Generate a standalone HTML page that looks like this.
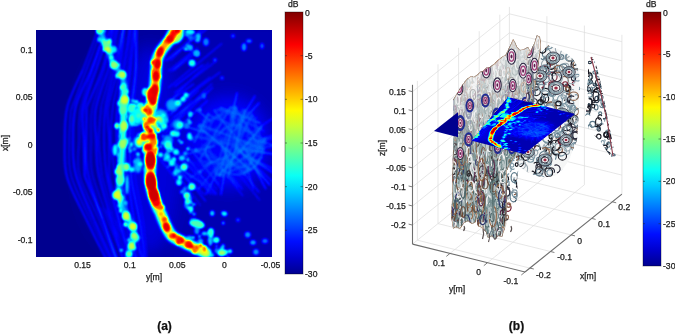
<!DOCTYPE html>
<html><head><meta charset="utf-8"><title>Figure</title>
<style>html,body{margin:0;padding:0;background:#fff;}body{width:675px;height:334px;overflow:hidden;}svg{display:block;}</style>
</head><body>
<svg width="675" height="334" viewBox="0 0 675 334">
<defs>
<filter id="jet" x="0" y="0" width="1" height="1" color-interpolation-filters="sRGB"><feComponentTransfer><feFuncR type="table" tableValues="0.000 0.000 0.000 0.000 0.000 0.000 0.000 0.000 0.000 0.000 0.000 0.000 0.000 0.000 0.000 0.000 0.000 0.000 0.000 0.000 0.000 0.000 0.000 0.000 0.062 0.125 0.188 0.250 0.312 0.375 0.438 0.500 0.562 0.625 0.688 0.750 0.812 0.875 0.938 1.000 1.000 1.000 1.000 1.000 1.000 1.000 1.000 1.000 1.000 1.000 1.000 1.000 1.000 1.000 1.000 1.000 0.938 0.875 0.812 0.750 0.688 0.625 0.562 0.500"/><feFuncG type="table" tableValues="0.000 0.000 0.000 0.000 0.000 0.000 0.000 0.000 0.062 0.125 0.188 0.250 0.312 0.375 0.438 0.500 0.562 0.625 0.688 0.750 0.812 0.875 0.938 1.000 1.000 1.000 1.000 1.000 1.000 1.000 1.000 1.000 1.000 1.000 1.000 1.000 1.000 1.000 1.000 1.000 0.938 0.875 0.812 0.750 0.688 0.625 0.562 0.500 0.438 0.375 0.312 0.250 0.188 0.125 0.062 0.000 0.000 0.000 0.000 0.000 0.000 0.000 0.000 0.000"/><feFuncB type="table" tableValues="0.562 0.625 0.688 0.750 0.812 0.875 0.938 1.000 1.000 1.000 1.000 1.000 1.000 1.000 1.000 1.000 1.000 1.000 1.000 1.000 1.000 1.000 1.000 1.000 0.938 0.875 0.812 0.750 0.688 0.625 0.562 0.500 0.438 0.375 0.312 0.250 0.188 0.125 0.062 0.000 0.000 0.000 0.000 0.000 0.000 0.000 0.000 0.000 0.000 0.000 0.000 0.000 0.000 0.000 0.000 0.000 0.000 0.000 0.000 0.000 0.000 0.000 0.000 0.000"/></feComponentTransfer></filter>
<filter id="b06" x="-50%" y="-50%" width="200%" height="200%" color-interpolation-filters="sRGB"><feGaussianBlur stdDeviation="0.6"/></filter>
<filter id="b07" x="-50%" y="-50%" width="200%" height="200%" color-interpolation-filters="sRGB"><feGaussianBlur stdDeviation="0.75"/></filter>
<filter id="b10" x="-50%" y="-50%" width="200%" height="200%" color-interpolation-filters="sRGB"><feGaussianBlur stdDeviation="1.0"/></filter>
<filter id="b12" x="-50%" y="-50%" width="200%" height="200%" color-interpolation-filters="sRGB"><feGaussianBlur stdDeviation="1.2"/></filter>
<filter id="b15" x="-50%" y="-50%" width="200%" height="200%" color-interpolation-filters="sRGB"><feGaussianBlur stdDeviation="1.5"/></filter>
<filter id="b3" x="-50%" y="-50%" width="200%" height="200%" color-interpolation-filters="sRGB"><feGaussianBlur stdDeviation="1.8"/></filter>
<filter id="b8" x="-50%" y="-50%" width="200%" height="200%" color-interpolation-filters="sRGB"><feGaussianBlur stdDeviation="8"/></filter>
<linearGradient id="cb" x1="0" y1="0" x2="0" y2="1"><stop offset="0.0000" stop-color="#800000"/>
<stop offset="0.0625" stop-color="#be0000"/>
<stop offset="0.1250" stop-color="#fd0000"/>
<stop offset="0.1875" stop-color="#ff3d00"/>
<stop offset="0.2500" stop-color="#ff7c00"/>
<stop offset="0.3125" stop-color="#ffba00"/>
<stop offset="0.3750" stop-color="#fff900"/>
<stop offset="0.4375" stop-color="#c6ff39"/>
<stop offset="0.5000" stop-color="#87ff78"/>
<stop offset="0.5625" stop-color="#49ffb6"/>
<stop offset="0.6250" stop-color="#0afff5"/>
<stop offset="0.6875" stop-color="#00caff"/>
<stop offset="0.7500" stop-color="#008bff"/>
<stop offset="0.8125" stop-color="#004dff"/>
<stop offset="0.8750" stop-color="#000eff"/>
<stop offset="0.9375" stop-color="#0000ce"/>
<stop offset="1.0000" stop-color="#00008f"/></linearGradient>
<clipPath id="hclip"><rect x="36" y="30" width="236" height="227"/></clipPath>
</defs>
<rect width="675" height="334" fill="#fff"/>
<g clip-path="url(#hclip)"><g filter="url(#jet)">
<g id="heat">
<rect x="20" y="14" width="270" height="260" fill="rgb(0,0,0)"/>
<g style="mix-blend-mode:lighten" filter="url(#b8)">
<path style="mix-blend-mode:lighten" d="M274.0 146.0 L273.6 123.8 L272.3 108.4 L270.2 94.9 L267.3 82.9 L263.5 72.1 L259.0 62.3 L253.6 53.5 L247.4 45.7 L240.4 39.0 L232.7 33.2 L224.1 28.5 L214.5 24.8 L203.9 22.1 L191.6 20.5 L174.0 20.0 L156.4 20.5 L144.1 22.1 L133.5 24.8 L123.9 28.5 L115.3 33.2 L107.6 39.0 L100.6 45.7 L94.4 53.5 L89.0 62.3 L84.5 72.1 L80.7 82.9 L77.8 94.9 L75.7 108.4 L74.4 123.8 L74.0 146.0 L74.4 168.2 L75.7 183.6 L77.8 197.1 L80.7 209.1 L84.5 219.9 L89.0 229.7 L94.4 238.5 L100.6 246.3 L107.6 253.0 L115.3 258.8 L123.9 263.5 L133.5 267.2 L144.1 269.9 L156.4 271.5 L174.0 272.0 L191.6 271.5 L203.9 269.9 L214.5 267.2 L224.1 263.5 L232.7 258.8 L240.4 253.0 L247.4 246.3 L253.6 238.5 L259.0 229.7 L263.5 219.9 L267.3 209.1 L270.2 197.1 L272.3 183.6 L273.6 168.2 L274.0 146.0 Z" fill="rgb(4,4,4)"/>
<rect x="170" y="20" width="120" height="250" fill="rgb(9,9,9)"/>
<ellipse style="mix-blend-mode:lighten" cx="150" cy="150" rx="30" ry="105" fill="rgb(19,19,19)"/>
<ellipse style="mix-blend-mode:lighten" cx="228" cy="142" rx="42" ry="46" fill="rgb(28,28,28)"/>
</g>
<g style="mix-blend-mode:lighten" fill="none" filter="url(#b10)">
<path style="mix-blend-mode:lighten" d="M99.5 26.0 C96.8 33.3 85.6 62.4 82.8 69.7" stroke="rgb(44,44,44)" stroke-width="1.25"/>
<path style="mix-blend-mode:lighten" d="M82.8 69.7 C80.3 75.7 70.6 94.1 67.6 105.8 C64.6 117.6 64.9 128.0 64.8 140.0 C64.8 152.0 63.5 164.1 67.2 177.5 C70.9 191.0 80.2 206.6 86.9 220.7 C93.7 234.8 104.1 255.1 107.5 262.0" stroke="rgb(55,55,55)" stroke-width="1.25"/>
<path style="mix-blend-mode:lighten" d="M103.0 26.0 C100.3 33.2 91.8 55.4 86.5 69.5 C81.1 83.6 73.4 103.9 70.8 110.7" stroke="rgb(41,41,41)" stroke-width="1.25"/>
<path style="mix-blend-mode:lighten" d="M70.8 110.7 C70.6 115.6 69.2 129.0 69.3 140.0 C69.4 151.0 67.7 162.9 71.4 176.5 C75.0 190.1 88.1 213.9 91.5 221.4" stroke="rgb(39,39,39)" stroke-width="1.25"/>
<path style="mix-blend-mode:lighten" d="M91.5 221.4 C94.7 228.1 107.4 255.2 110.5 262.0" stroke="rgb(35,35,35)" stroke-width="1.25"/>
<path style="mix-blend-mode:lighten" d="M106.5 26.0 C104.0 33.2 96.5 55.7 91.4 69.1 C86.3 82.5 78.9 94.5 75.8 106.3 C72.8 118.1 73.0 128.6 73.0 140.0 C73.0 151.4 72.3 161.6 75.9 175.0 C79.5 188.4 91.3 212.9 94.4 220.4" stroke="rgb(56,56,56)" stroke-width="1.25"/>
<path style="mix-blend-mode:lighten" d="M94.4 220.4 C97.5 227.4 109.9 255.1 113.0 262.0" stroke="rgb(55,55,55)" stroke-width="1.25"/>
<path style="mix-blend-mode:lighten" d="M108.5 26.0 C105.9 33.2 95.5 61.9 92.9 69.1" stroke="rgb(36,36,36)" stroke-width="1.25"/>
<path style="mix-blend-mode:lighten" d="M92.9 69.1 C90.9 75.7 83.1 96.8 80.9 108.6 C78.6 120.4 79.4 128.9 79.2 140.0 C78.9 151.1 76.0 162.0 79.4 175.4 C82.7 188.8 93.2 206.0 99.3 220.4 C105.4 234.9 113.2 255.1 116.0 262.0" stroke="rgb(36,36,36)" stroke-width="1.25"/>
<path style="mix-blend-mode:lighten" d="M111.7 26.0 C109.1 33.2 101.0 55.2 96.3 69.1 C91.6 83.0 85.4 97.5 83.3 109.3 C81.2 121.1 83.8 134.9 83.9 140.0" stroke="rgb(55,55,55)" stroke-width="1.25"/>
<path style="mix-blend-mode:lighten" d="M83.9 140.0 C84.0 146.0 84.6 170.0 84.7 176.0" stroke="rgb(59,59,59)" stroke-width="1.25"/>
<path style="mix-blend-mode:lighten" d="M84.7 176.0 C87.7 183.2 99.4 212.1 102.3 219.3" stroke="rgb(56,56,56)" stroke-width="1.25"/>
<path style="mix-blend-mode:lighten" d="M102.3 219.3 C104.7 226.4 114.3 254.9 116.7 262.0" stroke="rgb(49,49,49)" stroke-width="1.25"/>
<path style="mix-blend-mode:lighten" d="M113.3 26.0 C111.5 33.3 106.7 56.0 102.3 69.5 C97.8 83.1 89.2 101.0 86.5 107.3" stroke="rgb(49,49,49)" stroke-width="1.25"/>
<path style="mix-blend-mode:lighten" d="M86.5 107.3 C86.5 112.7 86.4 134.5 86.3 140.0" stroke="rgb(52,52,52)" stroke-width="1.25"/>
<path style="mix-blend-mode:lighten" d="M86.3 140.0 C86.6 145.5 85.1 159.8 88.0 173.3 C90.9 186.8 101.1 213.1 103.7 221.1" stroke="rgb(50,50,50)" stroke-width="1.25"/>
<path style="mix-blend-mode:lighten" d="M103.7 221.1 C106.1 227.9 115.8 255.2 118.2 262.0" stroke="rgb(54,54,54)" stroke-width="1.25"/>
<path style="mix-blend-mode:lighten" d="M114.6 26.0 C112.8 33.4 108.0 56.8 104.2 70.7 C100.5 84.5 94.3 97.7 92.1 109.3 C89.9 120.9 91.3 134.9 91.1 140.0" stroke="rgb(34,34,34)" stroke-width="1.25"/>
<path style="mix-blend-mode:lighten" d="M91.1 140.0 C91.3 145.6 89.1 160.3 92.1 173.7 C95.1 187.2 106.2 212.9 109.0 220.7" stroke="rgb(36,36,36)" stroke-width="1.25"/>
<path style="mix-blend-mode:lighten" d="M109.0 220.7 C111.4 227.6 121.0 255.1 123.4 262.0" stroke="rgb(35,35,35)" stroke-width="1.25"/>
<path style="mix-blend-mode:lighten" d="M116.9 26.0 C115.5 33.4 109.6 62.8 108.2 70.1" stroke="rgb(50,50,50)" stroke-width="1.25"/>
<path style="mix-blend-mode:lighten" d="M108.2 70.1 C106.1 76.7 97.6 98.0 95.6 109.7 C93.6 121.3 95.6 129.4 96.1 140.0 C96.6 150.6 95.8 159.7 98.4 173.2 C101.0 186.7 107.6 206.4 111.9 221.2 C116.1 236.0 121.9 255.2 123.9 262.0" stroke="rgb(51,51,51)" stroke-width="1.25"/>
<path style="mix-blend-mode:lighten" d="M119.0 26.0 C117.8 33.3 112.7 62.3 111.5 69.6" stroke="rgb(35,35,35)" stroke-width="1.25"/>
<path style="mix-blend-mode:lighten" d="M111.5 69.6 C109.8 75.6 103.1 99.4 101.4 105.4" stroke="rgb(39,39,39)" stroke-width="1.25"/>
<path style="mix-blend-mode:lighten" d="M101.4 105.4 C101.0 111.2 98.8 128.3 98.8 140.0 C98.9 151.7 101.5 169.9 102.0 175.9" stroke="rgb(42,42,42)" stroke-width="1.25"/>
<path style="mix-blend-mode:lighten" d="M102.0 175.9 C104.1 183.4 110.8 207.0 114.9 221.3 C119.0 235.7 124.6 255.2 126.5 262.0" stroke="rgb(38,38,38)" stroke-width="1.25"/>
<path style="mix-blend-mode:lighten" d="M123.0 26.0 C121.6 33.3 115.9 62.4 114.5 69.7" stroke="rgb(57,57,57)" stroke-width="1.25"/>
<path style="mix-blend-mode:lighten" d="M114.5 69.7 C113.0 75.8 107.4 94.7 105.6 106.4 C103.9 118.1 103.9 128.4 104.1 140.0 C104.3 151.6 104.6 163.1 106.8 176.2 C109.1 189.4 113.9 204.5 117.7 218.8 C121.5 233.1 127.9 254.8 129.9 262.0" stroke="rgb(50,50,50)" stroke-width="1.25"/>
<path style="mix-blend-mode:lighten" d="M123.8 26.0 C122.8 33.4 119.1 62.8 118.1 70.2" stroke="rgb(56,56,56)" stroke-width="1.25"/>
<path style="mix-blend-mode:lighten" d="M118.1 70.2 C116.5 76.4 109.7 95.8 108.2 107.5 C106.6 119.1 108.8 128.4 109.0 140.0 C109.1 151.6 109.2 171.0 109.2 177.2" stroke="rgb(45,45,45)" stroke-width="1.25"/>
<path style="mix-blend-mode:lighten" d="M109.2 177.2 C111.1 184.6 118.4 214.0 120.2 221.4" stroke="rgb(44,44,44)" stroke-width="1.25"/>
<path style="mix-blend-mode:lighten" d="M120.2 221.4 C122.3 228.1 130.7 255.2 132.8 262.0" stroke="rgb(47,47,47)" stroke-width="1.25"/>
<path style="mix-blend-mode:lighten" d="M125.0 26.0 C124.3 33.4 122.7 56.8 120.7 70.1 C118.7 83.4 114.7 94.2 113.0 105.8 C111.4 117.5 110.4 128.4 110.8 140.0 C111.1 151.6 114.4 169.7 115.1 175.6" stroke="rgb(41,41,41)" stroke-width="1.25"/>
<path style="mix-blend-mode:lighten" d="M115.1 175.6 C116.7 183.0 123.3 212.6 124.9 219.9" stroke="rgb(33,33,33)" stroke-width="1.25"/>
<path style="mix-blend-mode:lighten" d="M124.9 219.9 C126.6 226.9 133.5 255.0 135.3 262.0" stroke="rgb(38,38,38)" stroke-width="1.25"/>
<path style="mix-blend-mode:lighten" d="M129.9 26.0 C128.9 33.3 125.9 55.6 123.8 69.7 C121.7 83.8 118.3 98.9 117.2 110.7 C116.0 122.4 116.6 129.6 117.0 140.0 C117.3 150.4 117.4 159.9 119.4 173.2 C121.4 186.5 126.1 205.1 129.0 219.9 C131.9 234.6 135.6 255.0 136.9 262.0" stroke="rgb(55,55,55)" stroke-width="1.25"/>
<path style="mix-blend-mode:lighten" d="M131.9 26.0 C131.2 33.2 129.2 54.9 127.5 68.9 C125.9 82.9 122.8 103.3 121.9 110.2" stroke="rgb(37,37,37)" stroke-width="1.25"/>
<path style="mix-blend-mode:lighten" d="M121.9 110.2 C121.8 115.2 121.7 135.0 121.7 140.0" stroke="rgb(37,37,37)" stroke-width="1.25"/>
<path style="mix-blend-mode:lighten" d="M121.7 140.0 C121.7 145.9 119.9 162.0 121.5 175.3 C123.0 188.5 127.6 205.1 130.9 219.5 C134.1 234.0 139.4 254.9 141.1 262.0" stroke="rgb(37,37,37)" stroke-width="1.25"/>
<path style="mix-blend-mode:lighten" d="M134.6 26.0 C133.8 33.5 131.7 56.8 130.0 70.8 C128.4 84.7 125.6 98.2 124.6 109.7 C123.6 121.3 123.6 129.0 124.1 140.0 C124.6 151.0 126.0 162.5 127.6 175.6 C129.3 188.7 131.2 204.4 133.8 218.8 C136.4 233.2 141.6 254.8 143.2 262.0" stroke="rgb(54,54,54)" stroke-width="1.25"/>
<path style="mix-blend-mode:lighten" d="M135.1 26.0 C135.1 33.4 136.2 56.9 135.4 70.1 C134.7 83.4 131.6 99.8 130.8 105.7" stroke="rgb(54,54,54)" stroke-width="1.25"/>
<path style="mix-blend-mode:lighten" d="M130.8 105.7 C130.6 111.4 129.5 127.9 129.6 140.0 C129.7 152.1 129.7 164.7 131.3 178.1 C133.0 191.5 137.3 206.2 139.6 220.2 C141.8 234.1 144.2 255.0 145.1 262.0" stroke="rgb(56,56,56)" stroke-width="1.25"/>
<path style="mix-blend-mode:lighten" d="M137.2 26.0 C137.1 33.4 136.6 63.0 136.5 70.3" stroke="rgb(41,41,41)" stroke-width="1.25"/>
<path style="mix-blend-mode:lighten" d="M136.5 70.3 C135.9 77.1 133.7 99.2 133.1 110.8 C132.6 122.4 133.1 135.1 133.1 140.0" stroke="rgb(40,40,40)" stroke-width="1.25"/>
<path style="mix-blend-mode:lighten" d="M133.1 140.0 C133.5 146.3 133.7 164.7 135.3 177.9 C136.9 191.1 140.9 204.9 142.9 218.9 C144.8 232.9 146.5 254.8 147.2 262.0" stroke="rgb(36,36,36)" stroke-width="1.25"/>
<line style="mix-blend-mode:lighten" x1="96.0" y1="205.0" x2="118.0" y2="258.0" stroke="rgb(28,28,28)" stroke-width="1"/>
<line style="mix-blend-mode:lighten" x1="101.0" y1="207.0" x2="123.0" y2="258.0" stroke="rgb(28,28,28)" stroke-width="1"/>
<line style="mix-blend-mode:lighten" x1="106.0" y1="209.0" x2="128.0" y2="258.0" stroke="rgb(28,28,28)" stroke-width="1"/>
<line style="mix-blend-mode:lighten" x1="111.0" y1="211.0" x2="133.0" y2="258.0" stroke="rgb(28,28,28)" stroke-width="1"/>
<line style="mix-blend-mode:lighten" x1="116.0" y1="213.0" x2="138.0" y2="258.0" stroke="rgb(28,28,28)" stroke-width="1"/>
<line style="mix-blend-mode:lighten" x1="121.0" y1="215.0" x2="143.0" y2="258.0" stroke="rgb(28,28,28)" stroke-width="1"/>
</g>
<g style="mix-blend-mode:lighten" fill="none" filter="url(#b12)">
<line style="mix-blend-mode:lighten" x1="234.5" y1="106.3" x2="264.0" y2="153.9" stroke="rgb(55,55,55)" stroke-width="1.5"/>
<line style="mix-blend-mode:lighten" x1="194.5" y1="136.2" x2="264.5" y2="152.4" stroke="rgb(48,48,48)" stroke-width="1.5"/>
<line style="mix-blend-mode:lighten" x1="194.5" y1="136.0" x2="265.3" y2="149.0" stroke="rgb(39,39,39)" stroke-width="1.5"/>
<line style="mix-blend-mode:lighten" x1="252.6" y1="113.9" x2="262.0" y2="158.5" stroke="rgb(41,41,41)" stroke-width="1.5"/>
<line style="mix-blend-mode:lighten" x1="202.6" y1="118.7" x2="216.3" y2="175.3" stroke="rgb(41,41,41)" stroke-width="1.5"/>
<line style="mix-blend-mode:lighten" x1="197.9" y1="125.7" x2="251.4" y2="170.9" stroke="rgb(62,62,62)" stroke-width="1.5"/>
<line style="mix-blend-mode:lighten" x1="245.0" y1="109.3" x2="228.0" y2="177.9" stroke="rgb(63,63,63)" stroke-width="1.5"/>
<line style="mix-blend-mode:lighten" x1="199.4" y1="161.0" x2="253.8" y2="169.0" stroke="rgb(46,46,46)" stroke-width="1.5"/>
<line style="mix-blend-mode:lighten" x1="217.4" y1="108.3" x2="264.3" y2="131.2" stroke="rgb(46,46,46)" stroke-width="1.5"/>
<line style="mix-blend-mode:lighten" x1="266.0" y1="143.2" x2="216.6" y2="175.4" stroke="rgb(53,53,53)" stroke-width="1.5"/>
<line style="mix-blend-mode:lighten" x1="252.3" y1="113.7" x2="222.7" y2="177.2" stroke="rgb(52,52,52)" stroke-width="1.5"/>
<line style="mix-blend-mode:lighten" x1="214.1" y1="109.7" x2="257.1" y2="118.3" stroke="rgb(44,44,44)" stroke-width="1.5"/>
<line style="mix-blend-mode:lighten" x1="253.1" y1="114.4" x2="214.8" y2="174.6" stroke="rgb(46,46,46)" stroke-width="1.5"/>
<line style="mix-blend-mode:lighten" x1="242.5" y1="108.2" x2="223.4" y2="177.4" stroke="rgb(46,46,46)" stroke-width="1.5"/>
<line style="mix-blend-mode:lighten" x1="249.1" y1="111.5" x2="195.4" y2="151.9" stroke="rgb(44,44,44)" stroke-width="1.5"/>
<line style="mix-blend-mode:lighten" x1="236.7" y1="106.6" x2="220.1" y2="176.6" stroke="rgb(61,61,61)" stroke-width="1.5"/>
<line style="mix-blend-mode:lighten" x1="262.3" y1="126.1" x2="218.4" y2="176.1" stroke="rgb(63,63,63)" stroke-width="1.5"/>
<line style="mix-blend-mode:lighten" x1="198.7" y1="124.1" x2="265.1" y2="150.0" stroke="rgb(58,58,58)" stroke-width="1.5"/>
<line style="mix-blend-mode:lighten" x1="198.4" y1="124.8" x2="262.3" y2="157.9" stroke="rgb(39,39,39)" stroke-width="1.5"/>
<line style="mix-blend-mode:lighten" x1="231.2" y1="106.0" x2="199.2" y2="160.7" stroke="rgb(53,53,53)" stroke-width="1.5"/>
<line style="mix-blend-mode:lighten" x1="266.0" y1="140.2" x2="203.2" y2="166.1" stroke="rgb(56,56,56)" stroke-width="1.5"/>
<line style="mix-blend-mode:lighten" x1="235.5" y1="106.4" x2="214.6" y2="174.6" stroke="rgb(50,50,50)" stroke-width="1.5"/>
<line style="mix-blend-mode:lighten" x1="235.0" y1="106.4" x2="197.2" y2="127.1" stroke="rgb(50,50,50)" stroke-width="1.5"/>
<line style="mix-blend-mode:lighten" x1="265.6" y1="136.9" x2="243.9" y2="175.2" stroke="rgb(56,56,56)" stroke-width="1.5"/>
<line style="mix-blend-mode:lighten" x1="208.8" y1="112.9" x2="194.0" y2="142.6" stroke="rgb(59,59,59)" stroke-width="1.5"/>
<line style="mix-blend-mode:lighten" x1="213.7" y1="109.9" x2="257.8" y2="164.8" stroke="rgb(55,55,55)" stroke-width="1.5"/>
<line style="mix-blend-mode:lighten" x1="194.4" y1="137.0" x2="266.0" y2="142.1" stroke="rgb(43,43,43)" stroke-width="1.5"/>
<line style="mix-blend-mode:lighten" x1="219.9" y1="107.5" x2="260.7" y2="123.2" stroke="rgb(58,58,58)" stroke-width="1.5"/>
<line style="mix-blend-mode:lighten" x1="207.0" y1="114.3" x2="265.9" y2="139.7" stroke="rgb(48,48,48)" stroke-width="1.5"/>
<line style="mix-blend-mode:lighten" x1="262.4" y1="157.7" x2="219.0" y2="176.3" stroke="rgb(50,50,50)" stroke-width="1.5"/>
<path style="mix-blend-mode:lighten" d="M254.3 122.6 A21.0 21.0 0 0 1 246.1 156.4" stroke="rgb(49,49,49)" stroke-width="1.3"/>
<path style="mix-blend-mode:lighten" d="M234.4 122.8 A17.2 17.2 0 0 1 224.3 151.2" stroke="rgb(44,44,44)" stroke-width="1.3"/>
<path style="mix-blend-mode:lighten" d="M209.7 131.5 A14.7 14.7 0 0 1 223.7 115.4" stroke="rgb(49,49,49)" stroke-width="1.3"/>
<path style="mix-blend-mode:lighten" d="M218.7 135.3 A17.4 17.4 0 0 1 249.0 132.7" stroke="rgb(54,54,54)" stroke-width="1.3"/>
<path style="mix-blend-mode:lighten" d="M258.9 158.8 A23.5 23.5 0 0 1 219.4 166.9" stroke="rgb(59,59,59)" stroke-width="1.3"/>
<path style="mix-blend-mode:lighten" d="M218.9 142.1 A17.8 17.8 0 0 1 216.2 126.0" stroke="rgb(40,40,40)" stroke-width="1.3"/>
<path style="mix-blend-mode:lighten" d="M226.7 142.1 A14.2 14.2 0 0 1 209.9 140.6" stroke="rgb(42,42,42)" stroke-width="1.3"/>
<path style="mix-blend-mode:lighten" d="M231.1 153.8 A12.0 12.0 0 0 1 227.0 145.0" stroke="rgb(42,42,42)" stroke-width="1.3"/>
<path style="mix-blend-mode:lighten" d="M212.3 162.7 A15.0 15.0 0 0 1 206.8 145.2" stroke="rgb(64,64,64)" stroke-width="1.3"/>
<path style="mix-blend-mode:lighten" d="M201.2 140.2 A19.3 19.3 0 0 1 207.3 124.1" stroke="rgb(45,45,45)" stroke-width="1.3"/>
<path style="mix-blend-mode:lighten" d="M254.9 165.2 A26.6 26.6 0 0 1 233.6 168.3" stroke="rgb(42,42,42)" stroke-width="1.3"/>
<path style="mix-blend-mode:lighten" d="M262.0 154.2 A20.9 20.9 0 0 1 238.6 171.4" stroke="rgb(56,56,56)" stroke-width="1.3"/>
<path style="mix-blend-mode:lighten" d="M226.3 154.1 A15.2 15.2 0 0 1 221.6 139.8" stroke="rgb(58,58,58)" stroke-width="1.3"/>
<path style="mix-blend-mode:lighten" d="M244.4 166.8 A16.6 16.6 0 0 1 225.4 147.2" stroke="rgb(59,59,59)" stroke-width="1.3"/>
<path style="mix-blend-mode:lighten" d="M228.7 112.2 A26.4 26.4 0 0 1 253.3 125.5" stroke="rgb(39,39,39)" stroke-width="1.3"/>
<path style="mix-blend-mode:lighten" d="M232.7 163.3 A10.6 10.6 0 0 1 224.3 155.3" stroke="rgb(50,50,50)" stroke-width="1.3"/>
<path style="mix-blend-mode:lighten" d="M255.4 133.1 A28.7 28.7 0 0 1 213.2 160.6" stroke="rgb(44,44,44)" stroke-width="1.3"/>
<path style="mix-blend-mode:lighten" d="M243.5 163.5 A13.9 13.9 0 0 1 225.9 152.7" stroke="rgb(50,50,50)" stroke-width="1.3"/>
<line style="mix-blend-mode:lighten" x1="246.2" y1="145.2" x2="293.1" y2="128.0" stroke="rgb(49,49,49)" stroke-width="1.3"/>
<line style="mix-blend-mode:lighten" x1="245.8" y1="136.3" x2="281.6" y2="112.5" stroke="rgb(46,46,46)" stroke-width="1.3"/>
<line style="mix-blend-mode:lighten" x1="238.0" y1="144.4" x2="282.4" y2="137.2" stroke="rgb(48,48,48)" stroke-width="1.3"/>
<line style="mix-blend-mode:lighten" x1="239.0" y1="149.2" x2="286.5" y2="155.9" stroke="rgb(63,63,63)" stroke-width="1.3"/>
<line style="mix-blend-mode:lighten" x1="247.6" y1="137.7" x2="293.8" y2="150.6" stroke="rgb(60,60,60)" stroke-width="1.3"/>
<line style="mix-blend-mode:lighten" x1="237.0" y1="151.4" x2="280.3" y2="172.2" stroke="rgb(55,55,55)" stroke-width="1.3"/>
<line style="mix-blend-mode:lighten" x1="235.5" y1="149.0" x2="279.5" y2="176.8" stroke="rgb(61,61,61)" stroke-width="1.3"/>
<line style="mix-blend-mode:lighten" x1="236.8" y1="146.7" x2="270.1" y2="185.2" stroke="rgb(63,63,63)" stroke-width="1.3"/>
<line style="mix-blend-mode:lighten" x1="244.5" y1="148.6" x2="266.0" y2="189.3" stroke="rgb(60,60,60)" stroke-width="1.3"/>
<line style="mix-blend-mode:lighten" x1="241.4" y1="149.6" x2="253.6" y2="189.8" stroke="rgb(51,51,51)" stroke-width="1.3"/>
<line style="mix-blend-mode:lighten" x1="214.9" y1="145.6" x2="188.2" y2="154.0" stroke="rgb(63,63,63)" stroke-width="1.3"/>
<line style="mix-blend-mode:lighten" x1="219.5" y1="158.0" x2="188.9" y2="178.8" stroke="rgb(48,48,48)" stroke-width="1.3"/>
<line style="mix-blend-mode:lighten" x1="227.1" y1="154.7" x2="197.7" y2="190.2" stroke="rgb(51,51,51)" stroke-width="1.3"/>
<line style="mix-blend-mode:lighten" x1="226.6" y1="153.2" x2="206.1" y2="194.4" stroke="rgb(56,56,56)" stroke-width="1.3"/>
<line style="mix-blend-mode:lighten" x1="227.5" y1="155.8" x2="220.8" y2="195.2" stroke="rgb(57,57,57)" stroke-width="1.3"/>
<line style="mix-blend-mode:lighten" x1="208.0" y1="133.3" x2="184.2" y2="125.8" stroke="rgb(62,62,62)" stroke-width="1.3"/>
<line style="mix-blend-mode:lighten" x1="210.9" y1="121.4" x2="195.5" y2="108.7" stroke="rgb(59,59,59)" stroke-width="1.3"/>
<line style="mix-blend-mode:lighten" x1="237.2" y1="125.5" x2="255.2" y2="95.5" stroke="rgb(56,56,56)" stroke-width="1.3"/>
<line style="mix-blend-mode:lighten" x1="230.7" y1="119.7" x2="237.3" y2="92.4" stroke="rgb(63,63,63)" stroke-width="1.3"/>
<line style="mix-blend-mode:lighten" x1="231.8" y1="132.7" x2="259.5" y2="102.5" stroke="rgb(57,57,57)" stroke-width="1.3"/>
<line style="mix-blend-mode:lighten" x1="243.7" y1="148.6" x2="283.6" y2="145.5" stroke="rgb(55,55,55)" stroke-width="1.3"/>
<line style="mix-blend-mode:lighten" x1="232.5" y1="144.8" x2="276.6" y2="185.4" stroke="rgb(46,46,46)" stroke-width="1.3"/>
<line style="mix-blend-mode:lighten" x1="171.3" y1="106.9" x2="210.2" y2="76.9" stroke="rgb(38,38,38)" stroke-width="1.2"/>
<line style="mix-blend-mode:lighten" x1="172.7" y1="97.5" x2="208.9" y2="62.6" stroke="rgb(38,38,38)" stroke-width="1.2"/>
<line style="mix-blend-mode:lighten" x1="167.5" y1="103.1" x2="194.0" y2="83.8" stroke="rgb(49,49,49)" stroke-width="1.2"/>
<line style="mix-blend-mode:lighten" x1="165.8" y1="61.3" x2="220.6" y2="17.9" stroke="rgb(48,48,48)" stroke-width="1.2"/>
<line style="mix-blend-mode:lighten" x1="170.4" y1="60.6" x2="201.0" y2="30.2" stroke="rgb(43,43,43)" stroke-width="1.2"/>
<line style="mix-blend-mode:lighten" x1="174.4" y1="86.4" x2="203.3" y2="64.5" stroke="rgb(50,50,50)" stroke-width="1.2"/>
<line style="mix-blend-mode:lighten" x1="174.1" y1="92.9" x2="215.6" y2="61.4" stroke="rgb(40,40,40)" stroke-width="1.2"/>
<line style="mix-blend-mode:lighten" x1="165.2" y1="60.9" x2="214.1" y2="18.6" stroke="rgb(38,38,38)" stroke-width="1.2"/>
<line style="mix-blend-mode:lighten" x1="165.5" y1="132.6" x2="213.0" y2="87.1" stroke="rgb(49,49,49)" stroke-width="1.2"/>
<line style="mix-blend-mode:lighten" x1="170.0" y1="114.2" x2="195.2" y2="90.1" stroke="rgb(43,43,43)" stroke-width="1.2"/>
<line style="mix-blend-mode:lighten" x1="165.4" y1="129.1" x2="212.3" y2="83.4" stroke="rgb(42,42,42)" stroke-width="1.2"/>
<line style="mix-blend-mode:lighten" x1="168.4" y1="87.7" x2="222.2" y2="43.2" stroke="rgb(41,41,41)" stroke-width="1.2"/>
<line style="mix-blend-mode:lighten" x1="164.1" y1="113.3" x2="220.3" y2="72.1" stroke="rgb(43,43,43)" stroke-width="1.2"/>
<line style="mix-blend-mode:lighten" x1="169.6" y1="115.6" x2="199.0" y2="90.1" stroke="rgb(46,46,46)" stroke-width="1.2"/>
<line style="mix-blend-mode:lighten" x1="170.5" y1="71.9" x2="198.0" y2="47.5" stroke="rgb(40,40,40)" stroke-width="1.2"/>
<line style="mix-blend-mode:lighten" x1="167.2" y1="104.0" x2="196.9" y2="74.0" stroke="rgb(35,35,35)" stroke-width="1.2"/>
<line style="mix-blend-mode:lighten" x1="172.8" y1="117.8" x2="208.9" y2="91.0" stroke="rgb(47,47,47)" stroke-width="1.2"/>
<line style="mix-blend-mode:lighten" x1="173.8" y1="131.8" x2="207.8" y2="100.4" stroke="rgb(53,53,53)" stroke-width="1.2"/>
<line style="mix-blend-mode:lighten" x1="170.1" y1="126.0" x2="204.8" y2="90.5" stroke="rgb(41,41,41)" stroke-width="1.2"/>
<line style="mix-blend-mode:lighten" x1="173.5" y1="70.5" x2="199.2" y2="50.1" stroke="rgb(50,50,50)" stroke-width="1.2"/>
<line style="mix-blend-mode:lighten" x1="168.8" y1="122.4" x2="192.0" y2="100.3" stroke="rgb(38,38,38)" stroke-width="1.2"/>
<line style="mix-blend-mode:lighten" x1="168.0" y1="71.1" x2="193.5" y2="50.6" stroke="rgb(40,40,40)" stroke-width="1.2"/>
<line style="mix-blend-mode:lighten" x1="192.0" y1="149.6" x2="233.3" y2="163.9" stroke="rgb(48,48,48)" stroke-width="1.1"/>
<line style="mix-blend-mode:lighten" x1="180.0" y1="169.3" x2="201.4" y2="183.7" stroke="rgb(45,45,45)" stroke-width="1.1"/>
<line style="mix-blend-mode:lighten" x1="187.0" y1="159.9" x2="220.5" y2="171.9" stroke="rgb(38,38,38)" stroke-width="1.1"/>
<line style="mix-blend-mode:lighten" x1="171.3" y1="161.8" x2="208.2" y2="186.3" stroke="rgb(48,48,48)" stroke-width="1.1"/>
<line style="mix-blend-mode:lighten" x1="176.6" y1="172.5" x2="200.7" y2="205.8" stroke="rgb(37,37,37)" stroke-width="1.1"/>
<line style="mix-blend-mode:lighten" x1="180.1" y1="159.6" x2="217.3" y2="189.5" stroke="rgb(35,35,35)" stroke-width="1.1"/>
<line style="mix-blend-mode:lighten" x1="175.3" y1="171.9" x2="192.1" y2="195.0" stroke="rgb(35,35,35)" stroke-width="1.1"/>
<line style="mix-blend-mode:lighten" x1="174.6" y1="151.8" x2="205.8" y2="172.4" stroke="rgb(36,36,36)" stroke-width="1.1"/>
<line style="mix-blend-mode:lighten" x1="175.3" y1="169.9" x2="205.0" y2="194.8" stroke="rgb(47,47,47)" stroke-width="1.1"/>
<line style="mix-blend-mode:lighten" x1="187.4" y1="148.1" x2="210.4" y2="158.4" stroke="rgb(45,45,45)" stroke-width="1.1"/>
<line style="mix-blend-mode:lighten" x1="179.2" y1="166.1" x2="200.2" y2="189.3" stroke="rgb(34,34,34)" stroke-width="1.1"/>
<line style="mix-blend-mode:lighten" x1="173.2" y1="161.2" x2="209.9" y2="191.4" stroke="rgb(42,42,42)" stroke-width="1.1"/>
</g>
<g style="mix-blend-mode:lighten" filter="url(#b12)">
<ellipse style="mix-blend-mode:lighten" cx="206.0" cy="42.0" rx="3.0" ry="4.0" fill="rgb(61,61,61)"/>
<ellipse style="mix-blend-mode:lighten" cx="197.0" cy="54.0" rx="3.0" ry="3.0" fill="rgb(66,66,66)"/>
<ellipse style="mix-blend-mode:lighten" cx="244.0" cy="47.0" rx="2.5" ry="4.0" fill="rgb(64,64,64)"/>
<ellipse style="mix-blend-mode:lighten" cx="249.0" cy="41.0" rx="3.0" ry="2.0" fill="rgb(59,59,59)"/>
<ellipse style="mix-blend-mode:lighten" cx="262.0" cy="46.0" rx="2.0" ry="3.0" fill="rgb(51,51,51)"/>
<ellipse style="mix-blend-mode:lighten" cx="233.0" cy="36.0" rx="2.0" ry="2.0" fill="rgb(51,51,51)"/>
<ellipse style="mix-blend-mode:lighten" cx="247.7" cy="234.7" rx="3.0" ry="3.0" fill="rgb(66,66,66)"/>
<ellipse style="mix-blend-mode:lighten" cx="253.0" cy="242.5" rx="3.0" ry="2.5" fill="rgb(71,71,71)"/>
<ellipse style="mix-blend-mode:lighten" cx="265.0" cy="241.0" rx="3.0" ry="2.5" fill="rgb(59,59,59)"/>
<ellipse style="mix-blend-mode:lighten" cx="256.0" cy="252.0" rx="3.0" ry="3.0" fill="rgb(66,66,66)"/>
<ellipse style="mix-blend-mode:lighten" cx="238.0" cy="220.0" rx="2.0" ry="2.0" fill="rgb(51,51,51)"/>
<ellipse style="mix-blend-mode:lighten" cx="215.0" cy="60.0" rx="2.0" ry="2.0" fill="rgb(51,51,51)"/>
<ellipse style="mix-blend-mode:lighten" cx="222.0" cy="78.0" rx="2.0" ry="2.0" fill="rgb(46,46,46)"/>
<ellipse style="mix-blend-mode:lighten" cx="204.0" cy="96.0" rx="2.0" ry="3.0" fill="rgb(56,56,56)"/>
<ellipse style="mix-blend-mode:lighten" cx="200.0" cy="110.0" rx="2.0" ry="2.0" fill="rgb(61,61,61)"/>
<ellipse style="mix-blend-mode:lighten" cx="196.0" cy="150.0" rx="2.0" ry="2.0" fill="rgb(61,61,61)"/>
<ellipse style="mix-blend-mode:lighten" cx="200.0" cy="172.0" rx="2.0" ry="2.0" fill="rgb(56,56,56)"/>
</g>
<g style="mix-blend-mode:lighten" filter="url(#b15)">
<ellipse style="mix-blend-mode:lighten" cx="137.0" cy="116.0" rx="8.0" ry="9.0" fill="rgb(92,92,92)"/>
<ellipse style="mix-blend-mode:lighten" cx="160.0" cy="118.0" rx="8.0" ry="9.0" fill="rgb(76,76,76)"/>
<ellipse style="mix-blend-mode:lighten" cx="139.0" cy="142.0" rx="5.0" ry="6.0" fill="rgb(102,102,102)"/>
<ellipse style="mix-blend-mode:lighten" cx="172.0" cy="105.0" rx="6.0" ry="6.0" fill="rgb(71,71,71)"/>
<ellipse style="mix-blend-mode:lighten" cx="178.0" cy="125.0" rx="5.0" ry="5.0" fill="rgb(76,76,76)"/>
<ellipse style="mix-blend-mode:lighten" cx="168.0" cy="140.0" rx="5.0" ry="5.0" fill="rgb(71,71,71)"/>
<ellipse style="mix-blend-mode:lighten" cx="138.0" cy="165.0" rx="4.0" ry="8.0" fill="rgb(76,76,76)"/>
</g>
<g style="mix-blend-mode:lighten" filter="url(#b12)">
<ellipse style="mix-blend-mode:lighten" cx="140.5" cy="105.5" rx="3.7" ry="2.9" fill="rgb(109,109,109)"/>
<ellipse style="mix-blend-mode:lighten" cx="133.9" cy="106.2" rx="2.2" ry="1.6" fill="rgb(126,126,126)"/>
<ellipse style="mix-blend-mode:lighten" cx="131.3" cy="105.4" rx="1.9" ry="1.5" fill="rgb(98,98,98)"/>
<ellipse style="mix-blend-mode:lighten" cx="135.9" cy="117.8" rx="1.7" ry="2.0" fill="rgb(88,88,88)"/>
<ellipse style="mix-blend-mode:lighten" cx="132.0" cy="123.1" rx="2.8" ry="3.1" fill="rgb(94,94,94)"/>
<ellipse style="mix-blend-mode:lighten" cx="136.8" cy="111.8" rx="2.3" ry="1.5" fill="rgb(97,97,97)"/>
<ellipse style="mix-blend-mode:lighten" cx="139.6" cy="109.7" rx="1.7" ry="1.1" fill="rgb(103,103,103)"/>
<ellipse style="mix-blend-mode:lighten" cx="132.8" cy="101.0" rx="1.3" ry="1.4" fill="rgb(110,110,110)"/>
<ellipse style="mix-blend-mode:lighten" cx="143.1" cy="110.2" rx="2.4" ry="2.5" fill="rgb(121,121,121)"/>
<ellipse style="mix-blend-mode:lighten" cx="135.6" cy="124.4" rx="2.8" ry="1.8" fill="rgb(76,76,76)"/>
<ellipse style="mix-blend-mode:lighten" cx="130.6" cy="109.7" rx="3.6" ry="3.5" fill="rgb(78,78,78)"/>
<ellipse style="mix-blend-mode:lighten" cx="142.7" cy="121.7" rx="3.2" ry="2.1" fill="rgb(81,81,81)"/>
<ellipse style="mix-blend-mode:lighten" cx="144.3" cy="120.7" rx="2.7" ry="3.5" fill="rgb(79,79,79)"/>
<ellipse style="mix-blend-mode:lighten" cx="147.2" cy="124.8" rx="1.5" ry="2.1" fill="rgb(110,110,110)"/>
<ellipse style="mix-blend-mode:lighten" cx="136.3" cy="101.6" rx="2.3" ry="1.4" fill="rgb(124,124,124)"/>
<ellipse style="mix-blend-mode:lighten" cx="134.5" cy="105.7" rx="2.1" ry="2.1" fill="rgb(89,89,89)"/>
<ellipse style="mix-blend-mode:lighten" cx="131.7" cy="118.3" rx="2.0" ry="3.1" fill="rgb(119,119,119)"/>
<ellipse style="mix-blend-mode:lighten" cx="138.3" cy="115.9" rx="2.3" ry="2.3" fill="rgb(108,108,108)"/>
<ellipse style="mix-blend-mode:lighten" cx="139.9" cy="115.0" rx="2.5" ry="1.7" fill="rgb(109,109,109)"/>
<ellipse style="mix-blend-mode:lighten" cx="146.1" cy="111.2" rx="1.3" ry="1.2" fill="rgb(80,80,80)"/>
<ellipse style="mix-blend-mode:lighten" cx="132.2" cy="109.6" rx="2.0" ry="2.3" fill="rgb(109,109,109)"/>
<ellipse style="mix-blend-mode:lighten" cx="142.4" cy="110.2" rx="2.6" ry="1.9" fill="rgb(102,102,102)"/>
<ellipse style="mix-blend-mode:lighten" cx="163.0" cy="142.8" rx="1.7" ry="1.6" fill="rgb(80,80,80)"/>
<ellipse style="mix-blend-mode:lighten" cx="179.0" cy="140.3" rx="1.3" ry="1.4" fill="rgb(88,88,88)"/>
<ellipse style="mix-blend-mode:lighten" cx="187.9" cy="148.8" rx="1.6" ry="1.5" fill="rgb(106,106,106)"/>
<ellipse style="mix-blend-mode:lighten" cx="181.5" cy="142.5" rx="2.0" ry="1.7" fill="rgb(89,89,89)"/>
<ellipse style="mix-blend-mode:lighten" cx="162.9" cy="143.1" rx="2.6" ry="2.0" fill="rgb(62,62,62)"/>
<ellipse style="mix-blend-mode:lighten" cx="169.3" cy="146.4" rx="2.4" ry="2.0" fill="rgb(80,80,80)"/>
<ellipse style="mix-blend-mode:lighten" cx="188.9" cy="120.4" rx="1.7" ry="1.7" fill="rgb(83,83,83)"/>
<ellipse style="mix-blend-mode:lighten" cx="177.0" cy="134.0" rx="3.0" ry="2.9" fill="rgb(95,95,95)"/>
<ellipse style="mix-blend-mode:lighten" cx="174.0" cy="159.4" rx="2.2" ry="2.4" fill="rgb(98,98,98)"/>
<ellipse style="mix-blend-mode:lighten" cx="171.3" cy="149.2" rx="2.8" ry="2.4" fill="rgb(89,89,89)"/>
<ellipse style="mix-blend-mode:lighten" cx="191.1" cy="138.4" rx="2.4" ry="2.4" fill="rgb(67,67,67)"/>
<ellipse style="mix-blend-mode:lighten" cx="160.5" cy="154.9" rx="2.6" ry="2.4" fill="rgb(98,98,98)"/>
<ellipse style="mix-blend-mode:lighten" cx="190.0" cy="122.7" rx="2.2" ry="1.7" fill="rgb(81,81,81)"/>
<ellipse style="mix-blend-mode:lighten" cx="162.9" cy="136.0" rx="1.2" ry="1.5" fill="rgb(65,65,65)"/>
<ellipse style="mix-blend-mode:lighten" cx="162.0" cy="119.5" rx="1.7" ry="2.2" fill="rgb(81,81,81)"/>
<ellipse style="mix-blend-mode:lighten" cx="166.3" cy="121.4" rx="2.0" ry="1.4" fill="rgb(85,85,85)"/>
<ellipse style="mix-blend-mode:lighten" cx="185.4" cy="153.5" rx="2.5" ry="2.2" fill="rgb(70,70,70)"/>
<ellipse style="mix-blend-mode:lighten" cx="161.2" cy="120.5" rx="2.4" ry="3.2" fill="rgb(115,115,115)"/>
<ellipse style="mix-blend-mode:lighten" cx="189.3" cy="135.5" rx="1.1" ry="1.0" fill="rgb(96,96,96)"/>
<ellipse style="mix-blend-mode:lighten" cx="181.9" cy="158.1" rx="3.2" ry="2.7" fill="rgb(85,85,85)"/>
<ellipse style="mix-blend-mode:lighten" cx="186.5" cy="125.7" rx="3.0" ry="3.2" fill="rgb(60,60,60)"/>
<ellipse style="mix-blend-mode:lighten" cx="164.4" cy="159.5" rx="1.4" ry="1.5" fill="rgb(86,86,86)"/>
<ellipse style="mix-blend-mode:lighten" cx="187.9" cy="159.8" rx="1.4" ry="2.3" fill="rgb(84,84,84)"/>
<ellipse style="mix-blend-mode:lighten" cx="166.5" cy="118.9" rx="1.3" ry="1.1" fill="rgb(90,90,90)"/>
<ellipse style="mix-blend-mode:lighten" cx="189.4" cy="136.2" rx="2.2" ry="3.4" fill="rgb(102,102,102)"/>
<ellipse style="mix-blend-mode:lighten" cx="190.6" cy="113.5" rx="2.2" ry="2.2" fill="rgb(85,85,85)"/>
<ellipse style="mix-blend-mode:lighten" cx="167.3" cy="157.1" rx="3.1" ry="3.5" fill="rgb(90,90,90)"/>
<ellipse style="mix-blend-mode:lighten" cx="160.7" cy="146.7" rx="1.6" ry="1.5" fill="rgb(69,69,69)"/>
<ellipse style="mix-blend-mode:lighten" cx="163.2" cy="115.4" rx="2.0" ry="1.3" fill="rgb(110,110,110)"/>
<ellipse style="mix-blend-mode:lighten" cx="162.6" cy="128.9" rx="1.9" ry="2.6" fill="rgb(71,71,71)"/>
<ellipse style="mix-blend-mode:lighten" cx="145.6" cy="148.3" rx="2.4" ry="1.8" fill="rgb(61,61,61)"/>
<ellipse style="mix-blend-mode:lighten" cx="138.8" cy="134.9" rx="2.1" ry="2.1" fill="rgb(63,63,63)"/>
<ellipse style="mix-blend-mode:lighten" cx="129.5" cy="138.9" rx="1.6" ry="1.9" fill="rgb(62,62,62)"/>
<ellipse style="mix-blend-mode:lighten" cx="130.3" cy="150.9" rx="1.4" ry="1.6" fill="rgb(99,99,99)"/>
<ellipse style="mix-blend-mode:lighten" cx="135.5" cy="161.4" rx="2.3" ry="1.7" fill="rgb(78,78,78)"/>
<ellipse style="mix-blend-mode:lighten" cx="138.4" cy="167.8" rx="2.0" ry="1.7" fill="rgb(73,73,73)"/>
<ellipse style="mix-blend-mode:lighten" cx="131.9" cy="169.5" rx="2.9" ry="2.4" fill="rgb(98,98,98)"/>
<ellipse style="mix-blend-mode:lighten" cx="133.3" cy="149.3" rx="1.3" ry="1.2" fill="rgb(62,62,62)"/>
<ellipse style="mix-blend-mode:lighten" cx="144.5" cy="133.9" rx="2.5" ry="1.7" fill="rgb(85,85,85)"/>
<ellipse style="mix-blend-mode:lighten" cx="145.9" cy="169.5" rx="2.2" ry="2.2" fill="rgb(73,73,73)"/>
<ellipse style="mix-blend-mode:lighten" cx="137.9" cy="153.9" rx="2.0" ry="1.7" fill="rgb(100,100,100)"/>
<ellipse style="mix-blend-mode:lighten" cx="129.2" cy="147.8" rx="1.4" ry="1.5" fill="rgb(88,88,88)"/>
<ellipse style="mix-blend-mode:lighten" cx="138.2" cy="154.9" rx="1.4" ry="1.6" fill="rgb(94,94,94)"/>
<ellipse style="mix-blend-mode:lighten" cx="134.8" cy="149.1" rx="1.7" ry="1.8" fill="rgb(75,75,75)"/>
<ellipse style="mix-blend-mode:lighten" cx="140.3" cy="164.0" rx="2.4" ry="1.7" fill="rgb(110,110,110)"/>
<ellipse style="mix-blend-mode:lighten" cx="131.3" cy="144.5" rx="1.6" ry="2.4" fill="rgb(107,107,107)"/>
<ellipse style="mix-blend-mode:lighten" cx="230.1" cy="251.2" rx="2.1" ry="2.3" fill="rgb(98,98,98)"/>
<ellipse style="mix-blend-mode:lighten" cx="222.9" cy="212.8" rx="1.9" ry="1.2" fill="rgb(95,95,95)"/>
<ellipse style="mix-blend-mode:lighten" cx="200.5" cy="241.0" rx="2.9" ry="2.6" fill="rgb(75,75,75)"/>
<ellipse style="mix-blend-mode:lighten" cx="214.2" cy="240.3" rx="1.9" ry="2.0" fill="rgb(71,71,71)"/>
<ellipse style="mix-blend-mode:lighten" cx="193.4" cy="237.6" rx="1.5" ry="1.6" fill="rgb(105,105,105)"/>
<ellipse style="mix-blend-mode:lighten" cx="196.9" cy="230.7" rx="2.6" ry="3.7" fill="rgb(68,68,68)"/>
<ellipse style="mix-blend-mode:lighten" cx="224.5" cy="213.8" rx="2.8" ry="2.5" fill="rgb(93,93,93)"/>
<ellipse style="mix-blend-mode:lighten" cx="227.9" cy="256.8" rx="1.5" ry="1.1" fill="rgb(78,78,78)"/>
<ellipse style="mix-blend-mode:lighten" cx="191.8" cy="219.2" rx="1.7" ry="1.8" fill="rgb(57,57,57)"/>
<ellipse style="mix-blend-mode:lighten" cx="223.2" cy="223.0" rx="1.4" ry="1.5" fill="rgb(93,93,93)"/>
<ellipse style="mix-blend-mode:lighten" cx="210.7" cy="236.1" rx="2.2" ry="3.0" fill="rgb(97,97,97)"/>
<ellipse style="mix-blend-mode:lighten" cx="225.3" cy="252.1" rx="2.7" ry="2.7" fill="rgb(99,99,99)"/>
<ellipse style="mix-blend-mode:lighten" cx="212.2" cy="213.3" rx="2.3" ry="2.8" fill="rgb(83,83,83)"/>
<ellipse style="mix-blend-mode:lighten" cx="189.4" cy="238.0" rx="2.7" ry="2.4" fill="rgb(74,74,74)"/>
<ellipse style="mix-blend-mode:lighten" cx="211.6" cy="255.2" rx="2.8" ry="1.7" fill="rgb(97,97,97)"/>
<ellipse style="mix-blend-mode:lighten" cx="194.9" cy="219.3" rx="1.4" ry="1.3" fill="rgb(68,68,68)"/>
<ellipse style="mix-blend-mode:lighten" cx="197.6" cy="40.5" rx="2.8" ry="1.9" fill="rgb(76,76,76)"/>
<ellipse style="mix-blend-mode:lighten" cx="186.7" cy="34.9" rx="1.8" ry="1.2" fill="rgb(73,73,73)"/>
<ellipse style="mix-blend-mode:lighten" cx="187.0" cy="35.1" rx="1.5" ry="1.6" fill="rgb(80,80,80)"/>
<ellipse style="mix-blend-mode:lighten" cx="198.4" cy="36.8" rx="2.6" ry="3.2" fill="rgb(78,78,78)"/>
<ellipse style="mix-blend-mode:lighten" cx="190.5" cy="37.5" rx="3.1" ry="2.6" fill="rgb(55,55,55)"/>
<ellipse style="mix-blend-mode:lighten" cx="196.5" cy="53.0" rx="3.0" ry="3.0" fill="rgb(75,75,75)"/>
<ellipse style="mix-blend-mode:lighten" cx="187.8" cy="46.0" rx="2.0" ry="1.9" fill="rgb(78,78,78)"/>
<ellipse style="mix-blend-mode:lighten" cx="190.3" cy="47.7" rx="2.9" ry="3.1" fill="rgb(74,74,74)"/>
</g>
<g style="mix-blend-mode:lighten" fill="none" filter="url(#b12)">
<line style="mix-blend-mode:lighten" x1="158.4" y1="157.2" x2="180.7" y2="185.3" stroke="rgb(44,44,44)" stroke-width="1.3"/>
<line style="mix-blend-mode:lighten" x1="166.4" y1="154.0" x2="192.5" y2="186.8" stroke="rgb(39,39,39)" stroke-width="1.3"/>
<line style="mix-blend-mode:lighten" x1="170.9" y1="157.5" x2="205.9" y2="201.5" stroke="rgb(41,41,41)" stroke-width="1.3"/>
<line style="mix-blend-mode:lighten" x1="174.6" y1="148.5" x2="211.0" y2="194.3" stroke="rgb(40,40,40)" stroke-width="1.3"/>
<line style="mix-blend-mode:lighten" x1="180.1" y1="152.1" x2="214.4" y2="195.2" stroke="rgb(34,34,34)" stroke-width="1.3"/>
<line style="mix-blend-mode:lighten" x1="183.9" y1="153.3" x2="216.7" y2="194.5" stroke="rgb(46,46,46)" stroke-width="1.3"/>
<line style="mix-blend-mode:lighten" x1="188.2" y1="145.7" x2="219.3" y2="184.8" stroke="rgb(45,45,45)" stroke-width="1.3"/>
<line style="mix-blend-mode:lighten" x1="193.8" y1="154.2" x2="222.6" y2="190.4" stroke="rgb(38,38,38)" stroke-width="1.3"/>
<line style="mix-blend-mode:lighten" x1="201.3" y1="143.7" x2="243.1" y2="196.2" stroke="rgb(38,38,38)" stroke-width="1.3"/>
<line style="mix-blend-mode:lighten" x1="204.4" y1="145.2" x2="234.7" y2="183.3" stroke="rgb(46,46,46)" stroke-width="1.3"/>
<line style="mix-blend-mode:lighten" x1="208.9" y1="150.9" x2="238.4" y2="188.0" stroke="rgb(38,38,38)" stroke-width="1.3"/>
<line style="mix-blend-mode:lighten" x1="213.5" y1="153.2" x2="242.4" y2="189.5" stroke="rgb(40,40,40)" stroke-width="1.3"/>
<line style="mix-blend-mode:lighten" x1="220.4" y1="143.7" x2="259.3" y2="192.6" stroke="rgb(47,47,47)" stroke-width="1.3"/>
<line style="mix-blend-mode:lighten" x1="224.0" y1="155.1" x2="259.9" y2="200.3" stroke="rgb(38,38,38)" stroke-width="1.3"/>
</g>
<g style="mix-blend-mode:lighten" filter="url(#b12)">
<ellipse style="mix-blend-mode:lighten" cx="186.4" cy="205.4" rx="2.3" ry="3.2" fill="rgb(61,61,61)"/>
<ellipse style="mix-blend-mode:lighten" cx="199.5" cy="236.4" rx="1.3" ry="1.6" fill="rgb(94,94,94)"/>
<ellipse style="mix-blend-mode:lighten" cx="216.5" cy="246.0" rx="1.2" ry="1.3" fill="rgb(82,82,82)"/>
<ellipse style="mix-blend-mode:lighten" cx="191.1" cy="202.2" rx="1.1" ry="2.0" fill="rgb(92,92,92)"/>
<ellipse style="mix-blend-mode:lighten" cx="167.5" cy="159.3" rx="2.1" ry="2.3" fill="rgb(78,78,78)"/>
<ellipse style="mix-blend-mode:lighten" cx="184.9" cy="189.1" rx="2.5" ry="2.7" fill="rgb(61,61,61)"/>
<ellipse style="mix-blend-mode:lighten" cx="168.7" cy="150.8" rx="2.6" ry="2.2" fill="rgb(78,78,78)"/>
<ellipse style="mix-blend-mode:lighten" cx="190.5" cy="211.5" rx="1.7" ry="2.5" fill="rgb(70,70,70)"/>
<ellipse style="mix-blend-mode:lighten" cx="221.8" cy="249.8" rx="2.3" ry="3.6" fill="rgb(84,84,84)"/>
<ellipse style="mix-blend-mode:lighten" cx="188.1" cy="208.1" rx="1.4" ry="1.8" fill="rgb(98,98,98)"/>
<ellipse style="mix-blend-mode:lighten" cx="168.2" cy="166.7" rx="1.4" ry="1.3" fill="rgb(61,61,61)"/>
<ellipse style="mix-blend-mode:lighten" cx="223.1" cy="246.2" rx="1.5" ry="2.1" fill="rgb(87,87,87)"/>
<ellipse style="mix-blend-mode:lighten" cx="210.2" cy="244.8" rx="1.6" ry="1.2" fill="rgb(75,75,75)"/>
<ellipse style="mix-blend-mode:lighten" cx="175.6" cy="172.4" rx="2.1" ry="3.5" fill="rgb(84,84,84)"/>
<ellipse style="mix-blend-mode:lighten" cx="194.1" cy="214.1" rx="1.7" ry="1.9" fill="rgb(77,77,77)"/>
<ellipse style="mix-blend-mode:lighten" cx="176.1" cy="167.4" rx="1.4" ry="1.9" fill="rgb(71,71,71)"/>
<ellipse style="mix-blend-mode:lighten" cx="168.7" cy="148.9" rx="2.7" ry="2.8" fill="rgb(60,60,60)"/>
<ellipse style="mix-blend-mode:lighten" cx="197.6" cy="221.5" rx="2.3" ry="2.6" fill="rgb(63,63,63)"/>
<ellipse style="mix-blend-mode:lighten" cx="179.3" cy="179.6" rx="1.7" ry="1.2" fill="rgb(69,69,69)"/>
<ellipse style="mix-blend-mode:lighten" cx="171.8" cy="162.8" rx="3.0" ry="3.5" fill="rgb(98,98,98)"/>
<ellipse style="mix-blend-mode:lighten" cx="173.9" cy="173.1" rx="1.4" ry="1.8" fill="rgb(76,76,76)"/>
<ellipse style="mix-blend-mode:lighten" cx="209.3" cy="232.9" rx="1.7" ry="2.4" fill="rgb(71,71,71)"/>
<ellipse style="mix-blend-mode:lighten" cx="207.8" cy="233.7" rx="1.9" ry="2.3" fill="rgb(70,70,70)"/>
<ellipse style="mix-blend-mode:lighten" cx="188.8" cy="208.0" rx="1.9" ry="2.3" fill="rgb(78,78,78)"/>
<ellipse style="mix-blend-mode:lighten" cx="204.3" cy="233.5" rx="2.7" ry="2.1" fill="rgb(84,84,84)"/>
<ellipse style="mix-blend-mode:lighten" cx="216.7" cy="250.8" rx="2.4" ry="2.8" fill="rgb(63,63,63)"/>
<ellipse style="mix-blend-mode:lighten" cx="210.6" cy="241.7" rx="2.2" ry="3.1" fill="rgb(78,78,78)"/>
<ellipse style="mix-blend-mode:lighten" cx="191.1" cy="208.9" rx="2.3" ry="2.9" fill="rgb(106,106,106)"/>
<ellipse style="mix-blend-mode:lighten" cx="182.2" cy="191.9" rx="2.5" ry="2.0" fill="rgb(71,71,71)"/>
<ellipse style="mix-blend-mode:lighten" cx="200.6" cy="224.8" rx="1.2" ry="1.6" fill="rgb(67,67,67)"/>
<ellipse style="mix-blend-mode:lighten" cx="189.3" cy="208.1" rx="1.3" ry="1.4" fill="rgb(96,96,96)"/>
<ellipse style="mix-blend-mode:lighten" cx="199.8" cy="224.5" rx="1.7" ry="2.7" fill="rgb(107,107,107)"/>
<ellipse style="mix-blend-mode:lighten" cx="193.9" cy="204.2" rx="1.9" ry="1.5" fill="rgb(82,82,82)"/>
<ellipse style="mix-blend-mode:lighten" cx="222.6" cy="249.1" rx="1.5" ry="1.1" fill="rgb(96,96,96)"/>
<ellipse style="mix-blend-mode:lighten" cx="179.0" cy="182.6" rx="2.9" ry="3.0" fill="rgb(95,95,95)"/>
<ellipse style="mix-blend-mode:lighten" cx="178.4" cy="171.0" rx="2.7" ry="2.2" fill="rgb(81,81,81)"/>
<ellipse style="mix-blend-mode:lighten" cx="190.9" cy="197.9" rx="1.7" ry="2.0" fill="rgb(59,59,59)"/>
<ellipse style="mix-blend-mode:lighten" cx="166.5" cy="154.7" rx="1.8" ry="2.2" fill="rgb(79,79,79)"/>
<ellipse style="mix-blend-mode:lighten" cx="180.0" cy="177.3" rx="2.1" ry="2.1" fill="rgb(105,105,105)"/>
<ellipse style="mix-blend-mode:lighten" cx="209.9" cy="240.5" rx="2.2" ry="3.3" fill="rgb(81,81,81)"/>
</g>
<g style="mix-blend-mode:lighten" filter="url(#b15)" fill="none" stroke-linecap="round" stroke-linejoin="round">
<path style="mix-blend-mode:lighten" d="M99.0 29.0 C99.8 30.8 102.2 35.8 104.0 40.0 C105.8 44.2 108.3 49.8 110.0 54.0 C111.7 58.2 112.0 61.5 114.0 65.0 C116.0 68.5 120.3 71.5 122.0 75.0 C123.7 78.5 123.5 81.8 124.0 86.0 C124.5 90.2 125.0 95.2 125.0 100.0 C125.0 104.8 124.3 110.0 124.0 115.0 C123.7 120.0 123.3 125.0 123.0 130.0 C122.7 135.0 122.3 140.0 122.0 145.0 C121.7 150.0 121.2 155.0 121.0 160.0 C120.8 165.0 121.5 169.7 121.0 175.0 C120.5 180.3 117.8 187.0 118.0 192.0 C118.2 197.0 120.5 201.0 122.0 205.0 C123.5 209.0 125.2 212.3 127.0 216.0 C128.8 219.7 131.8 223.7 133.0 227.0 C134.2 230.3 134.3 232.8 134.0 236.0 C133.7 239.2 132.0 242.3 131.0 246.0 C130.0 249.7 128.5 256.0 128.0 258.0" stroke="rgb(76,76,76)" stroke-width="5"/>
<path style="mix-blend-mode:lighten" d="M124.0 88.0 C123.9 91.7 123.7 102.2 123.5 110.0 C123.3 117.8 123.3 126.7 123.0 135.0 C122.7 143.3 121.8 152.5 121.5 160.0 C121.2 167.5 121.1 176.7 121.0 180.0" stroke="rgb(107,107,107)" stroke-width="6"/>
</g>
<g style="mix-blend-mode:lighten" filter="url(#b12)">
<ellipse style="mix-blend-mode:lighten" cx="99.6" cy="31.0" rx="3.5" ry="3.0" fill="rgb(122,122,122)"/>
<ellipse style="mix-blend-mode:lighten" cx="107.0" cy="47.0" rx="3.5" ry="8.5" fill="rgb(115,115,115)" transform="rotate(-30 107.0 47.0)"/>
<ellipse style="mix-blend-mode:lighten" cx="108.0" cy="49.5" rx="2.2" ry="3.0" fill="rgb(148,148,148)" transform="rotate(-30 108.0 49.5)"/>
<ellipse style="mix-blend-mode:lighten" cx="114.0" cy="65.0" rx="4.0" ry="4.0" fill="rgb(128,128,128)"/>
<ellipse style="mix-blend-mode:lighten" cx="122.3" cy="74.7" rx="4.0" ry="4.0" fill="rgb(138,138,138)"/>
<ellipse style="mix-blend-mode:lighten" cx="123.5" cy="85.4" rx="2.5" ry="2.5" fill="rgb(107,107,107)"/>
<ellipse style="mix-blend-mode:lighten" cx="126.0" cy="91.4" rx="2.5" ry="2.5" fill="rgb(107,107,107)"/>
<ellipse style="mix-blend-mode:lighten" cx="124.7" cy="99.8" rx="4.5" ry="4.5" fill="rgb(148,148,148)"/>
<ellipse style="mix-blend-mode:lighten" cx="123.0" cy="110.0" rx="4.0" ry="5.0" fill="rgb(115,115,115)"/>
<ellipse style="mix-blend-mode:lighten" cx="124.0" cy="126.0" rx="4.0" ry="5.0" fill="rgb(140,140,140)"/>
<ellipse style="mix-blend-mode:lighten" cx="122.8" cy="144.0" rx="4.0" ry="5.0" fill="rgb(133,133,133)"/>
<ellipse style="mix-blend-mode:lighten" cx="126.4" cy="167.0" rx="3.5" ry="4.0" fill="rgb(128,128,128)"/>
<ellipse style="mix-blend-mode:lighten" cx="120.0" cy="180.0" rx="4.0" ry="6.0" fill="rgb(115,115,115)"/>
<ellipse style="mix-blend-mode:lighten" cx="117.0" cy="195.0" rx="4.5" ry="4.5" fill="rgb(148,148,148)"/>
<ellipse style="mix-blend-mode:lighten" cx="126.0" cy="216.0" rx="4.0" ry="4.5" fill="rgb(145,145,145)"/>
<ellipse style="mix-blend-mode:lighten" cx="133.0" cy="226.6" rx="4.0" ry="4.0" fill="rgb(148,148,148)"/>
<ellipse style="mix-blend-mode:lighten" cx="134.0" cy="235.8" rx="3.5" ry="3.5" fill="rgb(133,133,133)"/>
<ellipse style="mix-blend-mode:lighten" cx="131.6" cy="246.0" rx="3.5" ry="4.0" fill="rgb(140,140,140)"/>
<ellipse style="mix-blend-mode:lighten" cx="129.0" cy="254.0" rx="3.0" ry="3.0" fill="rgb(122,122,122)"/>
<ellipse style="mix-blend-mode:lighten" cx="127.0" cy="185.0" rx="1.5" ry="10.0" fill="rgb(92,92,92)"/>
<ellipse style="mix-blend-mode:lighten" cx="115.0" cy="150.0" rx="2.5" ry="6.0" fill="rgb(97,97,97)"/>
<ellipse style="mix-blend-mode:lighten" cx="131.0" cy="108.0" rx="3.0" ry="4.0" fill="rgb(107,107,107)"/>
<ellipse style="mix-blend-mode:lighten" cx="117.7" cy="192.9" rx="3.2" ry="2.3" fill="rgb(128,128,128)"/>
<ellipse style="mix-blend-mode:lighten" cx="126.3" cy="213.6" rx="1.9" ry="1.6" fill="rgb(105,105,105)"/>
<ellipse style="mix-blend-mode:lighten" cx="122.4" cy="179.7" rx="1.6" ry="1.5" fill="rgb(94,94,94)"/>
<ellipse style="mix-blend-mode:lighten" cx="127.8" cy="140.8" rx="1.2" ry="1.8" fill="rgb(88,88,88)"/>
<ellipse style="mix-blend-mode:lighten" cx="117.5" cy="126.3" rx="1.1" ry="1.8" fill="rgb(105,105,105)"/>
<ellipse style="mix-blend-mode:lighten" cx="119.9" cy="155.2" rx="2.2" ry="2.4" fill="rgb(86,86,86)"/>
<ellipse style="mix-blend-mode:lighten" cx="111.6" cy="60.6" rx="2.1" ry="1.6" fill="rgb(85,85,85)"/>
<ellipse style="mix-blend-mode:lighten" cx="121.5" cy="87.6" rx="1.7" ry="2.1" fill="rgb(125,125,125)"/>
<ellipse style="mix-blend-mode:lighten" cx="134.4" cy="248.1" rx="2.0" ry="1.8" fill="rgb(110,110,110)"/>
<ellipse style="mix-blend-mode:lighten" cx="125.1" cy="116.3" rx="2.8" ry="2.9" fill="rgb(85,85,85)"/>
<ellipse style="mix-blend-mode:lighten" cx="121.5" cy="165.0" rx="1.0" ry="1.5" fill="rgb(122,122,122)"/>
<ellipse style="mix-blend-mode:lighten" cx="126.7" cy="141.7" rx="2.4" ry="3.3" fill="rgb(90,90,90)"/>
<ellipse style="mix-blend-mode:lighten" cx="129.0" cy="219.5" rx="1.4" ry="2.1" fill="rgb(117,117,117)"/>
<ellipse style="mix-blend-mode:lighten" cx="107.3" cy="43.2" rx="2.1" ry="3.3" fill="rgb(94,94,94)"/>
<ellipse style="mix-blend-mode:lighten" cx="110.7" cy="50.6" rx="1.9" ry="1.7" fill="rgb(94,94,94)"/>
<ellipse style="mix-blend-mode:lighten" cx="99.9" cy="39.5" rx="2.8" ry="2.8" fill="rgb(87,87,87)"/>
<ellipse style="mix-blend-mode:lighten" cx="118.9" cy="167.6" rx="2.3" ry="2.9" fill="rgb(131,131,131)"/>
<ellipse style="mix-blend-mode:lighten" cx="124.9" cy="100.6" rx="2.9" ry="3.3" fill="rgb(111,111,111)"/>
<ellipse style="mix-blend-mode:lighten" cx="119.8" cy="205.5" rx="2.2" ry="2.6" fill="rgb(103,103,103)"/>
<ellipse style="mix-blend-mode:lighten" cx="103.5" cy="40.1" rx="1.4" ry="2.2" fill="rgb(92,92,92)"/>
<ellipse style="mix-blend-mode:lighten" cx="125.0" cy="203.0" rx="2.7" ry="2.3" fill="rgb(80,80,80)"/>
<ellipse style="mix-blend-mode:lighten" cx="133.0" cy="225.2" rx="2.1" ry="1.9" fill="rgb(102,102,102)"/>
<ellipse style="mix-blend-mode:lighten" cx="125.4" cy="224.4" rx="1.9" ry="2.4" fill="rgb(130,130,130)"/>
<ellipse style="mix-blend-mode:lighten" cx="120.0" cy="103.4" rx="2.8" ry="2.8" fill="rgb(100,100,100)"/>
<ellipse style="mix-blend-mode:lighten" cx="109.7" cy="46.5" rx="2.6" ry="2.3" fill="rgb(78,78,78)"/>
<ellipse style="mix-blend-mode:lighten" cx="123.9" cy="166.4" rx="1.4" ry="1.6" fill="rgb(105,105,105)"/>
<ellipse style="mix-blend-mode:lighten" cx="117.1" cy="180.4" rx="1.3" ry="1.4" fill="rgb(91,91,91)"/>
<ellipse style="mix-blend-mode:lighten" cx="130.0" cy="225.3" rx="3.0" ry="3.7" fill="rgb(77,77,77)"/>
<ellipse style="mix-blend-mode:lighten" cx="126.1" cy="104.3" rx="1.7" ry="1.9" fill="rgb(82,82,82)"/>
<ellipse style="mix-blend-mode:lighten" cx="131.4" cy="120.0" rx="2.4" ry="2.4" fill="rgb(114,114,114)"/>
<ellipse style="mix-blend-mode:lighten" cx="120.7" cy="172.4" rx="1.6" ry="2.9" fill="rgb(134,134,134)"/>
<ellipse style="mix-blend-mode:lighten" cx="133.2" cy="247.5" rx="1.1" ry="1.9" fill="rgb(107,107,107)"/>
<ellipse style="mix-blend-mode:lighten" cx="131.5" cy="223.0" rx="1.6" ry="1.4" fill="rgb(102,102,102)"/>
<ellipse style="mix-blend-mode:lighten" cx="121.8" cy="171.0" rx="1.0" ry="1.5" fill="rgb(78,78,78)"/>
<ellipse style="mix-blend-mode:lighten" cx="125.9" cy="105.6" rx="1.5" ry="1.7" fill="rgb(108,108,108)"/>
<ellipse style="mix-blend-mode:lighten" cx="121.9" cy="131.2" rx="2.6" ry="2.5" fill="rgb(109,109,109)"/>
<ellipse style="mix-blend-mode:lighten" cx="125.5" cy="140.4" rx="1.5" ry="2.5" fill="rgb(133,133,133)"/>
<ellipse style="mix-blend-mode:lighten" cx="121.0" cy="198.0" rx="3.3" ry="2.9" fill="rgb(103,103,103)"/>
<ellipse style="mix-blend-mode:lighten" cx="119.9" cy="200.2" rx="1.6" ry="3.2" fill="rgb(136,136,136)"/>
<ellipse style="mix-blend-mode:lighten" cx="119.0" cy="145.3" rx="2.0" ry="2.5" fill="rgb(83,83,83)"/>
<ellipse style="mix-blend-mode:lighten" cx="123.2" cy="106.6" rx="2.7" ry="1.9" fill="rgb(85,85,85)"/>
<ellipse style="mix-blend-mode:lighten" cx="117.6" cy="171.7" rx="2.8" ry="3.1" fill="rgb(131,131,131)"/>
<ellipse style="mix-blend-mode:lighten" cx="117.1" cy="75.7" rx="1.7" ry="2.7" fill="rgb(116,116,116)"/>
<ellipse style="mix-blend-mode:lighten" cx="129.0" cy="219.8" rx="1.3" ry="1.7" fill="rgb(91,91,91)"/>
<ellipse style="mix-blend-mode:lighten" cx="126.6" cy="101.9" rx="2.2" ry="3.9" fill="rgb(92,92,92)"/>
<ellipse style="mix-blend-mode:lighten" cx="134.9" cy="241.1" rx="1.6" ry="1.5" fill="rgb(122,122,122)"/>
<ellipse style="mix-blend-mode:lighten" cx="121.4" cy="169.5" rx="1.3" ry="2.0" fill="rgb(108,108,108)"/>
<ellipse style="mix-blend-mode:lighten" cx="118.7" cy="65.0" rx="1.3" ry="1.8" fill="rgb(120,120,120)"/>
<ellipse style="mix-blend-mode:lighten" cx="120.6" cy="210.6" rx="1.4" ry="2.5" fill="rgb(131,131,131)"/>
<ellipse style="mix-blend-mode:lighten" cx="123.0" cy="106.9" rx="2.3" ry="3.8" fill="rgb(106,106,106)"/>
<ellipse style="mix-blend-mode:lighten" cx="116.9" cy="125.8" rx="2.5" ry="2.9" fill="rgb(129,129,129)"/>
<ellipse style="mix-blend-mode:lighten" cx="118.8" cy="190.1" rx="1.9" ry="1.9" fill="rgb(89,89,89)"/>
<ellipse style="mix-blend-mode:lighten" cx="104.5" cy="49.3" rx="1.6" ry="2.4" fill="rgb(134,134,134)"/>
<ellipse style="mix-blend-mode:lighten" cx="120.2" cy="190.8" rx="2.3" ry="1.8" fill="rgb(77,77,77)"/>
<ellipse style="mix-blend-mode:lighten" cx="113.9" cy="49.5" rx="3.1" ry="3.6" fill="rgb(89,89,89)"/>
<ellipse style="mix-blend-mode:lighten" cx="109.4" cy="41.8" rx="2.1" ry="3.0" fill="rgb(134,134,134)"/>
<ellipse style="mix-blend-mode:lighten" cx="104.7" cy="43.4" rx="2.0" ry="2.9" fill="rgb(120,120,120)"/>
<ellipse style="mix-blend-mode:lighten" cx="136.7" cy="237.7" rx="2.8" ry="3.2" fill="rgb(108,108,108)"/>
<ellipse style="mix-blend-mode:lighten" cx="123.3" cy="150.2" rx="1.1" ry="1.4" fill="rgb(81,81,81)"/>
<ellipse style="mix-blend-mode:lighten" cx="118.7" cy="190.7" rx="1.7" ry="2.4" fill="rgb(131,131,131)"/>
<ellipse style="mix-blend-mode:lighten" cx="124.0" cy="129.2" rx="1.3" ry="1.0" fill="rgb(121,121,121)"/>
<ellipse style="mix-blend-mode:lighten" cx="111.1" cy="57.5" rx="1.8" ry="1.4" fill="rgb(124,124,124)"/>
<ellipse style="mix-blend-mode:lighten" cx="103.9" cy="30.6" rx="1.4" ry="2.2" fill="rgb(90,90,90)"/>
<ellipse style="mix-blend-mode:lighten" cx="120.3" cy="73.4" rx="1.8" ry="2.1" fill="rgb(110,110,110)"/>
<ellipse style="mix-blend-mode:lighten" cx="120.9" cy="160.6" rx="2.5" ry="2.1" fill="rgb(85,85,85)"/>
<ellipse style="mix-blend-mode:lighten" cx="120.5" cy="102.8" rx="2.4" ry="2.6" fill="rgb(111,111,111)"/>
<ellipse style="mix-blend-mode:lighten" cx="107.7" cy="45.4" rx="2.2" ry="1.7" fill="rgb(82,82,82)"/>
<ellipse style="mix-blend-mode:lighten" cx="121.4" cy="250.3" rx="1.5" ry="1.2" fill="rgb(115,115,115)"/>
<ellipse style="mix-blend-mode:lighten" cx="121.6" cy="136.0" rx="3.0" ry="3.6" fill="rgb(77,77,77)"/>
<ellipse style="mix-blend-mode:lighten" cx="129.1" cy="240.0" rx="2.1" ry="2.1" fill="rgb(90,90,90)"/>
</g>
<g style="mix-blend-mode:lighten" filter="url(#b12)">
<ellipse style="mix-blend-mode:lighten" cx="192.0" cy="63.0" rx="3.5" ry="3.5" fill="rgb(102,102,102)"/>
<ellipse style="mix-blend-mode:lighten" cx="190.0" cy="32.0" rx="5.0" ry="3.0" fill="rgb(92,92,92)"/>
<ellipse style="mix-blend-mode:lighten" cx="186.0" cy="49.0" rx="2.5" ry="2.0" fill="rgb(84,84,84)"/>
<ellipse style="mix-blend-mode:lighten" cx="178.0" cy="103.0" rx="3.0" ry="3.0" fill="rgb(107,107,107)"/>
<ellipse style="mix-blend-mode:lighten" cx="183.0" cy="99.0" rx="2.5" ry="2.5" fill="rgb(107,107,107)"/>
<ellipse style="mix-blend-mode:lighten" cx="186.0" cy="95.0" rx="2.5" ry="2.5" fill="rgb(102,102,102)"/>
<ellipse style="mix-blend-mode:lighten" cx="180.0" cy="125.0" rx="3.0" ry="3.0" fill="rgb(107,107,107)"/>
<ellipse style="mix-blend-mode:lighten" cx="164.0" cy="126.0" rx="3.0" ry="3.0" fill="rgb(107,107,107)"/>
<ellipse style="mix-blend-mode:lighten" cx="173.0" cy="133.5" rx="3.0" ry="3.0" fill="rgb(107,107,107)"/>
<ellipse style="mix-blend-mode:lighten" cx="184.0" cy="167.0" rx="3.5" ry="3.5" fill="rgb(117,117,117)"/>
<ellipse style="mix-blend-mode:lighten" cx="191.7" cy="186.8" rx="3.5" ry="3.5" fill="rgb(117,117,117)"/>
<ellipse style="mix-blend-mode:lighten" cx="186.8" cy="195.6" rx="3.5" ry="3.5" fill="rgb(117,117,117)"/>
<ellipse style="mix-blend-mode:lighten" cx="187.8" cy="201.4" rx="3.0" ry="3.0" fill="rgb(112,112,112)"/>
<ellipse style="mix-blend-mode:lighten" cx="197.0" cy="224.0" rx="8.0" ry="4.0" fill="rgb(112,112,112)" transform="rotate(15 197.0 224.0)"/>
<ellipse style="mix-blend-mode:lighten" cx="211.0" cy="232.0" rx="3.0" ry="4.0" fill="rgb(107,107,107)"/>
<ellipse style="mix-blend-mode:lighten" cx="216.5" cy="240.0" rx="3.0" ry="3.0" fill="rgb(107,107,107)"/>
<ellipse style="mix-blend-mode:lighten" cx="221.7" cy="253.0" rx="4.0" ry="3.0" fill="rgb(133,133,133)"/>
<ellipse style="mix-blend-mode:lighten" cx="140.0" cy="142.0" rx="3.0" ry="4.0" fill="rgb(133,133,133)"/>
<ellipse style="mix-blend-mode:lighten" cx="168.0" cy="145.0" rx="4.0" ry="4.0" fill="rgb(107,107,107)"/>
<ellipse style="mix-blend-mode:lighten" cx="176.0" cy="152.0" rx="3.0" ry="3.0" fill="rgb(97,97,97)"/>
<ellipse style="mix-blend-mode:lighten" cx="145.0" cy="92.0" rx="3.0" ry="4.0" fill="rgb(107,107,107)"/>
<ellipse style="mix-blend-mode:lighten" cx="190.0" cy="115.0" rx="2.0" ry="2.0" fill="rgb(92,92,92)"/>
</g>
<g style="mix-blend-mode:lighten" filter="url(#b15)" fill="none" stroke-linecap="round" stroke-linejoin="round">
<path style="mix-blend-mode:lighten" d="M179.0 28.0 C178.0 29.2 174.8 32.7 173.0 35.0 C171.2 37.3 170.0 39.3 168.0 42.0 C166.0 44.7 162.8 48.0 161.0 51.0 C159.2 54.0 157.8 56.5 157.0 60.0 C156.2 63.5 156.3 67.8 156.0 72.0 C155.7 76.2 155.5 80.8 155.0 85.0 C154.5 89.2 153.7 93.5 153.0 97.0 C152.3 100.5 151.3 104.5 151.0 106.0" stroke="rgb(82,82,82)" stroke-width="12"/>
<path style="mix-blend-mode:lighten" d="M150.0 152.0 C150.1 154.2 150.5 160.7 150.5 165.0 C150.5 169.3 149.8 173.8 150.0 178.0 C150.2 182.2 151.2 186.3 152.0 190.0 C152.8 193.7 153.8 196.7 155.0 200.0 C156.2 203.3 158.3 208.3 159.0 210.0" stroke="rgb(82,82,82)" stroke-width="12"/>
<path style="mix-blend-mode:lighten" d="M161.0 214.0 C161.8 216.0 164.2 222.3 166.0 226.0 C167.8 229.7 169.5 233.5 172.0 236.0 C174.5 238.5 178.2 239.5 181.0 241.0 C183.8 242.5 186.2 243.7 189.0 245.0 C191.8 246.3 195.2 247.7 198.0 249.0 C200.8 250.3 204.7 252.3 206.0 253.0" stroke="rgb(82,82,82)" stroke-width="12"/>
<path style="mix-blend-mode:lighten" d="M179.0 28.0 C178.0 29.2 174.8 32.7 173.0 35.0 C171.2 37.3 170.0 39.3 168.0 42.0 C166.0 44.7 162.8 48.0 161.0 51.0 C159.2 54.0 157.8 56.5 157.0 60.0 C156.2 63.5 156.3 67.8 156.0 72.0 C155.7 76.2 155.5 80.8 155.0 85.0 C154.5 89.2 153.7 93.5 153.0 97.0 C152.3 100.5 151.3 104.5 151.0 106.0" stroke="rgb(148,148,148)" stroke-width="8.5"/>
<path style="mix-blend-mode:lighten" d="M150.0 152.0 C150.1 154.2 150.5 160.7 150.5 165.0 C150.5 169.3 149.8 173.8 150.0 178.0 C150.2 182.2 151.2 186.3 152.0 190.0 C152.8 193.7 153.8 196.7 155.0 200.0 C156.2 203.3 158.3 208.3 159.0 210.0" stroke="rgb(148,148,148)" stroke-width="8.5"/>
<path style="mix-blend-mode:lighten" d="M161.0 214.0 C161.8 216.0 164.2 222.3 166.0 226.0 C167.8 229.7 169.5 233.5 172.0 236.0 C174.5 238.5 178.2 239.5 181.0 241.0 C183.8 242.5 186.2 243.7 189.0 245.0 C191.8 246.3 195.2 247.7 198.0 249.0 C200.8 250.3 204.7 252.3 206.0 253.0" stroke="rgb(148,148,148)" stroke-width="8.5"/>
<ellipse style="mix-blend-mode:lighten" cx="175" cy="35" rx="9" ry="8" fill="rgb(140,140,140)" transform="rotate(-40 175 35)"/>
<path style="mix-blend-mode:lighten" d="M151.0 106.0 C150.7 108.3 149.2 115.2 149.0 120.0 C148.8 124.8 149.8 129.7 150.0 135.0 C150.2 140.3 150.0 149.2 150.0 152.0" stroke="rgb(107,107,107)" stroke-width="11"/>
</g>
<g style="mix-blend-mode:lighten" filter="url(#b12)" fill="none" stroke-linecap="round" stroke-linejoin="round">
<path style="mix-blend-mode:lighten" d="M176.0 31.0 C174.7 32.7 170.5 37.7 168.0 41.0 C165.5 44.3 162.8 47.5 161.0 51.0 C159.2 54.5 158.3 58.0 157.5 62.0 C156.7 66.0 156.4 70.7 156.0 75.0 C155.6 79.3 155.5 83.7 155.0 88.0 C154.5 92.3 153.3 98.8 153.0 101.0" stroke="rgb(184,184,184)" stroke-width="5.5"/>
<path style="mix-blend-mode:lighten" d="M150.5 154.0 C150.5 156.0 150.5 164.0 150.5 166.0" stroke="rgb(224,224,224)" stroke-width="8"/>
<path style="mix-blend-mode:lighten" d="M150.5 176.0 C150.7 177.7 150.9 182.7 151.5 186.0 C152.1 189.3 153.2 193.2 154.0 196.0 C154.8 198.8 156.1 201.8 156.5 203.0" stroke="rgb(224,224,224)" stroke-width="9"/>
</g>
<g style="mix-blend-mode:lighten" filter="url(#b12)">
<ellipse style="mix-blend-mode:lighten" cx="177.0" cy="31.0" rx="3.8" ry="2.6" fill="rgb(230,230,230)" transform="rotate(-20 177.0 31.0)"/>
<ellipse style="mix-blend-mode:lighten" cx="172.0" cy="37.0" rx="3.8" ry="2.5" fill="rgb(204,204,204)" transform="rotate(-30 172.0 37.0)"/>
<ellipse style="mix-blend-mode:lighten" cx="169.0" cy="41.5" rx="2.5" ry="1.9" fill="rgb(204,204,204)" transform="rotate(-30 169.0 41.5)"/>
<ellipse style="mix-blend-mode:lighten" cx="160.0" cy="52.0" rx="3.4" ry="5.7" fill="rgb(230,230,230)" transform="rotate(20 160.0 52.0)"/>
<ellipse style="mix-blend-mode:lighten" cx="157.5" cy="64.0" rx="3.6" ry="5.3" fill="rgb(230,230,230)" transform="rotate(5 157.5 64.0)"/>
<ellipse style="mix-blend-mode:lighten" cx="156.0" cy="76.0" rx="3.8" ry="5.7" fill="rgb(230,230,230)"/>
<ellipse style="mix-blend-mode:lighten" cx="155.0" cy="90.0" rx="3.8" ry="6.2" fill="rgb(230,230,230)"/>
<ellipse style="mix-blend-mode:lighten" cx="153.0" cy="101.0" rx="3.6" ry="4.4" fill="rgb(230,230,230)"/>
<ellipse style="mix-blend-mode:lighten" cx="148.0" cy="114.0" rx="2.1" ry="2.2" fill="rgb(204,204,204)"/>
<ellipse style="mix-blend-mode:lighten" cx="144.4" cy="119.0" rx="2.1" ry="1.8" fill="rgb(204,204,204)"/>
<ellipse style="mix-blend-mode:lighten" cx="150.4" cy="131.0" rx="3.0" ry="3.1" fill="rgb(230,230,230)"/>
<ellipse style="mix-blend-mode:lighten" cx="139.0" cy="142.0" rx="1.7" ry="1.8" fill="rgb(178,178,178)"/>
<ellipse style="mix-blend-mode:lighten" cx="153.0" cy="146.0" rx="1.7" ry="1.9" fill="rgb(178,178,178)"/>
<ellipse style="mix-blend-mode:lighten" cx="150.5" cy="160.0" rx="5.2" ry="7.5" fill="rgb(237,237,237)"/>
<ellipse style="mix-blend-mode:lighten" cx="151.0" cy="182.0" rx="5.4" ry="8.0" fill="rgb(237,237,237)" transform="rotate(-5 151.0 182.0)"/>
<ellipse style="mix-blend-mode:lighten" cx="154.0" cy="195.0" rx="5.0" ry="7.0" fill="rgb(235,235,235)" transform="rotate(-12 154.0 195.0)"/>
<ellipse style="mix-blend-mode:lighten" cx="158.0" cy="205.0" rx="3.0" ry="3.5" fill="rgb(204,204,204)" transform="rotate(-15 158.0 205.0)"/>
<ellipse style="mix-blend-mode:lighten" cx="161.0" cy="214.0" rx="2.5" ry="2.6" fill="rgb(178,178,178)"/>
<ellipse style="mix-blend-mode:lighten" cx="166.5" cy="227.0" rx="3.8" ry="5.3" fill="rgb(230,230,230)" transform="rotate(-20 166.5 227.0)"/>
<ellipse style="mix-blend-mode:lighten" cx="171.0" cy="236.0" rx="2.5" ry="2.6" fill="rgb(204,204,204)"/>
<ellipse style="mix-blend-mode:lighten" cx="181.7" cy="240.8" rx="3.0" ry="2.6" fill="rgb(230,230,230)"/>
<ellipse style="mix-blend-mode:lighten" cx="188.7" cy="244.3" rx="2.5" ry="2.6" fill="rgb(204,204,204)"/>
<ellipse style="mix-blend-mode:lighten" cx="196.5" cy="247.7" rx="2.5" ry="2.6" fill="rgb(204,204,204)"/>
<ellipse style="mix-blend-mode:lighten" cx="152.0" cy="95.0" rx="5.5" ry="8.0" fill="rgb(224,224,224)"/>
<ellipse style="mix-blend-mode:lighten" cx="146.0" cy="110.0" rx="3.5" ry="3.0" fill="rgb(217,217,217)"/>
<ellipse style="mix-blend-mode:lighten" cx="151.0" cy="119.0" rx="3.0" ry="2.5" fill="rgb(209,209,209)"/>
<ellipse style="mix-blend-mode:lighten" cx="147.0" cy="127.0" rx="3.0" ry="3.0" fill="rgb(217,217,217)"/>
<ellipse style="mix-blend-mode:lighten" cx="152.0" cy="139.0" rx="3.0" ry="3.0" fill="rgb(204,204,204)"/>
</g>
<g style="mix-blend-mode:lighten" filter="url(#b12)">
<ellipse style="mix-blend-mode:lighten" cx="158.6" cy="118.6" rx="2.5" ry="2.5" fill="rgb(140,140,140)"/>
<ellipse style="mix-blend-mode:lighten" cx="155.2" cy="151.9" rx="2.2" ry="3.2" fill="rgb(191,191,191)"/>
<ellipse style="mix-blend-mode:lighten" cx="150.7" cy="147.7" rx="1.9" ry="2.6" fill="rgb(193,193,193)"/>
<ellipse style="mix-blend-mode:lighten" cx="146.7" cy="111.9" rx="1.5" ry="1.9" fill="rgb(171,171,171)"/>
<ellipse style="mix-blend-mode:lighten" cx="150.4" cy="113.1" rx="2.6" ry="2.1" fill="rgb(182,182,182)"/>
<ellipse style="mix-blend-mode:lighten" cx="146.3" cy="124.5" rx="1.7" ry="2.6" fill="rgb(203,203,203)"/>
<ellipse style="mix-blend-mode:lighten" cx="145.1" cy="139.6" rx="1.6" ry="2.3" fill="rgb(182,182,182)"/>
<ellipse style="mix-blend-mode:lighten" cx="154.2" cy="142.1" rx="3.4" ry="4.2" fill="rgb(188,188,188)"/>
<ellipse style="mix-blend-mode:lighten" cx="148.6" cy="137.3" rx="3.3" ry="3.1" fill="rgb(158,158,158)"/>
<ellipse style="mix-blend-mode:lighten" cx="153.7" cy="123.1" rx="2.5" ry="2.8" fill="rgb(162,162,162)"/>
<ellipse style="mix-blend-mode:lighten" cx="153.7" cy="139.9" rx="2.1" ry="3.2" fill="rgb(194,194,194)"/>
<ellipse style="mix-blend-mode:lighten" cx="158.3" cy="130.0" rx="2.1" ry="2.6" fill="rgb(204,204,204)"/>
<ellipse style="mix-blend-mode:lighten" cx="143.5" cy="136.8" rx="3.5" ry="4.2" fill="rgb(208,208,208)"/>
<ellipse style="mix-blend-mode:lighten" cx="156.2" cy="148.8" rx="2.0" ry="2.4" fill="rgb(196,196,196)"/>
<ellipse style="mix-blend-mode:lighten" cx="152.0" cy="151.0" rx="1.3" ry="1.4" fill="rgb(141,141,141)"/>
<ellipse style="mix-blend-mode:lighten" cx="154.7" cy="106.5" rx="1.9" ry="3.1" fill="rgb(141,141,141)"/>
<ellipse style="mix-blend-mode:lighten" cx="143.2" cy="109.2" rx="2.3" ry="2.4" fill="rgb(163,163,163)"/>
<ellipse style="mix-blend-mode:lighten" cx="154.5" cy="119.7" rx="2.1" ry="2.3" fill="rgb(205,205,205)"/>
<ellipse style="mix-blend-mode:lighten" cx="150.9" cy="112.9" rx="1.9" ry="3.2" fill="rgb(142,142,142)"/>
<ellipse style="mix-blend-mode:lighten" cx="151.1" cy="151.0" rx="2.7" ry="4.1" fill="rgb(197,197,197)"/>
<ellipse style="mix-blend-mode:lighten" cx="144.7" cy="113.4" rx="2.1" ry="1.9" fill="rgb(130,130,130)"/>
<ellipse style="mix-blend-mode:lighten" cx="155.8" cy="126.6" rx="2.0" ry="2.2" fill="rgb(149,149,149)"/>
<ellipse style="mix-blend-mode:lighten" cx="145.9" cy="124.7" rx="2.9" ry="3.6" fill="rgb(183,183,183)"/>
<ellipse style="mix-blend-mode:lighten" cx="147.9" cy="126.5" rx="3.0" ry="3.8" fill="rgb(159,159,159)"/>
<ellipse style="mix-blend-mode:lighten" cx="148.6" cy="146.9" rx="1.7" ry="2.3" fill="rgb(211,211,211)"/>
<ellipse style="mix-blend-mode:lighten" cx="147.0" cy="107.3" rx="2.0" ry="3.3" fill="rgb(194,194,194)"/>
<ellipse style="mix-blend-mode:lighten" cx="144.4" cy="150.6" rx="2.1" ry="2.1" fill="rgb(151,151,151)"/>
<ellipse style="mix-blend-mode:lighten" cx="151.5" cy="111.1" rx="2.7" ry="2.6" fill="rgb(147,147,147)"/>
<ellipse style="mix-blend-mode:lighten" cx="143.9" cy="111.3" rx="1.9" ry="2.3" fill="rgb(152,152,152)"/>
<ellipse style="mix-blend-mode:lighten" cx="147.4" cy="129.6" rx="1.7" ry="2.6" fill="rgb(206,206,206)"/>
<ellipse style="mix-blend-mode:lighten" cx="158.0" cy="54.5" rx="2.0" ry="2.1" fill="rgb(195,195,195)"/>
<ellipse style="mix-blend-mode:lighten" cx="158.7" cy="76.6" rx="2.3" ry="1.8" fill="rgb(199,199,199)"/>
<ellipse style="mix-blend-mode:lighten" cx="188.9" cy="245.7" rx="2.8" ry="2.3" fill="rgb(218,218,218)"/>
<ellipse style="mix-blend-mode:lighten" cx="154.9" cy="198.3" rx="2.0" ry="3.6" fill="rgb(227,227,227)"/>
<ellipse style="mix-blend-mode:lighten" cx="151.8" cy="136.1" rx="4.4" ry="3.3" fill="rgb(224,224,224)"/>
<ellipse style="mix-blend-mode:lighten" cx="148.0" cy="146.9" rx="4.5" ry="4.0" fill="rgb(230,230,230)"/>
<ellipse style="mix-blend-mode:lighten" cx="178.6" cy="241.1" rx="2.9" ry="3.8" fill="rgb(219,219,219)"/>
<ellipse style="mix-blend-mode:lighten" cx="149.8" cy="111.5" rx="2.5" ry="3.7" fill="rgb(215,215,215)"/>
<ellipse style="mix-blend-mode:lighten" cx="173.9" cy="32.8" rx="2.6" ry="3.8" fill="rgb(198,198,198)"/>
<ellipse style="mix-blend-mode:lighten" cx="160.9" cy="207.5" rx="3.4" ry="2.4" fill="rgb(202,202,202)"/>
<ellipse style="mix-blend-mode:lighten" cx="165.9" cy="41.3" rx="2.0" ry="2.0" fill="rgb(209,209,209)"/>
<ellipse style="mix-blend-mode:lighten" cx="164.4" cy="219.6" rx="2.9" ry="3.0" fill="rgb(208,208,208)"/>
<ellipse style="mix-blend-mode:lighten" cx="150.3" cy="120.7" rx="3.4" ry="3.2" fill="rgb(209,209,209)"/>
<ellipse style="mix-blend-mode:lighten" cx="173.2" cy="33.3" rx="3.0" ry="3.4" fill="rgb(222,222,222)"/>
<ellipse style="mix-blend-mode:lighten" cx="178.5" cy="240.1" rx="2.5" ry="2.2" fill="rgb(196,196,196)"/>
<ellipse style="mix-blend-mode:lighten" cx="151.3" cy="188.2" rx="1.9" ry="2.1" fill="rgb(207,207,207)"/>
<ellipse style="mix-blend-mode:lighten" cx="200.6" cy="245.4" rx="2.0" ry="2.0" fill="rgb(217,217,217)"/>
<ellipse style="mix-blend-mode:lighten" cx="154.6" cy="62.5" rx="3.7" ry="2.8" fill="rgb(218,218,218)"/>
<ellipse style="mix-blend-mode:lighten" cx="151.4" cy="142.6" rx="1.7" ry="2.1" fill="rgb(195,195,195)"/>
<ellipse style="mix-blend-mode:lighten" cx="178.2" cy="237.4" rx="2.4" ry="2.5" fill="rgb(209,209,209)"/>
<ellipse style="mix-blend-mode:lighten" cx="151.3" cy="182.6" rx="2.8" ry="2.5" fill="rgb(213,213,213)"/>
<ellipse style="mix-blend-mode:lighten" cx="151.4" cy="182.9" rx="2.3" ry="2.5" fill="rgb(222,222,222)"/>
<ellipse style="mix-blend-mode:lighten" cx="204.5" cy="248.7" rx="1.8" ry="2.9" fill="rgb(203,203,203)"/>
<ellipse style="mix-blend-mode:lighten" cx="174.0" cy="235.7" rx="2.2" ry="3.0" fill="rgb(226,226,226)"/>
<ellipse style="mix-blend-mode:lighten" cx="170.1" cy="38.9" rx="3.7" ry="3.7" fill="rgb(230,230,230)"/>
<ellipse style="mix-blend-mode:lighten" cx="155.6" cy="71.9" rx="4.0" ry="4.3" fill="rgb(201,201,201)"/>
<ellipse style="mix-blend-mode:lighten" cx="150.7" cy="96.9" rx="2.0" ry="1.9" fill="rgb(225,225,225)"/>
<ellipse style="mix-blend-mode:lighten" cx="151.0" cy="174.6" rx="1.4" ry="2.7" fill="rgb(231,231,231)"/>
<ellipse style="mix-blend-mode:lighten" cx="176.6" cy="28.3" rx="2.9" ry="2.7" fill="rgb(208,208,208)"/>
<ellipse style="mix-blend-mode:lighten" cx="194.7" cy="250.7" rx="2.7" ry="2.9" fill="rgb(197,197,197)"/>
<ellipse style="mix-blend-mode:lighten" cx="189.5" cy="246.1" rx="2.6" ry="2.5" fill="rgb(223,223,223)"/>
<ellipse style="mix-blend-mode:lighten" cx="188.4" cy="244.4" rx="3.9" ry="3.6" fill="rgb(219,219,219)"/>
<ellipse style="mix-blend-mode:lighten" cx="173.7" cy="235.6" rx="2.9" ry="2.5" fill="rgb(215,215,215)"/>
<ellipse style="mix-blend-mode:lighten" cx="147.9" cy="136.8" rx="1.8" ry="2.4" fill="rgb(218,218,218)"/>
<ellipse style="mix-blend-mode:lighten" cx="191.7" cy="246.4" rx="2.4" ry="2.0" fill="rgb(232,232,232)"/>
<ellipse style="mix-blend-mode:lighten" cx="152.1" cy="185.6" rx="2.3" ry="2.7" fill="rgb(225,225,225)"/>
<ellipse style="mix-blend-mode:lighten" cx="180.9" cy="239.0" rx="2.2" ry="2.2" fill="rgb(223,223,223)"/>
<ellipse style="mix-blend-mode:lighten" cx="158.2" cy="205.7" rx="1.5" ry="1.6" fill="rgb(196,196,196)"/>
<ellipse style="mix-blend-mode:lighten" cx="156.0" cy="199.3" rx="3.5" ry="3.0" fill="rgb(216,216,216)"/>
<ellipse style="mix-blend-mode:lighten" cx="153.5" cy="88.7" rx="1.7" ry="2.0" fill="rgb(199,199,199)"/>
</g>
</g></g></g>
<rect x="285" y="12" width="18" height="262" fill="url(#cb)" stroke="#000" stroke-opacity="0.4" stroke-width="0.9"/>
<text x="305" y="16.1" style="font-family:'Liberation Sans',Arial,sans-serif;stroke:#1a1a1a;stroke-width:0.25px;font-size:8.6px" fill="#222">0</text>
<line x1="285" y1="55.7" x2="287" y2="55.7" stroke="#222" stroke-opacity="0.6" stroke-width="0.8"/>
<line x1="300.5" y1="55.7" x2="303" y2="55.7" stroke="#222" stroke-opacity="0.6" stroke-width="0.8"/>
<text x="305" y="58.8" style="font-family:'Liberation Sans',Arial,sans-serif;stroke:#1a1a1a;stroke-width:0.25px;font-size:8.6px" fill="#222">-5</text>
<line x1="285" y1="99.3" x2="287" y2="99.3" stroke="#222" stroke-opacity="0.6" stroke-width="0.8"/>
<line x1="300.5" y1="99.3" x2="303" y2="99.3" stroke="#222" stroke-opacity="0.6" stroke-width="0.8"/>
<text x="305" y="102.4" style="font-family:'Liberation Sans',Arial,sans-serif;stroke:#1a1a1a;stroke-width:0.25px;font-size:8.6px" fill="#222">-10</text>
<line x1="285" y1="143.0" x2="287" y2="143.0" stroke="#222" stroke-opacity="0.6" stroke-width="0.8"/>
<line x1="300.5" y1="143.0" x2="303" y2="143.0" stroke="#222" stroke-opacity="0.6" stroke-width="0.8"/>
<text x="305" y="146.1" style="font-family:'Liberation Sans',Arial,sans-serif;stroke:#1a1a1a;stroke-width:0.25px;font-size:8.6px" fill="#222">-15</text>
<line x1="285" y1="186.7" x2="287" y2="186.7" stroke="#222" stroke-opacity="0.6" stroke-width="0.8"/>
<line x1="300.5" y1="186.7" x2="303" y2="186.7" stroke="#222" stroke-opacity="0.6" stroke-width="0.8"/>
<text x="305" y="189.8" style="font-family:'Liberation Sans',Arial,sans-serif;stroke:#1a1a1a;stroke-width:0.25px;font-size:8.6px" fill="#222">-20</text>
<line x1="285" y1="230.3" x2="287" y2="230.3" stroke="#222" stroke-opacity="0.6" stroke-width="0.8"/>
<line x1="300.5" y1="230.3" x2="303" y2="230.3" stroke="#222" stroke-opacity="0.6" stroke-width="0.8"/>
<text x="305" y="233.4" style="font-family:'Liberation Sans',Arial,sans-serif;stroke:#1a1a1a;stroke-width:0.25px;font-size:8.6px" fill="#222">-25</text>
<text x="305" y="277.1" style="font-family:'Liberation Sans',Arial,sans-serif;stroke:#1a1a1a;stroke-width:0.25px;font-size:8.6px" fill="#222">-30</text>
<text x="288" y="7" style="font-family:'Liberation Sans',Arial,sans-serif;stroke:#1a1a1a;stroke-width:0.25px;font-size:8.6px" fill="#222">dB</text>
<rect x="643" y="12" width="18" height="254" fill="url(#cb)" stroke="#000" stroke-opacity="0.4" stroke-width="0.9"/>
<text x="663" y="16.1" style="font-family:'Liberation Sans',Arial,sans-serif;stroke:#1a1a1a;stroke-width:0.25px;font-size:8.6px" fill="#222">0</text>
<line x1="643" y1="54.3" x2="645" y2="54.3" stroke="#222" stroke-opacity="0.6" stroke-width="0.8"/>
<line x1="658.5" y1="54.3" x2="661" y2="54.3" stroke="#222" stroke-opacity="0.6" stroke-width="0.8"/>
<text x="663" y="57.4" style="font-family:'Liberation Sans',Arial,sans-serif;stroke:#1a1a1a;stroke-width:0.25px;font-size:8.6px" fill="#222">-5</text>
<line x1="643" y1="96.7" x2="645" y2="96.7" stroke="#222" stroke-opacity="0.6" stroke-width="0.8"/>
<line x1="658.5" y1="96.7" x2="661" y2="96.7" stroke="#222" stroke-opacity="0.6" stroke-width="0.8"/>
<text x="663" y="99.8" style="font-family:'Liberation Sans',Arial,sans-serif;stroke:#1a1a1a;stroke-width:0.25px;font-size:8.6px" fill="#222">-10</text>
<line x1="643" y1="139.0" x2="645" y2="139.0" stroke="#222" stroke-opacity="0.6" stroke-width="0.8"/>
<line x1="658.5" y1="139.0" x2="661" y2="139.0" stroke="#222" stroke-opacity="0.6" stroke-width="0.8"/>
<text x="663" y="142.1" style="font-family:'Liberation Sans',Arial,sans-serif;stroke:#1a1a1a;stroke-width:0.25px;font-size:8.6px" fill="#222">-15</text>
<line x1="643" y1="181.3" x2="645" y2="181.3" stroke="#222" stroke-opacity="0.6" stroke-width="0.8"/>
<line x1="658.5" y1="181.3" x2="661" y2="181.3" stroke="#222" stroke-opacity="0.6" stroke-width="0.8"/>
<text x="663" y="184.4" style="font-family:'Liberation Sans',Arial,sans-serif;stroke:#1a1a1a;stroke-width:0.25px;font-size:8.6px" fill="#222">-20</text>
<line x1="643" y1="223.7" x2="645" y2="223.7" stroke="#222" stroke-opacity="0.6" stroke-width="0.8"/>
<line x1="658.5" y1="223.7" x2="661" y2="223.7" stroke="#222" stroke-opacity="0.6" stroke-width="0.8"/>
<text x="663" y="226.8" style="font-family:'Liberation Sans',Arial,sans-serif;stroke:#1a1a1a;stroke-width:0.25px;font-size:8.6px" fill="#222">-25</text>
<text x="663" y="269.1" style="font-family:'Liberation Sans',Arial,sans-serif;stroke:#1a1a1a;stroke-width:0.25px;font-size:8.6px" fill="#222">-30</text>
<text x="646" y="7" style="font-family:'Liberation Sans',Arial,sans-serif;stroke:#1a1a1a;stroke-width:0.25px;font-size:8.6px" fill="#222">dB</text>
<text x="32.5" y="52.6" text-anchor="end" style="font-family:'Liberation Sans',Arial,sans-serif;stroke:#1a1a1a;stroke-width:0.25px;font-size:8.6px" fill="#222">0.1</text>
<text x="32.5" y="100.1" text-anchor="end" style="font-family:'Liberation Sans',Arial,sans-serif;stroke:#1a1a1a;stroke-width:0.25px;font-size:8.6px" fill="#222">0.05</text>
<text x="32.5" y="147.6" text-anchor="end" style="font-family:'Liberation Sans',Arial,sans-serif;stroke:#1a1a1a;stroke-width:0.25px;font-size:8.6px" fill="#222">0</text>
<text x="32.5" y="195.1" text-anchor="end" style="font-family:'Liberation Sans',Arial,sans-serif;stroke:#1a1a1a;stroke-width:0.25px;font-size:8.6px" fill="#222">-0.05</text>
<text x="32.5" y="242.6" text-anchor="end" style="font-family:'Liberation Sans',Arial,sans-serif;stroke:#1a1a1a;stroke-width:0.25px;font-size:8.6px" fill="#222">-0.1</text>
<text x="82.5" y="268" text-anchor="middle" style="font-family:'Liberation Sans',Arial,sans-serif;stroke:#1a1a1a;stroke-width:0.25px;font-size:8.6px" fill="#222">0.15</text>
<text x="129.7" y="268" text-anchor="middle" style="font-family:'Liberation Sans',Arial,sans-serif;stroke:#1a1a1a;stroke-width:0.25px;font-size:8.6px" fill="#222">0.1</text>
<text x="177.3" y="268" text-anchor="middle" style="font-family:'Liberation Sans',Arial,sans-serif;stroke:#1a1a1a;stroke-width:0.25px;font-size:8.6px" fill="#222">0.05</text>
<text x="224.5" y="268" text-anchor="middle" style="font-family:'Liberation Sans',Arial,sans-serif;stroke:#1a1a1a;stroke-width:0.25px;font-size:8.6px" fill="#222">0</text>
<text x="270.5" y="268" text-anchor="middle" style="font-family:'Liberation Sans',Arial,sans-serif;stroke:#1a1a1a;stroke-width:0.25px;font-size:8.6px" fill="#222">-0.05</text>
<text x="154" y="279.5" text-anchor="middle" style="font-family:'Liberation Sans',Arial,sans-serif;stroke:#1a1a1a;stroke-width:0.25px;font-size:8.6px" fill="#222">y[m]</text>
<text transform="translate(7.9 143) rotate(-90)" text-anchor="middle" style="font-family:'Liberation Sans',Arial,sans-serif;stroke:#1a1a1a;stroke-width:0.25px;font-size:8.6px" fill="#222">x[m]</text>
<text x="164.5" y="330" text-anchor="middle" style="font-family:'Liberation Sans',Arial,sans-serif;stroke:#1a1a1a;stroke-width:0.25px;font-size:12px;font-weight:bold" fill="#111">(a)</text>
<text x="516.5" y="330" text-anchor="middle" style="font-family:'Liberation Sans',Arial,sans-serif;stroke:#1a1a1a;stroke-width:0.25px;font-size:12px;font-weight:bold" fill="#111">(b)</text>
<line x1="417.4" y1="240.2" x2="417.4" y2="80.9" stroke="#dcdcdc" stroke-width="0.7"/>
<line x1="529.9" y1="268.1" x2="417.4" y2="240.2" stroke="#dcdcdc" stroke-width="0.7"/>
<line x1="438.0" y1="223.6" x2="438.0" y2="64.3" stroke="#dcdcdc" stroke-width="0.7"/>
<line x1="550.5" y1="251.5" x2="438.0" y2="223.6" stroke="#dcdcdc" stroke-width="0.7"/>
<line x1="458.6" y1="207.0" x2="458.6" y2="47.8" stroke="#dcdcdc" stroke-width="0.7"/>
<line x1="571.1" y1="234.9" x2="458.6" y2="207.0" stroke="#dcdcdc" stroke-width="0.7"/>
<line x1="479.2" y1="190.5" x2="479.2" y2="31.2" stroke="#dcdcdc" stroke-width="0.7"/>
<line x1="591.7" y1="218.4" x2="479.2" y2="190.5" stroke="#dcdcdc" stroke-width="0.7"/>
<line x1="499.8" y1="173.9" x2="499.8" y2="14.7" stroke="#dcdcdc" stroke-width="0.7"/>
<line x1="612.3" y1="201.8" x2="499.8" y2="173.9" stroke="#dcdcdc" stroke-width="0.7"/>
<line x1="621.9" y1="194.1" x2="621.9" y2="34.8" stroke="#dcdcdc" stroke-width="0.7"/>
<line x1="525.0" y1="272.0" x2="621.9" y2="194.1" stroke="#dcdcdc" stroke-width="0.7"/>
<line x1="584.4" y1="184.8" x2="584.4" y2="25.5" stroke="#dcdcdc" stroke-width="0.7"/>
<line x1="487.5" y1="262.7" x2="584.4" y2="184.8" stroke="#dcdcdc" stroke-width="0.7"/>
<line x1="546.9" y1="175.5" x2="546.9" y2="16.2" stroke="#dcdcdc" stroke-width="0.7"/>
<line x1="450.0" y1="253.4" x2="546.9" y2="175.5" stroke="#dcdcdc" stroke-width="0.7"/>
<line x1="509.4" y1="166.2" x2="509.4" y2="6.9" stroke="#dcdcdc" stroke-width="0.7"/>
<line x1="412.5" y1="244.1" x2="509.4" y2="166.2" stroke="#dcdcdc" stroke-width="0.7"/>
<line x1="412.5" y1="225.1" x2="509.4" y2="147.2" stroke="#dcdcdc" stroke-width="0.7"/>
<line x1="621.9" y1="175.1" x2="509.4" y2="147.2" stroke="#dcdcdc" stroke-width="0.7"/>
<line x1="412.5" y1="206.0" x2="509.4" y2="128.1" stroke="#dcdcdc" stroke-width="0.7"/>
<line x1="621.9" y1="156.0" x2="509.4" y2="128.1" stroke="#dcdcdc" stroke-width="0.7"/>
<line x1="412.5" y1="186.9" x2="509.4" y2="109.1" stroke="#dcdcdc" stroke-width="0.7"/>
<line x1="621.9" y1="137.0" x2="509.4" y2="109.1" stroke="#dcdcdc" stroke-width="0.7"/>
<line x1="412.5" y1="167.9" x2="509.4" y2="90.0" stroke="#dcdcdc" stroke-width="0.7"/>
<line x1="621.9" y1="117.9" x2="509.4" y2="90.0" stroke="#dcdcdc" stroke-width="0.7"/>
<line x1="412.5" y1="148.8" x2="509.4" y2="71.0" stroke="#dcdcdc" stroke-width="0.7"/>
<line x1="621.9" y1="98.9" x2="509.4" y2="71.0" stroke="#dcdcdc" stroke-width="0.7"/>
<line x1="412.5" y1="129.8" x2="509.4" y2="51.9" stroke="#dcdcdc" stroke-width="0.7"/>
<line x1="621.9" y1="79.8" x2="509.4" y2="51.9" stroke="#dcdcdc" stroke-width="0.7"/>
<line x1="412.5" y1="110.8" x2="509.4" y2="32.9" stroke="#dcdcdc" stroke-width="0.7"/>
<line x1="621.9" y1="60.8" x2="509.4" y2="32.9" stroke="#dcdcdc" stroke-width="0.7"/>
<line x1="412.5" y1="91.7" x2="509.4" y2="13.8" stroke="#dcdcdc" stroke-width="0.7"/>
<line x1="621.9" y1="41.7" x2="509.4" y2="13.8" stroke="#dcdcdc" stroke-width="0.7"/>
<line x1="412.5" y1="244.1" x2="412.5" y2="84.8" stroke="#6e6e6e" stroke-width="1.1"/>
<line x1="525.0" y1="272.0" x2="412.5" y2="244.1" stroke="#6e6e6e" stroke-width="1.1"/>
<line x1="525.0" y1="272.0" x2="621.9" y2="194.1" stroke="#6e6e6e" stroke-width="1.1"/>
<line x1="412.5" y1="225.1" x2="408.6" y2="224.1" stroke="#6e6e6e" stroke-width="0.9"/>
<text x="405.8" y="228.2" text-anchor="end" style="font-family:'Liberation Sans',Arial,sans-serif;stroke:#1a1a1a;stroke-width:0.25px;font-size:8.6px" fill="#222">-0.2</text>
<line x1="412.5" y1="206.0" x2="408.6" y2="205.0" stroke="#6e6e6e" stroke-width="0.9"/>
<text x="405.8" y="209.1" text-anchor="end" style="font-family:'Liberation Sans',Arial,sans-serif;stroke:#1a1a1a;stroke-width:0.25px;font-size:8.6px" fill="#222">-0.15</text>
<line x1="412.5" y1="186.9" x2="408.6" y2="186.0" stroke="#6e6e6e" stroke-width="0.9"/>
<text x="405.8" y="190.0" text-anchor="end" style="font-family:'Liberation Sans',Arial,sans-serif;stroke:#1a1a1a;stroke-width:0.25px;font-size:8.6px" fill="#222">-0.1</text>
<line x1="412.5" y1="167.9" x2="408.6" y2="166.9" stroke="#6e6e6e" stroke-width="0.9"/>
<text x="405.8" y="171.0" text-anchor="end" style="font-family:'Liberation Sans',Arial,sans-serif;stroke:#1a1a1a;stroke-width:0.25px;font-size:8.6px" fill="#222">-0.05</text>
<line x1="412.5" y1="148.8" x2="408.6" y2="147.9" stroke="#6e6e6e" stroke-width="0.9"/>
<text x="405.8" y="151.9" text-anchor="end" style="font-family:'Liberation Sans',Arial,sans-serif;stroke:#1a1a1a;stroke-width:0.25px;font-size:8.6px" fill="#222">0</text>
<line x1="412.5" y1="129.8" x2="408.6" y2="128.8" stroke="#6e6e6e" stroke-width="0.9"/>
<text x="405.8" y="132.9" text-anchor="end" style="font-family:'Liberation Sans',Arial,sans-serif;stroke:#1a1a1a;stroke-width:0.25px;font-size:8.6px" fill="#222">0.05</text>
<line x1="412.5" y1="110.8" x2="408.6" y2="109.8" stroke="#6e6e6e" stroke-width="0.9"/>
<text x="405.8" y="113.8" text-anchor="end" style="font-family:'Liberation Sans',Arial,sans-serif;stroke:#1a1a1a;stroke-width:0.25px;font-size:8.6px" fill="#222">0.1</text>
<line x1="412.5" y1="91.7" x2="408.6" y2="90.7" stroke="#6e6e6e" stroke-width="0.9"/>
<text x="405.8" y="94.8" text-anchor="end" style="font-family:'Liberation Sans',Arial,sans-serif;stroke:#1a1a1a;stroke-width:0.25px;font-size:8.6px" fill="#222">0.15</text>
<line x1="525.0" y1="272.0" x2="521.3" y2="275.0" stroke="#6e6e6e" stroke-width="0.9"/>
<line x1="487.5" y1="262.7" x2="483.8" y2="265.7" stroke="#6e6e6e" stroke-width="0.9"/>
<line x1="450.0" y1="253.4" x2="446.3" y2="256.4" stroke="#6e6e6e" stroke-width="0.9"/>
<text x="439.0" y="266.0" text-anchor="middle" style="font-family:'Liberation Sans',Arial,sans-serif;stroke:#1a1a1a;stroke-width:0.25px;font-size:8.6px" fill="#222">0.1</text>
<text x="478.7" y="275.0" text-anchor="middle" style="font-family:'Liberation Sans',Arial,sans-serif;stroke:#1a1a1a;stroke-width:0.25px;font-size:8.6px" fill="#222">0</text>
<text x="510.8" y="283.9" text-anchor="middle" style="font-family:'Liberation Sans',Arial,sans-serif;stroke:#1a1a1a;stroke-width:0.25px;font-size:8.6px" fill="#222">-0.1</text>
<line x1="529.9" y1="268.1" x2="533.8" y2="269.0" stroke="#6e6e6e" stroke-width="0.9"/>
<line x1="550.5" y1="251.5" x2="554.4" y2="252.5" stroke="#6e6e6e" stroke-width="0.9"/>
<line x1="571.1" y1="234.9" x2="575.0" y2="235.9" stroke="#6e6e6e" stroke-width="0.9"/>
<line x1="591.7" y1="218.4" x2="595.6" y2="219.4" stroke="#6e6e6e" stroke-width="0.9"/>
<line x1="612.3" y1="201.8" x2="616.2" y2="202.8" stroke="#6e6e6e" stroke-width="0.9"/>
<text x="543.4" y="277.5" text-anchor="middle" style="font-family:'Liberation Sans',Arial,sans-serif;stroke:#1a1a1a;stroke-width:0.25px;font-size:8.6px" fill="#222">-0.2</text>
<text x="564.6" y="260.3" text-anchor="middle" style="font-family:'Liberation Sans',Arial,sans-serif;stroke:#1a1a1a;stroke-width:0.25px;font-size:8.6px" fill="#222">-0.1</text>
<text x="579.7" y="244.1" text-anchor="middle" style="font-family:'Liberation Sans',Arial,sans-serif;stroke:#1a1a1a;stroke-width:0.25px;font-size:8.6px" fill="#222">0</text>
<text x="604.0" y="226.9" text-anchor="middle" style="font-family:'Liberation Sans',Arial,sans-serif;stroke:#1a1a1a;stroke-width:0.25px;font-size:8.6px" fill="#222">0.1</text>
<text x="624.3" y="210.1" text-anchor="middle" style="font-family:'Liberation Sans',Arial,sans-serif;stroke:#1a1a1a;stroke-width:0.25px;font-size:8.6px" fill="#222">0.2</text>
<text x="588" y="279.3" text-anchor="middle" style="font-family:'Liberation Sans',Arial,sans-serif;stroke:#1a1a1a;stroke-width:0.25px;font-size:8.6px" fill="#222">x[m]</text>
<text x="457" y="292.1" text-anchor="middle" style="font-family:'Liberation Sans',Arial,sans-serif;stroke:#1a1a1a;stroke-width:0.25px;font-size:8.6px" fill="#222">y[m]</text>
<text transform="translate(385.2 148) rotate(-90)" text-anchor="middle" style="font-family:'Liberation Sans',Arial,sans-serif;stroke:#1a1a1a;stroke-width:0.25px;font-size:8.6px" fill="#222">z[m]</text>
<clipPath id="cs0"><polygon points="453.0,100.0 456.0,95.0 459.0,90.0 463.0,84.0 467.0,79.0 471.0,76.0 474.0,77.0 478.0,74.0 477.0,150.0 478.0,200.0 476.0,222.0 472.0,224.0 468.0,221.0 464.0,223.0 460.0,229.0 456.0,227.0 453.0,229.0 451.0,215.0 452.0,200.0 453.0,150.0"/></clipPath>
<clipPath id="cs1"><polygon points="477.0,75.0 480.0,72.0 483.0,71.0 486.0,68.0 490.0,67.0 494.0,64.0 498.0,60.0 503.0,56.0 506.0,55.0 507.0,150.0 507.0,200.0 505.0,228.0 502.0,237.0 498.0,236.0 495.0,240.0 492.0,236.0 488.0,238.0 486.0,232.0 482.0,228.0 478.0,226.0 477.0,222.0"/></clipPath>
<clipPath id="cs2"><polygon points="505.0,56.0 508.0,50.0 511.0,44.0 513.0,39.0 515.0,42.0 517.0,47.0 520.0,50.0 524.0,49.0 528.0,47.0 531.0,52.0 529.0,100.0 525.0,140.0 518.0,150.0 512.0,160.0 507.0,170.0 506.0,228.0"/></clipPath>
<clipPath id="cs3"><polygon points="527.0,57.0 531.0,50.0 534.0,44.0 537.0,35.0 540.0,37.0 541.0,45.0 539.0,60.0 537.0,75.0 533.0,100.0 529.0,140.0 525.0,141.0"/></clipPath>
<clipPath id="clace"><polygon points="531.0,56.0 538.0,49.0 543.0,51.0 548.0,45.0 552.0,47.0 558.0,49.0 562.0,51.0 567.0,54.0 572.0,58.0 576.0,64.0 579.0,72.0 580.0,90.0 579.0,105.0 578.0,125.0 577.0,140.0 573.0,150.0 570.0,158.0 566.0,165.0 560.0,172.0 555.0,176.0 547.0,177.0 540.0,177.0 532.0,174.0 525.0,171.0 519.0,166.0 516.0,160.0 516.0,148.0 526.0,140.0"/></clipPath>
<clipPath id="cstr"><polygon points="588.0,60.0 592.0,57.0 595.0,62.0 597.0,68.0 600.0,80.0 603.0,95.0 606.0,110.0 609.0,125.0 612.0,140.0 616.0,156.0 611.0,157.0 606.0,150.0 601.0,142.0 595.0,136.0 589.0,129.0 585.0,117.0 587.0,108.0 589.0,100.0 587.0,90.0 588.0,80.0"/></clipPath>
<linearGradient id="lighten" x1="0" y1="0" x2="0" y2="1"><stop offset="0" stop-color="#f6f6f6" stop-opacity="0.8"/><stop offset="0.3" stop-color="#f2f2f2" stop-opacity="0.5"/><stop offset="0.5" stop-color="#f0f0f0" stop-opacity="0.15"/><stop offset="0.65" stop-color="#f0f0f0" stop-opacity="0"/></linearGradient>
<g clip-path="url(#clace)">
<polygon points="531.0,56.0 538.0,49.0 543.0,51.0 548.0,45.0 552.0,47.0 558.0,49.0 562.0,51.0 567.0,54.0 572.0,58.0 576.0,64.0 579.0,72.0 580.0,90.0 579.0,105.0 578.0,125.0 577.0,140.0 573.0,150.0 570.0,158.0 566.0,165.0 560.0,172.0 555.0,176.0 547.0,177.0 540.0,177.0 532.0,174.0 525.0,171.0 519.0,166.0 516.0,160.0 516.0,148.0 526.0,140.0" fill="#f5f6f6"/>
<ellipse cx="568.3" cy="88.3" rx="2.5" ry="3.0" fill="none" stroke="#16161f" stroke-width="1.1"/>
<ellipse cx="551.9" cy="127.1" rx="2.1" ry="2.3" fill="none" stroke="#7b96a4" stroke-width="1.1"/>
<ellipse cx="515.9" cy="174.2" rx="2.2" ry="2.6" fill="none" stroke="#7b96a4" stroke-width="1.1"/>
<path d="M527.1 89.8 A1.8 2.2 0 0 1 524.6 88.1" fill="none" stroke="#7b96a4" stroke-width="1.1"/>
<ellipse cx="527.6" cy="120.2" rx="3.3" ry="3.7" fill="none" stroke="#16161f" stroke-width="1.1"/>
<ellipse cx="580.8" cy="144.6" rx="4.5" ry="5.5" fill="none" stroke="#16161f" stroke-width="1.1"/>
<ellipse cx="519.4" cy="150.3" rx="3.7" ry="3.1" fill="none" stroke="#7b96a4" stroke-width="1.1"/>
<ellipse cx="551.5" cy="60.5" rx="5.2" ry="4.3" fill="none" stroke="#5a7888" stroke-width="1.1"/>
<ellipse cx="565.1" cy="172.6" rx="3.6" ry="3.3" fill="none" stroke="#7b96a4" stroke-width="1.1"/>
<path d="M562.9 99.6 A5.3 4.3 0 1 1 571.1 98.1" fill="none" stroke="#7b96a4" stroke-width="1.1"/>
<ellipse cx="522.0" cy="178.0" rx="5.1" ry="5.9" fill="none" stroke="#16161f" stroke-width="1.1"/>
<ellipse cx="561.1" cy="56.9" rx="2.7" ry="2.3" fill="none" stroke="#5a7888" stroke-width="1.1"/>
<ellipse cx="576.8" cy="146.1" rx="3.8" ry="3.2" fill="none" stroke="#7b96a4" stroke-width="1.1"/>
<path d="M564.2 48.5 A1.5 1.3 0 0 1 566.4 46.6" fill="none" stroke="#9aa8b0" stroke-width="1.1"/>
<path d="M576.6 62.9 A2.5 3.0 0 1 1 573.6 59.5" fill="none" stroke="#16161f" stroke-width="1.1"/>
<ellipse cx="529.9" cy="112.2" rx="3.0" ry="3.9" fill="none" stroke="#5a7888" stroke-width="1.1"/>
<path d="M546.5 84.5 A4.9 4.1 0 0 1 546.7 76.3" fill="none" stroke="#7b96a4" stroke-width="1.1"/>
<path d="M528.1 123.5 A1.8 1.4 0 0 1 525.7 125.6" fill="none" stroke="#16161f" stroke-width="1.1"/>
<ellipse cx="560.2" cy="150.0" rx="2.2" ry="2.8" fill="none" stroke="#8a6048" stroke-width="1.1"/>
<path d="M547.2 142.7 A4.6 4.1 0 1 1 550.9 136.2" fill="none" stroke="#5a7888" stroke-width="1.1"/>
<ellipse cx="573.3" cy="160.7" rx="2.8" ry="3.5" fill="none" stroke="#5a7888" stroke-width="1.1"/>
<ellipse cx="565.3" cy="180.0" rx="3.4" ry="4.0" fill="none" stroke="#5a7888" stroke-width="1.1"/>
<ellipse cx="548.3" cy="98.5" rx="5.0" ry="4.9" fill="none" stroke="#5a7888" stroke-width="1.1"/>
<path d="M562.4 84.0 A1.8 2.1 0 0 1 563.8 86.6" fill="none" stroke="#16161f" stroke-width="1.1"/>
<path d="M575.3 119.9 A3.7 4.3 0 1 1 576.2 128.3" fill="none" stroke="#16161f" stroke-width="1.1"/>
<path d="M554.9 155.7 A2.6 2.3 0 1 1 559.9 156.7" fill="none" stroke="#9aa8b0" stroke-width="1.1"/>
<ellipse cx="578.9" cy="55.8" rx="4.3" ry="3.6" fill="none" stroke="#7b96a4" stroke-width="1.1"/>
<ellipse cx="571.7" cy="50.4" rx="4.5" ry="3.9" fill="none" stroke="#8a6048" stroke-width="1.1"/>
<path d="M572.2 53.2 A1.5 1.2 0 1 1 570.6 55.1" fill="none" stroke="#5a7888" stroke-width="1.1"/>
<ellipse cx="569.6" cy="171.4" rx="4.0" ry="4.9" fill="none" stroke="#7b96a4" stroke-width="1.1"/>
<path d="M513.3 119.5 A5.5 5.4 0 0 1 524.2 118.2" fill="none" stroke="#5a7888" stroke-width="1.1"/>
<ellipse cx="566.3" cy="87.9" rx="3.4" ry="3.0" fill="none" stroke="#7b96a4" stroke-width="1.1"/>
<path d="M537.5 131.5 A3.7 3.3 0 1 1 538.6 136.6" fill="none" stroke="#7b96a4" stroke-width="1.1"/>
<ellipse cx="534.9" cy="134.9" rx="2.9" ry="3.2" fill="none" stroke="#2a2a3a" stroke-width="1.1"/>
<ellipse cx="567.4" cy="73.0" rx="2.9" ry="2.7" fill="none" stroke="#16161f" stroke-width="1.1"/>
<ellipse cx="570.5" cy="115.6" rx="3.3" ry="3.1" fill="none" stroke="#2a2a3a" stroke-width="1.1"/>
<path d="M544.3 137.9 A2.6 2.3 0 0 1 548.8 135.4" fill="none" stroke="#16161f" stroke-width="1.1"/>
<ellipse cx="555.9" cy="138.0" rx="5.0" ry="6.0" fill="none" stroke="#7b96a4" stroke-width="1.1"/>
<ellipse cx="550.8" cy="108.3" rx="5.2" ry="6.4" fill="none" stroke="#8a6048" stroke-width="1.1"/>
<path d="M544.3 145.0 A1.6 1.8 0 1 1 541.8 146.9" fill="none" stroke="#9aa8b0" stroke-width="1.1"/>
<ellipse cx="515.4" cy="54.4" rx="2.8" ry="3.6" fill="none" stroke="#7b96a4" stroke-width="1.1"/>
<path d="M570.4 91.7 A2.1 2.1 0 0 1 573.9 90.1" fill="none" stroke="#9aa8b0" stroke-width="1.1"/>
<path d="M533.7 58.7 A5.1 4.8 0 0 1 536.0 52.3" fill="none" stroke="#5a7888" stroke-width="1.1"/>
<path d="M557.0 112.1 A3.2 2.9 0 0 1 551.4 115.0" fill="none" stroke="#7b96a4" stroke-width="1.1"/>
<ellipse cx="555.5" cy="101.7" rx="1.6" ry="1.3" fill="none" stroke="#5a7888" stroke-width="1.1"/>
<ellipse cx="532.9" cy="117.1" rx="5.0" ry="5.3" fill="none" stroke="#7b96a4" stroke-width="1.1"/>
<path d="M575.4 44.3 A4.2 4.5 0 1 1 569.5 49.8" fill="none" stroke="#5a7888" stroke-width="1.1"/>
<path d="M531.8 171.5 A1.7 1.8 0 1 1 533.2 174.7" fill="none" stroke="#16161f" stroke-width="1.1"/>
<path d="M543.0 78.2 A3.7 3.8 0 0 1 549.2 74.7" fill="none" stroke="#8a6048" stroke-width="1.1"/>
<ellipse cx="522.3" cy="111.6" rx="2.6" ry="3.2" fill="none" stroke="#9aa8b0" stroke-width="1.1"/>
<path d="M540.8 108.0 A4.5 4.1 0 1 1 532.0 109.5" fill="none" stroke="#5a7888" stroke-width="1.1"/>
<path d="M566.5 120.7 A4.9 5.0 0 1 1 561.9 127.1" fill="none" stroke="#16161f" stroke-width="1.1"/>
<ellipse cx="529.5" cy="110.2" rx="4.6" ry="4.4" fill="none" stroke="#2a2a3a" stroke-width="1.1"/>
<ellipse cx="521.9" cy="89.4" rx="3.9" ry="4.1" fill="none" stroke="#9aa8b0" stroke-width="1.1"/>
<path d="M543.4 65.8 A4.8 3.9 0 0 1 544.3 72.9" fill="none" stroke="#16161f" stroke-width="1.1"/>
<path d="M548.3 55.4 A2.6 3.3 0 0 1 543.5 58.0" fill="none" stroke="#5a7888" stroke-width="1.1"/>
<ellipse cx="523.2" cy="94.0" rx="5.3" ry="4.8" fill="none" stroke="#5a7888" stroke-width="1.1"/>
<ellipse cx="576.2" cy="146.7" rx="5.2" ry="4.5" fill="none" stroke="#7b96a4" stroke-width="1.1"/>
<ellipse cx="549.5" cy="46.1" rx="2.7" ry="2.7" fill="none" stroke="#7b96a4" stroke-width="1.1"/>
<ellipse cx="525.8" cy="44.9" rx="4.1" ry="5.3" fill="none" stroke="#7b96a4" stroke-width="1.1"/>
<path d="M558.8 137.8 A4.7 3.8 0 1 1 567.0 135.5" fill="none" stroke="#7b96a4" stroke-width="1.1"/>
<path d="M518.9 166.0 A4.7 5.8 0 1 1 522.4 174.9" fill="none" stroke="#9aa8b0" stroke-width="1.1"/>
<ellipse cx="551.0" cy="136.7" rx="1.9" ry="2.2" fill="none" stroke="#16161f" stroke-width="1.1"/>
<ellipse cx="515.9" cy="85.9" rx="1.9" ry="1.8" fill="none" stroke="#16161f" stroke-width="1.1"/>
<ellipse cx="549.8" cy="149.3" rx="4.7" ry="5.5" fill="none" stroke="#7b96a4" stroke-width="1.1"/>
<path d="M564.2 100.6 A3.0 3.0 0 0 1 569.3 103.6" fill="none" stroke="#16161f" stroke-width="1.1"/>
<path d="M544.8 55.7 A2.1 2.6 0 1 1 541.1 58.2" fill="none" stroke="#5a7888" stroke-width="1.1"/>
<path d="M569.8 67.0 A5.3 5.5 0 0 1 563.2 70.0" fill="none" stroke="#16161f" stroke-width="1.1"/>
<path d="M568.9 150.6 A2.6 2.4 0 1 1 564.3 151.6" fill="none" stroke="#9aa8b0" stroke-width="1.1"/>
<ellipse cx="541.8" cy="106.2" rx="3.1" ry="3.1" fill="none" stroke="#7b96a4" stroke-width="1.1"/>
<ellipse cx="581.6" cy="60.3" rx="2.7" ry="2.9" fill="none" stroke="#5a7888" stroke-width="1.1"/>
<path d="M574.3 57.5 A4.6 4.1 0 0 1 565.3 57.6" fill="none" stroke="#7b96a4" stroke-width="1.1"/>
<path d="M574.2 85.2 A1.6 1.8 0 1 1 574.8 82.0" fill="none" stroke="#7a2236" stroke-width="1.1"/>
<path d="M575.9 107.8 A3.4 3.9 0 1 1 573.5 115.0" fill="none" stroke="#8a6048" stroke-width="1.1"/>
<ellipse cx="574.4" cy="121.5" rx="4.8" ry="5.9" fill="none" stroke="#2a2a3a" stroke-width="1.1"/>
<path d="M554.1 65.3 A2.4 2.4 0 1 1 550.5 63.9" fill="none" stroke="#9aa8b0" stroke-width="1.1"/>
<ellipse cx="541.4" cy="129.0" rx="2.7" ry="2.2" fill="none" stroke="#16161f" stroke-width="1.1"/>
<ellipse cx="529.6" cy="113.2" rx="2.6" ry="2.1" fill="none" stroke="#8a6048" stroke-width="1.1"/>
<ellipse cx="579.4" cy="114.0" rx="5.4" ry="5.4" fill="none" stroke="#5a7888" stroke-width="1.1"/>
<path d="M518.5 165.8 A4.2 4.6 0 0 1 518.3 172.7" fill="none" stroke="#7b96a4" stroke-width="1.1"/>
<ellipse cx="521.3" cy="149.6" rx="2.7" ry="2.6" fill="none" stroke="#7a2236" stroke-width="1.1"/>
<ellipse cx="567.6" cy="89.2" rx="2.0" ry="2.2" fill="none" stroke="#8a6048" stroke-width="1.1"/>
<ellipse cx="518.2" cy="100.9" rx="3.2" ry="3.8" fill="none" stroke="#2a2a3a" stroke-width="1.1"/>
<path d="M551.6 151.9 A4.7 5.0 0 0 1 555.4 159.6" fill="none" stroke="#5a7888" stroke-width="1.1"/>
<ellipse cx="552.0" cy="66.6" rx="5.3" ry="5.3" fill="none" stroke="#7b96a4" stroke-width="1.1"/>
<ellipse cx="560.9" cy="70.5" rx="4.6" ry="4.6" fill="none" stroke="#7b96a4" stroke-width="1.1"/>
<ellipse cx="558.7" cy="146.7" rx="3.5" ry="3.6" fill="none" stroke="#9aa8b0" stroke-width="1.1"/>
<ellipse cx="516.6" cy="86.5" rx="3.4" ry="2.8" fill="none" stroke="#16161f" stroke-width="1.1"/>
<path d="M527.8 172.2 A2.0 1.9 0 1 1 523.9 171.6" fill="none" stroke="#16161f" stroke-width="1.1"/>
<ellipse cx="523.4" cy="59.0" rx="2.9" ry="2.5" fill="none" stroke="#2a2a3a" stroke-width="1.1"/>
<path d="M533.2 135.4 A4.1 4.7 0 0 1 539.6 137.9" fill="none" stroke="#7b96a4" stroke-width="1.1"/>
<ellipse cx="517.1" cy="58.4" rx="1.6" ry="1.7" fill="none" stroke="#16161f" stroke-width="1.1"/>
<ellipse cx="552.9" cy="76.7" rx="4.2" ry="4.4" fill="none" stroke="#7a2236" stroke-width="1.1"/>
<ellipse cx="516.3" cy="118.4" rx="2.2" ry="2.8" fill="none" stroke="#7b96a4" stroke-width="1.1"/>
<ellipse cx="528.6" cy="55.0" rx="2.1" ry="2.1" fill="none" stroke="#2a2a3a" stroke-width="1.1"/>
<ellipse cx="534.3" cy="101.7" rx="3.0" ry="3.0" fill="none" stroke="#2a2a3a" stroke-width="1.1"/>
<ellipse cx="570.7" cy="121.2" rx="2.4" ry="2.9" fill="none" stroke="#16161f" stroke-width="1.1"/>
<ellipse cx="543.7" cy="70.0" rx="5.4" ry="4.5" fill="none" stroke="#7a2236" stroke-width="1.1"/>
<path d="M518.0 146.7 A1.5 1.3 0 0 1 517.6 148.9" fill="none" stroke="#9aa8b0" stroke-width="1.1"/>
<path d="M535.9 85.0 A4.1 4.6 0 1 1 542.1 88.6" fill="none" stroke="#2a2a3a" stroke-width="1.1"/>
<path d="M546.0 127.1 A4.7 5.4 0 0 1 551.3 132.9" fill="none" stroke="#5a7888" stroke-width="1.1"/>
<path d="M527.1 56.8 A4.9 4.4 0 0 1 523.7 50.4" fill="none" stroke="#7b96a4" stroke-width="1.1"/>
<ellipse cx="543.8" cy="111.1" rx="3.6" ry="4.1" fill="none" stroke="#9aa8b0" stroke-width="1.1"/>
<path d="M548.3 68.6 A3.0 2.9 0 0 1 552.6 65.6" fill="none" stroke="#5a7888" stroke-width="1.1"/>
<path d="M575.3 64.2 A3.8 3.6 0 0 1 576.9 70.7" fill="none" stroke="#7b96a4" stroke-width="1.1"/>
<path d="M543.6 129.7 A5.2 5.6 0 0 1 535.8 125.3" fill="none" stroke="#7b96a4" stroke-width="1.1"/>
<ellipse cx="572.2" cy="46.6" rx="4.7" ry="4.6" fill="none" stroke="#5a7888" stroke-width="1.1"/>
<path d="M574.8 95.1 A2.2 2.1 0 1 1 575.8 98.8" fill="none" stroke="#7b96a4" stroke-width="1.1"/>
<ellipse cx="514.4" cy="177.2" rx="2.8" ry="3.1" fill="none" stroke="#9aa8b0" stroke-width="1.1"/>
<path d="M574.7 139.8 A5.1 6.0 0 1 1 577.2 150.3" fill="none" stroke="#7b96a4" stroke-width="1.1"/>
<ellipse cx="517.8" cy="153.6" rx="3.2" ry="2.9" fill="none" stroke="#16161f" stroke-width="1.1"/>
<path d="M541.0 50.1 A2.4 2.0 0 0 1 542.3 47.3" fill="none" stroke="#7a2236" stroke-width="1.1"/>
<ellipse cx="514.7" cy="135.5" rx="5.3" ry="6.1" fill="none" stroke="#16161f" stroke-width="1.1"/>
<ellipse cx="570.9" cy="172.9" rx="3.0" ry="3.2" fill="none" stroke="#7b96a4" stroke-width="1.1"/>
<path d="M579.4 87.0 A1.6 1.7 0 0 1 579.0 89.7" fill="none" stroke="#5a7888" stroke-width="1.1"/>
<path d="M559.3 145.9 A5.4 5.1 0 1 1 556.5 153.7" fill="none" stroke="#7b96a4" stroke-width="1.1"/>
<ellipse cx="577.4" cy="46.0" rx="2.0" ry="2.6" fill="none" stroke="#9aa8b0" stroke-width="1.1"/>
<path d="M565.3 106.8 A4.0 5.0 0 0 1 565.8 96.9" fill="none" stroke="#7b96a4" stroke-width="1.1"/>
<path d="M552.0 75.7 A2.1 1.9 0 1 1 555.9 75.1" fill="none" stroke="#16161f" stroke-width="1.1"/>
<path d="M538.9 133.0 A3.5 3.7 0 0 1 544.3 136.8" fill="none" stroke="#9aa8b0" stroke-width="1.1"/>
<ellipse cx="535.4" cy="128.5" rx="5.5" ry="4.4" fill="none" stroke="#7a2236" stroke-width="1.1"/>
<ellipse cx="526.6" cy="106.1" rx="2.4" ry="2.1" fill="none" stroke="#7b96a4" stroke-width="1.1"/>
<path d="M555.8 138.8 A2.7 3.3 0 0 1 560.3 139.4" fill="none" stroke="#8a6048" stroke-width="1.1"/>
<path d="M570.5 104.0 A5.0 5.6 0 1 1 571.4 92.9" fill="none" stroke="#9aa8b0" stroke-width="1.1"/>
<ellipse cx="530.4" cy="120.3" rx="2.5" ry="2.9" fill="none" stroke="#5a7888" stroke-width="1.1"/>
<path d="M561.5 67.5 A2.5 3.2 0 0 1 565.1 71.1" fill="none" stroke="#7b96a4" stroke-width="1.1"/>
<ellipse cx="565.3" cy="53.7" rx="4.8" ry="4.6" fill="none" stroke="#9aa8b0" stroke-width="1.1"/>
<ellipse cx="531.7" cy="155.5" rx="3.1" ry="4.0" fill="none" stroke="#7b96a4" stroke-width="1.1"/>
<ellipse cx="577.2" cy="49.9" rx="3.5" ry="4.5" fill="none" stroke="#9aa8b0" stroke-width="1.1"/>
<ellipse cx="555.3" cy="145.4" rx="5.0" ry="5.1" fill="none" stroke="#16161f" stroke-width="1.1"/>
<ellipse cx="571.6" cy="108.2" rx="4.0" ry="3.3" fill="none" stroke="#9aa8b0" stroke-width="1.1"/>
<ellipse cx="525.5" cy="84.9" rx="2.5" ry="2.5" fill="none" stroke="#7b96a4" stroke-width="1.1"/>
<path d="M573.2 58.8 A3.8 4.5 0 0 1 566.3 55.0" fill="none" stroke="#8a6048" stroke-width="1.1"/>
<path d="M521.3 132.1 A1.6 2.0 0 0 1 524.1 131.2" fill="none" stroke="#7b96a4" stroke-width="1.1"/>
<ellipse cx="544.1" cy="156.7" rx="4.8" ry="5.3" fill="none" stroke="#5a7888" stroke-width="1.1"/>
<ellipse cx="516.7" cy="175.1" rx="2.0" ry="2.4" fill="none" stroke="#7b96a4" stroke-width="1.1"/>
<ellipse cx="530.1" cy="145.8" rx="5.1" ry="4.7" fill="none" stroke="#7a2236" stroke-width="1.1"/>
<ellipse cx="544.9" cy="98.6" rx="3.8" ry="4.4" fill="none" stroke="#16161f" stroke-width="1.1"/>
<ellipse cx="545.0" cy="44.2" rx="3.8" ry="3.9" fill="none" stroke="#8a6048" stroke-width="1.1"/>
<path d="M522.7 132.5 A2.8 3.2 0 1 1 518.0 130.3" fill="none" stroke="#7a2236" stroke-width="1.1"/>
<ellipse cx="556.3" cy="91.9" rx="2.1" ry="2.3" fill="none" stroke="#7b96a4" stroke-width="1.1"/>
<path d="M515.7 123.6 A1.6 1.7 0 0 1 512.7 123.6" fill="none" stroke="#8a6048" stroke-width="1.1"/>
<path d="M526.7 78.6 A4.5 4.2 0 0 1 521.1 82.8" fill="none" stroke="#5a7888" stroke-width="1.1"/>
<ellipse cx="551.4" cy="60.9" rx="4.3" ry="3.8" fill="none" stroke="#8a6048" stroke-width="1.1"/>
<path d="M530.1 96.8 A2.0 2.3 0 1 1 531.9 100.8" fill="none" stroke="#7b96a4" stroke-width="1.1"/>
<path d="M575.9 173.7 A4.0 4.5 0 1 1 571.2 166.4" fill="none" stroke="#16161f" stroke-width="1.1"/>
<path d="M573.1 136.5 A2.9 2.8 0 1 1 567.6 136.0" fill="none" stroke="#9aa8b0" stroke-width="1.1"/>
<ellipse cx="525.5" cy="156.3" rx="4.0" ry="4.1" fill="none" stroke="#16161f" stroke-width="1.1"/>
<path d="M544.9 147.2 A1.9 2.0 0 1 1 545.1 151.2" fill="none" stroke="#16161f" stroke-width="1.1"/>
<path d="M544.0 44.6 A4.8 5.5 0 0 1 552.7 47.3" fill="none" stroke="#16161f" stroke-width="1.1"/>
<path d="M546.8 63.6 A4.6 4.3 0 0 1 543.6 69.3" fill="none" stroke="#9aa8b0" stroke-width="1.1"/>
<ellipse cx="529.3" cy="148.0" rx="2.3" ry="2.0" fill="none" stroke="#8a6048" stroke-width="1.1"/>
<path d="M561.2 144.5 A3.5 3.7 0 1 1 563.0 137.4" fill="none" stroke="#7a2236" stroke-width="1.1"/>
<path d="M580.3 132.0 A5.1 4.7 0 0 1 577.0 140.0" fill="none" stroke="#7b96a4" stroke-width="1.1"/>
<path d="M550.1 64.2 A1.5 1.9 0 0 1 549.7 67.2" fill="none" stroke="#7a2236" stroke-width="1.1"/>
<ellipse cx="526.3" cy="52.3" rx="4.0" ry="3.7" fill="none" stroke="#2a2a3a" stroke-width="1.1"/>
<ellipse cx="569.8" cy="103.5" rx="4.1" ry="3.6" fill="none" stroke="#7b96a4" stroke-width="1.1"/>
<path d="M540.7 134.6 A2.8 2.4 0 0 1 545.4 136.8" fill="none" stroke="#2a2a3a" stroke-width="1.1"/>
<path d="M562.7 118.8 A3.9 3.4 0 1 1 564.2 124.0" fill="none" stroke="#7b96a4" stroke-width="1.1"/>
<ellipse cx="562.4" cy="156.2" rx="4.1" ry="3.9" fill="none" stroke="#16161f" stroke-width="1.1"/>
<path d="M519.9 47.1 A1.9 2.4 0 0 1 521.0 43.2" fill="none" stroke="#5a7888" stroke-width="1.1"/>
<path d="M551.0 119.1 A1.7 1.4 0 1 1 548.3 119.4" fill="none" stroke="#2a2a3a" stroke-width="1.1"/>
<path d="M517.1 154.5 A2.4 2.6 0 1 1 516.5 159.4" fill="none" stroke="#5a7888" stroke-width="1.1"/>
<path d="M529.4 79.5 A5.4 6.2 0 1 1 539.9 77.0" fill="none" stroke="#2a2a3a" stroke-width="1.1"/>
<ellipse cx="570.3" cy="57.1" rx="4.9" ry="4.4" fill="none" stroke="#7b96a4" stroke-width="1.1"/>
<ellipse cx="545.5" cy="91.6" rx="3.9" ry="3.2" fill="none" stroke="#16161f" stroke-width="1.1"/>
<path d="M535.2 120.7 A2.6 3.0 0 0 1 535.4 114.7" fill="none" stroke="#16161f" stroke-width="1.1"/>
<ellipse cx="557.2" cy="135.6" rx="2.3" ry="2.1" fill="none" stroke="#5a7888" stroke-width="1.1"/>
<path d="M551.3 163.9 A4.1 3.6 0 1 1 549.0 157.3" fill="none" stroke="#5a7888" stroke-width="1.1"/>
<ellipse cx="574.0" cy="143.8" rx="4.6" ry="4.3" fill="none" stroke="#8a6048" stroke-width="1.1"/>
<path d="M538.8 62.1 A2.7 2.3 0 0 1 538.8 58.4" fill="none" stroke="#7a2236" stroke-width="1.1"/>
<ellipse cx="578.9" cy="57.0" rx="2.8" ry="3.5" fill="none" stroke="#7b96a4" stroke-width="1.1"/>
<path d="M560.4 175.8 A2.7 2.9 0 0 1 562.7 172.0" fill="none" stroke="#7b96a4" stroke-width="1.1"/>
<path d="M543.3 150.8 A4.6 3.9 0 1 1 548.1 156.5" fill="none" stroke="#8a6048" stroke-width="1.1"/>
<path d="M558.0 68.6 A1.6 1.4 0 0 1 555.1 68.0" fill="none" stroke="#8a6048" stroke-width="1.1"/>
<path d="M530.9 142.0 A5.4 6.0 0 1 1 522.2 137.2" fill="none" stroke="#2a2a3a" stroke-width="1.1"/>
<ellipse cx="547.3" cy="136.3" rx="5.3" ry="6.1" fill="none" stroke="#7b96a4" stroke-width="1.1"/>
<path d="M539.2 100.8 A3.2 3.6 0 1 1 535.8 106.8" fill="none" stroke="#7b96a4" stroke-width="1.1"/>
<path d="M548.3 169.6 A3.3 3.2 0 0 1 554.1 172.7" fill="none" stroke="#2a2a3a" stroke-width="1.1"/>
<path d="M542.5 119.6 A4.7 5.9 0 0 1 539.5 129.8" fill="none" stroke="#9aa8b0" stroke-width="1.1"/>
<ellipse cx="546.5" cy="53.6" rx="4.2" ry="4.7" fill="none" stroke="#5a7888" stroke-width="1.1"/>
<path d="M520.6 58.0 A3.8 4.1 0 1 1 527.4 54.8" fill="none" stroke="#2a2a3a" stroke-width="1.1"/>
<path d="M544.7 86.0 A2.3 1.9 0 0 1 546.4 83.2" fill="none" stroke="#7b96a4" stroke-width="1.1"/>
<path d="M554.4 165.5 A3.8 4.0 0 1 1 556.9 172.9" fill="none" stroke="#2a2a3a" stroke-width="1.1"/>
<path d="M551.3 146.7 A3.3 4.0 0 0 1 553.3 154.1" fill="none" stroke="#9aa8b0" stroke-width="1.1"/>
<path d="M582.1 52.8 A2.7 3.0 0 1 1 580.9 47.6" fill="none" stroke="#9aa8b0" stroke-width="1.1"/>
<ellipse cx="538.8" cy="44.9" rx="3.4" ry="3.9" fill="none" stroke="#5a7888" stroke-width="1.1"/>
<path d="M580.4 137.0 A4.3 5.5 0 1 1 573.7 130.7" fill="none" stroke="#5a7888" stroke-width="1.1"/>
<path d="M545.9 105.9 A4.9 4.3 0 1 1 553.8 110.9" fill="none" stroke="#7b96a4" stroke-width="1.1"/>
<ellipse cx="527.4" cy="147.9" rx="2.5" ry="2.1" fill="none" stroke="#7a2236" stroke-width="1.1"/>
<path d="M565.9 93.8 A4.4 4.0 0 1 1 566.8 101.8" fill="none" stroke="#2a2a3a" stroke-width="1.1"/>
<path d="M561.3 124.3 A2.7 3.0 0 0 1 566.2 121.9" fill="none" stroke="#5a7888" stroke-width="1.1"/>
<path d="M566.8 175.4 A2.5 2.1 0 0 1 564.7 178.6" fill="none" stroke="#16161f" stroke-width="1.1"/>
<path d="M531.5 108.8 A3.5 4.2 0 1 1 535.1 101.7" fill="none" stroke="#7b96a4" stroke-width="1.1"/>
<path d="M534.2 147.4 A3.4 3.3 0 0 1 540.4 149.9" fill="none" stroke="#16161f" stroke-width="1.1"/>
<ellipse cx="549.8" cy="110.2" rx="5.4" ry="5.3" fill="none" stroke="#7b96a4" stroke-width="1.1"/>
<ellipse cx="549.6" cy="172.6" rx="2.7" ry="2.8" fill="none" stroke="#7b96a4" stroke-width="1.1"/>
<path d="M548.9 68.3 A4.7 5.0 0 1 1 547.0 59.3" fill="none" stroke="#9aa8b0" stroke-width="1.1"/>
<path d="M515.1 83.8 A4.2 4.0 0 1 1 517.3 91.6" fill="none" stroke="#7a2236" stroke-width="1.1"/>
<ellipse cx="580.4" cy="49.1" rx="2.4" ry="2.7" fill="none" stroke="#7a2236" stroke-width="1.1"/>
<path d="M518.7 93.6 A1.6 1.8 0 1 1 521.1 94.7" fill="none" stroke="#2a2a3a" stroke-width="1.1"/>
<ellipse cx="539.2" cy="171.4" rx="3.7" ry="4.6" fill="none" stroke="#16161f" stroke-width="1.1"/>
<ellipse cx="567.8" cy="130.0" rx="5.2" ry="4.8" fill="none" stroke="#2a2a3a" stroke-width="1.1"/>
<ellipse cx="572.9" cy="107.6" rx="2.5" ry="2.5" fill="none" stroke="#7b96a4" stroke-width="1.1"/>
<path d="M560.2 79.0 A4.4 4.9 0 1 1 567.9 83.8" fill="none" stroke="#8a6048" stroke-width="1.1"/>
<ellipse cx="578.8" cy="131.1" rx="2.0" ry="2.4" fill="none" stroke="#8a6048" stroke-width="1.1"/>
<ellipse cx="548.5" cy="150.7" rx="3.7" ry="3.4" fill="none" stroke="#5a7888" stroke-width="1.1"/>
<ellipse cx="525.1" cy="120.6" rx="4.0" ry="4.6" fill="none" stroke="#2a2a3a" stroke-width="1.1"/>
<ellipse cx="533.5" cy="152.5" rx="4.3" ry="3.5" fill="none" stroke="#9aa8b0" stroke-width="1.1"/>
<path d="M549.9 64.6 A3.3 3.3 0 0 1 551.4 59.8" fill="none" stroke="#2a2a3a" stroke-width="1.1"/>
<ellipse cx="564.7" cy="109.0" rx="4.8" ry="5.2" fill="none" stroke="#7b96a4" stroke-width="1.1"/>
<ellipse cx="515.8" cy="98.5" rx="4.9" ry="5.3" fill="none" stroke="#7b96a4" stroke-width="1.1"/>
<ellipse cx="562.4" cy="99.4" rx="4.9" ry="4.7" fill="none" stroke="#7b96a4" stroke-width="1.1"/>
<ellipse cx="576.2" cy="47.1" rx="3.1" ry="2.7" fill="none" stroke="#7b96a4" stroke-width="1.1"/>
<path d="M528.3 121.6 A4.8 5.2 0 0 1 534.4 116.2" fill="none" stroke="#2a2a3a" stroke-width="1.1"/>
<path d="M554.3 105.0 A4.4 3.6 0 0 1 555.0 110.8" fill="none" stroke="#8a6048" stroke-width="1.1"/>
<path d="M521.7 112.6 A4.9 4.8 0 0 1 519.9 103.3" fill="none" stroke="#7b96a4" stroke-width="1.1"/>
<ellipse cx="542.8" cy="99.4" rx="2.6" ry="2.7" fill="none" stroke="#2a2a3a" stroke-width="1.1"/>
<ellipse cx="573.7" cy="96.2" rx="4.7" ry="4.2" fill="none" stroke="#8a6048" stroke-width="1.1"/>
<path d="M564.3 181.3 A4.0 3.2 0 0 1 563.9 176.1" fill="none" stroke="#7b96a4" stroke-width="1.1"/>
<path d="M583.2 120.5 A4.7 5.1 0 0 1 577.8 124.6" fill="none" stroke="#5a7888" stroke-width="1.1"/>
<path d="M541.8 159.8 A5.1 5.2 0 1 1 538.6 168.6" fill="none" stroke="#16161f" stroke-width="1.1"/>
<ellipse cx="556.1" cy="80.5" rx="4.9" ry="5.7" fill="none" stroke="#9aa8b0" stroke-width="1.1"/>
<path d="M555.5 65.9 A4.3 3.9 0 1 1 548.0 62.9" fill="none" stroke="#16161f" stroke-width="1.1"/>
<path d="M565.5 47.2 A3.4 3.1 0 0 1 562.0 44.0" fill="none" stroke="#7a2236" stroke-width="1.1"/>
<ellipse cx="535.9" cy="146.9" rx="4.0" ry="3.9" fill="none" stroke="#7b96a4" stroke-width="1.1"/>
<path d="M546.7 171.6 A3.3 3.5 0 1 1 548.7 165.1" fill="none" stroke="#5a7888" stroke-width="1.1"/>
<path d="M536.9 162.8 A2.7 3.2 0 0 1 539.4 168.5" fill="none" stroke="#8a6048" stroke-width="1.1"/>
<ellipse cx="575.5" cy="64.8" rx="4.5" ry="4.4" fill="none" stroke="#16161f" stroke-width="1.1"/>
<path d="M527.7 120.1 A4.4 4.4 0 1 1 519.4 121.2" fill="none" stroke="#7b96a4" stroke-width="1.1"/>
<path d="M559.2 54.2 A4.7 5.4 0 1 1 562.1 44.0" fill="none" stroke="#9aa8b0" stroke-width="1.1"/>
<ellipse cx="549.6" cy="155.8" rx="1.7" ry="1.9" fill="none" stroke="#7b96a4" stroke-width="1.1"/>
<ellipse cx="520.1" cy="72.9" rx="4.3" ry="4.5" fill="none" stroke="#16161f" stroke-width="1.1"/>
<path d="M538.0 82.0 A1.8 2.1 0 0 1 539.1 78.0" fill="none" stroke="#7b96a4" stroke-width="1.1"/>
<ellipse cx="568.4" cy="136.5" rx="1.8" ry="2.3" fill="none" stroke="#8a6048" stroke-width="1.1"/>
<ellipse cx="539.4" cy="71.2" rx="4.1" ry="3.6" fill="none" stroke="#7b96a4" stroke-width="1.1"/>
<path d="M525.8 122.6 A3.2 3.8 0 0 1 521.5 119.0" fill="none" stroke="#8a6048" stroke-width="1.1"/>
<ellipse cx="571.0" cy="127.5" rx="4.3" ry="3.8" fill="none" stroke="#2a2a3a" stroke-width="1.1"/>
<path d="M516.9 68.5 A2.4 3.0 0 1 1 512.2 66.9" fill="none" stroke="#16161f" stroke-width="1.1"/>
<path d="M565.4 84.5 A2.9 3.6 0 1 1 565.8 91.1" fill="none" stroke="#16161f" stroke-width="1.1"/>
<ellipse cx="536.1" cy="91.3" rx="4.3" ry="4.4" fill="none" stroke="#16161f" stroke-width="1.1"/>
<path d="M557.5 154.7 A4.3 4.4 0 0 1 554.3 146.6" fill="none" stroke="#16161f" stroke-width="1.1"/>
<ellipse cx="569.3" cy="112.9" rx="2.0" ry="2.5" fill="none" stroke="#7b96a4" stroke-width="1.1"/>
<path d="M533.4 83.3 A1.8 2.1 0 0 1 536.9 84.4" fill="none" stroke="#5a7888" stroke-width="1.1"/>
<ellipse cx="520.2" cy="80.4" rx="3.3" ry="3.4" fill="none" stroke="#8a6048" stroke-width="1.1"/>
<path d="M551.3 137.5 A2.0 2.3 0 1 1 548.1 139.8" fill="none" stroke="#16161f" stroke-width="1.1"/>
<ellipse cx="517.0" cy="170.9" rx="3.0" ry="3.1" fill="none" stroke="#7b96a4" stroke-width="1.1"/>
<ellipse cx="532.0" cy="69.8" rx="4.6" ry="5.7" fill="none" stroke="#7b96a4" stroke-width="1.1"/>
<ellipse cx="571.5" cy="80.5" rx="3.7" ry="3.2" fill="none" stroke="#9aa8b0" stroke-width="1.1"/>
<ellipse cx="520.4" cy="154.6" rx="4.6" ry="5.1" fill="none" stroke="#9aa8b0" stroke-width="1.1"/>
<ellipse cx="525.7" cy="125.9" rx="4.7" ry="3.8" fill="none" stroke="#8a6048" stroke-width="1.1"/>
<path d="M514.8 126.2 A3.8 4.3 0 0 1 519.3 129.2" fill="none" stroke="#7b96a4" stroke-width="1.1"/>
<ellipse cx="545.1" cy="69.4" rx="4.6" ry="4.5" fill="none" stroke="#7b96a4" stroke-width="1.1"/>
<ellipse cx="566.4" cy="130.7" rx="4.8" ry="4.9" fill="none" stroke="#7b96a4" stroke-width="1.1"/>
<ellipse cx="535.2" cy="115.4" rx="5.2" ry="4.4" fill="none" stroke="#16161f" stroke-width="1.1"/>
<ellipse cx="530.5" cy="159.5" rx="3.1" ry="2.7" fill="none" stroke="#7b96a4" stroke-width="1.1"/>
<ellipse cx="551.4" cy="84.3" rx="2.6" ry="2.4" fill="none" stroke="#7a2236" stroke-width="1.1"/>
<ellipse cx="519.3" cy="161.3" rx="4.7" ry="5.6" fill="none" stroke="#16161f" stroke-width="1.1"/>
<path d="M553.9 85.5 A2.6 2.5 0 1 1 551.0 89.7" fill="none" stroke="#9aa8b0" stroke-width="1.1"/>
<ellipse cx="574.8" cy="135.4" rx="3.8" ry="3.3" fill="none" stroke="#2a2a3a" stroke-width="1.1"/>
<ellipse cx="514.5" cy="172.7" rx="2.0" ry="2.4" fill="none" stroke="#9aa8b0" stroke-width="1.1"/>
<path d="M510.6 45.6 A4.3 5.1 0 0 1 517.9 46.5" fill="none" stroke="#16161f" stroke-width="1.1"/>
<ellipse cx="547.0" cy="148.1" rx="4.0" ry="4.9" fill="none" stroke="#9aa8b0" stroke-width="1.1"/>
<ellipse cx="542.5" cy="70.9" rx="3.8" ry="4.2" fill="none" stroke="#5a7888" stroke-width="1.1"/>
<ellipse cx="541.2" cy="125.4" rx="3.5" ry="3.6" fill="none" stroke="#16161f" stroke-width="1.1"/>
<path d="M538.3 166.9 A5.0 5.0 0 0 1 542.3 158.4" fill="none" stroke="#16161f" stroke-width="1.1"/>
<path d="M549.2 164.4 A4.6 4.9 0 1 1 545.8 156.3" fill="none" stroke="#16161f" stroke-width="1.1"/>
<path d="M542.3 45.3 A3.4 3.9 0 1 1 539.4 50.7" fill="none" stroke="#16161f" stroke-width="1.1"/>
<ellipse cx="525.8" cy="121.4" rx="3.0" ry="3.0" fill="none" stroke="#7b96a4" stroke-width="1.1"/>
<ellipse cx="551.5" cy="92.7" rx="2.7" ry="3.5" fill="none" stroke="#5a7888" stroke-width="1.1"/>
<path d="M563.8 127.3 A2.4 2.4 0 0 1 561.2 130.9" fill="none" stroke="#5a7888" stroke-width="1.1"/>
<path d="M574.0 68.6 A2.2 2.4 0 0 1 573.9 64.3" fill="none" stroke="#7b96a4" stroke-width="1.1"/>
<ellipse cx="566.6" cy="71.0" rx="2.4" ry="2.2" fill="none" stroke="#2a2a3a" stroke-width="1.1"/>
<path d="M560.7 90.9 A4.5 5.2 0 1 1 568.1 95.0" fill="none" stroke="#8a6048" stroke-width="1.1"/>
<path d="M542.2 148.9 A4.3 4.5 0 0 1 548.9 154.2" fill="none" stroke="#8a6048" stroke-width="1.1"/>
<ellipse cx="531.8" cy="141.0" rx="5.0" ry="4.9" fill="none" stroke="#5a7888" stroke-width="1.1"/>
<path d="M548.6 145.3 A2.2 1.8 0 1 1 552.4 143.7" fill="none" stroke="#16161f" stroke-width="1.1"/>
<ellipse cx="573.9" cy="59.2" rx="1.9" ry="2.1" fill="none" stroke="#7b96a4" stroke-width="1.1"/>
<path d="M568.6 142.4 A3.3 3.6 0 0 1 564.5 138.8" fill="none" stroke="#7a2236" stroke-width="1.1"/>
<ellipse cx="547.3" cy="161.8" rx="3.2" ry="2.8" fill="none" stroke="#5a7888" stroke-width="1.1"/>
<path d="M533.7 163.4 A5.1 5.7 0 1 1 533.9 172.8" fill="none" stroke="#16161f" stroke-width="1.1"/>
<ellipse cx="558.6" cy="69.0" rx="4.0" ry="3.7" fill="none" stroke="#8a6048" stroke-width="1.1"/>
<ellipse cx="546.9" cy="112.1" rx="2.4" ry="2.1" fill="none" stroke="#8a6048" stroke-width="1.1"/>
<path d="M568.4 60.8 A2.7 3.4 0 0 1 568.7 54.0" fill="none" stroke="#7b96a4" stroke-width="1.1"/>
<ellipse cx="523.0" cy="68.7" rx="5.5" ry="5.6" fill="none" stroke="#7b96a4" stroke-width="1.1"/>
<path d="M571.1 181.4 A4.8 5.0 0 1 1 576.0 174.9" fill="none" stroke="#2a2a3a" stroke-width="1.1"/>
<ellipse cx="567.2" cy="148.0" rx="3.2" ry="3.0" fill="none" stroke="#9aa8b0" stroke-width="1.1"/>
<ellipse cx="538.7" cy="159.6" rx="2.1" ry="2.3" fill="none" stroke="#5a7888" stroke-width="1.1"/>
<ellipse cx="545.9" cy="79.4" rx="3.4" ry="3.0" fill="none" stroke="#7b96a4" stroke-width="1.1"/>
<ellipse cx="536.0" cy="87.0" rx="2.7" ry="3.1" fill="none" stroke="#16161f" stroke-width="1.1"/>
<path d="M525.8 85.1 A4.0 3.3 0 0 1 518.5 87.4" fill="none" stroke="#16161f" stroke-width="1.1"/>
<path d="M518.5 109.1 A3.4 2.9 0 1 1 512.0 107.5" fill="none" stroke="#7b96a4" stroke-width="1.1"/>
<path d="M564.8 127.0 A1.8 2.2 0 0 1 566.3 130.7" fill="none" stroke="#7b96a4" stroke-width="1.1"/>
<ellipse cx="565.5" cy="66.7" rx="3.5" ry="3.5" fill="none" stroke="#9aa8b0" stroke-width="1.1"/>
<path d="M540.5 79.9 A3.9 4.2 0 0 1 541.5 88.0" fill="none" stroke="#7a2236" stroke-width="1.1"/>
<ellipse cx="558.4" cy="177.0" rx="1.9" ry="2.0" fill="none" stroke="#7b96a4" stroke-width="1.1"/>
<path d="M536.6 79.5 A3.8 3.9 0 1 1 542.7 79.2" fill="none" stroke="#9aa8b0" stroke-width="1.1"/>
<ellipse cx="568.5" cy="173.5" rx="3.4" ry="2.8" fill="none" stroke="#8a6048" stroke-width="1.1"/>
<path d="M582.9 180.2 A3.2 3.8 0 0 1 577.8 175.8" fill="none" stroke="#2a2a3a" stroke-width="1.1"/>
<path d="M526.8 72.4 A5.2 4.4 0 1 1 528.5 81.0" fill="none" stroke="#7a2236" stroke-width="1.1"/>
<path d="M534.9 98.1 A5.0 5.1 0 1 1 541.7 92.1" fill="none" stroke="#9aa8b0" stroke-width="1.1"/>
<path d="M543.2 108.0 A2.3 2.9 0 0 1 539.2 105.5" fill="none" stroke="#2a2a3a" stroke-width="1.1"/>
<path d="M571.7 106.2 A4.9 5.0 0 1 1 562.7 103.9" fill="none" stroke="#7b96a4" stroke-width="1.1"/>
<path d="M546.9 51.1 A3.2 4.2 0 0 1 549.7 46.2" fill="none" stroke="#7b96a4" stroke-width="1.1"/>
<ellipse cx="576.3" cy="135.2" rx="3.5" ry="4.0" fill="none" stroke="#2a2a3a" stroke-width="1.1"/>
<ellipse cx="535.9" cy="125.2" rx="3.7" ry="4.3" fill="none" stroke="#5a7888" stroke-width="1.1"/>
<ellipse cx="532.8" cy="92.7" rx="2.6" ry="3.1" fill="none" stroke="#5a7888" stroke-width="1.1"/>
<ellipse cx="566.6" cy="45.4" rx="2.5" ry="2.6" fill="none" stroke="#16161f" stroke-width="1.1"/>
<ellipse cx="574.4" cy="119.9" rx="3.0" ry="3.4" fill="none" stroke="#9aa8b0" stroke-width="1.1"/>
<ellipse cx="536.7" cy="79.3" rx="4.4" ry="4.7" fill="none" stroke="#5a7888" stroke-width="1.1"/>
<path d="M517.1 148.7 A4.7 4.4 0 0 1 519.7 156.1" fill="none" stroke="#9aa8b0" stroke-width="1.1"/>
<path d="M519.0 39.8 A5.1 4.5 0 0 1 524.6 43.8" fill="none" stroke="#7b96a4" stroke-width="1.1"/>
<path d="M571.5 96.8 A4.8 4.8 0 1 1 563.8 91.3" fill="none" stroke="#9aa8b0" stroke-width="1.1"/>
<ellipse cx="518.7" cy="137.6" rx="2.7" ry="2.6" fill="none" stroke="#7b96a4" stroke-width="1.1"/>
<ellipse cx="538.1" cy="166.9" rx="2.2" ry="2.5" fill="none" stroke="#2a2a3a" stroke-width="1.1"/>
<ellipse cx="516.8" cy="158.5" rx="1.9" ry="1.9" fill="none" stroke="#8a6048" stroke-width="1.1"/>
<path d="M578.6 125.8 A2.7 2.5 0 1 1 576.2 121.4" fill="none" stroke="#7b96a4" stroke-width="1.1"/>
<ellipse cx="563.3" cy="67.4" rx="3.8" ry="3.4" fill="none" stroke="#5a7888" stroke-width="1.1"/>
<ellipse cx="557.8" cy="133.8" rx="3.1" ry="3.0" fill="none" stroke="#7b96a4" stroke-width="1.1"/>
<ellipse cx="556.9" cy="76.2" rx="4.7" ry="5.5" fill="none" stroke="#2a2a3a" stroke-width="1.1"/>
<ellipse cx="576.6" cy="65.2" rx="3.4" ry="4.0" fill="none" stroke="#8a6048" stroke-width="1.1"/>
<path d="M553.3 117.0 A3.9 3.8 0 1 1 559.8 120.9" fill="none" stroke="#7b96a4" stroke-width="1.1"/>
<ellipse cx="573.5" cy="78.4" rx="2.1" ry="2.2" fill="none" stroke="#2a2a3a" stroke-width="1.1"/>
<ellipse cx="528.2" cy="139.0" rx="1.7" ry="1.8" fill="none" stroke="#8a6048" stroke-width="1.1"/>
<path d="M548.1 127.9 A3.8 4.3 0 1 1 544.4 121.5" fill="none" stroke="#5a7888" stroke-width="1.1"/>
<ellipse cx="534.6" cy="178.8" rx="3.8" ry="4.7" fill="none" stroke="#7b96a4" stroke-width="1.1"/>
<ellipse cx="577.5" cy="77.7" rx="3.5" ry="3.3" fill="none" stroke="#7b96a4" stroke-width="1.1"/>
<path d="M556.5 123.9 A2.6 2.9 0 1 1 558.4 129.2" fill="none" stroke="#7a2236" stroke-width="1.1"/>
<ellipse cx="546.9" cy="162.9" rx="4.5" ry="3.8" fill="none" stroke="#7b96a4" stroke-width="1.1"/>
<path d="M555.5 143.1 A4.6 4.2 0 1 1 564.5 144.4" fill="none" stroke="#16161f" stroke-width="1.1"/>
<ellipse cx="558.4" cy="103.4" rx="2.7" ry="2.3" fill="none" stroke="#16161f" stroke-width="1.1"/>
<ellipse cx="541.2" cy="87.4" rx="3.2" ry="3.0" fill="none" stroke="#7b96a4" stroke-width="1.1"/>
<path d="M561.3 55.7 A1.8 1.8 0 0 1 557.7 55.8" fill="none" stroke="#7b96a4" stroke-width="1.1"/>
<ellipse cx="578.2" cy="143.6" rx="2.1" ry="2.2" fill="none" stroke="#2a2a3a" stroke-width="1.1"/>
<ellipse cx="540.6" cy="102.1" rx="2.7" ry="2.5" fill="none" stroke="#16161f" stroke-width="1.1"/>
<ellipse cx="529.7" cy="101.1" rx="4.0" ry="3.4" fill="none" stroke="#5a7888" stroke-width="1.1"/>
<ellipse cx="545.2" cy="94.1" rx="3.8" ry="3.4" fill="none" stroke="#7b96a4" stroke-width="1.1"/>
<path d="M554.4 104.1 A1.8 2.1 0 1 1 555.9 101.2" fill="none" stroke="#9aa8b0" stroke-width="1.1"/>
<path d="M556.8 99.1 A1.9 2.3 0 0 1 553.1 99.5" fill="none" stroke="#9aa8b0" stroke-width="1.1"/>
<ellipse cx="556.4" cy="127.8" rx="2.7" ry="3.2" fill="none" stroke="#7b96a4" stroke-width="1.1"/>
<path d="M524.3 63.1 A3.2 3.4 0 0 1 519.2 65.6" fill="none" stroke="#5a7888" stroke-width="1.1"/>
<ellipse cx="553.2" cy="92.8" rx="2.9" ry="3.5" fill="none" stroke="#7b96a4" stroke-width="1.1"/>
<ellipse cx="575.8" cy="73.0" rx="4.4" ry="4.2" fill="none" stroke="#7b96a4" stroke-width="1.1"/>
<path d="M574.9 106.7 A1.9 1.9 0 0 1 571.2 106.8" fill="none" stroke="#7b96a4" stroke-width="1.1"/>
<path d="M573.6 103.2 A4.5 3.8 0 1 1 574.2 96.5" fill="none" stroke="#2a2a3a" stroke-width="1.1"/>
<ellipse cx="553.0" cy="86.8" rx="2.9" ry="2.7" fill="none" stroke="#7b96a4" stroke-width="1.1"/>
<ellipse cx="548.8" cy="172.4" rx="3.9" ry="4.4" fill="none" stroke="#16161f" stroke-width="1.1"/>
<ellipse cx="567.1" cy="142.2" rx="3.6" ry="4.7" fill="none" stroke="#5a7888" stroke-width="1.1"/>
<ellipse cx="519.9" cy="143.2" rx="2.6" ry="2.4" fill="none" stroke="#5a7888" stroke-width="1.1"/>
<ellipse cx="538.3" cy="122.0" rx="3.2" ry="3.8" fill="none" stroke="#16161f" stroke-width="1.1"/>
<ellipse cx="549.0" cy="73.2" rx="1.5" ry="1.4" fill="none" stroke="#5a7888" stroke-width="1.1"/>
<ellipse cx="536.9" cy="130.3" rx="4.4" ry="3.9" fill="none" stroke="#8a6048" stroke-width="1.1"/>
<ellipse cx="522.2" cy="59.2" rx="3.6" ry="4.6" fill="none" stroke="#9aa8b0" stroke-width="1.1"/>
<ellipse cx="528.0" cy="85.1" rx="2.4" ry="2.0" fill="none" stroke="#7b96a4" stroke-width="1.1"/>
<ellipse cx="565.2" cy="83.9" rx="2.5" ry="2.2" fill="none" stroke="#7a2236" stroke-width="1.1"/>
<ellipse cx="566.2" cy="170.2" rx="2.1" ry="2.3" fill="none" stroke="#9aa8b0" stroke-width="1.1"/>
<ellipse cx="540.2" cy="179.7" rx="4.5" ry="4.2" fill="none" stroke="#7b96a4" stroke-width="1.1"/>
<ellipse cx="521.2" cy="164.4" rx="4.3" ry="4.7" fill="none" stroke="#9aa8b0" stroke-width="1.1"/>
<ellipse cx="539.5" cy="171.5" rx="3.1" ry="2.5" fill="none" stroke="#7b96a4" stroke-width="1.1"/>
<path d="M557.1 70.1 A5.5 6.8 0 0 1 561.1 81.6" fill="none" stroke="#9aa8b0" stroke-width="1.1"/>
<ellipse cx="553.0" cy="58.0" rx="5.6" ry="4.8" fill="none" stroke="#8aa2ac" stroke-width="1.8"/>
<ellipse cx="553.0" cy="58.0" rx="7.0" ry="6.0" fill="none" stroke="#3a3a48" stroke-width="0.9"/>
<ellipse cx="553.0" cy="58.0" rx="3.6" ry="3.0" fill="#f4f4f4" stroke="#3a3a4a" stroke-width="1.0"/>
<ellipse cx="553.0" cy="58.0" rx="1.6" ry="1.4" fill="#9a2a44"/>
<ellipse cx="556.0" cy="88.0" rx="6.2" ry="5.3" fill="none" stroke="#8aa2ac" stroke-width="1.8"/>
<ellipse cx="556.0" cy="88.0" rx="7.7" ry="6.6" fill="none" stroke="#3a3a48" stroke-width="0.9"/>
<ellipse cx="556.0" cy="88.0" rx="4.0" ry="3.3" fill="#f4f4f4" stroke="#3a3a4a" stroke-width="1.0"/>
<ellipse cx="556.0" cy="88.0" rx="1.8" ry="1.5" fill="#9a2a44"/>
<ellipse cx="540.0" cy="76.0" rx="5.6" ry="4.8" fill="none" stroke="#8aa2ac" stroke-width="1.8"/>
<ellipse cx="540.0" cy="76.0" rx="7.0" ry="6.0" fill="none" stroke="#3a3a48" stroke-width="0.9"/>
<ellipse cx="540.0" cy="76.0" rx="3.6" ry="3.0" fill="#f4f4f4" stroke="#3a3a4a" stroke-width="1.0"/>
<ellipse cx="540.0" cy="76.0" rx="1.6" ry="1.4" fill="#9a2a44"/>
<ellipse cx="569.0" cy="72.0" rx="5.0" ry="4.3" fill="none" stroke="#8aa2ac" stroke-width="1.8"/>
<ellipse cx="569.0" cy="72.0" rx="6.3" ry="5.4" fill="none" stroke="#3a3a48" stroke-width="0.9"/>
<ellipse cx="569.0" cy="72.0" rx="3.2" ry="2.7" fill="#f4f4f4" stroke="#3a3a4a" stroke-width="1.0"/>
<ellipse cx="569.0" cy="72.0" rx="1.4" ry="1.3" fill="#9a2a44"/>
<ellipse cx="562.0" cy="114.0" rx="5.6" ry="4.8" fill="none" stroke="#8aa2ac" stroke-width="1.8"/>
<ellipse cx="562.0" cy="114.0" rx="7.0" ry="6.0" fill="none" stroke="#3a3a48" stroke-width="0.9"/>
<ellipse cx="562.0" cy="114.0" rx="3.6" ry="3.0" fill="#f4f4f4" stroke="#3a3a4a" stroke-width="1.0"/>
<ellipse cx="562.0" cy="114.0" rx="1.6" ry="1.4" fill="#9a2a44"/>
<ellipse cx="548.0" cy="126.0" rx="5.3" ry="4.6" fill="none" stroke="#8aa2ac" stroke-width="1.8"/>
<ellipse cx="548.0" cy="126.0" rx="6.6" ry="5.7" fill="none" stroke="#3a3a48" stroke-width="0.9"/>
<ellipse cx="548.0" cy="126.0" rx="3.4" ry="2.8" fill="#f4f4f4" stroke="#3a3a4a" stroke-width="1.0"/>
<ellipse cx="548.0" cy="126.0" rx="1.5" ry="1.3" fill="#9a2a44"/>
<ellipse cx="566.0" cy="140.0" rx="5.0" ry="4.3" fill="none" stroke="#8aa2ac" stroke-width="1.8"/>
<ellipse cx="566.0" cy="140.0" rx="6.3" ry="5.4" fill="none" stroke="#3a3a48" stroke-width="0.9"/>
<ellipse cx="566.0" cy="140.0" rx="3.2" ry="2.7" fill="#f4f4f4" stroke="#3a3a4a" stroke-width="1.0"/>
<ellipse cx="566.0" cy="140.0" rx="1.4" ry="1.3" fill="#9a2a44"/>
<ellipse cx="545.0" cy="160.0" rx="5.6" ry="4.8" fill="none" stroke="#8aa2ac" stroke-width="1.8"/>
<ellipse cx="545.0" cy="160.0" rx="7.0" ry="6.0" fill="none" stroke="#3a3a48" stroke-width="0.9"/>
<ellipse cx="545.0" cy="160.0" rx="3.6" ry="3.0" fill="#f4f4f4" stroke="#3a3a4a" stroke-width="1.0"/>
<ellipse cx="545.0" cy="160.0" rx="1.6" ry="1.4" fill="#9a2a44"/>
<ellipse cx="528.0" cy="152.0" rx="5.0" ry="4.3" fill="none" stroke="#8aa2ac" stroke-width="1.8"/>
<ellipse cx="528.0" cy="152.0" rx="6.3" ry="5.4" fill="none" stroke="#3a3a48" stroke-width="0.9"/>
<ellipse cx="528.0" cy="152.0" rx="3.2" ry="2.7" fill="#f4f4f4" stroke="#3a3a4a" stroke-width="1.0"/>
<ellipse cx="528.0" cy="152.0" rx="1.4" ry="1.3" fill="#9a2a44"/>
</g>
<g clip-path="url(#cstr)">
<path d="M613.7 66.6 A2.8 3.8 0 0 1 609.3 69.0" fill="none" stroke="#16161f" stroke-width="1.1"/>
<ellipse cx="605.5" cy="134.8" rx="1.4" ry="1.8" fill="none" stroke="#16161f" stroke-width="1.1"/>
<path d="M612.3 78.9 A1.3 1.4 0 0 1 612.2 81.2" fill="none" stroke="#7a2236" stroke-width="1.1"/>
<path d="M608.4 145.0 A1.7 1.4 0 1 1 609.6 142.3" fill="none" stroke="#16161f" stroke-width="1.1"/>
<ellipse cx="612.8" cy="82.2" rx="2.9" ry="2.2" fill="none" stroke="#2a3a4a" stroke-width="1.1"/>
<path d="M611.0 149.6 A2.9 2.0 0 0 1 615.8 147.6" fill="none" stroke="#7b96a4" stroke-width="1.1"/>
<path d="M598.8 62.5 A1.8 2.3 0 0 1 599.0 66.9" fill="none" stroke="#5a7888" stroke-width="1.1"/>
<path d="M599.9 88.4 A2.3 2.6 0 1 1 603.6 88.5" fill="none" stroke="#7b96a4" stroke-width="1.1"/>
<path d="M583.9 63.4 A2.4 3.9 0 0 1 585.9 70.4" fill="none" stroke="#16161f" stroke-width="1.1"/>
<path d="M613.3 68.9 A1.3 1.0 0 0 1 614.7 67.8" fill="none" stroke="#2a3a4a" stroke-width="1.1"/>
<path d="M604.5 87.7 A1.4 1.1 0 1 1 601.7 87.7" fill="none" stroke="#16161f" stroke-width="1.1"/>
<ellipse cx="612.5" cy="104.8" rx="1.2" ry="1.5" fill="none" stroke="#5a7888" stroke-width="1.1"/>
<path d="M585.1 57.7 A2.6 2.1 0 0 1 583.4 61.8" fill="none" stroke="#16161f" stroke-width="1.1"/>
<path d="M616.1 134.3 A2.0 1.9 0 0 1 613.2 136.6" fill="none" stroke="#16161f" stroke-width="1.1"/>
<ellipse cx="599.6" cy="97.6" rx="2.1" ry="3.0" fill="none" stroke="#5a7888" stroke-width="1.1"/>
<path d="M605.2 132.3 A2.2 2.5 0 1 1 606.4 137.0" fill="none" stroke="#16161f" stroke-width="1.1"/>
<ellipse cx="611.5" cy="83.0" rx="1.8" ry="1.1" fill="none" stroke="#5a7888" stroke-width="1.1"/>
<ellipse cx="592.6" cy="124.3" rx="2.8" ry="2.9" fill="none" stroke="#5a7888" stroke-width="1.1"/>
<ellipse cx="602.4" cy="78.1" rx="1.0" ry="1.6" fill="none" stroke="#7b96a4" stroke-width="1.1"/>
<ellipse cx="611.8" cy="68.8" rx="1.3" ry="1.3" fill="none" stroke="#5a7888" stroke-width="1.1"/>
<ellipse cx="606.3" cy="103.4" rx="1.4" ry="1.8" fill="none" stroke="#16161f" stroke-width="1.1"/>
<ellipse cx="589.3" cy="143.8" rx="1.1" ry="1.8" fill="none" stroke="#7a2236" stroke-width="1.1"/>
<path d="M605.6 74.7 A2.2 2.3 0 1 1 603.1 78.5" fill="none" stroke="#5a7888" stroke-width="1.1"/>
<path d="M611.7 137.4 A1.0 0.9 0 1 1 611.0 135.9" fill="none" stroke="#5a7888" stroke-width="1.1"/>
<ellipse cx="614.5" cy="102.7" rx="2.0" ry="2.3" fill="none" stroke="#5a7888" stroke-width="1.1"/>
<ellipse cx="592.2" cy="91.1" rx="1.4" ry="1.3" fill="none" stroke="#16161f" stroke-width="1.1"/>
<ellipse cx="591.1" cy="77.1" rx="1.7" ry="1.9" fill="none" stroke="#7b96a4" stroke-width="1.1"/>
<path d="M597.0 140.2 A1.2 1.2 0 1 1 598.2 138.5" fill="none" stroke="#5a7888" stroke-width="1.1"/>
<ellipse cx="607.3" cy="89.9" rx="2.9" ry="3.2" fill="none" stroke="#2a3a4a" stroke-width="1.1"/>
<ellipse cx="613.4" cy="86.7" rx="1.3" ry="1.3" fill="none" stroke="#7b96a4" stroke-width="1.1"/>
<path d="M602.8 102.3 A2.9 2.7 0 1 1 599.6 105.5" fill="none" stroke="#5a7888" stroke-width="1.1"/>
<ellipse cx="603.1" cy="58.8" rx="2.9" ry="4.3" fill="none" stroke="#5a7888" stroke-width="1.1"/>
<ellipse cx="593.4" cy="101.7" rx="1.7" ry="1.1" fill="none" stroke="#16161f" stroke-width="1.1"/>
<ellipse cx="594.9" cy="84.5" rx="1.8" ry="1.3" fill="none" stroke="#2a3a4a" stroke-width="1.1"/>
<path d="M588.7 129.0 A2.0 2.5 0 1 1 591.8 128.1" fill="none" stroke="#5a7888" stroke-width="1.1"/>
<path d="M585.5 89.5 A3.0 3.0 0 0 1 588.1 84.2" fill="none" stroke="#5a7888" stroke-width="1.1"/>
<ellipse cx="589.8" cy="62.5" rx="1.7" ry="1.1" fill="none" stroke="#2a3a4a" stroke-width="1.1"/>
<ellipse cx="599.3" cy="57.3" rx="2.0" ry="1.7" fill="none" stroke="#16161f" stroke-width="1.1"/>
<ellipse cx="602.4" cy="155.2" rx="1.4" ry="1.9" fill="none" stroke="#16161f" stroke-width="1.1"/>
<path d="M584.9 69.8 A1.3 1.5 0 1 1 586.9 68.9" fill="none" stroke="#5a7888" stroke-width="1.1"/>
<path d="M601.5 95.6 A3.0 3.9 0 0 1 601.6 103.5" fill="none" stroke="#2a3a4a" stroke-width="1.1"/>
<ellipse cx="589.6" cy="95.1" rx="2.7" ry="2.1" fill="none" stroke="#5a7888" stroke-width="1.1"/>
<ellipse cx="595.6" cy="72.4" rx="2.7" ry="1.6" fill="none" stroke="#5a7888" stroke-width="1.1"/>
<ellipse cx="591.0" cy="82.0" rx="1.6" ry="1.8" fill="none" stroke="#2a3a4a" stroke-width="1.1"/>
<path d="M603.0 118.8 A2.6 2.0 0 0 1 604.5 121.6" fill="none" stroke="#7b96a4" stroke-width="1.1"/>
<ellipse cx="592.7" cy="58.3" rx="1.3" ry="1.2" fill="none" stroke="#16161f" stroke-width="1.1"/>
<ellipse cx="606.1" cy="88.0" rx="2.8" ry="2.2" fill="none" stroke="#16161f" stroke-width="1.1"/>
<path d="M588.5 142.8 A1.9 1.9 0 0 1 587.7 145.6" fill="none" stroke="#5a7888" stroke-width="1.1"/>
<ellipse cx="598.7" cy="127.5" rx="1.1" ry="1.7" fill="none" stroke="#2a3a4a" stroke-width="1.1"/>
<ellipse cx="596.8" cy="99.4" rx="2.1" ry="3.2" fill="none" stroke="#2a3a4a" stroke-width="1.1"/>
<ellipse cx="598.3" cy="83.7" rx="2.8" ry="4.4" fill="none" stroke="#16161f" stroke-width="1.1"/>
<ellipse cx="616.3" cy="105.2" rx="1.5" ry="1.9" fill="none" stroke="#7b96a4" stroke-width="1.1"/>
<path d="M608.6 144.6 A2.1 1.5 0 0 1 612.1 143.0" fill="none" stroke="#7b96a4" stroke-width="1.1"/>
<ellipse cx="590.9" cy="148.5" rx="1.1" ry="1.1" fill="none" stroke="#16161f" stroke-width="1.1"/>
<path d="M583.5 143.0 A2.2 2.3 0 1 1 586.6 140.2" fill="none" stroke="#7b96a4" stroke-width="1.1"/>
<path d="M588.4 82.5 A1.4 1.1 0 1 1 591.3 82.8" fill="none" stroke="#5a7888" stroke-width="1.1"/>
<ellipse cx="600.2" cy="113.4" rx="1.5" ry="1.5" fill="none" stroke="#5a7888" stroke-width="1.1"/>
<ellipse cx="612.2" cy="58.6" rx="2.5" ry="3.6" fill="none" stroke="#16161f" stroke-width="1.1"/>
<ellipse cx="604.3" cy="104.5" rx="1.6" ry="1.3" fill="none" stroke="#16161f" stroke-width="1.1"/>
<path d="M594.5 89.6 A2.4 1.9 0 0 1 598.3 91.2" fill="none" stroke="#16161f" stroke-width="1.1"/>
<ellipse cx="608.8" cy="132.2" rx="2.8" ry="2.4" fill="none" stroke="#5a7888" stroke-width="1.1"/>
<path d="M588.3 139.8 A1.6 2.4 0 1 1 589.3 143.2" fill="none" stroke="#2a3a4a" stroke-width="1.1"/>
<ellipse cx="604.9" cy="150.1" rx="1.8" ry="2.3" fill="none" stroke="#16161f" stroke-width="1.1"/>
<path d="M612.8 80.2 A2.9 3.8 0 0 1 613.9 72.8" fill="none" stroke="#16161f" stroke-width="1.1"/>
<ellipse cx="613.0" cy="136.4" rx="2.2" ry="2.3" fill="none" stroke="#16161f" stroke-width="1.1"/>
<path d="M584.9 153.6 A2.0 2.6 0 1 1 585.1 158.0" fill="none" stroke="#16161f" stroke-width="1.1"/>
<ellipse cx="598.3" cy="76.1" rx="2.5" ry="3.5" fill="none" stroke="#16161f" stroke-width="1.1"/>
<ellipse cx="599.0" cy="73.6" rx="2.9" ry="3.4" fill="none" stroke="#5a7888" stroke-width="1.1"/>
<path d="M609.7 116.7 A1.6 1.8 0 0 1 607.4 116.1" fill="none" stroke="#2a3a4a" stroke-width="1.1"/>
<path d="M607.2 82.2 A1.4 1.1 0 0 1 608.4 84.2" fill="none" stroke="#7b96a4" stroke-width="1.1"/>
<ellipse cx="614.6" cy="134.4" rx="1.9" ry="2.3" fill="none" stroke="#16161f" stroke-width="1.1"/>
<ellipse cx="588.0" cy="108.6" rx="2.8" ry="2.5" fill="none" stroke="#16161f" stroke-width="1.1"/>
<ellipse cx="598.6" cy="121.9" rx="3.0" ry="4.2" fill="none" stroke="#16161f" stroke-width="1.1"/>
<path d="M609.9 108.9 A1.3 1.7 0 1 1 610.1 112.2" fill="none" stroke="#16161f" stroke-width="1.1"/>
<ellipse cx="614.4" cy="77.6" rx="1.5" ry="1.8" fill="none" stroke="#5a7888" stroke-width="1.1"/>
<path d="M598.6 125.0 A2.6 2.7 0 0 1 602.3 124.5" fill="none" stroke="#2a3a4a" stroke-width="1.1"/>
<ellipse cx="596.2" cy="107.3" rx="1.8" ry="2.7" fill="none" stroke="#5a7888" stroke-width="1.1"/>
<path d="M607.2 152.0 A2.4 1.4 0 1 1 606.0 154.4" fill="none" stroke="#16161f" stroke-width="1.1"/>
<ellipse cx="608.4" cy="132.1" rx="2.8" ry="1.8" fill="none" stroke="#7b96a4" stroke-width="1.1"/>
<ellipse cx="589.3" cy="106.1" rx="1.1" ry="0.8" fill="none" stroke="#16161f" stroke-width="1.1"/>
<ellipse cx="615.5" cy="84.6" rx="1.7" ry="2.1" fill="none" stroke="#7a2236" stroke-width="1.1"/>
<ellipse cx="615.4" cy="121.2" rx="1.4" ry="1.7" fill="none" stroke="#2a3a4a" stroke-width="1.1"/>
<ellipse cx="601.9" cy="70.0" rx="1.3" ry="1.0" fill="none" stroke="#16161f" stroke-width="1.1"/>
<ellipse cx="587.3" cy="74.9" rx="2.0" ry="1.7" fill="none" stroke="#16161f" stroke-width="1.1"/>
<path d="M591.4 83.0 A2.7 2.6 0 1 1 591.9 87.9" fill="none" stroke="#5a7888" stroke-width="1.1"/>
<path d="M584.3 110.2 A2.9 4.1 0 1 1 589.3 114.0" fill="none" stroke="#16161f" stroke-width="1.1"/>
<ellipse cx="608.4" cy="144.8" rx="1.9" ry="2.5" fill="none" stroke="#5a7888" stroke-width="1.1"/>
<path d="M605.9 152.2 A1.6 2.5 0 1 1 606.6 156.2" fill="none" stroke="#2a3a4a" stroke-width="1.1"/>
<path d="M614.9 130.0 A1.9 1.7 0 0 1 617.5 128.2" fill="none" stroke="#7a2236" stroke-width="1.1"/>
<path d="M613.0 118.5 A1.8 2.4 0 0 1 616.3 116.3" fill="none" stroke="#16161f" stroke-width="1.1"/>
<path d="M589.1 92.0 A2.8 3.8 0 0 1 589.3 84.7" fill="none" stroke="#16161f" stroke-width="1.1"/>
<ellipse cx="585.3" cy="72.4" rx="2.7" ry="2.5" fill="none" stroke="#16161f" stroke-width="1.1"/>
<path d="M593.8 149.0 A2.8 2.8 0 1 1 589.0 146.3" fill="none" stroke="#5a7888" stroke-width="1.1"/>
<path d="M587.0 106.9 A1.7 1.5 0 1 1 589.7 105.5" fill="none" stroke="#5a7888" stroke-width="1.1"/>
<path d="M609.2 123.2 A1.9 2.2 0 0 1 607.3 125.3" fill="none" stroke="#16161f" stroke-width="1.1"/>
<ellipse cx="615.9" cy="90.2" rx="1.9" ry="2.4" fill="none" stroke="#16161f" stroke-width="1.1"/>
<ellipse cx="612.2" cy="87.8" rx="1.5" ry="2.0" fill="none" stroke="#5a7888" stroke-width="1.1"/>
<ellipse cx="610.2" cy="103.0" rx="2.3" ry="2.3" fill="none" stroke="#7a2236" stroke-width="1.1"/>
<ellipse cx="613.2" cy="155.8" rx="1.5" ry="2.2" fill="none" stroke="#5a7888" stroke-width="1.1"/>
<ellipse cx="606.6" cy="78.4" rx="2.5" ry="2.9" fill="none" stroke="#16161f" stroke-width="1.1"/>
<ellipse cx="609.0" cy="95.6" rx="2.7" ry="3.9" fill="none" stroke="#5a7888" stroke-width="1.1"/>
<path d="M594.8 62.8 A1.5 2.1 0 0 1 597.4 61.0" fill="none" stroke="#5a7888" stroke-width="1.1"/>
<path d="M605.2 111.9 A2.1 2.6 0 0 1 607.4 109.6" fill="none" stroke="#2a3a4a" stroke-width="1.1"/>
<path d="M592.5 75.0 A1.5 1.5 0 0 1 590.7 72.6" fill="none" stroke="#7b96a4" stroke-width="1.1"/>
<ellipse cx="585.5" cy="79.2" rx="2.3" ry="1.6" fill="none" stroke="#16161f" stroke-width="1.1"/>
<ellipse cx="589.6" cy="102.1" rx="2.6" ry="3.2" fill="none" stroke="#2a3a4a" stroke-width="1.1"/>
<path d="M606.8 101.6 A2.9 4.4 0 1 1 602.7 98.6" fill="none" stroke="#5a7888" stroke-width="1.1"/>
<path d="M608.1 87.8 A1.8 2.4 0 1 1 610.4 91.3" fill="none" stroke="#16161f" stroke-width="1.1"/>
<path d="M596.8 86.1 A2.2 1.5 0 1 1 600.1 87.8" fill="none" stroke="#2a3a4a" stroke-width="1.1"/>
<path d="M604.4 139.5 A1.2 1.0 0 0 1 604.7 141.2" fill="none" stroke="#7b96a4" stroke-width="1.1"/>
<path d="M596.3 127.5 A1.1 1.6 0 0 1 597.2 125.1" fill="none" stroke="#7b96a4" stroke-width="1.1"/>
<ellipse cx="598.1" cy="58.3" rx="1.6" ry="1.7" fill="none" stroke="#5a7888" stroke-width="1.1"/>
<ellipse cx="592.2" cy="140.0" rx="1.1" ry="1.7" fill="none" stroke="#2a3a4a" stroke-width="1.1"/>
<path d="M591.5 152.2 A1.5 2.4 0 0 1 592.9 148.8" fill="none" stroke="#7b96a4" stroke-width="1.1"/>
<ellipse cx="602.7" cy="142.7" rx="1.6" ry="2.2" fill="none" stroke="#7b96a4" stroke-width="1.1"/>
<path d="M611.8 119.2 A2.6 4.1 0 0 1 607.7 117.0" fill="none" stroke="#5a7888" stroke-width="1.1"/>
<path d="M611.6 122.3 A2.1 1.3 0 0 1 613.8 124.6" fill="none" stroke="#16161f" stroke-width="1.1"/>
<path d="M600.1 119.4 A2.1 2.3 0 1 1 601.9 116.1" fill="none" stroke="#16161f" stroke-width="1.1"/>
<ellipse cx="611.8" cy="68.7" rx="1.8" ry="1.9" fill="none" stroke="#16161f" stroke-width="1.1"/>
<path d="M615.7 140.3 A1.2 1.2 0 0 1 617.5 139.4" fill="none" stroke="#7a2236" stroke-width="1.1"/>
<path d="M605.4 102.6 A2.6 3.5 0 0 1 610.2 101.2" fill="none" stroke="#5a7888" stroke-width="1.1"/>
<ellipse cx="603.0" cy="97.3" rx="1.0" ry="0.7" fill="none" stroke="#7b96a4" stroke-width="1.1"/>
<ellipse cx="586.4" cy="71.7" rx="2.2" ry="2.9" fill="none" stroke="#16161f" stroke-width="1.1"/>
<ellipse cx="598.9" cy="129.1" rx="1.6" ry="2.0" fill="none" stroke="#2a3a4a" stroke-width="1.1"/>
<path d="M613.2 105.3 A1.3 1.8 0 1 1 615.4 107.2" fill="none" stroke="#2a3a4a" stroke-width="1.1"/>
<path d="M613.7 86.2 A2.0 2.3 0 0 1 614.6 89.6" fill="none" stroke="#5a7888" stroke-width="1.1"/>
<ellipse cx="609.8" cy="136.3" rx="1.4" ry="1.5" fill="none" stroke="#16161f" stroke-width="1.1"/>
<ellipse cx="597.2" cy="90.4" rx="2.8" ry="1.9" fill="none" stroke="#16161f" stroke-width="1.1"/>
<path d="M603.6 124.0 A2.2 2.4 0 0 1 601.5 120.7" fill="none" stroke="#7b96a4" stroke-width="1.1"/>
<ellipse cx="611.9" cy="100.0" rx="2.4" ry="3.0" fill="none" stroke="#16161f" stroke-width="1.1"/>
<ellipse cx="615.0" cy="73.4" rx="1.9" ry="2.7" fill="none" stroke="#16161f" stroke-width="1.1"/>
<ellipse cx="596.0" cy="95.9" rx="2.9" ry="4.7" fill="none" stroke="#16161f" stroke-width="1.1"/>
<path d="M593.0 92.2 A1.3 1.9 0 0 1 592.0 89.8" fill="none" stroke="#2a3a4a" stroke-width="1.1"/>
<ellipse cx="593.2" cy="106.2" rx="1.5" ry="1.8" fill="none" stroke="#16161f" stroke-width="1.1"/>
<path d="M606.3 77.5 A3.0 2.1 0 1 1 601.7 80.1" fill="none" stroke="#5a7888" stroke-width="1.1"/>
<path d="M604.0 93.3 A1.1 1.6 0 0 1 606.0 93.4" fill="none" stroke="#7b96a4" stroke-width="1.1"/>
<path d="M606.6 65.2 A1.5 1.4 0 0 1 604.6 64.1" fill="none" stroke="#16161f" stroke-width="1.1"/>
<ellipse cx="594.8" cy="56.9" rx="1.8" ry="2.0" fill="none" stroke="#16161f" stroke-width="1.1"/>
<ellipse cx="605.8" cy="103.6" rx="2.5" ry="2.3" fill="none" stroke="#5a7888" stroke-width="1.1"/>
<path d="M601.5 84.3 A1.3 1.5 0 1 1 601.6 81.5" fill="none" stroke="#2a3a4a" stroke-width="1.1"/>
<ellipse cx="611.4" cy="102.7" rx="2.0" ry="2.7" fill="none" stroke="#16161f" stroke-width="1.1"/>
<ellipse cx="590.9" cy="139.8" rx="2.2" ry="2.8" fill="none" stroke="#2a3a4a" stroke-width="1.1"/>
<ellipse cx="614.7" cy="116.2" rx="1.3" ry="1.0" fill="none" stroke="#16161f" stroke-width="1.1"/>
<ellipse cx="610.0" cy="77.7" rx="1.3" ry="0.8" fill="none" stroke="#7b96a4" stroke-width="1.1"/>
<ellipse cx="584.2" cy="80.6" rx="3.0" ry="3.6" fill="none" stroke="#5a7888" stroke-width="1.1"/>
<ellipse cx="588.2" cy="145.3" rx="1.1" ry="1.6" fill="none" stroke="#7a2236" stroke-width="1.1"/>
<path d="M597.9 127.2 A1.3 1.3 0 0 1 595.9 128.8" fill="none" stroke="#7b96a4" stroke-width="1.1"/>
<path d="M610.8 89.7 A2.1 2.0 0 1 1 612.1 93.3" fill="none" stroke="#7b96a4" stroke-width="1.1"/>
<ellipse cx="616.0" cy="104.4" rx="1.1" ry="1.5" fill="none" stroke="#7b96a4" stroke-width="1.1"/>
<ellipse cx="607.7" cy="105.7" rx="2.1" ry="2.0" fill="none" stroke="#5a7888" stroke-width="1.1"/>
<ellipse cx="607.7" cy="77.6" rx="2.5" ry="3.8" fill="none" stroke="#7b96a4" stroke-width="1.1"/>
<ellipse cx="609.6" cy="133.3" rx="2.2" ry="2.5" fill="none" stroke="#16161f" stroke-width="1.1"/>
<ellipse cx="608.9" cy="137.7" rx="1.6" ry="1.6" fill="none" stroke="#16161f" stroke-width="1.1"/>
<ellipse cx="614.9" cy="101.5" rx="2.3" ry="2.9" fill="none" stroke="#16161f" stroke-width="1.1"/>
<path d="M585.5 115.9 A2.2 1.8 0 0 1 590.0 115.5" fill="none" stroke="#5a7888" stroke-width="1.1"/>
<ellipse cx="589.5" cy="76.6" rx="2.6" ry="3.7" fill="none" stroke="#16161f" stroke-width="1.1"/>
<path d="M584.6 103.4 A2.9 4.5 0 0 1 587.5 96.5" fill="none" stroke="#5a7888" stroke-width="1.1"/>
<path d="M615.7 154.4 A1.2 1.2 0 0 1 617.4 154.8" fill="none" stroke="#2a3a4a" stroke-width="1.1"/>
<ellipse cx="599.1" cy="66.8" rx="2.9" ry="2.0" fill="none" stroke="#16161f" stroke-width="1.1"/>
<path d="M603.3 93.2 A1.9 1.2 0 1 1 602.0 91.0" fill="none" stroke="#16161f" stroke-width="1.1"/>
<path d="M605.4 119.5 A2.0 2.1 0 1 1 608.3 121.8" fill="none" stroke="#5a7888" stroke-width="1.1"/>
<ellipse cx="598.8" cy="136.6" rx="2.2" ry="2.5" fill="none" stroke="#16161f" stroke-width="1.1"/>
<ellipse cx="587.5" cy="153.2" rx="3.0" ry="2.5" fill="none" stroke="#16161f" stroke-width="1.1"/>
<ellipse cx="614.0" cy="107.2" rx="1.3" ry="1.6" fill="none" stroke="#5a7888" stroke-width="1.1"/>
<path d="M604.4 110.5 A2.7 4.2 0 1 1 603.0 118.6" fill="none" stroke="#2a3a4a" stroke-width="1.1"/>
<ellipse cx="615.4" cy="108.9" rx="2.9" ry="3.4" fill="none" stroke="#16161f" stroke-width="1.1"/>
<path d="M615.1 160.0 A2.3 2.5 0 1 1 616.0 155.2" fill="none" stroke="#5a7888" stroke-width="1.1"/>
<ellipse cx="600.8" cy="85.7" rx="1.2" ry="0.7" fill="none" stroke="#16161f" stroke-width="1.1"/>
<ellipse cx="615.4" cy="133.4" rx="1.8" ry="2.1" fill="none" stroke="#5a7888" stroke-width="1.1"/>
<path d="M585.4 88.6 A1.6 1.0 0 1 1 586.4 86.8" fill="none" stroke="#7b96a4" stroke-width="1.1"/>
<path d="M589.3 88.4 A2.4 3.0 0 1 1 589.1 83.7" fill="none" stroke="#5a7888" stroke-width="1.1"/>
<ellipse cx="605.1" cy="147.3" rx="2.2" ry="2.2" fill="none" stroke="#16161f" stroke-width="1.1"/>
<ellipse cx="610.0" cy="101.4" rx="1.8" ry="2.2" fill="none" stroke="#2a3a4a" stroke-width="1.1"/>
<path d="M613.5 100.5 A2.2 1.3 0 1 1 613.7 98.3" fill="none" stroke="#7b96a4" stroke-width="1.1"/>
<ellipse cx="616.8" cy="144.0" rx="2.7" ry="2.5" fill="none" stroke="#16161f" stroke-width="1.1"/>
<ellipse cx="587.8" cy="89.0" rx="2.8" ry="2.0" fill="none" stroke="#2a3a4a" stroke-width="1.1"/>
<path d="M586.6 153.4 A2.0 1.4 0 0 1 587.0 155.6" fill="none" stroke="#16161f" stroke-width="1.1"/>
<ellipse cx="589.3" cy="101.8" rx="2.9" ry="3.5" fill="none" stroke="#16161f" stroke-width="1.1"/>
<path d="M599.2 101.0 A1.9 1.3 0 1 1 602.6 99.8" fill="none" stroke="#5a7888" stroke-width="1.1"/>
<ellipse cx="588.2" cy="107.8" rx="2.9" ry="4.2" fill="none" stroke="#2a3a4a" stroke-width="1.1"/>
<ellipse cx="616.9" cy="81.4" rx="1.6" ry="1.6" fill="none" stroke="#16161f" stroke-width="1.1"/>
<ellipse cx="601.6" cy="86.5" rx="1.8" ry="1.5" fill="none" stroke="#5a7888" stroke-width="1.1"/>
<ellipse cx="606.3" cy="134.7" rx="2.6" ry="2.7" fill="none" stroke="#16161f" stroke-width="1.1"/>
<path d="M609.4 138.2 A1.2 0.9 0 0 1 611.2 138.3" fill="none" stroke="#2a3a4a" stroke-width="1.1"/>
<path d="M597.7 123.6 A1.4 2.0 0 1 1 595.3 125.7" fill="none" stroke="#16161f" stroke-width="1.1"/>
<ellipse cx="594.2" cy="139.0" rx="2.0" ry="3.0" fill="none" stroke="#16161f" stroke-width="1.1"/>
<path d="M590.9 86.7 A1.8 2.7 0 0 1 591.6 91.8" fill="none" stroke="#5a7888" stroke-width="1.1"/>
<ellipse cx="615.1" cy="62.1" rx="2.0" ry="2.5" fill="none" stroke="#16161f" stroke-width="1.1"/>
<path d="M587.0 109.9 A2.7 2.4 0 1 1 585.7 105.7" fill="none" stroke="#7a2236" stroke-width="1.1"/>
<ellipse cx="613.7" cy="78.9" rx="2.1" ry="3.1" fill="none" stroke="#7a2236" stroke-width="1.1"/>
<path d="M599.4 91.7 A1.3 0.8 0 0 1 597.8 90.4" fill="none" stroke="#7b96a4" stroke-width="1.1"/>
<path d="M587.3 84.2 A2.2 2.6 0 0 1 583.4 82.3" fill="none" stroke="#2a3a4a" stroke-width="1.1"/>
<path d="M582.6 139.3 A2.4 2.2 0 1 1 586.6 141.8" fill="none" stroke="#7b96a4" stroke-width="1.1"/>
<path d="M593.0 154.2 A1.7 2.4 0 0 1 589.9 153.6" fill="none" stroke="#16161f" stroke-width="1.1"/>
<path d="M607.2 153.0 A2.0 2.4 0 1 1 607.9 149.0" fill="none" stroke="#5a7888" stroke-width="1.1"/>
<path d="M606.3 83.9 A2.2 2.1 0 0 1 609.6 85.6" fill="none" stroke="#5a7888" stroke-width="1.1"/>
<ellipse cx="589.0" cy="82.3" rx="2.1" ry="2.2" fill="none" stroke="#5a7888" stroke-width="1.1"/>
<ellipse cx="614.3" cy="88.9" rx="1.9" ry="1.6" fill="none" stroke="#7a2236" stroke-width="1.1"/>
<ellipse cx="607.5" cy="75.5" rx="1.7" ry="2.1" fill="none" stroke="#7a2236" stroke-width="1.1"/>
<ellipse cx="598.9" cy="151.1" rx="2.3" ry="3.1" fill="none" stroke="#16161f" stroke-width="1.1"/>
</g>
<path d="M591 57 L600 90 L607 120 L613 156" fill="none" stroke="#8a3a4a" stroke-width="1.1"/>
<clipPath id="clace2"><polygon points="505.0,150.0 512.0,148.0 518.0,150.0 519.0,165.0 517.0,180.0 518.0,196.0 514.0,207.0 512.0,214.0 508.0,220.0 505.0,222.0"/></clipPath>
<g clip-path="url(#clace2)">
<path d="M504.0 174.3 A1.6 1.7 0 0 1 504.3 171.4" fill="none" stroke="#7b96a4" stroke-width="1.2"/>
<path d="M522.3 182.2 A1.9 2.3 0 0 1 521.6 186.5" fill="none" stroke="#5a7888" stroke-width="1.2"/>
<ellipse cx="507.2" cy="217.2" rx="1.3" ry="2.0" fill="none" stroke="#8a6048" stroke-width="1.2"/>
<path d="M510.9 152.6 A1.3 1.3 0 0 1 510.1 150.4" fill="none" stroke="#16161f" stroke-width="1.2"/>
<ellipse cx="516.0" cy="182.3" rx="1.6" ry="1.5" fill="none" stroke="#7b96a4" stroke-width="1.2"/>
<ellipse cx="520.5" cy="156.8" rx="1.7" ry="2.6" fill="none" stroke="#7a2236" stroke-width="1.2"/>
<ellipse cx="522.0" cy="187.5" rx="2.9" ry="2.9" fill="none" stroke="#5a7888" stroke-width="1.2"/>
<ellipse cx="512.4" cy="146.7" rx="2.8" ry="3.6" fill="none" stroke="#8a6048" stroke-width="1.2"/>
<ellipse cx="521.4" cy="205.2" rx="1.5" ry="2.4" fill="none" stroke="#16161f" stroke-width="1.2"/>
<path d="M516.2 174.8 A2.2 2.3 0 1 1 516.4 179.5" fill="none" stroke="#8a6048" stroke-width="1.2"/>
<path d="M514.8 202.0 A2.3 2.9 0 0 1 519.2 203.3" fill="none" stroke="#16161f" stroke-width="1.2"/>
<ellipse cx="521.8" cy="158.9" rx="2.5" ry="3.1" fill="none" stroke="#2a2a3a" stroke-width="1.2"/>
<path d="M507.9 169.1 A2.9 3.1 0 0 1 504.8 165.5" fill="none" stroke="#9aa8b0" stroke-width="1.2"/>
<path d="M513.0 180.1 A3.0 4.8 0 0 1 516.3 187.4" fill="none" stroke="#16161f" stroke-width="1.2"/>
<ellipse cx="519.9" cy="173.5" rx="2.1" ry="2.6" fill="none" stroke="#5a7888" stroke-width="1.2"/>
<path d="M507.1 204.1 A3.3 3.7 0 1 1 505.6 210.5" fill="none" stroke="#7a2236" stroke-width="1.2"/>
<ellipse cx="512.6" cy="219.8" rx="2.1" ry="2.7" fill="none" stroke="#5a7888" stroke-width="1.2"/>
<ellipse cx="512.7" cy="156.1" rx="2.3" ry="3.1" fill="none" stroke="#7b96a4" stroke-width="1.2"/>
<ellipse cx="503.4" cy="202.6" rx="2.3" ry="3.2" fill="none" stroke="#7b96a4" stroke-width="1.2"/>
<path d="M510.8 168.1 A1.4 2.2 0 0 1 509.9 171.9" fill="none" stroke="#7b96a4" stroke-width="1.2"/>
<path d="M519.4 184.2 A2.9 3.2 0 0 1 522.5 179.2" fill="none" stroke="#2a2a3a" stroke-width="1.2"/>
<ellipse cx="503.5" cy="204.5" rx="1.7" ry="2.1" fill="none" stroke="#7a2236" stroke-width="1.2"/>
<ellipse cx="518.2" cy="211.2" rx="2.3" ry="2.6" fill="none" stroke="#7b96a4" stroke-width="1.2"/>
<path d="M516.1 192.2 A1.7 1.8 0 0 1 513.9 194.5" fill="none" stroke="#8a6048" stroke-width="1.2"/>
<path d="M503.9 151.4 A1.3 2.1 0 0 1 505.0 147.7" fill="none" stroke="#9aa8b0" stroke-width="1.2"/>
<path d="M518.2 212.4 A1.6 2.6 0 0 1 515.9 209.1" fill="none" stroke="#7b96a4" stroke-width="1.2"/>
<path d="M514.0 223.9 A2.6 3.9 0 0 1 517.3 218.8" fill="none" stroke="#7a2236" stroke-width="1.2"/>
<path d="M514.5 168.6 A3.2 4.5 0 1 1 514.3 160.8" fill="none" stroke="#7b96a4" stroke-width="1.2"/>
<path d="M503.8 190.1 A3.2 4.7 0 1 1 506.3 196.6" fill="none" stroke="#5a7888" stroke-width="1.2"/>
<path d="M519.4 189.0 A1.6 1.8 0 1 1 519.4 185.5" fill="none" stroke="#2a2a3a" stroke-width="1.2"/>
<ellipse cx="519.4" cy="153.4" rx="1.5" ry="1.9" fill="none" stroke="#7b96a4" stroke-width="1.2"/>
<path d="M508.6 199.4 A1.8 1.8 0 0 1 508.4 196.3" fill="none" stroke="#9aa8b0" stroke-width="1.2"/>
<ellipse cx="511.2" cy="147.8" rx="2.5" ry="3.2" fill="none" stroke="#7b96a4" stroke-width="1.2"/>
<path d="M523.6 176.3 A3.3 4.0 0 1 1 518.2 178.6" fill="none" stroke="#7b96a4" stroke-width="1.2"/>
<ellipse cx="513.5" cy="153.2" rx="1.7" ry="2.3" fill="none" stroke="#9aa8b0" stroke-width="1.2"/>
<ellipse cx="507.1" cy="223.4" rx="3.3" ry="3.6" fill="none" stroke="#16161f" stroke-width="1.2"/>
<path d="M517.1 216.9 A2.8 2.9 0 0 1 513.5 219.9" fill="none" stroke="#7b96a4" stroke-width="1.2"/>
<ellipse cx="508.6" cy="205.1" rx="1.9" ry="2.2" fill="none" stroke="#8a6048" stroke-width="1.2"/>
<ellipse cx="504.1" cy="166.8" rx="1.8" ry="2.5" fill="none" stroke="#5a7888" stroke-width="1.2"/>
<ellipse cx="514.7" cy="193.2" rx="2.6" ry="3.4" fill="none" stroke="#7b96a4" stroke-width="1.2"/>
<path d="M514.0 180.9 A1.5 2.4 0 0 1 514.5 177.7" fill="none" stroke="#7b96a4" stroke-width="1.2"/>
<ellipse cx="507.2" cy="192.4" rx="2.6" ry="3.6" fill="none" stroke="#2a2a3a" stroke-width="1.2"/>
<path d="M513.6 151.2 A3.0 4.4 0 0 1 509.7 147.7" fill="none" stroke="#16161f" stroke-width="1.2"/>
<ellipse cx="509.6" cy="161.4" rx="2.4" ry="2.3" fill="none" stroke="#7b96a4" stroke-width="1.2"/>
<path d="M512.4 188.1 A1.3 1.9 0 0 1 511.1 191.5" fill="none" stroke="#9aa8b0" stroke-width="1.2"/>
<path d="M505.3 163.6 A2.8 3.0 0 1 1 508.0 159.1" fill="none" stroke="#8a6048" stroke-width="1.2"/>
<ellipse cx="506.7" cy="179.3" rx="1.9" ry="2.9" fill="none" stroke="#16161f" stroke-width="1.2"/>
<path d="M520.2 156.0 A3.2 3.6 0 0 1 518.0 162.2" fill="none" stroke="#7b96a4" stroke-width="1.2"/>
<path d="M509.7 187.8 A1.4 1.4 0 1 1 509.6 185.4" fill="none" stroke="#16161f" stroke-width="1.2"/>
<path d="M502.0 156.8 A1.8 2.0 0 1 1 504.9 159.3" fill="none" stroke="#7b96a4" stroke-width="1.2"/>
<path d="M520.0 198.1 A1.7 1.7 0 1 1 523.0 196.8" fill="none" stroke="#8a6048" stroke-width="1.2"/>
<ellipse cx="516.7" cy="164.6" rx="1.4" ry="1.8" fill="none" stroke="#16161f" stroke-width="1.2"/>
<ellipse cx="507.3" cy="161.1" rx="1.6" ry="1.4" fill="none" stroke="#7b96a4" stroke-width="1.2"/>
<ellipse cx="514.3" cy="177.6" rx="3.2" ry="4.9" fill="none" stroke="#5a7888" stroke-width="1.2"/>
<ellipse cx="513.6" cy="196.9" rx="3.5" ry="4.9" fill="none" stroke="#5a7888" stroke-width="1.2"/>
<path d="M508.1 182.3 A3.1 4.7 0 0 1 509.2 173.7" fill="none" stroke="#7b96a4" stroke-width="1.2"/>
<ellipse cx="512.1" cy="165.3" rx="1.8" ry="1.8" fill="none" stroke="#7b96a4" stroke-width="1.2"/>
<path d="M513.4 197.3 A2.2 2.0 0 0 1 516.0 199.2" fill="none" stroke="#5a7888" stroke-width="1.2"/>
<ellipse cx="506.8" cy="183.1" rx="2.4" ry="2.7" fill="none" stroke="#7b96a4" stroke-width="1.2"/>
<ellipse cx="505.2" cy="156.9" rx="3.4" ry="4.6" fill="none" stroke="#2a2a3a" stroke-width="1.2"/>
</g>
<g id="stripsg">
<g clip-path="url(#cs0)">
<polygon points="453.0,100.0 456.0,95.0 459.0,90.0 463.0,84.0 467.0,79.0 471.0,76.0 474.0,77.0 478.0,74.0 477.0,150.0 478.0,200.0 476.0,222.0 472.0,224.0 468.0,221.0 464.0,223.0 460.0,229.0 456.0,227.0 453.0,229.0 451.0,215.0 452.0,200.0 453.0,150.0" fill="#b2bfc0"/>
<path d="M452.1 90.5 A2.8 7.1 0 1 1 456.8 93.0" fill="none" stroke="#5a2448" stroke-width="1.1"/>
<path d="M474.2 112.2 A1.9 3.2 0 1 1 473.7 117.3" fill="none" stroke="#f2f2f2" stroke-width="1.1"/>
<path d="M474.6 126.6 A3.1 5.7 0 0 1 478.8 129.3" fill="none" stroke="#f2f2f2" stroke-width="1.1"/>
<path d="M466.1 219.2 A1.7 3.0 0 1 1 463.5 215.5" fill="none" stroke="#b0bebe" stroke-width="1.1"/>
<ellipse cx="480.5" cy="224.7" rx="3.1" ry="7.2" fill="none" stroke="#f2f2f2" stroke-width="1.1"/>
<path d="M471.2 152.6 A3.0 6.4 0 0 1 474.6 142.2" fill="none" stroke="#4d6769" stroke-width="1.1"/>
<ellipse cx="458.5" cy="209.6" rx="2.5" ry="5.6" fill="none" stroke="#2a2226" stroke-width="1.1"/>
<ellipse cx="449.9" cy="127.1" rx="2.9" ry="6.5" fill="none" stroke="#2a2226" stroke-width="1.1"/>
<path d="M477.2 178.1 A1.7 2.8 0 1 1 479.6 181.5" fill="none" stroke="#b0bebe" stroke-width="1.1"/>
<path d="M465.8 179.3 A1.5 4.8 0 1 1 466.5 188.4" fill="none" stroke="#2a2226" stroke-width="1.1"/>
<ellipse cx="468.9" cy="118.7" rx="2.1" ry="4.6" fill="none" stroke="#4d6769" stroke-width="1.1"/>
<ellipse cx="470.8" cy="172.7" rx="1.2" ry="2.2" fill="none" stroke="#b0bebe" stroke-width="1.1"/>
<ellipse cx="461.1" cy="196.4" rx="1.6" ry="4.3" fill="none" stroke="#2a2226" stroke-width="1.1"/>
<path d="M473.1 85.6 A2.0 4.3 0 0 1 469.6 89.2" fill="none" stroke="#6f8a8c" stroke-width="1.1"/>
<ellipse cx="473.3" cy="104.2" rx="1.6" ry="2.7" fill="none" stroke="#4d6769" stroke-width="1.1"/>
<ellipse cx="472.3" cy="100.1" rx="2.1" ry="4.1" fill="none" stroke="#b0bebe" stroke-width="1.1"/>
<ellipse cx="476.5" cy="83.5" rx="2.6" ry="5.8" fill="none" stroke="#5a2448" stroke-width="1.1"/>
<path d="M453.4 142.5 A3.5 9.1 0 1 1 458.8 153.6" fill="none" stroke="#b0bebe" stroke-width="1.1"/>
<ellipse cx="463.9" cy="114.1" rx="2.1" ry="3.9" fill="none" stroke="#4d6769" stroke-width="1.1"/>
<path d="M479.9 126.2 A2.1 5.5 0 0 1 478.5 133.5" fill="none" stroke="#f2f2f2" stroke-width="1.1"/>
<path d="M471.9 98.8 A2.4 4.7 0 0 1 475.2 94.7" fill="none" stroke="#f2f2f2" stroke-width="1.1"/>
<path d="M453.8 122.6 A2.4 5.5 0 0 1 457.1 122.2" fill="none" stroke="#f2f2f2" stroke-width="1.1"/>
<path d="M463.8 144.8 A3.2 6.7 0 1 1 461.2 155.5" fill="none" stroke="#6f8a8c" stroke-width="1.1"/>
<ellipse cx="456.8" cy="151.4" rx="2.4" ry="5.0" fill="none" stroke="#f2f2f2" stroke-width="1.1"/>
<path d="M455.9 186.8 A3.0 8.5 0 0 1 457.3 173.9" fill="none" stroke="#f2f2f2" stroke-width="1.1"/>
<ellipse cx="461.5" cy="161.8" rx="3.6" ry="10.4" fill="none" stroke="#6e4a36" stroke-width="1.1"/>
<ellipse cx="473.1" cy="204.5" rx="2.7" ry="4.3" fill="none" stroke="#f2f2f2" stroke-width="1.1"/>
<path d="M469.9 170.5 A3.5 10.0 0 1 1 473.9 157.4" fill="none" stroke="#9a6a48" stroke-width="1.1"/>
<path d="M462.5 109.2 A2.7 5.2 0 0 1 458.2 105.7" fill="none" stroke="#5a2448" stroke-width="1.1"/>
<ellipse cx="465.8" cy="215.1" rx="1.3" ry="3.9" fill="none" stroke="#6f8a8c" stroke-width="1.1"/>
<path d="M471.9 126.7 A1.4 4.4 0 0 1 471.0 118.7" fill="none" stroke="#26306a" stroke-width="1.1"/>
<ellipse cx="448.8" cy="167.6" rx="3.5" ry="9.2" fill="none" stroke="#f2f2f2" stroke-width="1.1"/>
<ellipse cx="448.0" cy="206.3" rx="2.1" ry="4.2" fill="none" stroke="#6f8a8c" stroke-width="1.1"/>
<path d="M448.9 181.0 A3.5 6.0 0 0 1 455.0 175.4" fill="none" stroke="#6f8a8c" stroke-width="1.1"/>
<path d="M470.8 206.9 A1.8 5.5 0 1 1 471.5 217.1" fill="none" stroke="#f2f2f2" stroke-width="1.1"/>
<ellipse cx="462.5" cy="168.1" rx="1.9" ry="6.1" fill="none" stroke="#6f8a8c" stroke-width="1.1"/>
<path d="M472.9 223.4 A1.5 4.5 0 0 1 473.5 217.0" fill="none" stroke="#f2f2f2" stroke-width="1.1"/>
<ellipse cx="459.0" cy="227.8" rx="2.5" ry="5.5" fill="none" stroke="#2a2226" stroke-width="1.1"/>
<ellipse cx="455.3" cy="176.6" rx="2.8" ry="8.7" fill="none" stroke="#6f8a8c" stroke-width="1.1"/>
<path d="M457.6 148.3 A2.1 5.0 0 0 1 459.2 139.0" fill="none" stroke="#4d6769" stroke-width="1.1"/>
<ellipse cx="470.7" cy="190.9" rx="3.2" ry="8.8" fill="none" stroke="#6f8a8c" stroke-width="1.1"/>
<ellipse cx="479.3" cy="181.7" rx="2.4" ry="4.2" fill="none" stroke="#4d6769" stroke-width="1.1"/>
<ellipse cx="456.2" cy="207.6" rx="3.0" ry="7.7" fill="none" stroke="#6f8a8c" stroke-width="1.1"/>
<path d="M461.8 77.9 A2.0 5.1 0 0 1 463.9 72.6" fill="none" stroke="#4d6769" stroke-width="1.1"/>
<path d="M474.2 181.2 A3.3 10.0 0 1 1 468.8 192.2" fill="none" stroke="#5a2448" stroke-width="1.1"/>
<path d="M473.3 105.7 A2.0 3.4 0 0 1 476.6 107.8" fill="none" stroke="#4d6769" stroke-width="1.1"/>
<ellipse cx="476.8" cy="176.8" rx="2.5" ry="4.2" fill="none" stroke="#4d6769" stroke-width="1.1"/>
<ellipse cx="449.2" cy="86.6" rx="1.7" ry="5.5" fill="none" stroke="#6f8a8c" stroke-width="1.1"/>
<path d="M453.7 197.0 A1.3 3.7 0 0 1 455.3 202.8" fill="none" stroke="#6f8a8c" stroke-width="1.1"/>
<ellipse cx="463.3" cy="227.5" rx="3.2" ry="6.5" fill="none" stroke="#f2f2f2" stroke-width="1.1"/>
<ellipse cx="453.1" cy="117.4" rx="3.6" ry="7.8" fill="none" stroke="#4d6769" stroke-width="1.1"/>
<ellipse cx="468.5" cy="169.4" rx="1.8" ry="5.3" fill="none" stroke="#4d6769" stroke-width="1.1"/>
<ellipse cx="454.9" cy="76.0" rx="3.1" ry="8.5" fill="none" stroke="#6f8a8c" stroke-width="1.1"/>
<ellipse cx="466.7" cy="86.0" rx="2.1" ry="3.9" fill="none" stroke="#4d6769" stroke-width="1.1"/>
<path d="M470.4 164.0 A2.1 5.4 0 0 1 469.3 156.0" fill="none" stroke="#4d6769" stroke-width="1.1"/>
<ellipse cx="478.2" cy="219.9" rx="1.3" ry="2.7" fill="none" stroke="#4d6769" stroke-width="1.1"/>
<ellipse cx="477.1" cy="211.6" rx="3.0" ry="6.4" fill="none" stroke="#6f8a8c" stroke-width="1.1"/>
<path d="M453.3 136.5 A2.5 4.7 0 0 1 456.5 141.3" fill="none" stroke="#2a2226" stroke-width="1.1"/>
<path d="M478.3 192.2 A1.3 2.9 0 1 1 476.1 189.8" fill="none" stroke="#6f8a8c" stroke-width="1.1"/>
<path d="M479.5 101.3 A1.5 4.4 0 1 1 481.9 103.2" fill="none" stroke="#6f8a8c" stroke-width="1.1"/>
<ellipse cx="474.2" cy="97.3" rx="1.9" ry="5.5" fill="none" stroke="#6f8a8c" stroke-width="1.1"/>
<ellipse cx="458.8" cy="167.1" rx="2.3" ry="7.2" fill="none" stroke="#6f8a8c" stroke-width="1.1"/>
<path d="M468.2 223.1 A2.3 4.7 0 0 1 466.4 214.5" fill="none" stroke="#f2f2f2" stroke-width="1.1"/>
<ellipse cx="466.6" cy="149.9" rx="3.5" ry="6.0" fill="none" stroke="#b0bebe" stroke-width="1.1"/>
<ellipse cx="465.3" cy="225.4" rx="1.6" ry="3.6" fill="none" stroke="#26306a" stroke-width="1.1"/>
<path d="M448.6 133.0 A2.1 4.6 0 0 1 448.7 124.5" fill="none" stroke="#6f8a8c" stroke-width="1.1"/>
<ellipse cx="451.0" cy="96.1" rx="1.7" ry="4.8" fill="none" stroke="#2a2226" stroke-width="1.1"/>
<ellipse cx="468.4" cy="101.9" rx="2.1" ry="5.8" fill="none" stroke="#f2f2f2" stroke-width="1.1"/>
<path d="M455.6 135.9 A2.1 5.9 0 0 1 454.4 126.3" fill="none" stroke="#f2f2f2" stroke-width="1.1"/>
<ellipse cx="463.2" cy="99.6" rx="2.4" ry="4.8" fill="none" stroke="#6e4a36" stroke-width="1.1"/>
<path d="M458.3 129.1 A2.2 6.4 0 1 1 462.2 133.9" fill="none" stroke="#5a2448" stroke-width="1.1"/>
<ellipse cx="459.2" cy="190.1" rx="2.3" ry="6.4" fill="none" stroke="#b0bebe" stroke-width="1.1"/>
<ellipse cx="460.8" cy="213.3" rx="2.8" ry="5.4" fill="none" stroke="#f2f2f2" stroke-width="1.1"/>
<path d="M463.3 89.8 A1.7 4.1 0 0 1 460.8 93.6" fill="none" stroke="#b0bebe" stroke-width="1.1"/>
<ellipse cx="466.2" cy="82.4" rx="1.8" ry="4.9" fill="none" stroke="#4d6769" stroke-width="1.1"/>
<ellipse cx="475.0" cy="83.2" rx="2.3" ry="6.8" fill="none" stroke="#b0bebe" stroke-width="1.1"/>
<ellipse cx="448.1" cy="104.0" rx="1.9" ry="3.4" fill="none" stroke="#6e4a36" stroke-width="1.1"/>
<path d="M469.3 146.9 A3.4 10.4 0 0 1 463.4 136.5" fill="none" stroke="#9a6a48" stroke-width="1.1"/>
<ellipse cx="455.6" cy="209.4" rx="1.3" ry="2.4" fill="none" stroke="#9a6a48" stroke-width="1.1"/>
<path d="M467.3 125.8 A1.7 2.7 0 1 1 470.3 125.5" fill="none" stroke="#f2f2f2" stroke-width="1.1"/>
<ellipse cx="478.3" cy="87.4" rx="1.8" ry="4.5" fill="none" stroke="#4d6769" stroke-width="1.1"/>
<path d="M451.2 207.7 A2.3 4.8 0 0 1 446.9 206.3" fill="none" stroke="#b0bebe" stroke-width="1.1"/>
<path d="M460.2 194.9 A2.8 4.5 0 0 1 465.2 198.4" fill="none" stroke="#4d6769" stroke-width="1.1"/>
<ellipse cx="477.2" cy="203.6" rx="1.3" ry="3.3" fill="none" stroke="#26306a" stroke-width="1.1"/>
<ellipse cx="465.6" cy="140.8" rx="1.3" ry="2.5" fill="none" stroke="#6f8a8c" stroke-width="1.1"/>
<ellipse cx="450.7" cy="207.2" rx="3.4" ry="10.7" fill="none" stroke="#f2f2f2" stroke-width="1.1"/>
<path d="M478.1 94.9 A2.8 8.0 0 0 1 473.8 104.7" fill="none" stroke="#6f8a8c" stroke-width="1.1"/>
<ellipse cx="455.8" cy="179.4" rx="2.1" ry="3.7" fill="none" stroke="#4d6769" stroke-width="1.1"/>
<path d="M470.3 80.7 A2.4 6.1 0 0 1 471.2 88.9" fill="none" stroke="#4d6769" stroke-width="1.1"/>
<ellipse cx="477.9" cy="205.9" rx="3.6" ry="9.8" fill="none" stroke="#9a6a48" stroke-width="1.1"/>
<ellipse cx="472.1" cy="84.8" rx="2.9" ry="7.4" fill="none" stroke="#f2f2f2" stroke-width="1.1"/>
<path d="M476.5 100.0 A1.5 4.6 0 0 1 477.4 108.2" fill="none" stroke="#6e4a36" stroke-width="1.1"/>
<ellipse cx="452.8" cy="213.0" rx="1.8" ry="4.9" fill="none" stroke="#f2f2f2" stroke-width="1.1"/>
<path d="M477.9 95.7 A1.7 5.2 0 1 1 479.5 104.9" fill="none" stroke="#6f8a8c" stroke-width="1.1"/>
<path d="M467.7 225.8 A1.8 3.9 0 0 1 471.1 224.3" fill="none" stroke="#6e4a36" stroke-width="1.1"/>
<path d="M456.3 185.2 A2.1 5.0 0 1 1 459.0 177.7" fill="none" stroke="#26306a" stroke-width="1.1"/>
<ellipse cx="466.4" cy="208.9" rx="3.3" ry="9.6" fill="none" stroke="#6f8a8c" stroke-width="1.1"/>
<path d="M475.1 105.1 A1.6 3.6 0 0 1 473.3 99.3" fill="none" stroke="#6e4a36" stroke-width="1.1"/>
<ellipse cx="463.1" cy="83.9" rx="3.3" ry="7.8" fill="none" stroke="#4d6769" stroke-width="1.1"/>
<ellipse cx="476.3" cy="195.8" rx="3.5" ry="7.2" fill="none" stroke="#6f8a8c" stroke-width="1.1"/>
<ellipse cx="459.1" cy="130.6" rx="2.1" ry="3.7" fill="none" stroke="#b0bebe" stroke-width="1.1"/>
<ellipse cx="462.4" cy="128.7" rx="1.8" ry="5.5" fill="none" stroke="#9a6a48" stroke-width="1.1"/>
<path d="M455.7 201.4 A1.5 3.4 0 1 1 453.5 202.6" fill="none" stroke="#9a6a48" stroke-width="1.1"/>
<path d="M478.6 216.6 A3.6 10.6 0 0 1 481.6 235.2" fill="none" stroke="#b0bebe" stroke-width="1.1"/>
<path d="M449.8 208.5 A2.0 5.5 0 1 1 448.3 198.6" fill="none" stroke="#f2f2f2" stroke-width="1.1"/>
<ellipse cx="460.1" cy="168.8" rx="3.4" ry="6.7" fill="none" stroke="#26306a" stroke-width="1.1"/>
<path d="M480.4 134.4 A3.4 8.3 0 1 1 477.1 120.6" fill="none" stroke="#26306a" stroke-width="1.1"/>
<ellipse cx="454.8" cy="101.3" rx="3.2" ry="8.4" fill="none" stroke="#5a2448" stroke-width="1.1"/>
<path d="M471.6 142.6 A1.3 2.2 0 1 1 469.5 141.6" fill="none" stroke="#9a6a48" stroke-width="1.1"/>
<path d="M458.7 167.1 A3.1 9.4 0 1 1 453.3 160.2" fill="none" stroke="#f2f2f2" stroke-width="1.1"/>
<path d="M461.3 224.4 A2.9 9.2 0 1 1 455.8 223.5" fill="none" stroke="#9a6a48" stroke-width="1.1"/>
<ellipse cx="481.0" cy="188.8" rx="2.1" ry="5.6" fill="none" stroke="#5a2448" stroke-width="1.1"/>
<ellipse cx="472.7" cy="145.3" rx="2.9" ry="8.7" fill="none" stroke="#26306a" stroke-width="1.1"/>
<ellipse cx="476.2" cy="123.9" rx="2.2" ry="6.6" fill="none" stroke="#6f8a8c" stroke-width="1.1"/>
<path d="M449.2 132.4 A2.6 6.1 0 1 1 452.7 138.2" fill="none" stroke="#6f8a8c" stroke-width="1.1"/>
<path d="M470.0 121.2 A2.6 7.2 0 1 1 466.0 118.9" fill="none" stroke="#26306a" stroke-width="1.1"/>
<ellipse cx="473.5" cy="116.9" rx="2.3" ry="6.1" fill="none" stroke="#6f8a8c" stroke-width="1.1"/>
<ellipse cx="474.7" cy="148.6" rx="3.1" ry="5.1" fill="none" stroke="#f2f2f2" stroke-width="1.1"/>
<path d="M454.2 132.4 A3.5 9.7 0 1 1 452.4 113.7" fill="none" stroke="#f2f2f2" stroke-width="1.1"/>
<path d="M466.4 131.3 A1.9 3.9 0 1 1 462.9 129.9" fill="none" stroke="#5a2448" stroke-width="1.1"/>
<path d="M477.0 83.3 A3.0 5.1 0 1 1 474.6 75.0" fill="none" stroke="#6f8a8c" stroke-width="1.1"/>
<ellipse cx="464.5" cy="160.9" rx="1.8" ry="5.5" fill="none" stroke="#6e4a36" stroke-width="1.1"/>
<path d="M452.8 168.5 A2.6 7.9 0 0 1 456.5 163.3" fill="none" stroke="#6f8a8c" stroke-width="1.1"/>
<ellipse cx="468.1" cy="148.8" rx="3.2" ry="5.2" fill="none" stroke="#4d6769" stroke-width="1.1"/>
<ellipse cx="464.8" cy="120.2" rx="2.6" ry="8.0" fill="none" stroke="#4d6769" stroke-width="1.1"/>
<ellipse cx="478.1" cy="77.9" rx="1.2" ry="3.8" fill="none" stroke="#2a2226" stroke-width="1.1"/>
<ellipse cx="466.7" cy="207.3" rx="2.7" ry="8.2" fill="none" stroke="#6f8a8c" stroke-width="1.1"/>
<path d="M481.2 124.4 A3.1 9.8 0 1 1 476.0 130.7" fill="none" stroke="#6f8a8c" stroke-width="1.1"/>
<path d="M476.5 157.8 A1.8 4.2 0 0 1 473.1 155.5" fill="none" stroke="#6f8a8c" stroke-width="1.1"/>
<path d="M459.7 192.8 A2.2 6.7 0 0 1 455.5 192.4" fill="none" stroke="#2a2226" stroke-width="1.1"/>
<ellipse cx="479.6" cy="108.2" rx="1.5" ry="4.2" fill="none" stroke="#6e4a36" stroke-width="1.1"/>
<path d="M453.8 89.7 A3.4 5.8 0 0 1 452.7 100.4" fill="none" stroke="#6f8a8c" stroke-width="1.1"/>
<path d="M447.7 199.7 A1.9 3.5 0 1 1 450.6 195.1" fill="none" stroke="#f2f2f2" stroke-width="1.1"/>
<ellipse cx="461.7" cy="205.7" rx="2.6" ry="6.5" fill="none" stroke="#f2f2f2" stroke-width="1.1"/>
<ellipse cx="470.5" cy="222.6" rx="3.0" ry="8.7" fill="none" stroke="#6f8a8c" stroke-width="1.1"/>
<ellipse cx="461.0" cy="138.6" rx="1.8" ry="5.3" fill="none" stroke="#4d6769" stroke-width="1.1"/>
<path d="M467.2 208.4 A3.0 5.6 0 0 1 468.2 199.4" fill="none" stroke="#6f8a8c" stroke-width="1.1"/>
<path d="M467.8 166.1 A3.2 5.7 0 0 1 464.7 157.6" fill="none" stroke="#6f8a8c" stroke-width="1.1"/>
<path d="M466.9 213.5 A3.0 6.4 0 1 1 471.0 219.0" fill="none" stroke="#9a6a48" stroke-width="1.1"/>
<path d="M475.6 195.2 A3.5 5.6 0 0 1 478.7 186.1" fill="none" stroke="#6f8a8c" stroke-width="1.1"/>
<ellipse cx="475.8" cy="202.7" rx="3.3" ry="9.3" fill="none" stroke="#6e4a36" stroke-width="1.1"/>
<ellipse cx="470.4" cy="75.4" rx="1.9" ry="5.7" fill="none" stroke="#f2f2f2" stroke-width="1.1"/>
<ellipse cx="451.3" cy="217.7" rx="2.9" ry="7.1" fill="none" stroke="#6f8a8c" stroke-width="1.1"/>
<path d="M473.6 180.4 A3.6 10.6 0 1 1 475.8 200.2" fill="none" stroke="#b0bebe" stroke-width="1.1"/>
<ellipse cx="451.9" cy="153.7" rx="1.4" ry="3.5" fill="none" stroke="#6f8a8c" stroke-width="1.1"/>
<path d="M477.3 127.5 A1.8 3.9 0 1 1 478.9 133.9" fill="none" stroke="#b0bebe" stroke-width="1.1"/>
<path d="M456.2 168.7 A2.9 6.4 0 1 1 452.3 175.4" fill="none" stroke="#9a6a48" stroke-width="1.1"/>
<ellipse cx="477.2" cy="220.0" rx="1.3" ry="3.9" fill="none" stroke="#6e4a36" stroke-width="1.1"/>
<ellipse cx="474.1" cy="91.0" rx="3.1" ry="6.8" fill="none" stroke="#f2f2f2" stroke-width="1.1"/>
<ellipse cx="478.9" cy="168.0" rx="1.2" ry="2.8" fill="none" stroke="#f2f2f2" stroke-width="1.1"/>
<ellipse cx="448.6" cy="140.4" rx="2.2" ry="4.6" fill="none" stroke="#5a2448" stroke-width="1.1"/>
<ellipse cx="477.6" cy="129.7" rx="1.8" ry="2.9" fill="none" stroke="#f2f2f2" stroke-width="1.1"/>
<ellipse cx="474.1" cy="96.6" rx="2.3" ry="5.3" fill="none" stroke="#6f8a8c" stroke-width="1.1"/>
<ellipse cx="449.4" cy="116.9" rx="3.4" ry="7.1" fill="none" stroke="#26306a" stroke-width="1.1"/>
<path d="M466.6 160.7 A3.0 8.6 0 0 1 463.2 167.7" fill="none" stroke="#b0bebe" stroke-width="1.1"/>
<path d="M460.5 173.8 A3.0 8.8 0 1 1 466.2 175.2" fill="none" stroke="#4d6769" stroke-width="1.1"/>
<path d="M446.7 96.4 A1.9 3.4 0 0 1 449.7 93.3" fill="none" stroke="#6f8a8c" stroke-width="1.1"/>
<ellipse cx="475.1" cy="126.4" rx="1.7" ry="4.7" fill="none" stroke="#2a2226" stroke-width="1.1"/>
<ellipse cx="470.0" cy="130.8" rx="1.2" ry="3.5" fill="none" stroke="#26306a" stroke-width="1.1"/>
<path d="M473.8 163.3 A2.8 6.3 0 0 1 469.3 156.9" fill="none" stroke="#2a2226" stroke-width="1.1"/>
<path d="M474.4 87.3 A2.1 5.5 0 0 1 477.5 89.6" fill="none" stroke="#4d6769" stroke-width="1.1"/>
<ellipse cx="465.8" cy="149.5" rx="1.2" ry="3.9" fill="none" stroke="#f2f2f2" stroke-width="1.1"/>
<path d="M459.9 86.5 A1.9 5.0 0 0 1 460.1 77.7" fill="none" stroke="#4d6769" stroke-width="1.1"/>
<path d="M453.2 71.5 A2.0 6.2 0 0 1 453.2 80.1" fill="none" stroke="#b0bebe" stroke-width="1.1"/>
<ellipse cx="474.1" cy="168.7" rx="3.5" ry="6.9" fill="none" stroke="#f2f2f2" stroke-width="1.1"/>
<path d="M462.1 82.8 A3.4 6.6 0 1 1 456.9 86.1" fill="none" stroke="#2a2226" stroke-width="1.1"/>
<ellipse cx="468.8" cy="79.0" rx="3.6" ry="10.8" fill="none" stroke="#9a6a48" stroke-width="1.1"/>
<path d="M471.5 163.4 A1.7 3.5 0 1 1 472.3 170.1" fill="none" stroke="#4d6769" stroke-width="1.1"/>
<path d="M471.6 225.0 A1.4 3.7 0 0 1 473.8 229.1" fill="none" stroke="#f2f2f2" stroke-width="1.1"/>
<path d="M455.1 217.2 A2.2 6.4 0 1 1 451.0 218.2" fill="none" stroke="#5a2448" stroke-width="1.1"/>
<ellipse cx="478.4" cy="205.2" rx="1.3" ry="3.3" fill="none" stroke="#6f8a8c" stroke-width="1.1"/>
<ellipse cx="480.5" cy="220.3" rx="1.7" ry="4.8" fill="none" stroke="#2a2226" stroke-width="1.1"/>
<path d="M464.5 100.7 A3.3 8.4 0 0 1 459.1 93.7" fill="none" stroke="#f2f2f2" stroke-width="1.1"/>
<path d="M478.9 189.1 A1.4 3.7 0 0 1 476.2 188.4" fill="none" stroke="#6f8a8c" stroke-width="1.1"/>
<path d="M476.6 176.1 A1.6 3.1 0 1 1 473.9 172.5" fill="none" stroke="#b0bebe" stroke-width="1.1"/>
<ellipse cx="462.5" cy="82.5" rx="1.7" ry="3.2" fill="none" stroke="#f2f2f2" stroke-width="1.1"/>
<path d="M460.7 205.6 A1.2 3.0 0 0 1 459.5 209.7" fill="none" stroke="#f2f2f2" stroke-width="1.1"/>
<ellipse cx="461.4" cy="225.3" rx="3.5" ry="8.6" fill="none" stroke="#4d6769" stroke-width="1.1"/>
<ellipse cx="457.6" cy="80.7" rx="2.3" ry="6.6" fill="none" stroke="#2a2226" stroke-width="1.1"/>
<ellipse cx="480.5" cy="87.5" rx="3.0" ry="9.2" fill="none" stroke="#f2f2f2" stroke-width="1.1"/>
<ellipse cx="458.0" cy="216.1" rx="2.8" ry="5.5" fill="none" stroke="#4d6769" stroke-width="1.1"/>
<path d="M456.9 201.3 A1.9 3.2 0 0 1 459.7 203.6" fill="none" stroke="#26306a" stroke-width="1.1"/>
<ellipse cx="466.6" cy="224.3" rx="3.5" ry="9.8" fill="none" stroke="#26306a" stroke-width="1.1"/>
<path d="M480.5 212.2 A3.6 6.5 0 0 1 480.6 223.3" fill="none" stroke="#6f8a8c" stroke-width="1.1"/>
<path d="M454.4 73.0 A2.8 4.7 0 0 1 458.5 75.2" fill="none" stroke="#b0bebe" stroke-width="1.1"/>
<ellipse cx="455.1" cy="196.2" rx="1.3" ry="3.2" fill="none" stroke="#f2f2f2" stroke-width="1.1"/>
<ellipse cx="449.8" cy="125.4" rx="3.5" ry="6.7" fill="none" stroke="#f2f2f2" stroke-width="1.1"/>
<ellipse cx="460.9" cy="194.4" rx="3.5" ry="5.7" fill="none" stroke="#4d6769" stroke-width="1.1"/>
<path d="M469.8 143.7 A1.6 5.2 0 0 1 467.2 139.3" fill="none" stroke="#6f8a8c" stroke-width="1.1"/>
<path d="M449.8 153.9 A2.9 5.8 0 0 1 450.0 165.4" fill="none" stroke="#5a2448" stroke-width="1.1"/>
<ellipse cx="455.3" cy="130.9" rx="3.1" ry="9.6" fill="none" stroke="#6f8a8c" stroke-width="1.1"/>
<path d="M456.8 218.2 A2.6 7.7 0 1 1 460.4 227.4" fill="none" stroke="#4d6769" stroke-width="1.1"/>
<path d="M463.2 124.8 A3.3 8.6 0 0 1 465.5 139.0" fill="none" stroke="#6f8a8c" stroke-width="1.1"/>
<path d="M454.8 222.3 A1.3 3.2 0 1 1 453.3 226.7" fill="none" stroke="#f2f2f2" stroke-width="1.1"/>
<path d="M449.6 88.5 A2.5 4.7 0 1 1 451.7 80.1" fill="none" stroke="#f2f2f2" stroke-width="1.1"/>
<path d="M470.4 130.8 A2.2 4.2 0 1 1 474.0 131.9" fill="none" stroke="#6e4a36" stroke-width="1.1"/>
<path d="M473.7 232.2 A2.1 4.6 0 0 1 470.9 228.1" fill="none" stroke="#2a2226" stroke-width="1.1"/>
<path d="M473.9 78.6 A2.9 6.3 0 0 1 471.6 89.7" fill="none" stroke="#f2f2f2" stroke-width="1.1"/>
<ellipse cx="461.9" cy="149.0" rx="1.9" ry="3.7" fill="none" stroke="#b0bebe" stroke-width="1.1"/>
<ellipse cx="452.5" cy="90.5" rx="1.9" ry="5.1" fill="none" stroke="#6f8a8c" stroke-width="1.1"/>
<ellipse cx="479.9" cy="183.3" rx="2.4" ry="4.0" fill="none" stroke="#5a2448" stroke-width="1.1"/>
<path d="M469.4 136.0 A2.5 4.9 0 0 1 472.0 130.1" fill="none" stroke="#9a6a48" stroke-width="1.1"/>
<path d="M482.1 122.7 A2.8 5.3 0 1 1 477.5 128.7" fill="none" stroke="#6f8a8c" stroke-width="1.1"/>
<ellipse cx="475.2" cy="179.6" rx="1.3" ry="3.8" fill="none" stroke="#2a2226" stroke-width="1.1"/>
<path d="M449.1 125.1 A1.7 3.5 0 0 1 451.9 124.5" fill="none" stroke="#4d6769" stroke-width="1.1"/>
<path d="M474.0 187.6 A1.7 3.1 0 0 1 471.0 188.3" fill="none" stroke="#6f8a8c" stroke-width="1.1"/>
<path d="M463.7 204.8 A2.8 5.9 0 0 1 465.4 214.1" fill="none" stroke="#b0bebe" stroke-width="1.1"/>
<path d="M461.6 186.6 A3.1 9.5 0 0 1 459.0 199.3" fill="none" stroke="#2a2226" stroke-width="1.1"/>
<ellipse cx="479.6" cy="144.9" rx="3.5" ry="6.8" fill="none" stroke="#4d6769" stroke-width="1.1"/>
<ellipse cx="449.9" cy="195.4" rx="1.9" ry="3.2" fill="none" stroke="#b0bebe" stroke-width="1.1"/>
<path d="M468.6 104.7 A1.4 4.0 0 0 1 467.8 97.3" fill="none" stroke="#b0bebe" stroke-width="1.1"/>
<path d="M477.5 205.6 A3.1 7.5 0 0 1 482.4 202.9" fill="none" stroke="#6f8a8c" stroke-width="1.1"/>
<path d="M474.3 131.1 A2.8 5.9 0 0 1 471.5 124.0" fill="none" stroke="#6f8a8c" stroke-width="1.1"/>
<path d="M458.7 187.5 A2.8 5.4 0 0 1 456.4 197.3" fill="none" stroke="#9a6a48" stroke-width="1.1"/>
<ellipse cx="454.5" cy="99.9" rx="2.9" ry="7.0" fill="none" stroke="#5a2448" stroke-width="1.1"/>
<path d="M475.4 158.1 A2.5 6.9 0 0 1 479.3 166.4" fill="none" stroke="#9a6a48" stroke-width="1.1"/>
<ellipse cx="453.0" cy="124.9" rx="2.2" ry="5.0" fill="none" stroke="#6f8a8c" stroke-width="1.1"/>
<path d="M452.2 91.3 A2.3 4.4 0 0 1 448.6 91.8" fill="none" stroke="#5a2448" stroke-width="1.1"/>
<path d="M451.5 221.4 A1.4 3.9 0 1 1 449.1 217.7" fill="none" stroke="#4d6769" stroke-width="1.1"/>
<path d="M465.2 95.7 A1.4 3.4 0 1 1 462.6 96.1" fill="none" stroke="#6e4a36" stroke-width="1.1"/>
<ellipse cx="456.0" cy="160.1" rx="1.5" ry="3.5" fill="none" stroke="#4d6769" stroke-width="1.1"/>
<ellipse cx="460.4" cy="176.5" rx="1.8" ry="5.0" fill="none" stroke="#4d6769" stroke-width="1.1"/>
<ellipse cx="454.3" cy="105.9" rx="3.0" ry="7.2" fill="none" stroke="#6f8a8c" stroke-width="1.1"/>
<ellipse cx="475.8" cy="207.0" rx="3.0" ry="5.5" fill="none" stroke="#4d6769" stroke-width="1.1"/>
<path d="M468.2 116.0 A2.9 8.0 0 0 1 462.6 111.5" fill="none" stroke="#4d6769" stroke-width="1.1"/>
<ellipse cx="474.2" cy="145.8" rx="2.0" ry="5.7" fill="none" stroke="#6e4a36" stroke-width="1.1"/>
<path d="M468.3 144.2 A1.6 4.4 0 1 1 471.4 141.4" fill="none" stroke="#6e4a36" stroke-width="1.1"/>
<path d="M465.4 180.2 A3.5 5.7 0 0 1 468.9 186.0" fill="none" stroke="#5a2448" stroke-width="1.1"/>
<ellipse cx="470.1" cy="143.9" rx="2.5" ry="4.9" fill="none" stroke="#6f8a8c" stroke-width="1.1"/>
<path d="M482.2 172.9 A3.6 9.5 0 0 1 477.2 182.9" fill="none" stroke="#5a2448" stroke-width="1.1"/>
<path d="M453.7 138.2 A1.9 3.2 0 0 1 451.3 142.8" fill="none" stroke="#6e4a36" stroke-width="1.1"/>
<path d="M477.8 101.1 A2.7 5.4 0 1 1 479.4 92.0" fill="none" stroke="#b0bebe" stroke-width="1.1"/>
<path d="M467.5 214.1 A2.9 7.2 0 1 1 470.3 204.0" fill="none" stroke="#b0bebe" stroke-width="1.1"/>
<ellipse cx="469.9" cy="205.3" rx="2.7" ry="6.9" fill="none" stroke="#6e4a36" stroke-width="1.1"/>
<ellipse cx="472.8" cy="127.0" rx="1.3" ry="4.1" fill="none" stroke="#b0bebe" stroke-width="1.1"/>
<path d="M461.6 149.1 A3.5 9.8 0 1 1 467.5 159.1" fill="none" stroke="#6e4a36" stroke-width="1.1"/>
<path d="M467.8 174.5 A2.6 6.2 0 1 1 468.7 185.2" fill="none" stroke="#2a2226" stroke-width="1.1"/>
<path d="M472.8 166.8 A2.7 7.6 0 0 1 473.1 181.2" fill="none" stroke="#5a2448" stroke-width="1.1"/>
<path d="M473.8 197.8 A2.1 6.6 0 0 1 469.8 201.1" fill="none" stroke="#6f8a8c" stroke-width="1.1"/>
<ellipse cx="449.5" cy="228.6" rx="1.4" ry="2.6" fill="none" stroke="#b0bebe" stroke-width="1.1"/>
<ellipse cx="478.7" cy="88.1" rx="2.9" ry="9.1" fill="none" stroke="#f2f2f2" stroke-width="1.1"/>
<ellipse cx="471.5" cy="81.1" rx="2.7" ry="4.8" fill="none" stroke="#f2f2f2" stroke-width="1.1"/>
<ellipse cx="467.4" cy="204.7" rx="2.7" ry="8.4" fill="none" stroke="#b0bebe" stroke-width="1.1"/>
<path d="M465.1 201.5 A2.0 6.0 0 0 1 468.0 199.4" fill="none" stroke="#f2f2f2" stroke-width="1.1"/>
<path d="M456.0 128.3 A1.7 4.7 0 0 1 452.8 130.9" fill="none" stroke="#6e4a36" stroke-width="1.1"/>
<ellipse cx="480.5" cy="126.5" rx="2.2" ry="5.9" fill="none" stroke="#9a6a48" stroke-width="1.1"/>
<ellipse cx="450.5" cy="178.0" rx="2.3" ry="5.1" fill="none" stroke="#5a2448" stroke-width="1.1"/>
<path d="M474.1 195.1 A2.8 4.8 0 0 1 474.5 187.2" fill="none" stroke="#f2f2f2" stroke-width="1.1"/>
<ellipse cx="473.8" cy="78.3" rx="1.5" ry="3.9" fill="none" stroke="#4d6769" stroke-width="1.1"/>
<ellipse cx="450.8" cy="138.5" rx="2.9" ry="7.0" fill="none" stroke="#b0bebe" stroke-width="1.1"/>
<ellipse cx="455.0" cy="149.0" rx="2.1" ry="5.9" fill="none" stroke="#2a2226" stroke-width="1.1"/>
<ellipse cx="456.1" cy="228.3" rx="1.6" ry="4.5" fill="none" stroke="#f2f2f2" stroke-width="1.1"/>
<ellipse cx="458.5" cy="192.7" rx="2.3" ry="3.9" fill="none" stroke="#f2f2f2" stroke-width="1.1"/>
<ellipse cx="451.3" cy="198.2" rx="2.1" ry="6.5" fill="none" stroke="#6f8a8c" stroke-width="1.1"/>
<ellipse cx="454.3" cy="103.3" rx="3.2" ry="6.1" fill="none" stroke="#4d6769" stroke-width="1.1"/>
<path d="M476.2 231.4 A3.3 9.1 0 0 1 474.1 220.3" fill="none" stroke="#f2f2f2" stroke-width="1.1"/>
<ellipse cx="480.4" cy="148.2" rx="2.8" ry="4.8" fill="none" stroke="#6e4a36" stroke-width="1.1"/>
<path d="M468.4 201.1 A1.4 3.8 0 1 1 470.0 207.0" fill="none" stroke="#6f8a8c" stroke-width="1.1"/>
<path d="M478.4 83.7 A1.7 3.7 0 1 1 478.0 76.8" fill="none" stroke="#f2f2f2" stroke-width="1.1"/>
<path d="M457.1 136.5 A1.2 3.0 0 1 1 455.1 136.3" fill="none" stroke="#9a6a48" stroke-width="1.1"/>
<ellipse cx="477.5" cy="138.1" rx="2.7" ry="8.0" fill="none" stroke="#9a6a48" stroke-width="1.1"/>
<ellipse cx="458.6" cy="189.2" rx="3.1" ry="8.7" fill="none" stroke="#f2f2f2" stroke-width="1.1"/>
<ellipse cx="471.9" cy="101.9" rx="2.0" ry="5.1" fill="none" stroke="#2a2226" stroke-width="1.1"/>
<ellipse cx="448.5" cy="175.8" rx="1.5" ry="2.5" fill="none" stroke="#f2f2f2" stroke-width="1.1"/>
<path d="M482.2 164.4 A2.5 7.8 0 0 1 479.0 168.6" fill="none" stroke="#26306a" stroke-width="1.1"/>
<path d="M482.0 191.8 A3.0 6.6 0 0 1 481.5 203.4" fill="none" stroke="#2a2226" stroke-width="1.1"/>
<ellipse cx="461.6" cy="156.4" rx="3.1" ry="7.8" fill="none" stroke="#6f8a8c" stroke-width="1.1"/>
<ellipse cx="450.3" cy="216.8" rx="2.3" ry="6.1" fill="none" stroke="#f2f2f2" stroke-width="1.1"/>
<ellipse cx="474.4" cy="125.6" rx="2.0" ry="5.7" fill="none" stroke="#5a2448" stroke-width="1.1"/>
<ellipse cx="481.0" cy="135.8" rx="2.8" ry="8.5" fill="none" stroke="#6e4a36" stroke-width="1.1"/>
<ellipse cx="458.5" cy="203.3" rx="3.4" ry="10.8" fill="none" stroke="#26306a" stroke-width="1.1"/>
<path d="M474.5 105.7 A3.4 6.2 0 0 1 469.6 109.5" fill="none" stroke="#5a2448" stroke-width="1.1"/>
<path d="M476.9 164.0 A3.0 8.2 0 1 1 480.9 153.2" fill="none" stroke="#4d6769" stroke-width="1.1"/>
<path d="M462.9 74.4 A3.2 5.6 0 0 1 463.4 82.9" fill="none" stroke="#26306a" stroke-width="1.1"/>
<ellipse cx="476.1" cy="199.5" rx="2.3" ry="6.0" fill="none" stroke="#6f8a8c" stroke-width="1.1"/>
<ellipse cx="455.4" cy="162.2" rx="1.2" ry="2.8" fill="none" stroke="#6e4a36" stroke-width="1.1"/>
<path d="M453.4 106.7 A3.4 10.1 0 1 1 448.5 120.9" fill="none" stroke="#4d6769" stroke-width="1.1"/>
<ellipse cx="479.4" cy="130.0" rx="3.1" ry="5.9" fill="none" stroke="#f2f2f2" stroke-width="1.1"/>
<ellipse cx="455.5" cy="215.0" rx="3.3" ry="7.1" fill="none" stroke="#5a2448" stroke-width="1.1"/>
<ellipse cx="450.3" cy="132.0" rx="2.5" ry="7.4" fill="none" stroke="#4d6769" stroke-width="1.1"/>
<path d="M452.9 114.6 A2.3 6.8 0 0 1 448.6 119.1" fill="none" stroke="#2a2226" stroke-width="1.1"/>
<path d="M475.4 119.2 A2.6 6.3 0 1 1 472.4 128.9" fill="none" stroke="#6f8a8c" stroke-width="1.1"/>
<path d="M457.5 179.1 A3.2 9.4 0 0 1 462.7 168.2" fill="none" stroke="#6f8a8c" stroke-width="1.1"/>
<ellipse cx="452.8" cy="90.5" rx="2.8" ry="5.3" fill="none" stroke="#26306a" stroke-width="1.1"/>
<path d="M461.0 104.8 A3.0 8.5 0 0 1 462.9 92.6" fill="none" stroke="#5a2448" stroke-width="1.1"/>
<path d="M472.0 144.3 A2.5 8.0 0 1 1 474.3 130.1" fill="none" stroke="#5a2448" stroke-width="1.1"/>
<ellipse cx="468.9" cy="198.7" rx="2.1" ry="6.4" fill="none" stroke="#9a6a48" stroke-width="1.1"/>
<path d="M461.8 138.6 A1.3 2.4 0 0 1 461.0 134.3" fill="none" stroke="#4d6769" stroke-width="1.1"/>
<ellipse cx="469.1" cy="117.6" rx="3.3" ry="9.2" fill="none" stroke="#6e4a36" stroke-width="1.1"/>
<ellipse cx="479.4" cy="126.6" rx="1.9" ry="5.4" fill="none" stroke="#b0bebe" stroke-width="1.1"/>
<path d="M469.0 97.1 A2.6 8.3 0 0 1 472.6 103.9" fill="none" stroke="#4d6769" stroke-width="1.1"/>
<path d="M469.0 109.2 A2.3 6.0 0 0 1 470.9 117.4" fill="none" stroke="#f2f2f2" stroke-width="1.1"/>
<ellipse cx="460.7" cy="202.3" rx="2.3" ry="5.8" fill="none" stroke="#b0bebe" stroke-width="1.1"/>
<ellipse cx="454.5" cy="135.4" rx="3.3" ry="6.8" fill="none" stroke="#4d6769" stroke-width="1.1"/>
<ellipse cx="456.4" cy="181.9" rx="1.9" ry="3.1" fill="none" stroke="#f2f2f2" stroke-width="1.1"/>
<ellipse cx="453.6" cy="171.2" rx="1.6" ry="3.3" fill="none" stroke="#2a2226" stroke-width="1.1"/>
<ellipse cx="471.4" cy="134.1" rx="1.8" ry="5.3" fill="none" stroke="#6f8a8c" stroke-width="1.1"/>
<ellipse cx="470.4" cy="121.9" rx="1.7" ry="5.4" fill="none" stroke="#b0bebe" stroke-width="1.1"/>
<ellipse cx="471.5" cy="94.8" rx="3.4" ry="10.7" fill="none" stroke="#f2f2f2" stroke-width="1.1"/>
<path d="M453.5 178.3 A3.2 9.9 0 0 1 449.6 167.7" fill="none" stroke="#6f8a8c" stroke-width="1.1"/>
<path d="M467.1 194.9 A2.2 6.7 0 0 1 465.3 203.5" fill="none" stroke="#f2f2f2" stroke-width="1.1"/>
<ellipse cx="470.4" cy="96.4" rx="1.8" ry="3.9" fill="none" stroke="#b0bebe" stroke-width="1.1"/>
<ellipse cx="474.6" cy="111.1" rx="2.5" ry="5.3" fill="none" stroke="#6f8a8c" stroke-width="1.1"/>
<ellipse cx="457.7" cy="179.0" rx="1.7" ry="3.8" fill="none" stroke="#b0bebe" stroke-width="1.1"/>
<ellipse cx="458.5" cy="208.9" rx="3.5" ry="9.7" fill="none" stroke="#4d6769" stroke-width="1.1"/>
<ellipse cx="476.1" cy="187.5" rx="1.8" ry="5.3" fill="none" stroke="#f2f2f2" stroke-width="1.1"/>
<path d="M469.3 132.8 A2.5 4.1 0 0 1 471.7 127.3" fill="none" stroke="#6f8a8c" stroke-width="1.1"/>
<ellipse cx="468.1" cy="225.7" rx="1.9" ry="3.6" fill="none" stroke="#4d6769" stroke-width="1.1"/>
<ellipse cx="461.5" cy="171.1" rx="2.3" ry="7.1" fill="none" stroke="#26306a" stroke-width="1.1"/>
<ellipse cx="469.3" cy="198.7" rx="1.8" ry="3.5" fill="none" stroke="#b0bebe" stroke-width="1.1"/>
<path d="M460.7 73.0 A2.6 7.2 0 1 1 462.5 83.0" fill="none" stroke="#f2f2f2" stroke-width="1.1"/>
<ellipse cx="454.7" cy="226.9" rx="2.7" ry="4.5" fill="none" stroke="#f2f2f2" stroke-width="1.1"/>
<ellipse cx="466.9" cy="179.4" rx="1.7" ry="4.2" fill="none" stroke="#6f8a8c" stroke-width="1.1"/>
<ellipse cx="448.7" cy="75.4" rx="2.9" ry="9.0" fill="none" stroke="#26306a" stroke-width="1.1"/>
<ellipse cx="453.4" cy="216.8" rx="1.3" ry="3.2" fill="none" stroke="#6f8a8c" stroke-width="1.1"/>
<ellipse cx="459.1" cy="215.0" rx="3.5" ry="5.9" fill="none" stroke="#6e4a36" stroke-width="1.1"/>
<ellipse cx="477.4" cy="197.6" rx="3.4" ry="8.9" fill="none" stroke="#b0bebe" stroke-width="1.1"/>
<path d="M457.4 109.1 A1.5 4.3 0 1 1 459.6 114.3" fill="none" stroke="#f2f2f2" stroke-width="1.1"/>
<ellipse cx="454.0" cy="181.2" rx="3.2" ry="9.6" fill="none" stroke="#b0bebe" stroke-width="1.1"/>
<ellipse cx="475.2" cy="148.8" rx="1.6" ry="4.3" fill="none" stroke="#6e4a36" stroke-width="1.1"/>
<ellipse cx="475.5" cy="166.3" rx="2.9" ry="5.1" fill="none" stroke="#b0bebe" stroke-width="1.1"/>
<path d="M467.1 93.2 A2.7 5.9 0 0 1 461.9 90.9" fill="none" stroke="#6f8a8c" stroke-width="1.1"/>
<ellipse cx="460.5" cy="221.6" rx="1.5" ry="3.9" fill="none" stroke="#4d6769" stroke-width="1.1"/>
<ellipse cx="461.9" cy="162.0" rx="3.0" ry="7.8" fill="none" stroke="#9a6a48" stroke-width="1.1"/>
<path d="M452.9 142.0 A3.2 5.4 0 0 1 456.2 132.9" fill="none" stroke="#f2f2f2" stroke-width="1.1"/>
<path d="M458.5 89.3 A3.2 9.5 0 1 1 457.4 72.0" fill="none" stroke="#2a2226" stroke-width="1.1"/>
<ellipse cx="450.3" cy="140.4" rx="1.9" ry="5.8" fill="none" stroke="#2a2226" stroke-width="1.1"/>
<ellipse cx="459.0" cy="129.1" rx="2.7" ry="6.3" fill="none" stroke="#6f8a8c" stroke-width="1.1"/>
<ellipse cx="455.4" cy="142.4" rx="2.4" ry="4.6" fill="none" stroke="#6f8a8c" stroke-width="1.1"/>
<ellipse cx="459.9" cy="181.9" rx="3.5" ry="9.7" fill="none" stroke="#6e4a36" stroke-width="1.1"/>
<ellipse cx="469.1" cy="114.4" rx="3.5" ry="6.6" fill="none" stroke="#f2f2f2" stroke-width="1.1"/>
<ellipse cx="449.1" cy="214.3" rx="1.9" ry="6.0" fill="none" stroke="#6f8a8c" stroke-width="1.1"/>
<path d="M474.7 179.4 A1.5 3.9 0 1 1 477.2 183.7" fill="none" stroke="#6f8a8c" stroke-width="1.1"/>
<path d="M474.4 93.2 A1.6 2.7 0 0 1 472.1 95.9" fill="none" stroke="#5a2448" stroke-width="1.1"/>
<ellipse cx="461.4" cy="112.1" rx="1.8" ry="4.3" fill="none" stroke="#5a2448" stroke-width="1.1"/>
<ellipse cx="449.3" cy="131.3" rx="3.3" ry="9.5" fill="none" stroke="#6f8a8c" stroke-width="1.1"/>
<path d="M474.9 82.4 A3.5 10.6 0 0 1 478.7 65.2" fill="none" stroke="#f2f2f2" stroke-width="1.1"/>
<ellipse cx="466.5" cy="168.4" rx="2.0" ry="5.2" fill="none" stroke="#6f8a8c" stroke-width="1.1"/>
<ellipse cx="468.3" cy="83.3" rx="1.7" ry="4.0" fill="none" stroke="#4d6769" stroke-width="1.1"/>
<ellipse cx="469.6" cy="190.3" rx="2.9" ry="9.2" fill="none" stroke="#9a6a48" stroke-width="1.1"/>
<path d="M451.6 168.6 A2.3 7.2 0 1 1 455.9 164.6" fill="none" stroke="#5a2448" stroke-width="1.1"/>
<path d="M459.1 93.2 A1.6 2.7 0 0 1 457.0 95.9" fill="none" stroke="#f2f2f2" stroke-width="1.1"/>
<ellipse cx="464.5" cy="115.4" rx="1.5" ry="4.6" fill="none" stroke="#f2f2f2" stroke-width="1.1"/>
<path d="M479.4 190.7 A2.5 6.4 0 1 1 476.3 181.2" fill="none" stroke="#f2f2f2" stroke-width="1.1"/>
<ellipse cx="459.8" cy="213.2" rx="1.7" ry="4.7" fill="none" stroke="#b0bebe" stroke-width="1.1"/>
<ellipse cx="480.8" cy="83.2" rx="2.3" ry="6.5" fill="none" stroke="#6f8a8c" stroke-width="1.1"/>
<path d="M463.8 95.9 A1.7 3.3 0 1 1 464.4 102.2" fill="none" stroke="#5a2448" stroke-width="1.1"/>
<ellipse cx="480.7" cy="82.4" rx="2.7" ry="7.6" fill="none" stroke="#6f8a8c" stroke-width="1.1"/>
<ellipse cx="459.3" cy="83.5" rx="2.0" ry="5.7" fill="none" stroke="#4d6769" stroke-width="1.1"/>
<ellipse cx="460.7" cy="88.7" rx="2.5" ry="6.9" fill="none" stroke="#f2f2f2" stroke-width="1.1"/>
<ellipse cx="459.2" cy="91.0" rx="2.8" ry="4.6" fill="none" stroke="#b0bebe" stroke-width="1.1"/>
<path d="M463.1 121.8 A1.8 3.2 0 0 1 460.2 122.2" fill="none" stroke="#6f8a8c" stroke-width="1.1"/>
<path d="M456.5 203.1 A3.2 7.1 0 1 1 450.8 205.5" fill="none" stroke="#9a6a48" stroke-width="1.1"/>
<path d="M455.4 150.9 A2.0 4.2 0 0 1 455.9 143.8" fill="none" stroke="#2a2226" stroke-width="1.1"/>
<ellipse cx="451.6" cy="104.4" rx="2.4" ry="7.4" fill="none" stroke="#26306a" stroke-width="1.1"/>
<ellipse cx="466.2" cy="226.2" rx="2.2" ry="5.5" fill="none" stroke="#b0bebe" stroke-width="1.1"/>
<ellipse cx="460.3" cy="157.4" rx="1.7" ry="4.8" fill="none" stroke="#4d6769" stroke-width="1.1"/>
<path d="M472.0 97.8 A1.3 3.1 0 1 1 470.0 101.5" fill="none" stroke="#b0bebe" stroke-width="1.1"/>
<path d="M478.5 128.5 A2.0 4.3 0 0 1 481.1 134.4" fill="none" stroke="#6f8a8c" stroke-width="1.1"/>
<ellipse cx="459.6" cy="173.8" rx="3.4" ry="5.5" fill="none" stroke="#4d6769" stroke-width="1.1"/>
<ellipse cx="463.4" cy="76.3" rx="2.1" ry="3.9" fill="none" stroke="#4d6769" stroke-width="1.1"/>
<ellipse cx="470.4" cy="192.7" rx="3.1" ry="6.5" fill="none" stroke="#4d6769" stroke-width="1.1"/>
<ellipse cx="464.7" cy="176.9" rx="1.3" ry="3.4" fill="none" stroke="#6f8a8c" stroke-width="1.1"/>
<ellipse cx="448.9" cy="189.3" rx="1.7" ry="4.8" fill="none" stroke="#6f8a8c" stroke-width="1.1"/>
<path d="M475.2 122.4 A1.5 2.6 0 0 1 477.7 123.3" fill="none" stroke="#6e4a36" stroke-width="1.1"/>
<ellipse cx="465.1" cy="132.8" rx="3.1" ry="8.7" fill="none" stroke="#4d6769" stroke-width="1.1"/>
<path d="M462.8 81.7 A2.8 7.5 0 0 1 465.0 93.4" fill="none" stroke="#5a2448" stroke-width="1.1"/>
<ellipse cx="472.1" cy="135.7" rx="3.2" ry="8.3" fill="none" stroke="#4d6769" stroke-width="1.1"/>
<path d="M474.0 129.6 A2.2 4.4 0 1 1 470.7 135.2" fill="none" stroke="#6f8a8c" stroke-width="1.1"/>
<path d="M462.6 101.9 A3.1 5.4 0 1 1 457.0 101.6" fill="none" stroke="#6f8a8c" stroke-width="1.1"/>
<ellipse cx="453.1" cy="166.3" rx="2.9" ry="4.7" fill="none" stroke="#f2f2f2" stroke-width="1.1"/>
<ellipse cx="459.9" cy="195.2" rx="2.2" ry="5.5" fill="none" stroke="#f2f2f2" stroke-width="1.1"/>
<ellipse cx="460.5" cy="129.5" rx="3.4" ry="8.5" fill="none" stroke="#6f8a8c" stroke-width="1.1"/>
<ellipse cx="456.1" cy="130.6" rx="3.1" ry="6.0" fill="none" stroke="#b0bebe" stroke-width="1.1"/>
<path d="M481.7 125.4 A2.3 6.6 0 1 1 479.4 114.2" fill="none" stroke="#4d6769" stroke-width="1.1"/>
<ellipse cx="461.9" cy="159.0" rx="2.9" ry="6.5" fill="none" stroke="#9a6a48" stroke-width="1.1"/>
<path d="M476.3 135.6 A2.9 5.3 0 0 1 478.7 127.2" fill="none" stroke="#f2f2f2" stroke-width="1.1"/>
<ellipse cx="454.7" cy="122.3" rx="2.4" ry="7.0" fill="none" stroke="#b0bebe" stroke-width="1.1"/>
<ellipse cx="474.9" cy="164.9" rx="2.2" ry="6.3" fill="none" stroke="#f2f2f2" stroke-width="1.1"/>
<ellipse cx="467.4" cy="195.8" rx="2.3" ry="4.0" fill="none" stroke="#b0bebe" stroke-width="1.1"/>
<path d="M456.2 193.5 A2.1 5.7 0 0 1 456.8 183.1" fill="none" stroke="#6f8a8c" stroke-width="1.1"/>
<ellipse cx="468.9" cy="152.5" rx="1.9" ry="5.1" fill="none" stroke="#f2f2f2" stroke-width="1.1"/>
<ellipse cx="468.3" cy="111.9" rx="2.1" ry="5.5" fill="none" stroke="#26306a" stroke-width="1.1"/>
<ellipse cx="474.4" cy="93.5" rx="3.1" ry="6.5" fill="none" stroke="#f2f2f2" stroke-width="1.1"/>
<path d="M478.0 221.0 A1.7 4.4 0 0 1 476.3 226.9" fill="none" stroke="#6f8a8c" stroke-width="1.1"/>
<ellipse cx="478.9" cy="160.0" rx="2.4" ry="4.6" fill="none" stroke="#b0bebe" stroke-width="1.1"/>
<ellipse cx="461.1" cy="112.9" rx="3.0" ry="4.8" fill="none" stroke="#b0bebe" stroke-width="1.1"/>
<ellipse cx="464.7" cy="97.3" rx="3.1" ry="6.4" fill="none" stroke="#b0bebe" stroke-width="1.1"/>
<ellipse cx="465.3" cy="102.9" rx="3.5" ry="6.5" fill="none" stroke="#b0bebe" stroke-width="1.1"/>
<ellipse cx="456.7" cy="204.2" rx="2.3" ry="5.6" fill="none" stroke="#4d6769" stroke-width="1.1"/>
<path d="M477.0 162.8 A3.4 7.7 0 1 1 481.4 155.9" fill="none" stroke="#6f8a8c" stroke-width="1.1"/>
<ellipse cx="477.7" cy="125.4" rx="1.8" ry="5.6" fill="none" stroke="#b0bebe" stroke-width="1.1"/>
<ellipse cx="448.9" cy="190.1" rx="3.0" ry="6.6" fill="none" stroke="#f2f2f2" stroke-width="1.1"/>
<path d="M478.4 83.4 A3.2 6.9 0 1 1 479.2 95.3" fill="none" stroke="#6f8a8c" stroke-width="1.1"/>
<ellipse cx="470.9" cy="127.6" rx="1.3" ry="2.8" fill="none" stroke="#f2f2f2" stroke-width="1.1"/>
<ellipse cx="471.1" cy="186.2" rx="2.5" ry="5.1" fill="none" stroke="#f2f2f2" stroke-width="1.1"/>
<path d="M451.1 219.5 A2.9 7.0 0 1 1 450.8 233.5" fill="none" stroke="#f2f2f2" stroke-width="1.1"/>
<path d="M465.1 180.0 A2.9 7.2 0 1 1 460.8 170.7" fill="none" stroke="#b0bebe" stroke-width="1.1"/>
<ellipse cx="449.6" cy="116.8" rx="1.6" ry="5.1" fill="none" stroke="#6e4a36" stroke-width="1.1"/>
<ellipse cx="461.8" cy="222.5" rx="2.1" ry="4.9" fill="none" stroke="#f2f2f2" stroke-width="1.1"/>
<path d="M467.9 141.4 A3.3 9.7 0 0 1 470.5 154.1" fill="none" stroke="#26306a" stroke-width="1.1"/>
<path d="M454.6 123.2 A3.5 9.5 0 0 1 450.5 110.4" fill="none" stroke="#6f8a8c" stroke-width="1.1"/>
<path d="M464.1 97.7 A2.7 6.7 0 0 1 459.1 92.9" fill="none" stroke="#4d6769" stroke-width="1.1"/>
<path d="M481.8 212.0 A2.7 7.9 0 0 1 477.2 206.4" fill="none" stroke="#2a2226" stroke-width="1.1"/>
<path d="M456.5 152.3 A1.3 2.9 0 1 1 456.9 147.7" fill="none" stroke="#6f8a8c" stroke-width="1.1"/>
<ellipse cx="480.7" cy="124.8" rx="3.0" ry="6.0" fill="none" stroke="#4d6769" stroke-width="1.1"/>
<ellipse cx="451.1" cy="212.2" rx="2.0" ry="5.5" fill="none" stroke="#26306a" stroke-width="1.1"/>
<ellipse cx="468.6" cy="173.4" rx="1.6" ry="2.7" fill="none" stroke="#2a2226" stroke-width="1.1"/>
<path d="M456.9 123.8 A1.3 3.1 0 0 1 458.6 125.3" fill="none" stroke="#6f8a8c" stroke-width="1.1"/>
<ellipse cx="476.5" cy="116.8" rx="2.3" ry="5.9" fill="none" stroke="#f2f2f2" stroke-width="1.1"/>
<ellipse cx="459.6" cy="93.1" rx="1.8" ry="4.1" fill="none" stroke="#f2f2f2" stroke-width="1.1"/>
<path d="M457.6 112.5 A3.6 7.9 0 1 1 453.7 125.7" fill="none" stroke="#6e4a36" stroke-width="1.1"/>
<ellipse cx="461.6" cy="192.6" rx="1.7" ry="5.3" fill="none" stroke="#f2f2f2" stroke-width="1.1"/>
<path d="M451.1 175.6 A3.2 7.5 0 1 1 450.5 163.5" fill="none" stroke="#f2f2f2" stroke-width="1.1"/>
<path d="M466.5 155.2 A1.3 3.7 0 1 1 464.2 155.7" fill="none" stroke="#6f8a8c" stroke-width="1.1"/>
<path d="M476.9 132.9 A2.5 4.6 0 0 1 479.4 140.0" fill="none" stroke="#9a6a48" stroke-width="1.1"/>
<path d="M458.6 184.2 A3.6 9.6 0 1 1 465.4 189.6" fill="none" stroke="#6f8a8c" stroke-width="1.1"/>
<path d="M468.1 94.0 A3.0 8.0 0 1 1 462.3 95.9" fill="none" stroke="#6f8a8c" stroke-width="1.1"/>
<path d="M479.1 93.9 A3.3 9.5 0 0 1 481.6 104.7" fill="none" stroke="#5a2448" stroke-width="1.1"/>
<ellipse cx="474.3" cy="156.7" rx="1.4" ry="3.8" fill="none" stroke="#6f8a8c" stroke-width="1.1"/>
<path d="M456.6 216.1 A1.3 2.3 0 1 1 454.6 216.7" fill="none" stroke="#6f8a8c" stroke-width="1.1"/>
<ellipse cx="477.1" cy="162.4" rx="1.5" ry="2.8" fill="none" stroke="#26306a" stroke-width="1.1"/>
<path d="M470.9 110.2 A3.0 5.4 0 0 1 465.8 104.8" fill="none" stroke="#26306a" stroke-width="1.1"/>
<ellipse cx="472.9" cy="94.8" rx="2.8" ry="5.3" fill="none" stroke="#2a2226" stroke-width="1.1"/>
<ellipse cx="454.0" cy="110.5" rx="2.2" ry="5.5" fill="none" stroke="#5a2448" stroke-width="1.1"/>
<path d="M470.3 109.2 A1.3 3.8 0 0 1 471.7 112.5" fill="none" stroke="#b0bebe" stroke-width="1.1"/>
<path d="M464.1 117.1 A1.4 3.1 0 0 1 465.0 111.6" fill="none" stroke="#2a2226" stroke-width="1.1"/>
<path d="M450.5 81.1 A1.7 4.1 0 1 1 447.5 78.8" fill="none" stroke="#6e4a36" stroke-width="1.1"/>
<ellipse cx="474.4" cy="120.9" rx="1.6" ry="3.3" fill="none" stroke="#b0bebe" stroke-width="1.1"/>
<path d="M469.4 100.0 A1.3 3.2 0 0 1 471.4 99.5" fill="none" stroke="#5a2448" stroke-width="1.1"/>
<ellipse cx="450.6" cy="141.9" rx="2.1" ry="5.7" fill="none" stroke="#4d6769" stroke-width="1.1"/>
<path d="M463.3 73.2 A3.1 10.0 0 0 1 458.2 85.1" fill="none" stroke="#b0bebe" stroke-width="1.1"/>
<path d="M475.2 129.4 A1.7 3.3 0 0 1 473.7 134.4" fill="none" stroke="#6f8a8c" stroke-width="1.1"/>
<path d="M465.0 187.8 A2.3 6.7 0 1 1 461.0 188.4" fill="none" stroke="#4d6769" stroke-width="1.1"/>
<ellipse cx="460.0" cy="122.3" rx="2.1" ry="5.6" fill="none" stroke="#4d6769" stroke-width="1.1"/>
<path d="M452.0 102.1 A3.1 9.2 0 0 1 451.4 84.9" fill="none" stroke="#4d6769" stroke-width="1.1"/>
<ellipse cx="449.6" cy="94.6" rx="2.9" ry="5.3" fill="none" stroke="#f2f2f2" stroke-width="1.1"/>
<path d="M471.7 153.5 A2.0 6.0 0 1 1 475.4 156.9" fill="none" stroke="#6f8a8c" stroke-width="1.1"/>
<ellipse cx="470.3" cy="158.8" rx="1.6" ry="3.1" fill="none" stroke="#f2f2f2" stroke-width="1.1"/>
<path d="M467.8 220.5 A2.7 7.2 0 0 1 462.6 223.9" fill="none" stroke="#4d6769" stroke-width="1.1"/>
<ellipse cx="470.1" cy="130.1" rx="3.1" ry="9.7" fill="none" stroke="#4d6769" stroke-width="1.1"/>
<path d="M446.8 161.0 A2.9 7.4 0 1 1 447.8 174.2" fill="none" stroke="#6f8a8c" stroke-width="1.1"/>
<ellipse cx="455.5" cy="224.5" rx="1.8" ry="3.8" fill="none" stroke="#6f8a8c" stroke-width="1.1"/>
<path d="M451.8 124.6 A2.2 6.7 0 0 1 447.8 120.3" fill="none" stroke="#4d6769" stroke-width="1.1"/>
<path d="M461.7 101.5 A3.0 8.9 0 1 1 466.6 106.2" fill="none" stroke="#6e4a36" stroke-width="1.1"/>
<path d="M475.7 232.5 A3.2 7.8 0 0 1 477.3 217.7" fill="none" stroke="#6f8a8c" stroke-width="1.1"/>
<ellipse cx="468.8" cy="109.3" rx="3.1" ry="9.3" fill="none" stroke="#26306a" stroke-width="1.1"/>
<path d="M463.3 150.2 A2.9 5.6 0 1 1 459.7 141.7" fill="none" stroke="#f2f2f2" stroke-width="1.1"/>
<path d="M479.6 142.0 A2.9 8.5 0 1 1 474.7 141.3" fill="none" stroke="#b0bebe" stroke-width="1.1"/>
<path d="M464.9 187.6 A1.9 3.1 0 1 1 468.7 187.6" fill="none" stroke="#6f8a8c" stroke-width="1.1"/>
<ellipse cx="453.2" cy="102.1" rx="1.3" ry="3.1" fill="none" stroke="#4d6769" stroke-width="1.1"/>
<path d="M471.0 103.3 A2.1 3.6 0 0 1 474.5 103.9" fill="none" stroke="#26306a" stroke-width="1.1"/>
<ellipse cx="470.5" cy="197.4" rx="2.8" ry="4.7" fill="none" stroke="#b0bebe" stroke-width="1.1"/>
<ellipse cx="477.8" cy="145.8" rx="2.2" ry="4.0" fill="none" stroke="#6f8a8c" stroke-width="1.1"/>
<ellipse cx="459.1" cy="128.4" rx="2.2" ry="4.8" fill="none" stroke="#2a2226" stroke-width="1.1"/>
<ellipse cx="463.1" cy="211.9" rx="2.2" ry="5.2" fill="none" stroke="#6e4a36" stroke-width="1.1"/>
<path d="M452.7 152.2 A2.8 5.1 0 0 1 449.8 160.6" fill="none" stroke="#6f8a8c" stroke-width="1.1"/>
<ellipse cx="448.3" cy="195.9" rx="3.2" ry="7.9" fill="none" stroke="#9a6a48" stroke-width="1.1"/>
<ellipse cx="457.8" cy="99.0" rx="1.7" ry="5.2" fill="none" stroke="#f2f2f2" stroke-width="1.1"/>
<path d="M450.8 154.2 A1.9 4.3 0 1 1 447.5 154.0" fill="none" stroke="#f2f2f2" stroke-width="1.1"/>
<path d="M462.8 224.3 A2.2 4.4 0 0 1 466.8 225.6" fill="none" stroke="#f2f2f2" stroke-width="1.1"/>
<path d="M451.6 220.8 A1.5 3.6 0 1 1 454.5 220.9" fill="none" stroke="#6e4a36" stroke-width="1.1"/>
<ellipse cx="449.6" cy="89.9" rx="2.2" ry="6.8" fill="none" stroke="#b0bebe" stroke-width="1.1"/>
<ellipse cx="454.6" cy="78.3" rx="2.5" ry="5.7" fill="none" stroke="#9a6a48" stroke-width="1.1"/>
<path d="M473.0 126.2 A2.5 4.8 0 0 1 469.6 121.5" fill="none" stroke="#6f8a8c" stroke-width="1.1"/>
<line x1="464.5" y1="74.0" x2="465.5" y2="229.0" stroke="#3e5456" stroke-width="1" opacity="0.7"/>
<rect x="450" y="73" width="29" height="157" fill="url(#lighten)"/>
<ellipse cx="459.4" cy="88.5" rx="3.5" ry="6.4" fill="#eceef0" stroke="#2a2440" stroke-width="1.1"/>
<ellipse cx="459.4" cy="88.5" rx="2.0" ry="3.9" fill="none" stroke="#a0407a" stroke-width="1.4"/>
<ellipse cx="459.4" cy="88.5" rx="0.8" ry="1.6" fill="#5a1a4a"/>
<ellipse cx="469.8" cy="105.6" rx="4.3" ry="7.0" fill="#1c2a9a"/>
<ellipse cx="469.8" cy="105.6" rx="2.7" ry="4.9" fill="#eceef0" stroke="#3a2a50" stroke-width="0.9"/>
<ellipse cx="469.8" cy="105.6" rx="1.6" ry="3.0" fill="none" stroke="#a0407a" stroke-width="1.3"/>
<ellipse cx="469.8" cy="105.6" rx="0.7" ry="1.2" fill="#5a1a4a"/>
<ellipse cx="460.3" cy="123.1" rx="4.9" ry="8.0" fill="#1c2a9a"/>
<ellipse cx="460.3" cy="123.1" rx="3.1" ry="5.5" fill="#eceef0" stroke="#3a2a50" stroke-width="0.9"/>
<ellipse cx="460.3" cy="123.1" rx="1.8" ry="3.4" fill="none" stroke="#a0407a" stroke-width="1.3"/>
<ellipse cx="460.3" cy="123.1" rx="0.7" ry="1.4" fill="#5a1a4a"/>
<ellipse cx="468.6" cy="139.4" rx="4.4" ry="7.1" fill="#1c2a9a"/>
<ellipse cx="468.6" cy="139.4" rx="2.7" ry="4.9" fill="#eceef0" stroke="#3a2a50" stroke-width="0.9"/>
<ellipse cx="468.6" cy="139.4" rx="1.6" ry="3.0" fill="none" stroke="#a0407a" stroke-width="1.3"/>
<ellipse cx="468.6" cy="139.4" rx="0.7" ry="1.2" fill="#5a1a4a"/>
<ellipse cx="460.3" cy="153.6" rx="3.2" ry="6.0" fill="#eceef0" stroke="#2a2440" stroke-width="1.1"/>
<ellipse cx="460.3" cy="153.6" rx="1.9" ry="3.7" fill="none" stroke="#a0407a" stroke-width="1.4"/>
<ellipse cx="460.3" cy="153.6" rx="0.8" ry="1.5" fill="#5a1a4a"/>
<polyline points="453.0,100.0 456.0,95.0 459.0,90.0 463.0,84.0 467.0,79.0 471.0,76.0 474.0,77.0 478.0,74.0 477.0,150.0 478.0,200.0 476.0,222.0 472.0,224.0 468.0,221.0 464.0,223.0 460.0,229.0 456.0,227.0 453.0,229.0 451.0,215.0 452.0,200.0 453.0,150.0" fill="none" stroke="#9a6a48" stroke-width="1.1" opacity="0.8"/>
</g>
<g clip-path="url(#cs1)">
<polygon points="477.0,75.0 480.0,72.0 483.0,71.0 486.0,68.0 490.0,67.0 494.0,64.0 498.0,60.0 503.0,56.0 506.0,55.0 507.0,150.0 507.0,200.0 505.0,228.0 502.0,237.0 498.0,236.0 495.0,240.0 492.0,236.0 488.0,238.0 486.0,232.0 482.0,228.0 478.0,226.0 477.0,222.0" fill="#b2bfc0"/>
<ellipse cx="477.0" cy="86.9" rx="2.8" ry="5.3" fill="none" stroke="#2a2226" stroke-width="1.1"/>
<path d="M497.5 141.5 A3.2 6.3 0 1 1 501.9 147.0" fill="none" stroke="#9a6a48" stroke-width="1.1"/>
<path d="M478.9 193.2 A3.0 5.3 0 0 1 484.5 192.3" fill="none" stroke="#2a2226" stroke-width="1.1"/>
<ellipse cx="494.1" cy="232.6" rx="2.0" ry="5.7" fill="none" stroke="#f2f2f2" stroke-width="1.1"/>
<ellipse cx="498.9" cy="134.9" rx="2.0" ry="4.5" fill="none" stroke="#4d6769" stroke-width="1.1"/>
<path d="M502.4 96.6 A1.8 3.1 0 0 1 503.4 91.7" fill="none" stroke="#26306a" stroke-width="1.1"/>
<ellipse cx="481.1" cy="229.1" rx="2.2" ry="5.9" fill="none" stroke="#f2f2f2" stroke-width="1.1"/>
<ellipse cx="503.5" cy="197.6" rx="2.7" ry="6.6" fill="none" stroke="#26306a" stroke-width="1.1"/>
<path d="M484.4 229.3 A3.2 9.9 0 1 1 488.8 215.1" fill="none" stroke="#5a2448" stroke-width="1.1"/>
<ellipse cx="480.5" cy="190.0" rx="2.9" ry="8.7" fill="none" stroke="#6f8a8c" stroke-width="1.1"/>
<ellipse cx="493.8" cy="165.7" rx="2.2" ry="3.5" fill="none" stroke="#26306a" stroke-width="1.1"/>
<path d="M477.9 226.9 A2.6 4.2 0 0 1 478.4 220.3" fill="none" stroke="#5a2448" stroke-width="1.1"/>
<ellipse cx="504.0" cy="175.0" rx="1.8" ry="4.4" fill="none" stroke="#b0bebe" stroke-width="1.1"/>
<ellipse cx="481.5" cy="181.6" rx="3.1" ry="9.4" fill="none" stroke="#4d6769" stroke-width="1.1"/>
<path d="M482.6 87.5 A2.7 8.2 0 0 1 477.8 81.0" fill="none" stroke="#b0bebe" stroke-width="1.1"/>
<path d="M505.1 177.2 A2.4 5.8 0 1 1 506.7 166.8" fill="none" stroke="#6f8a8c" stroke-width="1.1"/>
<path d="M500.0 63.0 A2.6 8.0 0 0 1 495.1 66.8" fill="none" stroke="#6f8a8c" stroke-width="1.1"/>
<path d="M506.8 216.7 A2.3 7.4 0 1 1 507.5 202.8" fill="none" stroke="#4d6769" stroke-width="1.1"/>
<path d="M479.1 129.5 A3.1 8.4 0 1 1 474.7 138.9" fill="none" stroke="#4d6769" stroke-width="1.1"/>
<ellipse cx="497.0" cy="165.1" rx="1.4" ry="3.1" fill="none" stroke="#4d6769" stroke-width="1.1"/>
<path d="M485.5 173.7 A2.3 7.3 0 0 1 481.8 169.3" fill="none" stroke="#4d6769" stroke-width="1.1"/>
<path d="M499.7 163.9 A2.6 7.2 0 1 1 500.1 151.3" fill="none" stroke="#5a2448" stroke-width="1.1"/>
<path d="M500.6 120.7 A2.9 7.9 0 1 1 497.8 132.9" fill="none" stroke="#6f8a8c" stroke-width="1.1"/>
<ellipse cx="498.6" cy="116.4" rx="3.3" ry="8.2" fill="none" stroke="#2a2226" stroke-width="1.1"/>
<ellipse cx="506.3" cy="91.4" rx="3.5" ry="7.0" fill="none" stroke="#6f8a8c" stroke-width="1.1"/>
<ellipse cx="498.3" cy="105.5" rx="3.5" ry="6.1" fill="none" stroke="#f2f2f2" stroke-width="1.1"/>
<ellipse cx="502.0" cy="139.0" rx="3.4" ry="7.1" fill="none" stroke="#b0bebe" stroke-width="1.1"/>
<path d="M503.1 61.1 A2.7 8.0 0 1 1 505.6 73.7" fill="none" stroke="#4d6769" stroke-width="1.1"/>
<path d="M482.5 194.1 A1.6 5.0 0 0 1 481.7 203.5" fill="none" stroke="#6f8a8c" stroke-width="1.1"/>
<path d="M475.3 95.3 A3.3 9.8 0 0 1 479.8 103.9" fill="none" stroke="#4d6769" stroke-width="1.1"/>
<path d="M497.1 146.3 A3.4 5.8 0 0 1 503.1 150.6" fill="none" stroke="#26306a" stroke-width="1.1"/>
<ellipse cx="493.9" cy="99.4" rx="3.5" ry="8.4" fill="none" stroke="#5a2448" stroke-width="1.1"/>
<ellipse cx="501.8" cy="215.0" rx="1.4" ry="4.4" fill="none" stroke="#4d6769" stroke-width="1.1"/>
<ellipse cx="480.8" cy="118.1" rx="3.3" ry="10.0" fill="none" stroke="#26306a" stroke-width="1.1"/>
<path d="M489.3 136.3 A2.1 5.5 0 0 1 492.4 143.1" fill="none" stroke="#b0bebe" stroke-width="1.1"/>
<ellipse cx="496.2" cy="188.7" rx="3.5" ry="6.3" fill="none" stroke="#6e4a36" stroke-width="1.1"/>
<ellipse cx="475.3" cy="155.1" rx="1.8" ry="4.7" fill="none" stroke="#f2f2f2" stroke-width="1.1"/>
<path d="M485.0 130.3 A1.7 5.1 0 1 1 482.0 135.1" fill="none" stroke="#4d6769" stroke-width="1.1"/>
<ellipse cx="493.7" cy="234.8" rx="2.7" ry="7.8" fill="none" stroke="#4d6769" stroke-width="1.1"/>
<ellipse cx="484.2" cy="195.6" rx="1.8" ry="3.8" fill="none" stroke="#6f8a8c" stroke-width="1.1"/>
<ellipse cx="487.7" cy="216.4" rx="2.5" ry="4.7" fill="none" stroke="#5a2448" stroke-width="1.1"/>
<ellipse cx="490.2" cy="231.3" rx="2.8" ry="6.7" fill="none" stroke="#f2f2f2" stroke-width="1.1"/>
<path d="M504.1 91.6 A3.5 10.1 0 0 1 508.7 83.7" fill="none" stroke="#b0bebe" stroke-width="1.1"/>
<ellipse cx="490.8" cy="233.8" rx="3.0" ry="8.0" fill="none" stroke="#6f8a8c" stroke-width="1.1"/>
<path d="M484.2 224.4 A2.3 4.4 0 1 1 481.1 230.7" fill="none" stroke="#6e4a36" stroke-width="1.1"/>
<ellipse cx="493.5" cy="186.7" rx="3.1" ry="5.0" fill="none" stroke="#6e4a36" stroke-width="1.1"/>
<ellipse cx="504.6" cy="152.1" rx="3.5" ry="7.9" fill="none" stroke="#f2f2f2" stroke-width="1.1"/>
<path d="M491.2 227.2 A3.2 9.6 0 1 1 485.3 226.6" fill="none" stroke="#5a2448" stroke-width="1.1"/>
<path d="M499.5 133.6 A1.4 4.1 0 0 1 502.2 132.0" fill="none" stroke="#2a2226" stroke-width="1.1"/>
<ellipse cx="478.1" cy="65.5" rx="2.9" ry="6.0" fill="none" stroke="#6f8a8c" stroke-width="1.1"/>
<ellipse cx="479.6" cy="229.2" rx="3.5" ry="6.3" fill="none" stroke="#9a6a48" stroke-width="1.1"/>
<path d="M508.4 107.6 A2.7 7.1 0 1 1 505.2 99.7" fill="none" stroke="#6f8a8c" stroke-width="1.1"/>
<ellipse cx="488.2" cy="63.3" rx="1.3" ry="2.7" fill="none" stroke="#6f8a8c" stroke-width="1.1"/>
<path d="M488.4 86.0 A1.4 2.6 0 0 1 489.6 81.7" fill="none" stroke="#5a2448" stroke-width="1.1"/>
<path d="M479.3 112.0 A3.0 6.6 0 0 1 475.3 119.6" fill="none" stroke="#2a2226" stroke-width="1.1"/>
<ellipse cx="475.9" cy="108.9" rx="2.3" ry="4.7" fill="none" stroke="#6f8a8c" stroke-width="1.1"/>
<path d="M491.2 196.0 A2.6 4.4 0 0 1 492.6 204.1" fill="none" stroke="#6f8a8c" stroke-width="1.1"/>
<ellipse cx="505.5" cy="220.6" rx="2.5" ry="6.6" fill="none" stroke="#4d6769" stroke-width="1.1"/>
<path d="M505.2 229.8 A2.8 6.4 0 1 1 506.2 241.2" fill="none" stroke="#6f8a8c" stroke-width="1.1"/>
<path d="M507.1 107.7 A2.5 6.4 0 1 1 511.1 100.1" fill="none" stroke="#6f8a8c" stroke-width="1.1"/>
<ellipse cx="498.0" cy="109.3" rx="3.3" ry="7.0" fill="none" stroke="#4d6769" stroke-width="1.1"/>
<path d="M482.4 64.3 A1.3 3.3 0 0 1 480.6 67.9" fill="none" stroke="#5a2448" stroke-width="1.1"/>
<ellipse cx="502.6" cy="95.3" rx="2.9" ry="6.0" fill="none" stroke="#6e4a36" stroke-width="1.1"/>
<ellipse cx="499.6" cy="181.9" rx="2.7" ry="6.0" fill="none" stroke="#2a2226" stroke-width="1.1"/>
<path d="M480.0 134.9 A2.6 6.7 0 0 1 484.4 130.6" fill="none" stroke="#4d6769" stroke-width="1.1"/>
<path d="M478.0 143.5 A1.4 3.7 0 0 1 480.0 144.4" fill="none" stroke="#4d6769" stroke-width="1.1"/>
<ellipse cx="509.8" cy="172.3" rx="2.6" ry="7.8" fill="none" stroke="#f2f2f2" stroke-width="1.1"/>
<ellipse cx="503.8" cy="59.8" rx="3.2" ry="10.2" fill="none" stroke="#b0bebe" stroke-width="1.1"/>
<path d="M495.3 151.6 A1.5 4.1 0 1 1 494.3 158.4" fill="none" stroke="#6e4a36" stroke-width="1.1"/>
<path d="M490.9 72.8 A2.2 5.1 0 0 1 487.8 69.0" fill="none" stroke="#f2f2f2" stroke-width="1.1"/>
<path d="M492.6 95.4 A2.1 5.3 0 0 1 495.9 89.5" fill="none" stroke="#6e4a36" stroke-width="1.1"/>
<path d="M498.3 165.7 A3.1 9.0 0 0 1 496.7 182.6" fill="none" stroke="#6f8a8c" stroke-width="1.1"/>
<path d="M482.3 173.8 A2.2 6.6 0 1 1 478.0 171.9" fill="none" stroke="#f2f2f2" stroke-width="1.1"/>
<path d="M504.5 227.9 A2.8 4.6 0 1 1 505.0 219.0" fill="none" stroke="#9a6a48" stroke-width="1.1"/>
<ellipse cx="490.3" cy="157.8" rx="2.2" ry="4.1" fill="none" stroke="#f2f2f2" stroke-width="1.1"/>
<ellipse cx="498.3" cy="72.7" rx="1.8" ry="3.0" fill="none" stroke="#6f8a8c" stroke-width="1.1"/>
<ellipse cx="504.2" cy="108.4" rx="2.7" ry="7.3" fill="none" stroke="#2a2226" stroke-width="1.1"/>
<ellipse cx="495.5" cy="119.2" rx="3.0" ry="6.5" fill="none" stroke="#4d6769" stroke-width="1.1"/>
<ellipse cx="492.4" cy="92.9" rx="3.0" ry="7.1" fill="none" stroke="#6f8a8c" stroke-width="1.1"/>
<path d="M488.0 86.3 A1.7 3.9 0 1 1 490.5 83.1" fill="none" stroke="#f2f2f2" stroke-width="1.1"/>
<ellipse cx="509.3" cy="76.8" rx="3.4" ry="8.3" fill="none" stroke="#6f8a8c" stroke-width="1.1"/>
<ellipse cx="496.4" cy="141.6" rx="1.4" ry="4.2" fill="none" stroke="#6f8a8c" stroke-width="1.1"/>
<ellipse cx="486.0" cy="218.3" rx="3.6" ry="10.0" fill="none" stroke="#6f8a8c" stroke-width="1.1"/>
<path d="M474.2 215.4 A2.7 7.6 0 0 1 479.1 218.9" fill="none" stroke="#6f8a8c" stroke-width="1.1"/>
<path d="M503.1 137.3 A1.9 4.3 0 1 1 499.7 133.9" fill="none" stroke="#2a2226" stroke-width="1.1"/>
<ellipse cx="498.7" cy="95.9" rx="2.8" ry="6.8" fill="none" stroke="#f2f2f2" stroke-width="1.1"/>
<ellipse cx="477.6" cy="85.8" rx="2.4" ry="6.3" fill="none" stroke="#5a2448" stroke-width="1.1"/>
<path d="M500.1 199.5 A1.5 4.6 0 1 1 497.2 198.6" fill="none" stroke="#6f8a8c" stroke-width="1.1"/>
<ellipse cx="508.5" cy="113.6" rx="1.7" ry="5.3" fill="none" stroke="#f2f2f2" stroke-width="1.1"/>
<ellipse cx="505.0" cy="213.2" rx="1.2" ry="3.8" fill="none" stroke="#6f8a8c" stroke-width="1.1"/>
<ellipse cx="506.6" cy="83.4" rx="2.0" ry="5.8" fill="none" stroke="#b0bebe" stroke-width="1.1"/>
<ellipse cx="496.0" cy="176.9" rx="1.2" ry="3.5" fill="none" stroke="#6f8a8c" stroke-width="1.1"/>
<path d="M473.1 88.5 A1.3 2.8 0 1 1 475.1 90.2" fill="none" stroke="#b0bebe" stroke-width="1.1"/>
<path d="M492.6 89.6 A2.1 3.5 0 0 1 492.7 96.3" fill="none" stroke="#f2f2f2" stroke-width="1.1"/>
<path d="M505.0 197.5 A1.4 3.2 0 1 1 506.4 202.4" fill="none" stroke="#2a2226" stroke-width="1.1"/>
<path d="M506.0 64.3 A2.5 6.5 0 0 1 505.3 74.1" fill="none" stroke="#b0bebe" stroke-width="1.1"/>
<ellipse cx="507.4" cy="170.3" rx="2.4" ry="4.5" fill="none" stroke="#5a2448" stroke-width="1.1"/>
<path d="M476.3 53.9 A1.2 3.4 0 0 1 475.8 59.9" fill="none" stroke="#6f8a8c" stroke-width="1.1"/>
<ellipse cx="488.4" cy="158.2" rx="2.6" ry="7.5" fill="none" stroke="#f2f2f2" stroke-width="1.1"/>
<ellipse cx="496.0" cy="221.4" rx="2.2" ry="4.9" fill="none" stroke="#b0bebe" stroke-width="1.1"/>
<ellipse cx="487.0" cy="202.3" rx="2.2" ry="6.5" fill="none" stroke="#6f8a8c" stroke-width="1.1"/>
<path d="M498.5 135.3 A2.8 8.5 0 1 1 493.2 139.8" fill="none" stroke="#f2f2f2" stroke-width="1.1"/>
<ellipse cx="507.7" cy="233.0" rx="3.2" ry="10.0" fill="none" stroke="#4d6769" stroke-width="1.1"/>
<ellipse cx="505.8" cy="175.3" rx="3.2" ry="9.1" fill="none" stroke="#f2f2f2" stroke-width="1.1"/>
<path d="M495.9 146.9 A2.7 4.9 0 1 1 491.4 147.4" fill="none" stroke="#6f8a8c" stroke-width="1.1"/>
<path d="M481.8 186.4 A2.2 6.3 0 0 1 479.1 192.9" fill="none" stroke="#9a6a48" stroke-width="1.1"/>
<ellipse cx="493.4" cy="60.8" rx="2.9" ry="4.9" fill="none" stroke="#6e4a36" stroke-width="1.1"/>
<ellipse cx="496.4" cy="74.3" rx="2.8" ry="5.9" fill="none" stroke="#6e4a36" stroke-width="1.1"/>
<path d="M491.8 66.5 A2.8 7.2 0 1 1 486.9 72.3" fill="none" stroke="#4d6769" stroke-width="1.1"/>
<ellipse cx="497.8" cy="80.1" rx="3.0" ry="7.4" fill="none" stroke="#6e4a36" stroke-width="1.1"/>
<ellipse cx="498.8" cy="163.3" rx="2.3" ry="7.3" fill="none" stroke="#b0bebe" stroke-width="1.1"/>
<ellipse cx="488.6" cy="177.9" rx="3.4" ry="6.3" fill="none" stroke="#b0bebe" stroke-width="1.1"/>
<path d="M477.8 91.3 A2.1 4.2 0 1 1 480.8 97.0" fill="none" stroke="#4d6769" stroke-width="1.1"/>
<path d="M505.6 225.4 A2.2 6.3 0 1 1 502.4 230.6" fill="none" stroke="#4d6769" stroke-width="1.1"/>
<path d="M485.8 232.2 A1.3 3.1 0 1 1 485.4 238.2" fill="none" stroke="#6f8a8c" stroke-width="1.1"/>
<path d="M502.3 176.4 A2.9 7.3 0 1 1 496.6 175.3" fill="none" stroke="#4d6769" stroke-width="1.1"/>
<ellipse cx="489.7" cy="176.2" rx="1.7" ry="5.2" fill="none" stroke="#f2f2f2" stroke-width="1.1"/>
<ellipse cx="499.3" cy="207.7" rx="3.5" ry="5.7" fill="none" stroke="#f2f2f2" stroke-width="1.1"/>
<path d="M509.3 155.9 A2.1 4.6 0 1 1 509.8 147.6" fill="none" stroke="#4d6769" stroke-width="1.1"/>
<ellipse cx="500.6" cy="132.2" rx="3.0" ry="5.9" fill="none" stroke="#b0bebe" stroke-width="1.1"/>
<ellipse cx="495.5" cy="103.7" rx="2.6" ry="4.4" fill="none" stroke="#b0bebe" stroke-width="1.1"/>
<path d="M511.0 137.5 A3.5 6.2 0 0 1 507.1 147.6" fill="none" stroke="#4d6769" stroke-width="1.1"/>
<ellipse cx="492.2" cy="72.8" rx="3.0" ry="5.5" fill="none" stroke="#f2f2f2" stroke-width="1.1"/>
<ellipse cx="497.6" cy="111.2" rx="3.6" ry="10.9" fill="none" stroke="#4d6769" stroke-width="1.1"/>
<path d="M477.8 182.2 A1.7 3.2 0 0 1 478.5 188.0" fill="none" stroke="#5a2448" stroke-width="1.1"/>
<ellipse cx="484.3" cy="111.2" rx="2.4" ry="6.1" fill="none" stroke="#6e4a36" stroke-width="1.1"/>
<path d="M506.0 211.8 A2.6 5.8 0 0 1 510.0 210.3" fill="none" stroke="#2a2226" stroke-width="1.1"/>
<ellipse cx="480.1" cy="167.5" rx="2.9" ry="5.8" fill="none" stroke="#5a2448" stroke-width="1.1"/>
<ellipse cx="475.3" cy="229.7" rx="1.4" ry="4.0" fill="none" stroke="#4d6769" stroke-width="1.1"/>
<ellipse cx="489.8" cy="115.2" rx="1.4" ry="2.6" fill="none" stroke="#2a2226" stroke-width="1.1"/>
<path d="M486.1 64.9 A3.3 6.9 0 0 1 491.6 69.5" fill="none" stroke="#b0bebe" stroke-width="1.1"/>
<path d="M491.3 59.3 A2.0 5.5 0 1 1 492.8 69.6" fill="none" stroke="#f2f2f2" stroke-width="1.1"/>
<ellipse cx="502.7" cy="92.0" rx="2.3" ry="4.3" fill="none" stroke="#4d6769" stroke-width="1.1"/>
<ellipse cx="480.1" cy="148.4" rx="1.9" ry="4.3" fill="none" stroke="#26306a" stroke-width="1.1"/>
<ellipse cx="488.8" cy="233.3" rx="2.7" ry="4.6" fill="none" stroke="#f2f2f2" stroke-width="1.1"/>
<ellipse cx="499.8" cy="233.6" rx="2.5" ry="6.3" fill="none" stroke="#5a2448" stroke-width="1.1"/>
<path d="M488.3 173.3 A2.1 5.2 0 0 1 484.5 169.6" fill="none" stroke="#6e4a36" stroke-width="1.1"/>
<ellipse cx="488.2" cy="91.0" rx="2.2" ry="6.6" fill="none" stroke="#6f8a8c" stroke-width="1.1"/>
<path d="M499.3 120.5 A3.5 8.0 0 1 1 504.1 130.1" fill="none" stroke="#f2f2f2" stroke-width="1.1"/>
<ellipse cx="496.2" cy="175.9" rx="2.6" ry="6.2" fill="none" stroke="#2a2226" stroke-width="1.1"/>
<path d="M496.2 111.2 A2.5 4.4 0 1 1 492.6 108.5" fill="none" stroke="#b0bebe" stroke-width="1.1"/>
<ellipse cx="497.4" cy="236.5" rx="1.3" ry="2.9" fill="none" stroke="#b0bebe" stroke-width="1.1"/>
<ellipse cx="496.8" cy="136.0" rx="3.1" ry="5.6" fill="none" stroke="#6f8a8c" stroke-width="1.1"/>
<path d="M475.0 122.1 A1.5 2.5 0 1 1 475.7 126.5" fill="none" stroke="#4d6769" stroke-width="1.1"/>
<ellipse cx="504.6" cy="119.8" rx="1.3" ry="3.2" fill="none" stroke="#b0bebe" stroke-width="1.1"/>
<path d="M504.5 187.2 A2.7 4.9 0 1 1 509.4 185.5" fill="none" stroke="#6f8a8c" stroke-width="1.1"/>
<path d="M492.5 110.1 A1.5 4.1 0 0 1 494.9 108.4" fill="none" stroke="#6f8a8c" stroke-width="1.1"/>
<path d="M496.7 149.9 A2.8 4.8 0 0 1 498.1 140.7" fill="none" stroke="#4d6769" stroke-width="1.1"/>
<path d="M485.0 98.4 A2.5 5.8 0 1 1 481.6 93.6" fill="none" stroke="#4d6769" stroke-width="1.1"/>
<path d="M502.0 71.1 A3.2 8.7 0 1 1 501.3 54.7" fill="none" stroke="#9a6a48" stroke-width="1.1"/>
<ellipse cx="500.8" cy="83.5" rx="1.2" ry="3.6" fill="none" stroke="#2a2226" stroke-width="1.1"/>
<ellipse cx="485.1" cy="81.6" rx="1.2" ry="2.0" fill="none" stroke="#4d6769" stroke-width="1.1"/>
<path d="M486.5 173.6 A3.0 6.2 0 0 1 487.8 161.4" fill="none" stroke="#6f8a8c" stroke-width="1.1"/>
<ellipse cx="500.3" cy="235.9" rx="2.0" ry="5.1" fill="none" stroke="#6f8a8c" stroke-width="1.1"/>
<ellipse cx="474.8" cy="193.5" rx="2.6" ry="5.1" fill="none" stroke="#f2f2f2" stroke-width="1.1"/>
<path d="M496.8 226.2 A1.8 4.5 0 0 1 500.4 227.3" fill="none" stroke="#4d6769" stroke-width="1.1"/>
<path d="M489.2 215.1 A2.2 5.8 0 0 1 487.9 207.4" fill="none" stroke="#f2f2f2" stroke-width="1.1"/>
<ellipse cx="487.2" cy="136.3" rx="1.7" ry="3.8" fill="none" stroke="#f2f2f2" stroke-width="1.1"/>
<ellipse cx="488.1" cy="95.5" rx="2.8" ry="8.6" fill="none" stroke="#b0bebe" stroke-width="1.1"/>
<path d="M481.0 192.4 A3.5 9.8 0 0 1 480.4 206.0" fill="none" stroke="#4d6769" stroke-width="1.1"/>
<path d="M500.4 218.8 A3.2 8.5 0 0 1 506.6 222.4" fill="none" stroke="#6f8a8c" stroke-width="1.1"/>
<ellipse cx="495.8" cy="79.1" rx="3.2" ry="8.8" fill="none" stroke="#b0bebe" stroke-width="1.1"/>
<ellipse cx="498.4" cy="192.9" rx="1.2" ry="3.3" fill="none" stroke="#b0bebe" stroke-width="1.1"/>
<ellipse cx="507.9" cy="142.3" rx="2.2" ry="4.3" fill="none" stroke="#26306a" stroke-width="1.1"/>
<ellipse cx="509.2" cy="228.5" rx="3.2" ry="5.6" fill="none" stroke="#6f8a8c" stroke-width="1.1"/>
<ellipse cx="476.5" cy="123.3" rx="3.2" ry="8.1" fill="none" stroke="#5a2448" stroke-width="1.1"/>
<path d="M477.9 116.9 A2.7 7.8 0 0 1 476.6 105.4" fill="none" stroke="#6f8a8c" stroke-width="1.1"/>
<path d="M484.7 191.8 A2.9 6.2 0 1 1 488.4 183.0" fill="none" stroke="#6f8a8c" stroke-width="1.1"/>
<path d="M485.7 144.9 A1.3 3.0 0 0 1 483.5 146.6" fill="none" stroke="#6f8a8c" stroke-width="1.1"/>
<ellipse cx="501.4" cy="70.5" rx="3.6" ry="6.0" fill="none" stroke="#b0bebe" stroke-width="1.1"/>
<ellipse cx="501.1" cy="144.9" rx="3.6" ry="10.5" fill="none" stroke="#5a2448" stroke-width="1.1"/>
<path d="M491.7 77.1 A2.7 7.3 0 1 1 488.3 88.3" fill="none" stroke="#f2f2f2" stroke-width="1.1"/>
<path d="M501.8 74.7 A1.4 2.7 0 1 1 499.6 77.9" fill="none" stroke="#2a2226" stroke-width="1.1"/>
<path d="M504.0 96.8 A2.7 5.2 0 1 1 504.9 87.4" fill="none" stroke="#6f8a8c" stroke-width="1.1"/>
<ellipse cx="501.8" cy="136.2" rx="3.0" ry="7.2" fill="none" stroke="#f2f2f2" stroke-width="1.1"/>
<path d="M483.4 138.5 A3.4 5.6 0 0 1 487.9 133.4" fill="none" stroke="#f2f2f2" stroke-width="1.1"/>
<ellipse cx="504.0" cy="205.7" rx="1.5" ry="4.4" fill="none" stroke="#2a2226" stroke-width="1.1"/>
<path d="M504.9 74.9 A1.3 3.1 0 0 1 504.9 69.6" fill="none" stroke="#2a2226" stroke-width="1.1"/>
<ellipse cx="484.9" cy="80.4" rx="3.6" ry="10.6" fill="none" stroke="#6e4a36" stroke-width="1.1"/>
<ellipse cx="502.0" cy="216.0" rx="1.9" ry="5.9" fill="none" stroke="#5a2448" stroke-width="1.1"/>
<path d="M492.3 109.7 A2.7 5.4 0 1 1 494.2 119.0" fill="none" stroke="#5a2448" stroke-width="1.1"/>
<ellipse cx="478.5" cy="154.7" rx="1.8" ry="3.3" fill="none" stroke="#6f8a8c" stroke-width="1.1"/>
<path d="M500.0 172.4 A2.4 6.6 0 0 1 504.5 169.3" fill="none" stroke="#f2f2f2" stroke-width="1.1"/>
<ellipse cx="479.7" cy="92.4" rx="3.0" ry="6.9" fill="none" stroke="#9a6a48" stroke-width="1.1"/>
<path d="M497.0 118.2 A2.9 6.0 0 0 1 501.0 124.4" fill="none" stroke="#f2f2f2" stroke-width="1.1"/>
<path d="M489.7 100.9 A3.3 6.6 0 0 1 494.8 108.8" fill="none" stroke="#5a2448" stroke-width="1.1"/>
<ellipse cx="495.7" cy="100.1" rx="3.2" ry="9.3" fill="none" stroke="#4d6769" stroke-width="1.1"/>
<ellipse cx="509.3" cy="104.1" rx="1.7" ry="5.1" fill="none" stroke="#4d6769" stroke-width="1.1"/>
<path d="M488.9 80.6 A2.7 4.6 0 0 1 493.2 83.4" fill="none" stroke="#f2f2f2" stroke-width="1.1"/>
<ellipse cx="491.0" cy="219.9" rx="2.5" ry="6.2" fill="none" stroke="#b0bebe" stroke-width="1.1"/>
<ellipse cx="479.8" cy="63.9" rx="2.1" ry="3.5" fill="none" stroke="#f2f2f2" stroke-width="1.1"/>
<path d="M480.8 51.6 A1.9 5.6 0 0 1 483.9 55.3" fill="none" stroke="#f2f2f2" stroke-width="1.1"/>
<path d="M481.9 84.1 A1.7 4.4 0 1 1 483.9 77.2" fill="none" stroke="#6f8a8c" stroke-width="1.1"/>
<ellipse cx="481.6" cy="145.4" rx="3.5" ry="11.2" fill="none" stroke="#6f8a8c" stroke-width="1.1"/>
<ellipse cx="474.5" cy="167.6" rx="2.9" ry="8.5" fill="none" stroke="#4d6769" stroke-width="1.1"/>
<ellipse cx="483.2" cy="200.1" rx="2.4" ry="4.0" fill="none" stroke="#5a2448" stroke-width="1.1"/>
<path d="M496.9 178.6 A1.6 3.7 0 0 1 499.3 174.6" fill="none" stroke="#b0bebe" stroke-width="1.1"/>
<ellipse cx="475.4" cy="225.7" rx="2.7" ry="6.9" fill="none" stroke="#6e4a36" stroke-width="1.1"/>
<path d="M493.3 179.2 A1.6 3.7 0 0 1 490.7 175.2" fill="none" stroke="#2a2226" stroke-width="1.1"/>
<ellipse cx="486.7" cy="80.1" rx="3.6" ry="5.9" fill="none" stroke="#4d6769" stroke-width="1.1"/>
<ellipse cx="480.1" cy="117.5" rx="1.8" ry="5.3" fill="none" stroke="#6e4a36" stroke-width="1.1"/>
<path d="M476.5 160.7 A1.4 2.5 0 1 1 474.9 157.5" fill="none" stroke="#6e4a36" stroke-width="1.1"/>
<path d="M480.2 127.6 A1.9 4.2 0 1 1 478.0 134.2" fill="none" stroke="#f2f2f2" stroke-width="1.1"/>
<path d="M487.8 124.8 A2.3 6.3 0 1 1 492.0 130.5" fill="none" stroke="#6e4a36" stroke-width="1.1"/>
<path d="M490.0 121.7 A2.3 6.4 0 1 1 492.3 110.9" fill="none" stroke="#f2f2f2" stroke-width="1.1"/>
<path d="M491.1 99.4 A2.1 4.9 0 1 1 487.1 101.2" fill="none" stroke="#2a2226" stroke-width="1.1"/>
<path d="M502.9 57.4 A2.1 5.0 0 1 1 501.2 64.2" fill="none" stroke="#6f8a8c" stroke-width="1.1"/>
<ellipse cx="479.2" cy="117.3" rx="2.4" ry="5.3" fill="none" stroke="#b0bebe" stroke-width="1.1"/>
<ellipse cx="506.7" cy="190.2" rx="2.9" ry="8.1" fill="none" stroke="#6e4a36" stroke-width="1.1"/>
<ellipse cx="482.2" cy="157.9" rx="2.5" ry="5.9" fill="none" stroke="#5a2448" stroke-width="1.1"/>
<ellipse cx="474.3" cy="85.8" rx="3.1" ry="9.6" fill="none" stroke="#26306a" stroke-width="1.1"/>
<path d="M496.3 240.0 A2.6 7.5 0 1 1 496.7 226.0" fill="none" stroke="#b0bebe" stroke-width="1.1"/>
<path d="M504.7 84.7 A2.1 3.4 0 0 1 507.0 81.6" fill="none" stroke="#f2f2f2" stroke-width="1.1"/>
<ellipse cx="493.6" cy="227.8" rx="1.8" ry="3.0" fill="none" stroke="#6e4a36" stroke-width="1.1"/>
<path d="M474.5 205.9 A1.8 4.6 0 0 1 476.9 209.7" fill="none" stroke="#b0bebe" stroke-width="1.1"/>
<ellipse cx="483.3" cy="138.6" rx="2.9" ry="9.1" fill="none" stroke="#4d6769" stroke-width="1.1"/>
<path d="M484.7 208.5 A3.0 7.3 0 1 1 481.1 216.3" fill="none" stroke="#9a6a48" stroke-width="1.1"/>
<ellipse cx="492.0" cy="80.1" rx="1.4" ry="2.3" fill="none" stroke="#6f8a8c" stroke-width="1.1"/>
<ellipse cx="492.2" cy="159.9" rx="2.5" ry="6.1" fill="none" stroke="#6e4a36" stroke-width="1.1"/>
<ellipse cx="483.2" cy="219.5" rx="1.6" ry="5.1" fill="none" stroke="#b0bebe" stroke-width="1.1"/>
<path d="M498.6 164.2 A2.7 6.6 0 0 1 493.6 167.4" fill="none" stroke="#6f8a8c" stroke-width="1.1"/>
<ellipse cx="482.3" cy="72.5" rx="1.3" ry="3.7" fill="none" stroke="#5a2448" stroke-width="1.1"/>
<ellipse cx="476.6" cy="72.5" rx="2.1" ry="6.4" fill="none" stroke="#4d6769" stroke-width="1.1"/>
<path d="M510.4 98.2 A2.5 5.1 0 1 1 508.0 90.7" fill="none" stroke="#f2f2f2" stroke-width="1.1"/>
<path d="M482.5 89.4 A2.5 4.0 0 1 1 486.2 94.6" fill="none" stroke="#4d6769" stroke-width="1.1"/>
<ellipse cx="494.4" cy="170.0" rx="1.9" ry="5.4" fill="none" stroke="#f2f2f2" stroke-width="1.1"/>
<ellipse cx="484.5" cy="156.6" rx="3.3" ry="7.6" fill="none" stroke="#4d6769" stroke-width="1.1"/>
<path d="M480.0 85.8 A1.4 2.9 0 0 1 478.0 83.0" fill="none" stroke="#f2f2f2" stroke-width="1.1"/>
<ellipse cx="500.0" cy="164.7" rx="2.5" ry="6.3" fill="none" stroke="#f2f2f2" stroke-width="1.1"/>
<ellipse cx="481.3" cy="207.4" rx="1.7" ry="5.0" fill="none" stroke="#f2f2f2" stroke-width="1.1"/>
<path d="M485.5 197.7 A1.9 5.1 0 1 1 482.8 192.9" fill="none" stroke="#4d6769" stroke-width="1.1"/>
<ellipse cx="489.4" cy="58.1" rx="2.9" ry="4.9" fill="none" stroke="#6f8a8c" stroke-width="1.1"/>
<ellipse cx="489.4" cy="99.8" rx="2.1" ry="5.6" fill="none" stroke="#6f8a8c" stroke-width="1.1"/>
<path d="M492.0 59.7 A2.4 5.4 0 1 1 488.4 66.6" fill="none" stroke="#4d6769" stroke-width="1.1"/>
<ellipse cx="504.8" cy="99.1" rx="2.9" ry="5.5" fill="none" stroke="#6f8a8c" stroke-width="1.1"/>
<ellipse cx="481.9" cy="205.1" rx="2.9" ry="7.2" fill="none" stroke="#4d6769" stroke-width="1.1"/>
<path d="M496.3 241.5 A3.2 9.4 0 1 1 499.0 225.9" fill="none" stroke="#26306a" stroke-width="1.1"/>
<ellipse cx="500.8" cy="106.9" rx="3.4" ry="8.6" fill="none" stroke="#4d6769" stroke-width="1.1"/>
<ellipse cx="485.2" cy="92.8" rx="2.1" ry="4.7" fill="none" stroke="#4d6769" stroke-width="1.1"/>
<path d="M479.5 54.2 A1.6 4.6 0 0 1 481.8 52.3" fill="none" stroke="#4d6769" stroke-width="1.1"/>
<ellipse cx="486.1" cy="89.0" rx="2.0" ry="4.2" fill="none" stroke="#6f8a8c" stroke-width="1.1"/>
<ellipse cx="482.0" cy="198.8" rx="1.8" ry="3.5" fill="none" stroke="#9a6a48" stroke-width="1.1"/>
<path d="M489.6 152.7 A3.3 8.1 0 0 1 489.9 168.0" fill="none" stroke="#f2f2f2" stroke-width="1.1"/>
<path d="M493.2 88.9 A1.2 2.7 0 0 1 495.0 92.6" fill="none" stroke="#5a2448" stroke-width="1.1"/>
<ellipse cx="494.2" cy="98.6" rx="3.2" ry="5.2" fill="none" stroke="#6e4a36" stroke-width="1.1"/>
<ellipse cx="505.9" cy="151.8" rx="3.2" ry="6.9" fill="none" stroke="#f2f2f2" stroke-width="1.1"/>
<ellipse cx="500.7" cy="131.2" rx="3.2" ry="6.7" fill="none" stroke="#b0bebe" stroke-width="1.1"/>
<path d="M501.1 98.6 A1.9 4.4 0 0 1 504.8 100.0" fill="none" stroke="#9a6a48" stroke-width="1.1"/>
<ellipse cx="482.0" cy="58.9" rx="2.8" ry="7.2" fill="none" stroke="#6e4a36" stroke-width="1.1"/>
<path d="M508.6 235.9 A3.0 7.0 0 1 1 503.2 230.2" fill="none" stroke="#b0bebe" stroke-width="1.1"/>
<ellipse cx="483.2" cy="165.6" rx="2.7" ry="5.1" fill="none" stroke="#b0bebe" stroke-width="1.1"/>
<ellipse cx="474.4" cy="184.4" rx="2.7" ry="6.1" fill="none" stroke="#2a2226" stroke-width="1.1"/>
<path d="M495.1 162.6 A2.9 9.2 0 1 1 498.0 150.4" fill="none" stroke="#6e4a36" stroke-width="1.1"/>
<path d="M474.8 100.3 A2.7 4.9 0 0 1 476.5 107.6" fill="none" stroke="#2a2226" stroke-width="1.1"/>
<ellipse cx="509.0" cy="93.0" rx="2.4" ry="7.4" fill="none" stroke="#6f8a8c" stroke-width="1.1"/>
<ellipse cx="498.7" cy="106.3" rx="2.7" ry="8.5" fill="none" stroke="#f2f2f2" stroke-width="1.1"/>
<ellipse cx="490.3" cy="178.1" rx="3.2" ry="7.4" fill="none" stroke="#6e4a36" stroke-width="1.1"/>
<path d="M478.1 182.9 A2.8 4.8 0 1 1 483.5 181.9" fill="none" stroke="#9a6a48" stroke-width="1.1"/>
<path d="M485.8 245.1 A2.8 9.1 0 1 1 483.3 229.0" fill="none" stroke="#9a6a48" stroke-width="1.1"/>
<path d="M498.6 120.0 A2.9 9.0 0 0 1 495.2 134.3" fill="none" stroke="#6f8a8c" stroke-width="1.1"/>
<path d="M505.7 111.0 A1.5 2.8 0 1 1 505.5 116.6" fill="none" stroke="#9a6a48" stroke-width="1.1"/>
<ellipse cx="487.8" cy="99.0" rx="2.7" ry="7.4" fill="none" stroke="#26306a" stroke-width="1.1"/>
<path d="M475.2 96.3 A2.1 3.9 0 0 1 472.6 90.4" fill="none" stroke="#6f8a8c" stroke-width="1.1"/>
<ellipse cx="483.9" cy="58.6" rx="3.3" ry="6.5" fill="none" stroke="#6f8a8c" stroke-width="1.1"/>
<ellipse cx="491.6" cy="176.4" rx="2.9" ry="6.6" fill="none" stroke="#6f8a8c" stroke-width="1.1"/>
<ellipse cx="504.7" cy="163.4" rx="2.6" ry="6.6" fill="none" stroke="#f2f2f2" stroke-width="1.1"/>
<path d="M492.3 63.7 A2.5 6.6 0 1 1 488.0 65.5" fill="none" stroke="#f2f2f2" stroke-width="1.1"/>
<path d="M483.7 227.8 A3.4 10.3 0 1 1 482.2 246.9" fill="none" stroke="#6f8a8c" stroke-width="1.1"/>
<path d="M491.4 229.6 A2.2 5.9 0 0 1 487.6 232.6" fill="none" stroke="#26306a" stroke-width="1.1"/>
<ellipse cx="506.2" cy="63.2" rx="1.4" ry="3.0" fill="none" stroke="#b0bebe" stroke-width="1.1"/>
<path d="M497.2 131.3 A2.7 6.6 0 1 1 501.1 123.8" fill="none" stroke="#4d6769" stroke-width="1.1"/>
<ellipse cx="506.4" cy="177.5" rx="3.6" ry="11.1" fill="none" stroke="#6f8a8c" stroke-width="1.1"/>
<path d="M480.5 117.3 A3.4 6.7 0 0 1 487.2 116.8" fill="none" stroke="#6f8a8c" stroke-width="1.1"/>
<ellipse cx="496.8" cy="204.0" rx="2.9" ry="4.7" fill="none" stroke="#4d6769" stroke-width="1.1"/>
<path d="M474.7 210.4 A2.2 5.3 0 1 1 476.7 218.2" fill="none" stroke="#b0bebe" stroke-width="1.1"/>
<path d="M474.2 229.5 A2.6 5.6 0 0 1 477.6 237.5" fill="none" stroke="#6f8a8c" stroke-width="1.1"/>
<ellipse cx="507.5" cy="70.3" rx="1.8" ry="3.6" fill="none" stroke="#6f8a8c" stroke-width="1.1"/>
<ellipse cx="493.2" cy="196.9" rx="1.3" ry="2.6" fill="none" stroke="#6f8a8c" stroke-width="1.1"/>
<path d="M500.9 80.1 A2.3 7.1 0 0 1 497.9 70.0" fill="none" stroke="#b0bebe" stroke-width="1.1"/>
<ellipse cx="491.4" cy="62.4" rx="1.4" ry="3.9" fill="none" stroke="#b0bebe" stroke-width="1.1"/>
<ellipse cx="488.6" cy="85.0" rx="2.2" ry="6.7" fill="none" stroke="#b0bebe" stroke-width="1.1"/>
<ellipse cx="496.3" cy="164.5" rx="2.3" ry="5.6" fill="none" stroke="#6f8a8c" stroke-width="1.1"/>
<path d="M504.3 169.8 A3.0 7.1 0 0 1 504.7 180.2" fill="none" stroke="#6f8a8c" stroke-width="1.1"/>
<ellipse cx="499.0" cy="66.7" rx="1.8" ry="3.1" fill="none" stroke="#6f8a8c" stroke-width="1.1"/>
<ellipse cx="492.8" cy="79.0" rx="3.3" ry="9.7" fill="none" stroke="#6f8a8c" stroke-width="1.1"/>
<path d="M476.2 79.5 A2.0 4.3 0 0 1 473.7 83.4" fill="none" stroke="#5a2448" stroke-width="1.1"/>
<ellipse cx="484.5" cy="64.7" rx="2.4" ry="5.7" fill="none" stroke="#4d6769" stroke-width="1.1"/>
<path d="M480.0 165.3 A2.7 7.6 0 1 1 479.3 150.2" fill="none" stroke="#6f8a8c" stroke-width="1.1"/>
<ellipse cx="507.3" cy="146.0" rx="3.0" ry="6.4" fill="none" stroke="#6f8a8c" stroke-width="1.1"/>
<path d="M473.6 205.2 A1.3 3.2 0 0 1 475.5 207.4" fill="none" stroke="#b0bebe" stroke-width="1.1"/>
<ellipse cx="481.8" cy="78.0" rx="3.2" ry="6.5" fill="none" stroke="#9a6a48" stroke-width="1.1"/>
<ellipse cx="505.1" cy="187.0" rx="3.1" ry="5.1" fill="none" stroke="#5a2448" stroke-width="1.1"/>
<ellipse cx="475.7" cy="222.7" rx="1.7" ry="3.0" fill="none" stroke="#26306a" stroke-width="1.1"/>
<ellipse cx="494.5" cy="147.2" rx="2.5" ry="5.1" fill="none" stroke="#6f8a8c" stroke-width="1.1"/>
<ellipse cx="488.0" cy="239.2" rx="2.5" ry="6.5" fill="none" stroke="#6f8a8c" stroke-width="1.1"/>
<ellipse cx="489.3" cy="235.6" rx="3.0" ry="9.2" fill="none" stroke="#4d6769" stroke-width="1.1"/>
<ellipse cx="494.8" cy="156.0" rx="3.5" ry="6.2" fill="none" stroke="#2a2226" stroke-width="1.1"/>
<path d="M511.7 131.3 A2.9 8.7 0 0 1 507.0 135.8" fill="none" stroke="#2a2226" stroke-width="1.1"/>
<path d="M500.1 192.8 A2.5 4.1 0 0 1 496.9 188.2" fill="none" stroke="#6f8a8c" stroke-width="1.1"/>
<path d="M505.6 146.5 A3.6 8.2 0 1 1 498.5 147.0" fill="none" stroke="#4d6769" stroke-width="1.1"/>
<ellipse cx="479.0" cy="101.0" rx="2.8" ry="6.8" fill="none" stroke="#6e4a36" stroke-width="1.1"/>
<ellipse cx="477.3" cy="74.7" rx="2.1" ry="3.8" fill="none" stroke="#5a2448" stroke-width="1.1"/>
<path d="M501.8 156.8 A2.7 7.0 0 0 1 496.8 154.3" fill="none" stroke="#6e4a36" stroke-width="1.1"/>
<ellipse cx="487.8" cy="129.0" rx="1.3" ry="3.3" fill="none" stroke="#6e4a36" stroke-width="1.1"/>
<path d="M478.7 212.8 A1.5 4.3 0 1 1 475.8 214.5" fill="none" stroke="#4d6769" stroke-width="1.1"/>
<path d="M490.1 239.7 A2.2 5.7 0 0 1 492.1 232.2" fill="none" stroke="#f2f2f2" stroke-width="1.1"/>
<path d="M481.2 100.8 A3.1 5.9 0 1 1 475.7 97.6" fill="none" stroke="#4d6769" stroke-width="1.1"/>
<path d="M504.8 202.6 A2.6 6.0 0 1 1 502.8 213.7" fill="none" stroke="#b0bebe" stroke-width="1.1"/>
<path d="M495.8 75.7 A3.0 6.5 0 0 1 494.0 63.7" fill="none" stroke="#5a2448" stroke-width="1.1"/>
<path d="M501.5 115.4 A2.4 6.5 0 1 1 504.5 105.2" fill="none" stroke="#b0bebe" stroke-width="1.1"/>
<path d="M490.4 219.2 A3.4 6.8 0 1 1 492.4 232.0" fill="none" stroke="#b0bebe" stroke-width="1.1"/>
<path d="M475.9 109.4 A1.3 4.0 0 0 1 473.7 107.8" fill="none" stroke="#4d6769" stroke-width="1.1"/>
<path d="M508.8 210.7 A2.1 5.1 0 0 1 510.2 201.4" fill="none" stroke="#6f8a8c" stroke-width="1.1"/>
<path d="M489.6 173.2 A2.0 5.6 0 0 1 487.1 169.2" fill="none" stroke="#26306a" stroke-width="1.1"/>
<ellipse cx="508.0" cy="179.0" rx="2.1" ry="5.8" fill="none" stroke="#2a2226" stroke-width="1.1"/>
<path d="M508.6 139.2 A2.0 4.5 0 1 1 505.2 134.8" fill="none" stroke="#4d6769" stroke-width="1.1"/>
<ellipse cx="479.2" cy="187.2" rx="2.6" ry="5.1" fill="none" stroke="#6f8a8c" stroke-width="1.1"/>
<ellipse cx="502.9" cy="137.6" rx="2.5" ry="5.9" fill="none" stroke="#b0bebe" stroke-width="1.1"/>
<path d="M478.3 70.7 A2.4 5.2 0 0 1 481.2 79.1" fill="none" stroke="#4d6769" stroke-width="1.1"/>
<path d="M499.5 228.3 A1.6 2.9 0 1 1 499.0 233.7" fill="none" stroke="#6f8a8c" stroke-width="1.1"/>
<ellipse cx="503.8" cy="161.9" rx="2.6" ry="4.8" fill="none" stroke="#b0bebe" stroke-width="1.1"/>
<path d="M476.3 151.4 A1.8 3.2 0 1 1 474.3 156.5" fill="none" stroke="#b0bebe" stroke-width="1.1"/>
<path d="M478.5 83.9 A1.9 3.6 0 0 1 474.7 83.7" fill="none" stroke="#4d6769" stroke-width="1.1"/>
<ellipse cx="488.4" cy="199.8" rx="2.1" ry="4.5" fill="none" stroke="#f2f2f2" stroke-width="1.1"/>
<path d="M511.2 83.3 A3.4 10.7 0 1 1 505.9 70.4" fill="none" stroke="#26306a" stroke-width="1.1"/>
<path d="M498.6 153.3 A2.3 4.4 0 1 1 502.0 147.5" fill="none" stroke="#6f8a8c" stroke-width="1.1"/>
<path d="M487.3 237.1 A3.5 10.2 0 0 1 488.2 217.7" fill="none" stroke="#6f8a8c" stroke-width="1.1"/>
<path d="M495.2 107.4 A1.8 4.9 0 1 1 493.7 116.3" fill="none" stroke="#9a6a48" stroke-width="1.1"/>
<ellipse cx="493.9" cy="70.6" rx="2.1" ry="5.0" fill="none" stroke="#b0bebe" stroke-width="1.1"/>
<path d="M482.3 80.6 A2.0 4.8 0 1 1 482.6 73.1" fill="none" stroke="#6f8a8c" stroke-width="1.1"/>
<ellipse cx="506.1" cy="114.6" rx="2.6" ry="6.6" fill="none" stroke="#4d6769" stroke-width="1.1"/>
<path d="M494.1 81.6 A2.2 6.3 0 1 1 489.8 83.9" fill="none" stroke="#f2f2f2" stroke-width="1.1"/>
<ellipse cx="486.1" cy="110.1" rx="2.8" ry="6.4" fill="none" stroke="#b0bebe" stroke-width="1.1"/>
<path d="M485.1 50.4 A2.7 7.1 0 0 1 482.2 62.3" fill="none" stroke="#f2f2f2" stroke-width="1.1"/>
<ellipse cx="483.4" cy="149.5" rx="3.2" ry="7.3" fill="none" stroke="#6f8a8c" stroke-width="1.1"/>
<path d="M475.6 165.0 A2.6 6.6 0 0 1 478.7 154.5" fill="none" stroke="#6f8a8c" stroke-width="1.1"/>
<path d="M490.9 123.4 A2.8 6.7 0 0 1 486.2 130.3" fill="none" stroke="#5a2448" stroke-width="1.1"/>
<ellipse cx="509.5" cy="201.8" rx="1.9" ry="3.2" fill="none" stroke="#6f8a8c" stroke-width="1.1"/>
<ellipse cx="502.9" cy="165.2" rx="2.0" ry="4.8" fill="none" stroke="#6f8a8c" stroke-width="1.1"/>
<ellipse cx="507.9" cy="165.6" rx="2.0" ry="6.5" fill="none" stroke="#6f8a8c" stroke-width="1.1"/>
<ellipse cx="502.4" cy="180.1" rx="1.3" ry="3.2" fill="none" stroke="#4d6769" stroke-width="1.1"/>
<ellipse cx="480.3" cy="197.9" rx="3.0" ry="7.2" fill="none" stroke="#f2f2f2" stroke-width="1.1"/>
<ellipse cx="475.7" cy="139.3" rx="2.6" ry="7.8" fill="none" stroke="#6f8a8c" stroke-width="1.1"/>
<path d="M503.3 179.0 A3.6 9.7 0 1 1 501.8 162.5" fill="none" stroke="#4d6769" stroke-width="1.1"/>
<path d="M479.2 174.4 A1.3 3.0 0 0 1 477.9 170.8" fill="none" stroke="#f2f2f2" stroke-width="1.1"/>
<ellipse cx="488.2" cy="113.4" rx="2.1" ry="5.1" fill="none" stroke="#6f8a8c" stroke-width="1.1"/>
<ellipse cx="500.2" cy="68.2" rx="3.1" ry="5.0" fill="none" stroke="#5a2448" stroke-width="1.1"/>
<ellipse cx="496.5" cy="151.0" rx="1.4" ry="3.3" fill="none" stroke="#5a2448" stroke-width="1.1"/>
<path d="M487.8 244.0 A3.5 5.8 0 0 1 488.5 233.8" fill="none" stroke="#f2f2f2" stroke-width="1.1"/>
<ellipse cx="481.2" cy="129.0" rx="1.4" ry="2.7" fill="none" stroke="#f2f2f2" stroke-width="1.1"/>
<path d="M479.8 202.5 A2.8 7.7 0 1 1 478.6 187.6" fill="none" stroke="#4d6769" stroke-width="1.1"/>
<ellipse cx="487.1" cy="68.4" rx="1.5" ry="2.3" fill="none" stroke="#5a2448" stroke-width="1.1"/>
<ellipse cx="500.0" cy="221.3" rx="1.8" ry="5.4" fill="none" stroke="#f2f2f2" stroke-width="1.1"/>
<path d="M475.9 97.2 A3.5 9.7 0 0 1 476.3 116.5" fill="none" stroke="#2a2226" stroke-width="1.1"/>
<ellipse cx="490.3" cy="146.6" rx="3.5" ry="6.3" fill="none" stroke="#6f8a8c" stroke-width="1.1"/>
<path d="M477.7 102.7 A3.5 9.9 0 1 1 478.0 84.3" fill="none" stroke="#9a6a48" stroke-width="1.1"/>
<ellipse cx="498.1" cy="58.1" rx="3.3" ry="6.6" fill="none" stroke="#6e4a36" stroke-width="1.1"/>
<ellipse cx="487.9" cy="127.8" rx="3.6" ry="7.3" fill="none" stroke="#5a2448" stroke-width="1.1"/>
<path d="M502.4 75.4 A2.4 6.7 0 1 1 501.0 63.8" fill="none" stroke="#f2f2f2" stroke-width="1.1"/>
<path d="M484.9 225.9 A3.0 5.4 0 1 1 482.4 234.8" fill="none" stroke="#4d6769" stroke-width="1.1"/>
<ellipse cx="474.2" cy="96.6" rx="1.5" ry="3.0" fill="none" stroke="#6f8a8c" stroke-width="1.1"/>
<ellipse cx="481.9" cy="180.6" rx="2.1" ry="5.9" fill="none" stroke="#5a2448" stroke-width="1.1"/>
<ellipse cx="485.8" cy="106.3" rx="3.3" ry="8.2" fill="none" stroke="#b0bebe" stroke-width="1.1"/>
<path d="M487.0 222.8 A2.1 5.1 0 0 1 489.8 215.2" fill="none" stroke="#26306a" stroke-width="1.1"/>
<path d="M486.4 55.2 A2.5 4.2 0 0 1 489.7 58.0" fill="none" stroke="#f2f2f2" stroke-width="1.1"/>
<ellipse cx="488.7" cy="57.7" rx="1.9" ry="5.0" fill="none" stroke="#4d6769" stroke-width="1.1"/>
<path d="M511.2 95.6 A3.3 7.0 0 0 1 508.9 108.0" fill="none" stroke="#2a2226" stroke-width="1.1"/>
<path d="M487.5 242.6 A2.7 7.7 0 0 1 489.2 228.1" fill="none" stroke="#b0bebe" stroke-width="1.1"/>
<ellipse cx="494.0" cy="199.7" rx="2.6" ry="6.8" fill="none" stroke="#b0bebe" stroke-width="1.1"/>
<ellipse cx="505.5" cy="119.1" rx="2.4" ry="4.6" fill="none" stroke="#f2f2f2" stroke-width="1.1"/>
<ellipse cx="480.2" cy="205.8" rx="3.2" ry="9.5" fill="none" stroke="#9a6a48" stroke-width="1.1"/>
<path d="M490.3 99.9 A2.7 6.3 0 0 1 491.8 91.5" fill="none" stroke="#6f8a8c" stroke-width="1.1"/>
<ellipse cx="508.3" cy="212.3" rx="2.0" ry="3.7" fill="none" stroke="#b0bebe" stroke-width="1.1"/>
<path d="M510.8 155.8 A3.4 9.7 0 0 1 505.3 149.6" fill="none" stroke="#9a6a48" stroke-width="1.1"/>
<ellipse cx="484.4" cy="95.3" rx="1.6" ry="3.5" fill="none" stroke="#4d6769" stroke-width="1.1"/>
<ellipse cx="482.6" cy="87.5" rx="2.0" ry="4.6" fill="none" stroke="#6f8a8c" stroke-width="1.1"/>
<ellipse cx="491.0" cy="152.3" rx="1.3" ry="3.5" fill="none" stroke="#6f8a8c" stroke-width="1.1"/>
<path d="M483.4 198.8 A2.3 6.5 0 0 1 479.0 202.0" fill="none" stroke="#6f8a8c" stroke-width="1.1"/>
<ellipse cx="494.8" cy="173.0" rx="2.1" ry="4.6" fill="none" stroke="#2a2226" stroke-width="1.1"/>
<ellipse cx="505.4" cy="199.9" rx="1.3" ry="2.8" fill="none" stroke="#5a2448" stroke-width="1.1"/>
<ellipse cx="496.7" cy="118.5" rx="3.0" ry="5.1" fill="none" stroke="#2a2226" stroke-width="1.1"/>
<ellipse cx="485.7" cy="191.1" rx="1.2" ry="2.1" fill="none" stroke="#f2f2f2" stroke-width="1.1"/>
<path d="M476.6 52.5 A3.3 8.7 0 0 1 480.9 47.9" fill="none" stroke="#b0bebe" stroke-width="1.1"/>
<path d="M502.9 199.4 A1.6 4.4 0 1 1 501.1 192.4" fill="none" stroke="#b0bebe" stroke-width="1.1"/>
<path d="M503.0 129.8 A2.9 6.8 0 1 1 505.4 140.6" fill="none" stroke="#b0bebe" stroke-width="1.1"/>
<path d="M498.6 175.9 A2.1 5.7 0 1 1 502.5 178.0" fill="none" stroke="#6e4a36" stroke-width="1.1"/>
<ellipse cx="503.1" cy="176.0" rx="3.2" ry="8.9" fill="none" stroke="#b0bebe" stroke-width="1.1"/>
<path d="M505.2 139.7 A1.9 4.5 0 0 1 508.4 135.4" fill="none" stroke="#b0bebe" stroke-width="1.1"/>
<ellipse cx="498.9" cy="155.3" rx="1.2" ry="2.3" fill="none" stroke="#b0bebe" stroke-width="1.1"/>
<path d="M486.4 93.2 A2.5 4.1 0 1 1 486.9 86.6" fill="none" stroke="#4d6769" stroke-width="1.1"/>
<path d="M471.6 241.2 A3.3 8.1 0 0 1 473.9 229.1" fill="none" stroke="#5a2448" stroke-width="1.1"/>
<ellipse cx="474.3" cy="103.2" rx="2.5" ry="5.5" fill="none" stroke="#2a2226" stroke-width="1.1"/>
<path d="M504.9 165.2 A1.5 2.6 0 0 1 506.1 168.9" fill="none" stroke="#5a2448" stroke-width="1.1"/>
<path d="M509.2 226.3 A2.1 5.3 0 0 1 505.1 227.6" fill="none" stroke="#f2f2f2" stroke-width="1.1"/>
<path d="M507.2 166.4 A1.5 4.1 0 1 1 505.5 161.0" fill="none" stroke="#b0bebe" stroke-width="1.1"/>
<path d="M479.0 226.9 A1.4 3.9 0 1 1 480.7 221.6" fill="none" stroke="#6e4a36" stroke-width="1.1"/>
<path d="M473.5 98.7 A2.5 4.8 0 0 1 477.9 98.9" fill="none" stroke="#f2f2f2" stroke-width="1.1"/>
<ellipse cx="483.6" cy="93.2" rx="2.0" ry="4.3" fill="none" stroke="#9a6a48" stroke-width="1.1"/>
<path d="M491.9 172.7 A2.7 5.2 0 1 1 487.9 166.5" fill="none" stroke="#4d6769" stroke-width="1.1"/>
<path d="M476.3 126.7 A1.5 3.1 0 0 1 478.1 123.6" fill="none" stroke="#6f8a8c" stroke-width="1.1"/>
<path d="M489.6 92.4 A1.7 4.7 0 0 1 486.2 91.7" fill="none" stroke="#2a2226" stroke-width="1.1"/>
<ellipse cx="486.5" cy="113.9" rx="2.1" ry="4.5" fill="none" stroke="#6f8a8c" stroke-width="1.1"/>
<path d="M495.0 76.4 A2.4 5.8 0 0 1 498.8 70.1" fill="none" stroke="#6f8a8c" stroke-width="1.1"/>
<ellipse cx="489.9" cy="214.6" rx="2.8" ry="8.8" fill="none" stroke="#b0bebe" stroke-width="1.1"/>
<ellipse cx="506.9" cy="184.4" rx="2.6" ry="8.4" fill="none" stroke="#f2f2f2" stroke-width="1.1"/>
<ellipse cx="486.2" cy="150.0" rx="1.4" ry="4.1" fill="none" stroke="#6f8a8c" stroke-width="1.1"/>
<path d="M499.0 132.0 A1.9 5.3 0 0 1 496.0 128.0" fill="none" stroke="#f2f2f2" stroke-width="1.1"/>
<ellipse cx="493.9" cy="206.0" rx="2.8" ry="6.0" fill="none" stroke="#6f8a8c" stroke-width="1.1"/>
<ellipse cx="493.0" cy="166.1" rx="3.3" ry="7.3" fill="none" stroke="#6f8a8c" stroke-width="1.1"/>
<ellipse cx="493.2" cy="187.6" rx="3.5" ry="6.7" fill="none" stroke="#4d6769" stroke-width="1.1"/>
<path d="M502.5 110.4 A3.6 8.4 0 0 1 505.4 95.4" fill="none" stroke="#26306a" stroke-width="1.1"/>
<path d="M478.1 101.0 A1.3 3.7 0 0 1 477.6 93.9" fill="none" stroke="#5a2448" stroke-width="1.1"/>
<path d="M489.4 201.9 A2.2 3.9 0 1 1 493.0 206.5" fill="none" stroke="#6f8a8c" stroke-width="1.1"/>
<path d="M494.0 184.5 A2.1 5.3 0 0 1 495.7 194.1" fill="none" stroke="#26306a" stroke-width="1.1"/>
<ellipse cx="484.7" cy="155.6" rx="2.4" ry="6.1" fill="none" stroke="#b0bebe" stroke-width="1.1"/>
<ellipse cx="483.4" cy="182.3" rx="2.8" ry="7.5" fill="none" stroke="#f2f2f2" stroke-width="1.1"/>
<path d="M506.8 209.5 A1.6 4.8 0 0 1 507.5 218.5" fill="none" stroke="#f2f2f2" stroke-width="1.1"/>
<ellipse cx="474.4" cy="158.9" rx="2.7" ry="6.0" fill="none" stroke="#6f8a8c" stroke-width="1.1"/>
<ellipse cx="490.0" cy="119.8" rx="3.3" ry="5.6" fill="none" stroke="#b0bebe" stroke-width="1.1"/>
<path d="M479.3 143.6 A1.8 5.3 0 1 1 479.5 153.8" fill="none" stroke="#6f8a8c" stroke-width="1.1"/>
<ellipse cx="482.6" cy="171.8" rx="3.6" ry="5.9" fill="none" stroke="#2a2226" stroke-width="1.1"/>
<path d="M484.5 220.4 A2.2 5.8 0 0 1 487.2 215.1" fill="none" stroke="#4d6769" stroke-width="1.1"/>
<path d="M501.3 230.3 A3.3 5.7 0 1 1 507.6 227.0" fill="none" stroke="#6f8a8c" stroke-width="1.1"/>
<path d="M495.3 130.1 A1.2 2.8 0 0 1 495.9 135.2" fill="none" stroke="#6f8a8c" stroke-width="1.1"/>
<ellipse cx="492.8" cy="162.2" rx="3.1" ry="8.6" fill="none" stroke="#6f8a8c" stroke-width="1.1"/>
<path d="M500.1 73.5 A3.4 10.2 0 0 1 505.2 86.5" fill="none" stroke="#6f8a8c" stroke-width="1.1"/>
<ellipse cx="494.1" cy="189.5" rx="2.6" ry="8.1" fill="none" stroke="#6f8a8c" stroke-width="1.1"/>
<ellipse cx="503.2" cy="220.5" rx="1.3" ry="3.5" fill="none" stroke="#2a2226" stroke-width="1.1"/>
<ellipse cx="481.2" cy="170.6" rx="3.6" ry="8.0" fill="none" stroke="#b0bebe" stroke-width="1.1"/>
<path d="M509.2 69.3 A1.2 2.4 0 1 1 507.2 67.0" fill="none" stroke="#5a2448" stroke-width="1.1"/>
<ellipse cx="484.8" cy="99.2" rx="3.4" ry="10.8" fill="none" stroke="#f2f2f2" stroke-width="1.1"/>
<path d="M493.7 157.2 A2.8 7.6 0 1 1 492.1 170.7" fill="none" stroke="#b0bebe" stroke-width="1.1"/>
<ellipse cx="477.8" cy="193.1" rx="1.3" ry="2.5" fill="none" stroke="#5a2448" stroke-width="1.1"/>
<ellipse cx="481.0" cy="198.5" rx="2.4" ry="7.4" fill="none" stroke="#5a2448" stroke-width="1.1"/>
<ellipse cx="474.4" cy="158.2" rx="2.8" ry="5.6" fill="none" stroke="#6e4a36" stroke-width="1.1"/>
<path d="M509.5 231.7 A1.6 4.4 0 1 1 506.6 228.7" fill="none" stroke="#6f8a8c" stroke-width="1.1"/>
<path d="M483.1 162.3 A1.4 4.3 0 0 1 481.6 155.2" fill="none" stroke="#f2f2f2" stroke-width="1.1"/>
<path d="M478.9 136.4 A1.4 2.9 0 0 1 478.6 131.8" fill="none" stroke="#f2f2f2" stroke-width="1.1"/>
<ellipse cx="480.1" cy="176.0" rx="1.4" ry="4.1" fill="none" stroke="#b0bebe" stroke-width="1.1"/>
<path d="M490.8 127.1 A3.6 9.5 0 1 1 486.8 111.5" fill="none" stroke="#b0bebe" stroke-width="1.1"/>
<path d="M489.9 223.5 A3.2 8.0 0 1 1 484.2 231.1" fill="none" stroke="#f2f2f2" stroke-width="1.1"/>
<path d="M502.7 220.3 A2.2 6.1 0 0 1 503.3 231.6" fill="none" stroke="#6e4a36" stroke-width="1.1"/>
<ellipse cx="507.2" cy="161.3" rx="1.6" ry="3.8" fill="none" stroke="#6f8a8c" stroke-width="1.1"/>
<ellipse cx="492.9" cy="98.4" rx="2.5" ry="7.5" fill="none" stroke="#6f8a8c" stroke-width="1.1"/>
<ellipse cx="495.8" cy="74.4" rx="1.6" ry="4.7" fill="none" stroke="#f2f2f2" stroke-width="1.1"/>
<path d="M475.2 162.5 A2.1 5.4 0 1 1 476.3 152.4" fill="none" stroke="#b0bebe" stroke-width="1.1"/>
<ellipse cx="499.3" cy="191.8" rx="3.6" ry="6.9" fill="none" stroke="#9a6a48" stroke-width="1.1"/>
<path d="M496.7 220.6 A3.0 7.5 0 1 1 493.3 232.5" fill="none" stroke="#4d6769" stroke-width="1.1"/>
<ellipse cx="505.7" cy="221.3" rx="2.1" ry="6.4" fill="none" stroke="#6f8a8c" stroke-width="1.1"/>
<path d="M487.7 85.1 A1.2 2.3 0 0 1 485.3 85.8" fill="none" stroke="#2a2226" stroke-width="1.1"/>
<ellipse cx="495.6" cy="162.9" rx="1.6" ry="2.9" fill="none" stroke="#4d6769" stroke-width="1.1"/>
<ellipse cx="494.5" cy="145.9" rx="3.1" ry="9.0" fill="none" stroke="#6f8a8c" stroke-width="1.1"/>
<ellipse cx="493.9" cy="55.2" rx="2.2" ry="5.5" fill="none" stroke="#2a2226" stroke-width="1.1"/>
<ellipse cx="478.4" cy="192.7" rx="1.8" ry="4.4" fill="none" stroke="#b0bebe" stroke-width="1.1"/>
<ellipse cx="508.4" cy="71.1" rx="2.7" ry="5.2" fill="none" stroke="#2a2226" stroke-width="1.1"/>
<path d="M504.9 107.3 A1.9 4.1 0 1 1 507.6 111.9" fill="none" stroke="#4d6769" stroke-width="1.1"/>
<path d="M472.3 98.2 A2.8 8.9 0 0 1 475.7 85.7" fill="none" stroke="#f2f2f2" stroke-width="1.1"/>
<ellipse cx="474.4" cy="73.6" rx="2.3" ry="5.6" fill="none" stroke="#4d6769" stroke-width="1.1"/>
<ellipse cx="509.8" cy="133.1" rx="2.2" ry="4.7" fill="none" stroke="#b0bebe" stroke-width="1.1"/>
<ellipse cx="481.7" cy="169.6" rx="3.5" ry="11.0" fill="none" stroke="#9a6a48" stroke-width="1.1"/>
<ellipse cx="489.9" cy="94.0" rx="1.4" ry="2.7" fill="none" stroke="#f2f2f2" stroke-width="1.1"/>
<ellipse cx="493.8" cy="119.2" rx="3.4" ry="10.2" fill="none" stroke="#2a2226" stroke-width="1.1"/>
<ellipse cx="504.9" cy="115.2" rx="2.2" ry="5.0" fill="none" stroke="#6f8a8c" stroke-width="1.1"/>
<ellipse cx="476.0" cy="148.9" rx="3.5" ry="5.6" fill="none" stroke="#6f8a8c" stroke-width="1.1"/>
<ellipse cx="474.6" cy="125.0" rx="3.4" ry="5.9" fill="none" stroke="#6f8a8c" stroke-width="1.1"/>
<path d="M497.2 53.1 A3.4 9.4 0 0 1 498.4 65.9" fill="none" stroke="#9a6a48" stroke-width="1.1"/>
<ellipse cx="506.6" cy="73.2" rx="1.9" ry="4.0" fill="none" stroke="#26306a" stroke-width="1.1"/>
<path d="M486.5 67.0 A1.5 4.6 0 1 1 485.4 58.9" fill="none" stroke="#6e4a36" stroke-width="1.1"/>
<ellipse cx="480.3" cy="214.4" rx="1.5" ry="4.7" fill="none" stroke="#4d6769" stroke-width="1.1"/>
<path d="M472.0 103.8 A3.3 8.1 0 1 1 478.4 99.3" fill="none" stroke="#b0bebe" stroke-width="1.1"/>
<path d="M496.1 61.2 A1.8 4.8 0 1 1 496.7 51.9" fill="none" stroke="#2a2226" stroke-width="1.1"/>
<ellipse cx="483.1" cy="226.3" rx="1.2" ry="3.7" fill="none" stroke="#f2f2f2" stroke-width="1.1"/>
<ellipse cx="503.5" cy="149.8" rx="3.1" ry="8.9" fill="none" stroke="#6f8a8c" stroke-width="1.1"/>
<ellipse cx="488.6" cy="99.3" rx="2.5" ry="6.6" fill="none" stroke="#6e4a36" stroke-width="1.1"/>
<path d="M489.3 124.6 A3.4 8.2 0 0 1 484.1 117.9" fill="none" stroke="#b0bebe" stroke-width="1.1"/>
<ellipse cx="507.8" cy="160.0" rx="3.2" ry="6.2" fill="none" stroke="#6f8a8c" stroke-width="1.1"/>
<path d="M504.9 192.0 A1.2 2.8 0 1 1 507.0 194.8" fill="none" stroke="#6f8a8c" stroke-width="1.1"/>
<ellipse cx="498.7" cy="238.9" rx="2.6" ry="6.4" fill="none" stroke="#b0bebe" stroke-width="1.1"/>
<path d="M496.1 218.9 A1.4 4.4 0 0 1 494.6 225.7" fill="none" stroke="#6f8a8c" stroke-width="1.1"/>
<ellipse cx="482.7" cy="219.7" rx="2.8" ry="4.9" fill="none" stroke="#26306a" stroke-width="1.1"/>
<path d="M486.0 200.9 A1.6 4.9 0 0 1 483.6 201.5" fill="none" stroke="#6f8a8c" stroke-width="1.1"/>
<path d="M484.4 78.3 A3.0 5.2 0 0 1 479.2 76.8" fill="none" stroke="#6e4a36" stroke-width="1.1"/>
<path d="M472.0 124.3 A3.4 6.7 0 0 1 476.6 121.6" fill="none" stroke="#6e4a36" stroke-width="1.1"/>
<ellipse cx="509.9" cy="239.6" rx="1.5" ry="4.7" fill="none" stroke="#b0bebe" stroke-width="1.1"/>
<ellipse cx="501.7" cy="173.0" rx="2.9" ry="8.6" fill="none" stroke="#b0bebe" stroke-width="1.1"/>
<ellipse cx="491.9" cy="144.7" rx="1.6" ry="3.9" fill="none" stroke="#6f8a8c" stroke-width="1.1"/>
<ellipse cx="504.3" cy="175.2" rx="3.0" ry="7.4" fill="none" stroke="#4d6769" stroke-width="1.1"/>
<ellipse cx="485.1" cy="183.9" rx="3.0" ry="5.1" fill="none" stroke="#6e4a36" stroke-width="1.1"/>
<ellipse cx="479.2" cy="101.3" rx="2.9" ry="6.4" fill="none" stroke="#26306a" stroke-width="1.1"/>
<path d="M500.6 101.3 A3.4 6.0 0 1 1 494.5 101.9" fill="none" stroke="#6f8a8c" stroke-width="1.1"/>
<path d="M507.8 86.2 A1.2 3.7 0 1 1 507.1 79.2" fill="none" stroke="#6e4a36" stroke-width="1.1"/>
<ellipse cx="499.3" cy="236.6" rx="2.2" ry="6.3" fill="none" stroke="#f2f2f2" stroke-width="1.1"/>
<ellipse cx="474.3" cy="151.2" rx="3.2" ry="6.4" fill="none" stroke="#b0bebe" stroke-width="1.1"/>
<path d="M495.8 139.2 A3.6 6.8 0 0 1 497.5 148.9" fill="none" stroke="#f2f2f2" stroke-width="1.1"/>
<path d="M479.8 119.5 A1.8 4.5 0 0 1 482.3 118.8" fill="none" stroke="#2a2226" stroke-width="1.1"/>
<ellipse cx="506.0" cy="152.3" rx="3.2" ry="8.4" fill="none" stroke="#f2f2f2" stroke-width="1.1"/>
<path d="M506.2 80.0 A1.3 2.7 0 0 1 505.5 75.1" fill="none" stroke="#f2f2f2" stroke-width="1.1"/>
<ellipse cx="484.2" cy="89.8" rx="1.6" ry="5.2" fill="none" stroke="#6f8a8c" stroke-width="1.1"/>
<path d="M506.5 169.3 A2.7 5.3 0 1 1 511.8 168.4" fill="none" stroke="#f2f2f2" stroke-width="1.1"/>
<ellipse cx="508.9" cy="80.3" rx="3.0" ry="5.8" fill="none" stroke="#5a2448" stroke-width="1.1"/>
<ellipse cx="477.9" cy="72.7" rx="1.4" ry="4.1" fill="none" stroke="#f2f2f2" stroke-width="1.1"/>
<ellipse cx="483.9" cy="159.8" rx="1.4" ry="4.0" fill="none" stroke="#6e4a36" stroke-width="1.1"/>
<path d="M489.1 78.6 A2.5 7.7 0 0 1 486.4 86.3" fill="none" stroke="#b0bebe" stroke-width="1.1"/>
<ellipse cx="504.5" cy="133.9" rx="1.7" ry="4.9" fill="none" stroke="#26306a" stroke-width="1.1"/>
<path d="M510.7 91.8 A2.7 8.1 0 0 1 506.6 81.7" fill="none" stroke="#f2f2f2" stroke-width="1.1"/>
<path d="M495.4 212.8 A1.9 3.8 0 1 1 497.2 219.4" fill="none" stroke="#6f8a8c" stroke-width="1.1"/>
<ellipse cx="484.7" cy="99.5" rx="1.9" ry="5.6" fill="none" stroke="#9a6a48" stroke-width="1.1"/>
<ellipse cx="489.5" cy="145.9" rx="2.6" ry="5.6" fill="none" stroke="#f2f2f2" stroke-width="1.1"/>
<path d="M483.7 112.6 A2.0 4.9 0 0 1 479.8 114.6" fill="none" stroke="#f2f2f2" stroke-width="1.1"/>
<ellipse cx="491.0" cy="111.4" rx="2.6" ry="8.0" fill="none" stroke="#6f8a8c" stroke-width="1.1"/>
<ellipse cx="487.7" cy="134.3" rx="3.1" ry="9.0" fill="none" stroke="#6f8a8c" stroke-width="1.1"/>
<ellipse cx="503.1" cy="77.0" rx="1.9" ry="5.9" fill="none" stroke="#6f8a8c" stroke-width="1.1"/>
<path d="M506.7 173.7 A2.9 4.7 0 0 1 501.7 169.9" fill="none" stroke="#f2f2f2" stroke-width="1.1"/>
<path d="M482.1 58.6 A2.6 4.4 0 0 1 482.0 67.4" fill="none" stroke="#6f8a8c" stroke-width="1.1"/>
<path d="M494.0 191.3 A1.4 4.4 0 0 1 496.5 190.9" fill="none" stroke="#b0bebe" stroke-width="1.1"/>
<ellipse cx="490.7" cy="66.5" rx="3.2" ry="7.1" fill="none" stroke="#f2f2f2" stroke-width="1.1"/>
<path d="M501.6 186.0 A2.1 4.5 0 0 1 501.4 179.8" fill="none" stroke="#2a2226" stroke-width="1.1"/>
<ellipse cx="491.8" cy="225.2" rx="1.8" ry="5.4" fill="none" stroke="#f2f2f2" stroke-width="1.1"/>
<ellipse cx="476.2" cy="126.4" rx="2.0" ry="6.3" fill="none" stroke="#6e4a36" stroke-width="1.1"/>
<ellipse cx="500.2" cy="62.1" rx="1.4" ry="3.1" fill="none" stroke="#f2f2f2" stroke-width="1.1"/>
<path d="M489.5 178.5 A3.4 6.0 0 1 1 496.3 179.0" fill="none" stroke="#4d6769" stroke-width="1.1"/>
<ellipse cx="504.4" cy="119.6" rx="3.3" ry="6.6" fill="none" stroke="#5a2448" stroke-width="1.1"/>
<path d="M501.2 117.9 A3.6 7.2 0 0 1 501.2 103.8" fill="none" stroke="#b0bebe" stroke-width="1.1"/>
<ellipse cx="509.5" cy="198.9" rx="1.2" ry="3.2" fill="none" stroke="#6f8a8c" stroke-width="1.1"/>
<ellipse cx="481.6" cy="101.6" rx="1.9" ry="4.0" fill="none" stroke="#2a2226" stroke-width="1.1"/>
<path d="M499.8 221.2 A3.4 6.1 0 0 1 506.6 219.9" fill="none" stroke="#6f8a8c" stroke-width="1.1"/>
<ellipse cx="476.9" cy="156.5" rx="1.5" ry="3.9" fill="none" stroke="#f2f2f2" stroke-width="1.1"/>
<ellipse cx="508.8" cy="90.5" rx="2.6" ry="6.4" fill="none" stroke="#f2f2f2" stroke-width="1.1"/>
<path d="M498.9 197.5 A3.1 9.0 0 0 1 497.0 211.2" fill="none" stroke="#6f8a8c" stroke-width="1.1"/>
<path d="M485.5 138.4 A2.1 4.2 0 0 1 482.6 134.1" fill="none" stroke="#5a2448" stroke-width="1.1"/>
<ellipse cx="499.6" cy="146.4" rx="2.7" ry="7.8" fill="none" stroke="#26306a" stroke-width="1.1"/>
<path d="M485.4 79.0 A3.1 9.7 0 1 1 482.5 62.0" fill="none" stroke="#5a2448" stroke-width="1.1"/>
<path d="M473.6 217.4 A2.6 6.3 0 0 1 478.7 215.7" fill="none" stroke="#6f8a8c" stroke-width="1.1"/>
<ellipse cx="509.6" cy="211.9" rx="1.7" ry="4.5" fill="none" stroke="#5a2448" stroke-width="1.1"/>
<ellipse cx="478.0" cy="103.3" rx="1.9" ry="3.9" fill="none" stroke="#5a2448" stroke-width="1.1"/>
<ellipse cx="501.7" cy="117.0" rx="3.0" ry="8.4" fill="none" stroke="#f2f2f2" stroke-width="1.1"/>
<path d="M507.3 176.1 A2.0 4.2 0 1 1 503.5 174.1" fill="none" stroke="#6f8a8c" stroke-width="1.1"/>
<path d="M498.0 59.2 A2.2 5.2 0 0 1 495.7 66.0" fill="none" stroke="#5a2448" stroke-width="1.1"/>
<ellipse cx="481.6" cy="149.8" rx="3.2" ry="7.5" fill="none" stroke="#b0bebe" stroke-width="1.1"/>
<ellipse cx="495.4" cy="120.1" rx="1.6" ry="5.2" fill="none" stroke="#6f8a8c" stroke-width="1.1"/>
<path d="M487.9 116.1 A2.8 7.1 0 0 1 491.4 121.3" fill="none" stroke="#2a2226" stroke-width="1.1"/>
<ellipse cx="509.6" cy="188.8" rx="2.6" ry="7.0" fill="none" stroke="#26306a" stroke-width="1.1"/>
<ellipse cx="486.9" cy="159.6" rx="2.4" ry="3.9" fill="none" stroke="#6f8a8c" stroke-width="1.1"/>
<ellipse cx="475.2" cy="165.7" rx="1.3" ry="3.8" fill="none" stroke="#4d6769" stroke-width="1.1"/>
<ellipse cx="509.6" cy="117.7" rx="2.1" ry="5.6" fill="none" stroke="#f2f2f2" stroke-width="1.1"/>
<ellipse cx="492.3" cy="217.6" rx="1.8" ry="4.2" fill="none" stroke="#4d6769" stroke-width="1.1"/>
<ellipse cx="504.0" cy="59.8" rx="3.2" ry="6.0" fill="none" stroke="#4d6769" stroke-width="1.1"/>
<ellipse cx="487.9" cy="202.0" rx="2.5" ry="6.1" fill="none" stroke="#6f8a8c" stroke-width="1.1"/>
<ellipse cx="503.5" cy="155.5" rx="3.0" ry="4.9" fill="none" stroke="#6f8a8c" stroke-width="1.1"/>
<path d="M494.3 206.4 A3.5 10.7 0 1 1 489.4 214.6" fill="none" stroke="#9a6a48" stroke-width="1.1"/>
<path d="M507.4 151.5 A2.2 6.5 0 0 1 511.4 147.4" fill="none" stroke="#f2f2f2" stroke-width="1.1"/>
<ellipse cx="474.0" cy="105.7" rx="2.8" ry="5.4" fill="none" stroke="#6e4a36" stroke-width="1.1"/>
<ellipse cx="503.3" cy="134.0" rx="3.1" ry="8.5" fill="none" stroke="#6f8a8c" stroke-width="1.1"/>
<path d="M486.3 226.6 A1.6 4.0 0 1 1 485.0 233.9" fill="none" stroke="#6f8a8c" stroke-width="1.1"/>
<path d="M483.3 65.9 A1.6 5.0 0 1 1 480.8 65.1" fill="none" stroke="#f2f2f2" stroke-width="1.1"/>
<ellipse cx="507.2" cy="100.4" rx="2.6" ry="6.1" fill="none" stroke="#f2f2f2" stroke-width="1.1"/>
<ellipse cx="500.3" cy="72.8" rx="1.2" ry="3.0" fill="none" stroke="#2a2226" stroke-width="1.1"/>
<path d="M487.9 221.2 A3.4 8.7 0 0 1 488.3 204.3" fill="none" stroke="#6f8a8c" stroke-width="1.1"/>
<ellipse cx="496.2" cy="119.2" rx="2.9" ry="8.6" fill="none" stroke="#4d6769" stroke-width="1.1"/>
<ellipse cx="484.9" cy="102.3" rx="3.6" ry="8.8" fill="none" stroke="#6f8a8c" stroke-width="1.1"/>
<path d="M492.7 159.2 A3.1 9.2 0 1 1 488.3 165.8" fill="none" stroke="#5a2448" stroke-width="1.1"/>
<path d="M496.0 188.1 A1.8 3.7 0 0 1 498.2 191.8" fill="none" stroke="#f2f2f2" stroke-width="1.1"/>
<ellipse cx="499.8" cy="136.6" rx="1.9" ry="5.8" fill="none" stroke="#6f8a8c" stroke-width="1.1"/>
<path d="M489.3 207.9 A2.0 6.3 0 1 1 490.1 197.9" fill="none" stroke="#f2f2f2" stroke-width="1.1"/>
<ellipse cx="509.7" cy="168.5" rx="3.3" ry="10.4" fill="none" stroke="#6f8a8c" stroke-width="1.1"/>
<ellipse cx="503.2" cy="186.9" rx="3.6" ry="8.5" fill="none" stroke="#f2f2f2" stroke-width="1.1"/>
<ellipse cx="476.9" cy="72.5" rx="3.3" ry="7.7" fill="none" stroke="#f2f2f2" stroke-width="1.1"/>
<ellipse cx="508.0" cy="178.6" rx="1.2" ry="2.9" fill="none" stroke="#2a2226" stroke-width="1.1"/>
<ellipse cx="502.8" cy="176.8" rx="2.5" ry="6.0" fill="none" stroke="#f2f2f2" stroke-width="1.1"/>
<ellipse cx="476.5" cy="132.4" rx="1.3" ry="3.1" fill="none" stroke="#f2f2f2" stroke-width="1.1"/>
<ellipse cx="491.0" cy="147.8" rx="1.3" ry="3.3" fill="none" stroke="#2a2226" stroke-width="1.1"/>
<ellipse cx="498.9" cy="163.5" rx="3.1" ry="9.2" fill="none" stroke="#6f8a8c" stroke-width="1.1"/>
<path d="M503.9 175.1 A2.8 5.4 0 0 1 508.3 177.4" fill="none" stroke="#4d6769" stroke-width="1.1"/>
<path d="M505.1 198.5 A3.2 9.7 0 1 1 500.5 189.5" fill="none" stroke="#26306a" stroke-width="1.1"/>
<ellipse cx="494.2" cy="116.9" rx="3.5" ry="5.6" fill="none" stroke="#f2f2f2" stroke-width="1.1"/>
<path d="M474.9 170.9 A2.7 5.6 0 0 1 475.2 160.5" fill="none" stroke="#2a2226" stroke-width="1.1"/>
<path d="M483.9 88.2 A3.1 8.5 0 0 1 486.8 101.6" fill="none" stroke="#4d6769" stroke-width="1.1"/>
<path d="M478.7 211.4 A2.7 8.0 0 0 1 477.8 196.6" fill="none" stroke="#26306a" stroke-width="1.1"/>
<path d="M478.5 111.8 A2.3 5.5 0 0 1 483.0 112.5" fill="none" stroke="#6f8a8c" stroke-width="1.1"/>
<path d="M474.9 105.9 A2.8 8.8 0 0 1 480.2 111.6" fill="none" stroke="#6f8a8c" stroke-width="1.1"/>
<path d="M495.4 235.3 A2.4 4.5 0 1 1 492.6 229.2" fill="none" stroke="#6f8a8c" stroke-width="1.1"/>
<path d="M502.0 134.5 A1.7 3.6 0 1 1 499.8 139.6" fill="none" stroke="#f2f2f2" stroke-width="1.1"/>
<ellipse cx="501.7" cy="141.6" rx="1.9" ry="4.4" fill="none" stroke="#b0bebe" stroke-width="1.1"/>
<ellipse cx="490.5" cy="208.4" rx="2.8" ry="6.7" fill="none" stroke="#6f8a8c" stroke-width="1.1"/>
<ellipse cx="503.8" cy="73.3" rx="1.6" ry="3.5" fill="none" stroke="#f2f2f2" stroke-width="1.1"/>
<ellipse cx="508.7" cy="210.2" rx="2.6" ry="7.2" fill="none" stroke="#f2f2f2" stroke-width="1.1"/>
<ellipse cx="480.9" cy="115.5" rx="3.1" ry="8.5" fill="none" stroke="#6f8a8c" stroke-width="1.1"/>
<ellipse cx="495.6" cy="151.8" rx="3.0" ry="7.5" fill="none" stroke="#b0bebe" stroke-width="1.1"/>
<path d="M508.0 228.9 A1.4 3.7 0 0 1 510.2 231.5" fill="none" stroke="#f2f2f2" stroke-width="1.1"/>
<ellipse cx="479.7" cy="109.3" rx="1.8" ry="3.6" fill="none" stroke="#6f8a8c" stroke-width="1.1"/>
<ellipse cx="488.8" cy="70.9" rx="2.8" ry="8.4" fill="none" stroke="#4d6769" stroke-width="1.1"/>
<path d="M477.7 52.9 A2.6 4.3 0 1 1 478.6 61.0" fill="none" stroke="#6f8a8c" stroke-width="1.1"/>
<ellipse cx="502.0" cy="163.5" rx="3.5" ry="9.0" fill="none" stroke="#f2f2f2" stroke-width="1.1"/>
<ellipse cx="490.6" cy="213.0" rx="2.2" ry="5.8" fill="none" stroke="#b0bebe" stroke-width="1.1"/>
<ellipse cx="504.1" cy="211.4" rx="1.9" ry="3.6" fill="none" stroke="#2a2226" stroke-width="1.1"/>
<path d="M504.6 237.3 A2.2 6.4 0 1 1 508.0 234.3" fill="none" stroke="#f2f2f2" stroke-width="1.1"/>
<ellipse cx="486.4" cy="59.0" rx="1.8" ry="4.9" fill="none" stroke="#f2f2f2" stroke-width="1.1"/>
<ellipse cx="504.2" cy="140.6" rx="3.1" ry="6.9" fill="none" stroke="#2a2226" stroke-width="1.1"/>
<ellipse cx="479.4" cy="190.2" rx="1.6" ry="4.7" fill="none" stroke="#6e4a36" stroke-width="1.1"/>
<path d="M481.5 153.5 A1.9 4.6 0 0 1 485.2 151.1" fill="none" stroke="#6e4a36" stroke-width="1.1"/>
<path d="M473.4 214.3 A2.8 5.8 0 0 1 473.1 206.4" fill="none" stroke="#5a2448" stroke-width="1.1"/>
<ellipse cx="506.9" cy="176.3" rx="3.1" ry="5.9" fill="none" stroke="#b0bebe" stroke-width="1.1"/>
<ellipse cx="510.0" cy="234.7" rx="2.5" ry="4.7" fill="none" stroke="#26306a" stroke-width="1.1"/>
<path d="M504.3 175.7 A2.3 4.8 0 1 1 508.2 178.1" fill="none" stroke="#4d6769" stroke-width="1.1"/>
<ellipse cx="478.6" cy="135.5" rx="3.6" ry="8.0" fill="none" stroke="#b0bebe" stroke-width="1.1"/>
<ellipse cx="487.8" cy="69.4" rx="3.0" ry="8.6" fill="none" stroke="#5a2448" stroke-width="1.1"/>
<path d="M474.0 136.4 A3.1 6.7 0 1 1 477.5 146.6" fill="none" stroke="#2a2226" stroke-width="1.1"/>
<ellipse cx="474.7" cy="107.4" rx="1.4" ry="3.3" fill="none" stroke="#2a2226" stroke-width="1.1"/>
<ellipse cx="474.1" cy="80.4" rx="3.0" ry="8.0" fill="none" stroke="#9a6a48" stroke-width="1.1"/>
<path d="M501.0 143.0 A1.7 3.1 0 0 1 503.6 143.4" fill="none" stroke="#6f8a8c" stroke-width="1.1"/>
<path d="M483.2 192.6 A3.0 8.7 0 0 1 483.1 208.2" fill="none" stroke="#6e4a36" stroke-width="1.1"/>
<ellipse cx="480.3" cy="127.0" rx="2.2" ry="4.5" fill="none" stroke="#6f8a8c" stroke-width="1.1"/>
<ellipse cx="508.2" cy="232.3" rx="2.7" ry="5.4" fill="none" stroke="#f2f2f2" stroke-width="1.1"/>
<path d="M486.6 156.6 A1.6 5.0 0 0 1 488.6 150.5" fill="none" stroke="#f2f2f2" stroke-width="1.1"/>
<path d="M486.0 114.1 A2.2 6.1 0 0 1 485.4 103.3" fill="none" stroke="#4d6769" stroke-width="1.1"/>
<path d="M492.3 236.1 A1.4 4.0 0 0 1 495.1 237.8" fill="none" stroke="#b0bebe" stroke-width="1.1"/>
<line x1="492.0" y1="55.0" x2="493.0" y2="240.0" stroke="#3e5456" stroke-width="1" opacity="0.7"/>
<rect x="476" y="54" width="32" height="187" fill="url(#lighten)"/>
<ellipse cx="486.2" cy="70.5" rx="4.0" ry="7.4" fill="#eceef0" stroke="#2a2440" stroke-width="1.1"/>
<ellipse cx="486.2" cy="70.5" rx="2.3" ry="4.5" fill="none" stroke="#a0407a" stroke-width="1.4"/>
<ellipse cx="486.2" cy="70.5" rx="0.9" ry="1.9" fill="#5a1a4a"/>
<ellipse cx="497.3" cy="85.1" rx="3.9" ry="7.2" fill="#eceef0" stroke="#2a2440" stroke-width="1.1"/>
<ellipse cx="497.3" cy="85.1" rx="2.3" ry="4.4" fill="none" stroke="#a0407a" stroke-width="1.4"/>
<ellipse cx="497.3" cy="85.1" rx="0.9" ry="1.8" fill="#5a1a4a"/>
<ellipse cx="485.4" cy="100.5" rx="4.4" ry="7.1" fill="#1c2a9a"/>
<ellipse cx="485.4" cy="100.5" rx="2.8" ry="4.9" fill="#eceef0" stroke="#3a2a50" stroke-width="0.9"/>
<ellipse cx="485.4" cy="100.5" rx="1.6" ry="3.0" fill="none" stroke="#a0407a" stroke-width="1.3"/>
<ellipse cx="485.4" cy="100.5" rx="0.7" ry="1.2" fill="#5a1a4a"/>
<ellipse cx="496.7" cy="115.2" rx="4.6" ry="7.6" fill="#1c2a9a"/>
<ellipse cx="496.7" cy="115.2" rx="2.9" ry="5.2" fill="#eceef0" stroke="#3a2a50" stroke-width="0.9"/>
<ellipse cx="496.7" cy="115.2" rx="1.7" ry="3.2" fill="none" stroke="#a0407a" stroke-width="1.3"/>
<ellipse cx="496.7" cy="115.2" rx="0.7" ry="1.3" fill="#5a1a4a"/>
<ellipse cx="486.8" cy="132.6" rx="4.6" ry="7.6" fill="#1c2a9a"/>
<ellipse cx="486.8" cy="132.6" rx="2.9" ry="5.2" fill="#eceef0" stroke="#3a2a50" stroke-width="0.9"/>
<ellipse cx="486.8" cy="132.6" rx="1.7" ry="3.2" fill="none" stroke="#a0407a" stroke-width="1.3"/>
<ellipse cx="486.8" cy="132.6" rx="0.7" ry="1.3" fill="#5a1a4a"/>
<ellipse cx="497.7" cy="147.3" rx="4.1" ry="6.6" fill="#1c2a9a"/>
<ellipse cx="497.7" cy="147.3" rx="2.6" ry="4.6" fill="#eceef0" stroke="#3a2a50" stroke-width="0.9"/>
<ellipse cx="497.7" cy="147.3" rx="1.5" ry="2.8" fill="none" stroke="#a0407a" stroke-width="1.3"/>
<ellipse cx="497.7" cy="147.3" rx="0.6" ry="1.2" fill="#5a1a4a"/>
<polyline points="477.0,75.0 480.0,72.0 483.0,71.0 486.0,68.0 490.0,67.0 494.0,64.0 498.0,60.0 503.0,56.0 506.0,55.0 507.0,150.0 507.0,200.0 505.0,228.0 502.0,237.0 498.0,236.0 495.0,240.0 492.0,236.0 488.0,238.0 486.0,232.0 482.0,228.0 478.0,226.0 477.0,222.0" fill="none" stroke="#9a6a48" stroke-width="1.1" opacity="0.8"/>
</g>
<g clip-path="url(#cs2)">
<polygon points="505.0,56.0 508.0,50.0 511.0,44.0 513.0,39.0 515.0,42.0 517.0,47.0 520.0,50.0 524.0,49.0 528.0,47.0 531.0,52.0 529.0,100.0 525.0,140.0 518.0,150.0 512.0,160.0 507.0,170.0 506.0,228.0" fill="#b2bfc0"/>
<ellipse cx="515.5" cy="145.8" rx="2.5" ry="6.5" fill="none" stroke="#f2f2f2" stroke-width="1.1"/>
<ellipse cx="523.5" cy="191.9" rx="2.6" ry="6.0" fill="none" stroke="#f2f2f2" stroke-width="1.1"/>
<ellipse cx="520.3" cy="158.3" rx="1.3" ry="4.0" fill="none" stroke="#5a2448" stroke-width="1.1"/>
<ellipse cx="507.3" cy="148.9" rx="2.7" ry="4.9" fill="none" stroke="#b0bebe" stroke-width="1.1"/>
<path d="M525.1 180.5 A2.8 8.8 0 0 1 524.9 167.8" fill="none" stroke="#f2f2f2" stroke-width="1.1"/>
<ellipse cx="531.1" cy="169.2" rx="1.7" ry="3.3" fill="none" stroke="#6f8a8c" stroke-width="1.1"/>
<ellipse cx="517.4" cy="40.3" rx="2.8" ry="5.7" fill="none" stroke="#4d6769" stroke-width="1.1"/>
<path d="M528.3 199.3 A3.3 8.4 0 1 1 530.1 212.6" fill="none" stroke="#6f8a8c" stroke-width="1.1"/>
<ellipse cx="512.5" cy="52.7" rx="3.5" ry="9.6" fill="none" stroke="#f2f2f2" stroke-width="1.1"/>
<ellipse cx="511.5" cy="99.5" rx="1.5" ry="3.4" fill="none" stroke="#6e4a36" stroke-width="1.1"/>
<path d="M532.0 126.1 A1.7 5.4 0 1 1 533.3 136.0" fill="none" stroke="#6f8a8c" stroke-width="1.1"/>
<ellipse cx="533.4" cy="168.0" rx="3.1" ry="9.5" fill="none" stroke="#2a2226" stroke-width="1.1"/>
<path d="M519.0 155.2 A3.0 5.0 0 0 1 520.5 163.4" fill="none" stroke="#6e4a36" stroke-width="1.1"/>
<ellipse cx="528.8" cy="81.0" rx="2.3" ry="5.7" fill="none" stroke="#4d6769" stroke-width="1.1"/>
<ellipse cx="527.7" cy="226.4" rx="2.2" ry="6.7" fill="none" stroke="#9a6a48" stroke-width="1.1"/>
<ellipse cx="507.7" cy="124.5" rx="3.0" ry="7.9" fill="none" stroke="#6f8a8c" stroke-width="1.1"/>
<path d="M527.5 197.8 A1.3 2.3 0 1 1 525.3 199.5" fill="none" stroke="#4d6769" stroke-width="1.1"/>
<ellipse cx="527.1" cy="145.1" rx="2.0" ry="4.6" fill="none" stroke="#6f8a8c" stroke-width="1.1"/>
<path d="M510.4 179.2 A2.0 3.7 0 0 1 509.2 184.1" fill="none" stroke="#4d6769" stroke-width="1.1"/>
<path d="M511.7 116.2 A2.4 3.9 0 0 1 515.7 119.0" fill="none" stroke="#f2f2f2" stroke-width="1.1"/>
<path d="M512.2 91.6 A2.0 5.9 0 0 1 509.7 98.7" fill="none" stroke="#6f8a8c" stroke-width="1.1"/>
<ellipse cx="532.1" cy="166.8" rx="3.3" ry="7.6" fill="none" stroke="#b0bebe" stroke-width="1.1"/>
<ellipse cx="516.1" cy="125.8" rx="1.4" ry="3.8" fill="none" stroke="#4d6769" stroke-width="1.1"/>
<ellipse cx="509.6" cy="200.3" rx="2.8" ry="7.8" fill="none" stroke="#f2f2f2" stroke-width="1.1"/>
<path d="M510.0 124.3 A3.2 7.3 0 0 1 511.7 134.0" fill="none" stroke="#6f8a8c" stroke-width="1.1"/>
<ellipse cx="532.4" cy="45.2" rx="2.6" ry="5.2" fill="none" stroke="#6f8a8c" stroke-width="1.1"/>
<ellipse cx="528.9" cy="70.2" rx="2.1" ry="3.9" fill="none" stroke="#f2f2f2" stroke-width="1.1"/>
<path d="M529.6 68.9 A1.9 4.7 0 0 1 530.9 77.2" fill="none" stroke="#2a2226" stroke-width="1.1"/>
<path d="M511.9 150.2 A1.4 3.3 0 1 1 512.0 143.9" fill="none" stroke="#6f8a8c" stroke-width="1.1"/>
<ellipse cx="523.0" cy="204.8" rx="2.5" ry="7.4" fill="none" stroke="#4d6769" stroke-width="1.1"/>
<path d="M520.9 175.6 A2.3 6.0 0 0 1 525.0 181.4" fill="none" stroke="#5a2448" stroke-width="1.1"/>
<ellipse cx="531.7" cy="162.7" rx="3.3" ry="8.9" fill="none" stroke="#f2f2f2" stroke-width="1.1"/>
<ellipse cx="502.7" cy="161.9" rx="1.8" ry="3.4" fill="none" stroke="#5a2448" stroke-width="1.1"/>
<path d="M520.9 163.6 A3.6 10.9 0 0 1 524.6 146.7" fill="none" stroke="#4d6769" stroke-width="1.1"/>
<path d="M530.0 80.4 A2.2 6.5 0 0 1 527.8 70.3" fill="none" stroke="#b0bebe" stroke-width="1.1"/>
<ellipse cx="519.2" cy="222.6" rx="3.3" ry="10.4" fill="none" stroke="#4d6769" stroke-width="1.1"/>
<ellipse cx="530.8" cy="65.9" rx="2.3" ry="6.8" fill="none" stroke="#9a6a48" stroke-width="1.1"/>
<ellipse cx="506.5" cy="86.8" rx="2.5" ry="7.5" fill="none" stroke="#26306a" stroke-width="1.1"/>
<path d="M514.4 193.1 A3.3 7.2 0 0 1 520.7 188.1" fill="none" stroke="#4d6769" stroke-width="1.1"/>
<ellipse cx="531.8" cy="124.9" rx="3.2" ry="5.7" fill="none" stroke="#4d6769" stroke-width="1.1"/>
<path d="M530.2 128.3 A2.0 5.1 0 0 1 526.5 124.8" fill="none" stroke="#5a2448" stroke-width="1.1"/>
<path d="M514.6 168.4 A1.8 5.3 0 1 1 515.9 158.6" fill="none" stroke="#f2f2f2" stroke-width="1.1"/>
<ellipse cx="509.9" cy="116.4" rx="3.2" ry="6.6" fill="none" stroke="#b0bebe" stroke-width="1.1"/>
<ellipse cx="519.0" cy="208.6" rx="3.0" ry="6.2" fill="none" stroke="#f2f2f2" stroke-width="1.1"/>
<ellipse cx="523.3" cy="185.0" rx="1.3" ry="2.8" fill="none" stroke="#4d6769" stroke-width="1.1"/>
<ellipse cx="517.2" cy="90.4" rx="3.0" ry="6.8" fill="none" stroke="#6e4a36" stroke-width="1.1"/>
<path d="M511.5 102.2 A1.6 3.5 0 0 1 514.1 104.8" fill="none" stroke="#6f8a8c" stroke-width="1.1"/>
<path d="M507.3 131.6 A3.6 7.0 0 1 1 512.1 122.2" fill="none" stroke="#6f8a8c" stroke-width="1.1"/>
<ellipse cx="509.0" cy="133.8" rx="1.6" ry="4.8" fill="none" stroke="#b0bebe" stroke-width="1.1"/>
<ellipse cx="518.0" cy="90.0" rx="1.6" ry="3.6" fill="none" stroke="#4d6769" stroke-width="1.1"/>
<ellipse cx="508.1" cy="111.7" rx="2.8" ry="7.8" fill="none" stroke="#6f8a8c" stroke-width="1.1"/>
<path d="M514.9 142.1 A2.6 7.3 0 0 1 519.5 139.0" fill="none" stroke="#6f8a8c" stroke-width="1.1"/>
<ellipse cx="514.7" cy="117.8" rx="3.4" ry="6.0" fill="none" stroke="#6f8a8c" stroke-width="1.1"/>
<path d="M518.0 182.7 A2.3 4.6 0 1 1 513.8 180.5" fill="none" stroke="#4d6769" stroke-width="1.1"/>
<ellipse cx="510.9" cy="55.9" rx="2.1" ry="6.2" fill="none" stroke="#6f8a8c" stroke-width="1.1"/>
<ellipse cx="529.9" cy="185.5" rx="2.3" ry="5.7" fill="none" stroke="#4d6769" stroke-width="1.1"/>
<path d="M512.3 172.0 A1.8 4.5 0 1 1 513.7 178.4" fill="none" stroke="#f2f2f2" stroke-width="1.1"/>
<path d="M503.4 140.9 A1.7 4.1 0 1 1 500.5 144.5" fill="none" stroke="#4d6769" stroke-width="1.1"/>
<ellipse cx="520.7" cy="225.7" rx="3.2" ry="6.5" fill="none" stroke="#4d6769" stroke-width="1.1"/>
<ellipse cx="503.7" cy="144.6" rx="1.5" ry="3.3" fill="none" stroke="#6f8a8c" stroke-width="1.1"/>
<ellipse cx="506.5" cy="55.6" rx="3.0" ry="6.9" fill="none" stroke="#6f8a8c" stroke-width="1.1"/>
<ellipse cx="522.4" cy="118.1" rx="2.8" ry="6.6" fill="none" stroke="#6f8a8c" stroke-width="1.1"/>
<path d="M501.7 208.9 A2.3 5.2 0 1 1 505.2 215.5" fill="none" stroke="#5a2448" stroke-width="1.1"/>
<path d="M506.0 195.1 A3.3 6.9 0 1 1 510.3 186.1" fill="none" stroke="#b0bebe" stroke-width="1.1"/>
<path d="M520.6 71.3 A1.3 3.9 0 1 1 518.5 68.1" fill="none" stroke="#6f8a8c" stroke-width="1.1"/>
<path d="M516.9 110.0 A1.8 5.5 0 1 1 516.0 100.0" fill="none" stroke="#f2f2f2" stroke-width="1.1"/>
<ellipse cx="524.9" cy="194.9" rx="2.9" ry="8.6" fill="none" stroke="#6e4a36" stroke-width="1.1"/>
<ellipse cx="514.5" cy="209.3" rx="3.0" ry="6.8" fill="none" stroke="#4d6769" stroke-width="1.1"/>
<ellipse cx="503.9" cy="87.5" rx="3.0" ry="9.3" fill="none" stroke="#6f8a8c" stroke-width="1.1"/>
<path d="M532.0 45.8 A3.3 6.2 0 1 1 529.9 55.2" fill="none" stroke="#26306a" stroke-width="1.1"/>
<ellipse cx="513.8" cy="143.5" rx="2.8" ry="8.2" fill="none" stroke="#5a2448" stroke-width="1.1"/>
<ellipse cx="523.8" cy="145.0" rx="2.0" ry="5.6" fill="none" stroke="#6f8a8c" stroke-width="1.1"/>
<path d="M509.0 161.2 A2.2 3.7 0 1 1 508.6 154.6" fill="none" stroke="#4d6769" stroke-width="1.1"/>
<path d="M514.2 200.6 A3.1 8.6 0 1 1 518.4 211.2" fill="none" stroke="#4d6769" stroke-width="1.1"/>
<ellipse cx="509.0" cy="45.1" rx="1.7" ry="3.6" fill="none" stroke="#6f8a8c" stroke-width="1.1"/>
<path d="M516.3 46.4 A2.4 6.4 0 0 1 516.2 59.3" fill="none" stroke="#5a2448" stroke-width="1.1"/>
<path d="M512.6 105.9 A1.3 3.7 0 0 1 511.2 101.6" fill="none" stroke="#6f8a8c" stroke-width="1.1"/>
<ellipse cx="533.2" cy="95.3" rx="1.4" ry="3.2" fill="none" stroke="#2a2226" stroke-width="1.1"/>
<path d="M507.6 127.4 A1.8 5.6 0 0 1 506.2 117.3" fill="none" stroke="#f2f2f2" stroke-width="1.1"/>
<ellipse cx="521.1" cy="227.2" rx="3.0" ry="6.4" fill="none" stroke="#b0bebe" stroke-width="1.1"/>
<ellipse cx="516.4" cy="149.6" rx="1.6" ry="4.8" fill="none" stroke="#b0bebe" stroke-width="1.1"/>
<ellipse cx="509.5" cy="134.0" rx="3.3" ry="7.0" fill="none" stroke="#9a6a48" stroke-width="1.1"/>
<ellipse cx="506.6" cy="185.3" rx="2.4" ry="6.2" fill="none" stroke="#4d6769" stroke-width="1.1"/>
<ellipse cx="509.3" cy="206.8" rx="3.4" ry="8.5" fill="none" stroke="#6f8a8c" stroke-width="1.1"/>
<ellipse cx="516.4" cy="203.2" rx="2.7" ry="4.9" fill="none" stroke="#9a6a48" stroke-width="1.1"/>
<path d="M512.5 79.0 A2.0 6.0 0 1 1 512.1 90.7" fill="none" stroke="#6f8a8c" stroke-width="1.1"/>
<path d="M513.9 210.6 A2.8 8.4 0 0 1 513.0 199.2" fill="none" stroke="#f2f2f2" stroke-width="1.1"/>
<path d="M508.9 66.7 A1.5 2.6 0 0 1 508.3 62.3" fill="none" stroke="#6f8a8c" stroke-width="1.1"/>
<ellipse cx="527.3" cy="212.4" rx="2.8" ry="5.4" fill="none" stroke="#6f8a8c" stroke-width="1.1"/>
<path d="M510.4 70.4 A1.9 4.8 0 0 1 506.8 71.4" fill="none" stroke="#9a6a48" stroke-width="1.1"/>
<ellipse cx="502.3" cy="47.5" rx="3.2" ry="6.6" fill="none" stroke="#b0bebe" stroke-width="1.1"/>
<path d="M530.4 194.7 A1.2 2.9 0 1 1 530.7 189.6" fill="none" stroke="#6f8a8c" stroke-width="1.1"/>
<path d="M508.2 115.0 A2.8 6.5 0 1 1 508.8 127.8" fill="none" stroke="#f2f2f2" stroke-width="1.1"/>
<path d="M523.2 123.4 A3.1 8.7 0 0 1 517.3 118.1" fill="none" stroke="#6f8a8c" stroke-width="1.1"/>
<path d="M509.2 37.1 A2.8 6.5 0 0 1 512.5 47.6" fill="none" stroke="#b0bebe" stroke-width="1.1"/>
<path d="M525.0 172.4 A1.5 2.7 0 0 1 524.6 177.1" fill="none" stroke="#6f8a8c" stroke-width="1.1"/>
<path d="M507.7 46.2 A2.0 6.2 0 1 1 511.1 47.1" fill="none" stroke="#6f8a8c" stroke-width="1.1"/>
<path d="M530.6 57.6 A2.2 6.4 0 1 1 528.8 68.5" fill="none" stroke="#5a2448" stroke-width="1.1"/>
<ellipse cx="512.2" cy="41.1" rx="2.2" ry="5.3" fill="none" stroke="#f2f2f2" stroke-width="1.1"/>
<ellipse cx="518.4" cy="218.5" rx="3.3" ry="5.5" fill="none" stroke="#f2f2f2" stroke-width="1.1"/>
<ellipse cx="518.6" cy="198.7" rx="1.9" ry="3.8" fill="none" stroke="#f2f2f2" stroke-width="1.1"/>
<path d="M503.4 195.4 A1.3 4.1 0 1 1 506.0 196.1" fill="none" stroke="#4d6769" stroke-width="1.1"/>
<path d="M516.1 67.5 A2.6 4.3 0 1 1 517.1 60.2" fill="none" stroke="#9a6a48" stroke-width="1.1"/>
<ellipse cx="507.3" cy="96.9" rx="1.7" ry="4.5" fill="none" stroke="#2a2226" stroke-width="1.1"/>
<path d="M503.0 62.1 A1.6 4.0 0 1 1 503.1 54.4" fill="none" stroke="#6f8a8c" stroke-width="1.1"/>
<path d="M515.5 204.4 A3.6 10.7 0 0 1 520.0 197.0" fill="none" stroke="#f2f2f2" stroke-width="1.1"/>
<ellipse cx="507.9" cy="218.5" rx="3.0" ry="6.1" fill="none" stroke="#5a2448" stroke-width="1.1"/>
<path d="M505.5 36.0 A1.5 3.4 0 1 1 504.7 41.6" fill="none" stroke="#26306a" stroke-width="1.1"/>
<ellipse cx="514.9" cy="160.2" rx="1.8" ry="5.5" fill="none" stroke="#f2f2f2" stroke-width="1.1"/>
<path d="M516.5 160.8 A1.9 3.1 0 1 1 513.3 157.9" fill="none" stroke="#5a2448" stroke-width="1.1"/>
<path d="M509.0 48.9 A2.3 3.7 0 0 1 513.4 50.3" fill="none" stroke="#b0bebe" stroke-width="1.1"/>
<path d="M520.4 122.5 A2.6 5.4 0 0 1 517.1 114.2" fill="none" stroke="#26306a" stroke-width="1.1"/>
<path d="M516.5 150.4 A2.8 8.1 0 1 1 519.1 162.0" fill="none" stroke="#9a6a48" stroke-width="1.1"/>
<path d="M511.8 179.9 A2.9 8.9 0 0 1 510.6 166.6" fill="none" stroke="#b0bebe" stroke-width="1.1"/>
<path d="M510.7 113.9 A3.4 5.9 0 1 1 508.1 103.5" fill="none" stroke="#f2f2f2" stroke-width="1.1"/>
<path d="M521.4 213.4 A3.3 7.0 0 1 1 515.3 218.8" fill="none" stroke="#f2f2f2" stroke-width="1.1"/>
<ellipse cx="521.2" cy="153.2" rx="3.0" ry="5.6" fill="none" stroke="#b0bebe" stroke-width="1.1"/>
<path d="M526.3 163.0 A2.6 6.6 0 1 1 521.4 167.5" fill="none" stroke="#6f8a8c" stroke-width="1.1"/>
<path d="M527.9 153.3 A2.0 5.6 0 1 1 524.2 152.9" fill="none" stroke="#6f8a8c" stroke-width="1.1"/>
<ellipse cx="523.8" cy="207.4" rx="2.0" ry="4.9" fill="none" stroke="#4d6769" stroke-width="1.1"/>
<path d="M515.2 150.1 A2.2 5.1 0 1 1 519.6 151.2" fill="none" stroke="#6f8a8c" stroke-width="1.1"/>
<ellipse cx="502.7" cy="191.2" rx="1.4" ry="3.1" fill="none" stroke="#6f8a8c" stroke-width="1.1"/>
<path d="M518.7 133.5 A3.0 7.3 0 0 1 519.6 119.2" fill="none" stroke="#b0bebe" stroke-width="1.1"/>
<ellipse cx="530.0" cy="141.4" rx="2.4" ry="4.4" fill="none" stroke="#f2f2f2" stroke-width="1.1"/>
<ellipse cx="521.5" cy="100.0" rx="3.1" ry="6.4" fill="none" stroke="#b0bebe" stroke-width="1.1"/>
<ellipse cx="533.7" cy="110.7" rx="1.6" ry="3.8" fill="none" stroke="#2a2226" stroke-width="1.1"/>
<ellipse cx="524.2" cy="212.4" rx="1.2" ry="2.5" fill="none" stroke="#6f8a8c" stroke-width="1.1"/>
<path d="M526.1 131.2 A2.9 6.5 0 1 1 531.1 132.9" fill="none" stroke="#6f8a8c" stroke-width="1.1"/>
<path d="M521.4 127.8 A3.3 8.3 0 1 1 525.9 115.8" fill="none" stroke="#6e4a36" stroke-width="1.1"/>
<ellipse cx="519.4" cy="124.8" rx="2.2" ry="3.6" fill="none" stroke="#6e4a36" stroke-width="1.1"/>
<path d="M529.5 55.3 A2.2 6.2 0 1 1 526.6 61.2" fill="none" stroke="#f2f2f2" stroke-width="1.1"/>
<ellipse cx="518.7" cy="168.2" rx="1.5" ry="3.6" fill="none" stroke="#6f8a8c" stroke-width="1.1"/>
<path d="M514.3 199.3 A2.5 6.9 0 1 1 511.4 191.0" fill="none" stroke="#9a6a48" stroke-width="1.1"/>
<ellipse cx="523.9" cy="49.6" rx="3.5" ry="7.6" fill="none" stroke="#4d6769" stroke-width="1.1"/>
<ellipse cx="511.0" cy="151.2" rx="3.6" ry="11.1" fill="none" stroke="#4d6769" stroke-width="1.1"/>
<ellipse cx="524.2" cy="65.8" rx="1.8" ry="5.4" fill="none" stroke="#6f8a8c" stroke-width="1.1"/>
<ellipse cx="525.7" cy="95.3" rx="2.0" ry="3.9" fill="none" stroke="#4d6769" stroke-width="1.1"/>
<path d="M522.1 112.4 A2.4 4.3 0 1 1 520.1 104.9" fill="none" stroke="#2a2226" stroke-width="1.1"/>
<ellipse cx="529.7" cy="138.4" rx="1.6" ry="4.1" fill="none" stroke="#f2f2f2" stroke-width="1.1"/>
<ellipse cx="507.2" cy="89.6" rx="2.7" ry="6.8" fill="none" stroke="#2a2226" stroke-width="1.1"/>
<ellipse cx="515.6" cy="97.4" rx="1.3" ry="3.1" fill="none" stroke="#26306a" stroke-width="1.1"/>
<ellipse cx="525.1" cy="46.0" rx="1.7" ry="3.8" fill="none" stroke="#5a2448" stroke-width="1.1"/>
<ellipse cx="528.8" cy="152.6" rx="1.3" ry="3.6" fill="none" stroke="#26306a" stroke-width="1.1"/>
<ellipse cx="533.7" cy="96.3" rx="3.3" ry="9.3" fill="none" stroke="#6e4a36" stroke-width="1.1"/>
<ellipse cx="522.8" cy="74.2" rx="2.7" ry="6.9" fill="none" stroke="#6f8a8c" stroke-width="1.1"/>
<ellipse cx="531.8" cy="213.7" rx="2.3" ry="6.5" fill="none" stroke="#9a6a48" stroke-width="1.1"/>
<path d="M511.2 165.0 A2.6 6.8 0 0 1 514.8 173.8" fill="none" stroke="#b0bebe" stroke-width="1.1"/>
<ellipse cx="516.2" cy="168.0" rx="2.7" ry="4.5" fill="none" stroke="#6e4a36" stroke-width="1.1"/>
<ellipse cx="522.8" cy="126.0" rx="3.6" ry="6.3" fill="none" stroke="#6f8a8c" stroke-width="1.1"/>
<ellipse cx="530.0" cy="77.1" rx="2.9" ry="6.9" fill="none" stroke="#f2f2f2" stroke-width="1.1"/>
<ellipse cx="519.4" cy="71.6" rx="3.5" ry="10.9" fill="none" stroke="#6f8a8c" stroke-width="1.1"/>
<path d="M511.7 100.4 A1.8 4.5 0 1 1 511.9 91.4" fill="none" stroke="#6f8a8c" stroke-width="1.1"/>
<ellipse cx="531.0" cy="106.4" rx="1.6" ry="4.5" fill="none" stroke="#6f8a8c" stroke-width="1.1"/>
<ellipse cx="504.8" cy="67.2" rx="1.4" ry="3.3" fill="none" stroke="#5a2448" stroke-width="1.1"/>
<ellipse cx="529.9" cy="161.5" rx="2.9" ry="6.0" fill="none" stroke="#b0bebe" stroke-width="1.1"/>
<path d="M514.4 179.9 A3.3 6.6 0 1 1 520.3 185.0" fill="none" stroke="#6e4a36" stroke-width="1.1"/>
<path d="M525.7 216.4 A2.3 6.5 0 0 1 526.9 226.1" fill="none" stroke="#f2f2f2" stroke-width="1.1"/>
<path d="M520.5 185.8 A2.3 6.5 0 1 1 519.2 175.5" fill="none" stroke="#f2f2f2" stroke-width="1.1"/>
<path d="M514.6 193.5 A2.1 4.6 0 0 1 510.9 195.1" fill="none" stroke="#6f8a8c" stroke-width="1.1"/>
<path d="M516.6 183.6 A3.2 8.5 0 1 1 511.3 185.4" fill="none" stroke="#b0bebe" stroke-width="1.1"/>
<ellipse cx="522.5" cy="61.9" rx="2.9" ry="7.4" fill="none" stroke="#f2f2f2" stroke-width="1.1"/>
<path d="M528.6 111.1 A2.0 5.8 0 0 1 527.3 103.5" fill="none" stroke="#6f8a8c" stroke-width="1.1"/>
<path d="M526.4 189.8 A2.3 6.5 0 1 1 530.3 187.3" fill="none" stroke="#6e4a36" stroke-width="1.1"/>
<path d="M506.7 165.6 A1.4 4.5 0 0 1 508.0 159.6" fill="none" stroke="#6f8a8c" stroke-width="1.1"/>
<ellipse cx="513.4" cy="50.2" rx="1.4" ry="4.0" fill="none" stroke="#b0bebe" stroke-width="1.1"/>
<ellipse cx="502.9" cy="62.3" rx="3.4" ry="9.4" fill="none" stroke="#4d6769" stroke-width="1.1"/>
<path d="M511.6 165.4 A2.4 5.1 0 0 1 512.2 158.3" fill="none" stroke="#6f8a8c" stroke-width="1.1"/>
<ellipse cx="513.0" cy="92.9" rx="2.8" ry="5.2" fill="none" stroke="#b0bebe" stroke-width="1.1"/>
<path d="M506.3 184.6 A2.8 5.4 0 0 1 506.5 177.1" fill="none" stroke="#6f8a8c" stroke-width="1.1"/>
<path d="M514.8 37.5 A2.4 6.0 0 1 1 512.7 48.2" fill="none" stroke="#9a6a48" stroke-width="1.1"/>
<ellipse cx="519.4" cy="187.1" rx="3.5" ry="8.4" fill="none" stroke="#4d6769" stroke-width="1.1"/>
<ellipse cx="519.5" cy="129.8" rx="1.7" ry="4.3" fill="none" stroke="#26306a" stroke-width="1.1"/>
<path d="M514.4 222.9 A1.6 4.7 0 0 1 511.7 223.8" fill="none" stroke="#f2f2f2" stroke-width="1.1"/>
<ellipse cx="523.9" cy="181.1" rx="2.7" ry="8.6" fill="none" stroke="#4d6769" stroke-width="1.1"/>
<ellipse cx="515.4" cy="193.5" rx="1.9" ry="5.1" fill="none" stroke="#f2f2f2" stroke-width="1.1"/>
<ellipse cx="516.0" cy="57.2" rx="3.1" ry="9.1" fill="none" stroke="#4d6769" stroke-width="1.1"/>
<ellipse cx="524.7" cy="137.3" rx="3.4" ry="7.8" fill="none" stroke="#f2f2f2" stroke-width="1.1"/>
<path d="M502.3 56.5 A1.3 3.0 0 1 1 504.7 55.7" fill="none" stroke="#f2f2f2" stroke-width="1.1"/>
<path d="M528.4 205.1 A3.0 9.3 0 1 1 523.4 195.0" fill="none" stroke="#f2f2f2" stroke-width="1.1"/>
<ellipse cx="514.1" cy="225.4" rx="2.2" ry="5.6" fill="none" stroke="#6e4a36" stroke-width="1.1"/>
<path d="M532.3 215.8 A1.3 2.7 0 1 1 533.4 212.1" fill="none" stroke="#b0bebe" stroke-width="1.1"/>
<path d="M514.6 212.2 A1.6 2.9 0 1 1 517.4 210.0" fill="none" stroke="#5a2448" stroke-width="1.1"/>
<ellipse cx="505.9" cy="81.7" rx="2.8" ry="5.0" fill="none" stroke="#4d6769" stroke-width="1.1"/>
<path d="M525.5 125.4 A3.4 8.6 0 0 1 529.6 132.5" fill="none" stroke="#6f8a8c" stroke-width="1.1"/>
<ellipse cx="526.8" cy="108.0" rx="1.6" ry="3.9" fill="none" stroke="#6f8a8c" stroke-width="1.1"/>
<ellipse cx="509.7" cy="161.7" rx="1.2" ry="2.0" fill="none" stroke="#6e4a36" stroke-width="1.1"/>
<ellipse cx="525.9" cy="133.6" rx="2.5" ry="4.8" fill="none" stroke="#6f8a8c" stroke-width="1.1"/>
<path d="M524.5 70.3 A2.1 4.9 0 0 1 525.0 63.6" fill="none" stroke="#26306a" stroke-width="1.1"/>
<ellipse cx="507.3" cy="206.3" rx="1.9" ry="6.0" fill="none" stroke="#6f8a8c" stroke-width="1.1"/>
<ellipse cx="529.3" cy="114.4" rx="3.4" ry="8.4" fill="none" stroke="#4d6769" stroke-width="1.1"/>
<path d="M512.7 91.7 A2.7 5.5 0 1 1 517.2 95.1" fill="none" stroke="#6e4a36" stroke-width="1.1"/>
<ellipse cx="525.9" cy="55.5" rx="1.4" ry="4.2" fill="none" stroke="#6e4a36" stroke-width="1.1"/>
<ellipse cx="504.3" cy="101.2" rx="2.9" ry="4.9" fill="none" stroke="#6e4a36" stroke-width="1.1"/>
<path d="M530.4 144.4 A1.8 5.1 0 0 1 528.7 135.6" fill="none" stroke="#f2f2f2" stroke-width="1.1"/>
<path d="M505.1 186.9 A2.2 4.0 0 1 1 502.6 193.2" fill="none" stroke="#f2f2f2" stroke-width="1.1"/>
<path d="M512.1 153.7 A1.6 3.9 0 1 1 515.3 153.9" fill="none" stroke="#b0bebe" stroke-width="1.1"/>
<path d="M505.9 141.2 A1.8 2.9 0 0 1 507.0 136.8" fill="none" stroke="#4d6769" stroke-width="1.1"/>
<ellipse cx="516.2" cy="159.3" rx="3.0" ry="8.2" fill="none" stroke="#6f8a8c" stroke-width="1.1"/>
<ellipse cx="511.5" cy="84.3" rx="3.5" ry="7.1" fill="none" stroke="#2a2226" stroke-width="1.1"/>
<ellipse cx="522.9" cy="131.1" rx="2.9" ry="9.1" fill="none" stroke="#f2f2f2" stroke-width="1.1"/>
<path d="M512.1 198.5 A1.2 2.5 0 1 1 514.2 196.1" fill="none" stroke="#4d6769" stroke-width="1.1"/>
<path d="M506.7 142.5 A1.9 3.5 0 1 1 504.6 136.6" fill="none" stroke="#2a2226" stroke-width="1.1"/>
<path d="M501.5 210.7 A1.7 4.3 0 0 1 503.8 206.3" fill="none" stroke="#b0bebe" stroke-width="1.1"/>
<ellipse cx="515.5" cy="200.4" rx="3.2" ry="7.6" fill="none" stroke="#9a6a48" stroke-width="1.1"/>
<path d="M511.4 179.9 A1.9 5.4 0 0 1 510.8 188.4" fill="none" stroke="#4d6769" stroke-width="1.1"/>
<ellipse cx="526.0" cy="212.5" rx="1.9" ry="3.7" fill="none" stroke="#6f8a8c" stroke-width="1.1"/>
<ellipse cx="530.8" cy="126.1" rx="3.4" ry="7.6" fill="none" stroke="#2a2226" stroke-width="1.1"/>
<path d="M527.3 33.8 A3.6 9.2 0 0 1 528.2 49.2" fill="none" stroke="#6e4a36" stroke-width="1.1"/>
<ellipse cx="526.0" cy="70.1" rx="1.2" ry="3.8" fill="none" stroke="#6f8a8c" stroke-width="1.1"/>
<path d="M510.1 229.5 A3.2 7.9 0 1 1 515.7 222.2" fill="none" stroke="#f2f2f2" stroke-width="1.1"/>
<ellipse cx="515.4" cy="159.1" rx="1.9" ry="4.8" fill="none" stroke="#6f8a8c" stroke-width="1.1"/>
<path d="M504.4 126.4 A2.5 7.0 0 1 1 502.5 114.0" fill="none" stroke="#6e4a36" stroke-width="1.1"/>
<path d="M531.1 158.4 A1.9 4.3 0 0 1 530.0 150.7" fill="none" stroke="#6f8a8c" stroke-width="1.1"/>
<path d="M512.2 181.3 A1.4 3.4 0 1 1 510.5 176.2" fill="none" stroke="#9a6a48" stroke-width="1.1"/>
<path d="M505.5 198.1 A2.9 6.4 0 0 1 507.1 187.1" fill="none" stroke="#b0bebe" stroke-width="1.1"/>
<ellipse cx="513.7" cy="84.1" rx="1.8" ry="4.4" fill="none" stroke="#4d6769" stroke-width="1.1"/>
<ellipse cx="504.8" cy="201.9" rx="1.7" ry="4.0" fill="none" stroke="#b0bebe" stroke-width="1.1"/>
<path d="M515.9 188.3 A3.4 7.5 0 1 1 520.3 199.2" fill="none" stroke="#26306a" stroke-width="1.1"/>
<path d="M507.3 58.5 A2.5 7.1 0 1 1 509.7 48.4" fill="none" stroke="#5a2448" stroke-width="1.1"/>
<ellipse cx="520.6" cy="136.0" rx="2.4" ry="6.8" fill="none" stroke="#f2f2f2" stroke-width="1.1"/>
<path d="M521.6 172.8 A2.3 5.8 0 0 1 523.8 167.1" fill="none" stroke="#6f8a8c" stroke-width="1.1"/>
<ellipse cx="528.3" cy="99.2" rx="1.5" ry="3.9" fill="none" stroke="#f2f2f2" stroke-width="1.1"/>
<ellipse cx="502.5" cy="112.4" rx="2.2" ry="5.8" fill="none" stroke="#4d6769" stroke-width="1.1"/>
<path d="M500.4 107.1 A2.2 4.8 0 0 1 504.6 106.0" fill="none" stroke="#f2f2f2" stroke-width="1.1"/>
<path d="M527.6 107.1 A1.8 4.6 0 0 1 530.6 103.6" fill="none" stroke="#f2f2f2" stroke-width="1.1"/>
<ellipse cx="502.9" cy="193.6" rx="2.5" ry="4.6" fill="none" stroke="#9a6a48" stroke-width="1.1"/>
<ellipse cx="513.4" cy="158.4" rx="2.7" ry="5.4" fill="none" stroke="#f2f2f2" stroke-width="1.1"/>
<ellipse cx="502.7" cy="208.6" rx="2.8" ry="6.6" fill="none" stroke="#6f8a8c" stroke-width="1.1"/>
<path d="M527.0 78.5 A2.9 6.7 0 0 1 522.8 81.2" fill="none" stroke="#9a6a48" stroke-width="1.1"/>
<path d="M531.8 166.3 A1.6 4.1 0 0 1 530.1 159.4" fill="none" stroke="#f2f2f2" stroke-width="1.1"/>
<ellipse cx="523.9" cy="87.7" rx="3.5" ry="10.0" fill="none" stroke="#6f8a8c" stroke-width="1.1"/>
<ellipse cx="514.4" cy="217.0" rx="2.1" ry="5.7" fill="none" stroke="#6f8a8c" stroke-width="1.1"/>
<path d="M525.6 206.8 A1.6 3.8 0 1 1 522.5 209.3" fill="none" stroke="#6f8a8c" stroke-width="1.1"/>
<path d="M514.1 43.3 A3.3 8.4 0 0 1 516.5 55.1" fill="none" stroke="#6f8a8c" stroke-width="1.1"/>
<path d="M532.7 143.3 A1.5 3.0 0 1 1 530.5 141.5" fill="none" stroke="#6f8a8c" stroke-width="1.1"/>
<ellipse cx="533.0" cy="61.2" rx="3.0" ry="9.3" fill="none" stroke="#5a2448" stroke-width="1.1"/>
<ellipse cx="508.5" cy="44.5" rx="1.7" ry="4.6" fill="none" stroke="#2a2226" stroke-width="1.1"/>
<path d="M523.6 77.1 A1.3 3.4 0 1 1 522.4 82.1" fill="none" stroke="#4d6769" stroke-width="1.1"/>
<ellipse cx="514.9" cy="101.7" rx="3.5" ry="11.0" fill="none" stroke="#9a6a48" stroke-width="1.1"/>
<ellipse cx="533.8" cy="85.6" rx="1.3" ry="2.8" fill="none" stroke="#2a2226" stroke-width="1.1"/>
<ellipse cx="526.8" cy="209.7" rx="2.8" ry="8.2" fill="none" stroke="#f2f2f2" stroke-width="1.1"/>
<ellipse cx="521.4" cy="151.1" rx="2.5" ry="6.6" fill="none" stroke="#6f8a8c" stroke-width="1.1"/>
<ellipse cx="515.9" cy="220.7" rx="2.1" ry="5.2" fill="none" stroke="#2a2226" stroke-width="1.1"/>
<path d="M529.2 145.2 A3.5 5.9 0 1 1 525.9 137.6" fill="none" stroke="#f2f2f2" stroke-width="1.1"/>
<ellipse cx="525.5" cy="193.3" rx="1.3" ry="3.4" fill="none" stroke="#6f8a8c" stroke-width="1.1"/>
<path d="M526.3 155.0 A3.3 9.0 0 1 1 525.2 169.5" fill="none" stroke="#f2f2f2" stroke-width="1.1"/>
<ellipse cx="517.0" cy="66.2" rx="2.5" ry="5.6" fill="none" stroke="#6f8a8c" stroke-width="1.1"/>
<ellipse cx="517.2" cy="152.8" rx="3.2" ry="8.3" fill="none" stroke="#6f8a8c" stroke-width="1.1"/>
<ellipse cx="511.0" cy="192.7" rx="2.6" ry="7.6" fill="none" stroke="#6e4a36" stroke-width="1.1"/>
<path d="M531.3 53.2 A1.3 2.4 0 0 1 532.3 57.4" fill="none" stroke="#4d6769" stroke-width="1.1"/>
<path d="M514.1 172.1 A2.8 7.3 0 1 1 512.7 160.4" fill="none" stroke="#f2f2f2" stroke-width="1.1"/>
<ellipse cx="505.0" cy="200.0" rx="2.9" ry="5.8" fill="none" stroke="#b0bebe" stroke-width="1.1"/>
<path d="M511.4 162.3 A2.3 5.8 0 0 1 507.3 157.3" fill="none" stroke="#b0bebe" stroke-width="1.1"/>
<ellipse cx="527.9" cy="109.5" rx="1.4" ry="2.5" fill="none" stroke="#4d6769" stroke-width="1.1"/>
<path d="M527.2 54.0 A3.5 7.5 0 1 1 533.3 58.6" fill="none" stroke="#b0bebe" stroke-width="1.1"/>
<path d="M503.5 114.8 A2.5 8.0 0 0 1 501.9 105.1" fill="none" stroke="#b0bebe" stroke-width="1.1"/>
<path d="M529.1 86.0 A3.1 5.6 0 0 1 529.6 97.1" fill="none" stroke="#f2f2f2" stroke-width="1.1"/>
<path d="M505.7 157.4 A3.6 10.3 0 1 1 505.7 137.9" fill="none" stroke="#b0bebe" stroke-width="1.1"/>
<path d="M530.1 179.5 A1.6 3.1 0 0 1 527.4 176.4" fill="none" stroke="#4d6769" stroke-width="1.1"/>
<path d="M506.8 56.7 A1.7 5.0 0 0 1 505.8 65.4" fill="none" stroke="#b0bebe" stroke-width="1.1"/>
<path d="M518.2 140.6 A3.1 7.2 0 0 1 520.8 127.7" fill="none" stroke="#f2f2f2" stroke-width="1.1"/>
<path d="M519.7 191.6 A3.1 6.8 0 1 1 515.3 181.9" fill="none" stroke="#f2f2f2" stroke-width="1.1"/>
<path d="M509.7 186.7 A2.2 5.8 0 1 1 513.5 181.2" fill="none" stroke="#4d6769" stroke-width="1.1"/>
<path d="M530.4 194.7 A3.0 5.5 0 0 1 524.8 195.8" fill="none" stroke="#6f8a8c" stroke-width="1.1"/>
<ellipse cx="531.8" cy="120.0" rx="1.4" ry="3.5" fill="none" stroke="#b0bebe" stroke-width="1.1"/>
<path d="M522.7 214.2 A1.2 3.7 0 0 1 522.6 208.3" fill="none" stroke="#f2f2f2" stroke-width="1.1"/>
<path d="M525.1 177.3 A2.5 6.7 0 1 1 523.9 190.3" fill="none" stroke="#26306a" stroke-width="1.1"/>
<path d="M525.1 107.0 A3.0 9.2 0 1 1 523.0 124.2" fill="none" stroke="#6f8a8c" stroke-width="1.1"/>
<path d="M506.3 176.5 A2.1 6.7 0 0 1 510.3 173.1" fill="none" stroke="#6e4a36" stroke-width="1.1"/>
<path d="M504.9 156.9 A1.2 2.2 0 0 1 506.7 157.3" fill="none" stroke="#6e4a36" stroke-width="1.1"/>
<path d="M513.5 61.8 A1.5 4.2 0 0 1 512.5 56.5" fill="none" stroke="#f2f2f2" stroke-width="1.1"/>
<path d="M523.4 169.2 A2.5 4.6 0 0 1 526.8 172.0" fill="none" stroke="#6f8a8c" stroke-width="1.1"/>
<path d="M533.1 139.9 A2.0 6.3 0 0 1 533.4 149.2" fill="none" stroke="#4d6769" stroke-width="1.1"/>
<path d="M515.2 43.3 A3.4 10.0 0 1 1 521.8 47.1" fill="none" stroke="#6f8a8c" stroke-width="1.1"/>
<path d="M503.5 102.5 A3.3 8.0 0 1 1 510.0 99.3" fill="none" stroke="#f2f2f2" stroke-width="1.1"/>
<ellipse cx="531.9" cy="193.3" rx="1.8" ry="3.6" fill="none" stroke="#5a2448" stroke-width="1.1"/>
<path d="M519.0 151.3 A2.3 6.8 0 1 1 514.9 145.8" fill="none" stroke="#6f8a8c" stroke-width="1.1"/>
<ellipse cx="508.2" cy="45.8" rx="1.6" ry="3.6" fill="none" stroke="#2a2226" stroke-width="1.1"/>
<ellipse cx="526.6" cy="82.5" rx="1.7" ry="4.5" fill="none" stroke="#b0bebe" stroke-width="1.1"/>
<path d="M513.5 60.4 A2.4 6.8 0 0 1 510.9 50.3" fill="none" stroke="#9a6a48" stroke-width="1.1"/>
<ellipse cx="513.7" cy="44.8" rx="1.2" ry="2.8" fill="none" stroke="#4d6769" stroke-width="1.1"/>
<ellipse cx="515.0" cy="192.4" rx="2.2" ry="3.6" fill="none" stroke="#f2f2f2" stroke-width="1.1"/>
<ellipse cx="519.6" cy="98.2" rx="1.8" ry="3.4" fill="none" stroke="#f2f2f2" stroke-width="1.1"/>
<ellipse cx="528.9" cy="212.3" rx="2.0" ry="6.1" fill="none" stroke="#f2f2f2" stroke-width="1.1"/>
<ellipse cx="513.9" cy="224.7" rx="3.5" ry="6.6" fill="none" stroke="#26306a" stroke-width="1.1"/>
<ellipse cx="526.0" cy="45.4" rx="1.6" ry="3.1" fill="none" stroke="#4d6769" stroke-width="1.1"/>
<ellipse cx="533.7" cy="126.5" rx="3.1" ry="6.9" fill="none" stroke="#6f8a8c" stroke-width="1.1"/>
<ellipse cx="525.8" cy="217.4" rx="1.5" ry="4.2" fill="none" stroke="#f2f2f2" stroke-width="1.1"/>
<ellipse cx="528.2" cy="133.1" rx="1.6" ry="5.0" fill="none" stroke="#f2f2f2" stroke-width="1.1"/>
<path d="M510.1 88.3 A2.0 4.6 0 0 1 508.8 79.6" fill="none" stroke="#4d6769" stroke-width="1.1"/>
<ellipse cx="522.6" cy="96.2" rx="2.9" ry="5.1" fill="none" stroke="#b0bebe" stroke-width="1.1"/>
<ellipse cx="526.8" cy="214.0" rx="1.6" ry="4.8" fill="none" stroke="#6f8a8c" stroke-width="1.1"/>
<ellipse cx="523.2" cy="217.5" rx="2.2" ry="3.7" fill="none" stroke="#b0bebe" stroke-width="1.1"/>
<ellipse cx="531.5" cy="128.3" rx="2.8" ry="6.3" fill="none" stroke="#f2f2f2" stroke-width="1.1"/>
<ellipse cx="515.7" cy="156.6" rx="2.8" ry="8.8" fill="none" stroke="#6f8a8c" stroke-width="1.1"/>
<ellipse cx="526.6" cy="130.2" rx="1.5" ry="3.5" fill="none" stroke="#4d6769" stroke-width="1.1"/>
<path d="M521.3 73.9 A3.2 7.4 0 0 1 527.0 78.1" fill="none" stroke="#2a2226" stroke-width="1.1"/>
<path d="M510.0 200.5 A2.8 8.8 0 0 1 513.8 193.3" fill="none" stroke="#2a2226" stroke-width="1.1"/>
<ellipse cx="516.1" cy="113.4" rx="1.5" ry="3.3" fill="none" stroke="#f2f2f2" stroke-width="1.1"/>
<path d="M516.5 43.8 A3.2 7.6 0 0 1 513.1 56.5" fill="none" stroke="#b0bebe" stroke-width="1.1"/>
<path d="M519.2 219.1 A2.2 5.8 0 0 1 523.3 220.8" fill="none" stroke="#9a6a48" stroke-width="1.1"/>
<ellipse cx="511.9" cy="153.4" rx="3.0" ry="5.7" fill="none" stroke="#6f8a8c" stroke-width="1.1"/>
<ellipse cx="504.7" cy="145.9" rx="1.7" ry="5.3" fill="none" stroke="#5a2448" stroke-width="1.1"/>
<path d="M498.8 79.1 A3.5 7.3 0 0 1 504.7 72.3" fill="none" stroke="#4d6769" stroke-width="1.1"/>
<path d="M535.1 68.8 A2.6 8.3 0 0 1 530.1 70.0" fill="none" stroke="#2a2226" stroke-width="1.1"/>
<ellipse cx="508.3" cy="64.4" rx="3.5" ry="11.1" fill="none" stroke="#f2f2f2" stroke-width="1.1"/>
<ellipse cx="523.9" cy="73.5" rx="2.3" ry="4.2" fill="none" stroke="#b0bebe" stroke-width="1.1"/>
<ellipse cx="531.1" cy="217.9" rx="2.5" ry="4.8" fill="none" stroke="#4d6769" stroke-width="1.1"/>
<ellipse cx="526.0" cy="175.3" rx="1.8" ry="3.6" fill="none" stroke="#f2f2f2" stroke-width="1.1"/>
<ellipse cx="525.4" cy="127.2" rx="1.3" ry="2.3" fill="none" stroke="#b0bebe" stroke-width="1.1"/>
<ellipse cx="518.7" cy="59.6" rx="1.7" ry="5.4" fill="none" stroke="#6f8a8c" stroke-width="1.1"/>
<path d="M523.9 203.6 A2.4 4.2 0 1 1 519.5 206.2" fill="none" stroke="#6f8a8c" stroke-width="1.1"/>
<ellipse cx="516.2" cy="164.3" rx="1.2" ry="3.1" fill="none" stroke="#f2f2f2" stroke-width="1.1"/>
<ellipse cx="513.3" cy="154.7" rx="1.7" ry="5.2" fill="none" stroke="#4d6769" stroke-width="1.1"/>
<path d="M523.6 165.4 A1.2 2.2 0 1 1 522.1 167.7" fill="none" stroke="#9a6a48" stroke-width="1.1"/>
<path d="M524.7 195.2 A1.5 3.8 0 0 1 527.1 199.4" fill="none" stroke="#f2f2f2" stroke-width="1.1"/>
<ellipse cx="504.4" cy="187.7" rx="1.5" ry="3.1" fill="none" stroke="#6f8a8c" stroke-width="1.1"/>
<ellipse cx="520.3" cy="148.0" rx="3.2" ry="10.0" fill="none" stroke="#f2f2f2" stroke-width="1.1"/>
<ellipse cx="519.1" cy="205.0" rx="2.0" ry="4.5" fill="none" stroke="#26306a" stroke-width="1.1"/>
<path d="M528.2 61.7 A3.4 5.6 0 1 1 533.7 59.7" fill="none" stroke="#2a2226" stroke-width="1.1"/>
<ellipse cx="511.9" cy="120.5" rx="1.4" ry="2.7" fill="none" stroke="#4d6769" stroke-width="1.1"/>
<ellipse cx="533.4" cy="165.6" rx="2.0" ry="3.3" fill="none" stroke="#f2f2f2" stroke-width="1.1"/>
<ellipse cx="524.2" cy="68.7" rx="3.4" ry="6.8" fill="none" stroke="#6f8a8c" stroke-width="1.1"/>
<path d="M501.5 210.8 A2.3 3.8 0 1 1 502.4 216.7" fill="none" stroke="#b0bebe" stroke-width="1.1"/>
<ellipse cx="521.6" cy="189.1" rx="1.6" ry="4.5" fill="none" stroke="#6f8a8c" stroke-width="1.1"/>
<path d="M525.1 152.6 A3.3 6.9 0 1 1 531.2 157.3" fill="none" stroke="#2a2226" stroke-width="1.1"/>
<ellipse cx="517.6" cy="173.3" rx="2.9" ry="7.6" fill="none" stroke="#6f8a8c" stroke-width="1.1"/>
<ellipse cx="518.6" cy="132.1" rx="2.8" ry="8.9" fill="none" stroke="#6f8a8c" stroke-width="1.1"/>
<ellipse cx="515.3" cy="226.3" rx="1.5" ry="2.4" fill="none" stroke="#4d6769" stroke-width="1.1"/>
<path d="M523.9 50.8 A2.5 6.0 0 1 1 519.5 47.9" fill="none" stroke="#6f8a8c" stroke-width="1.1"/>
<ellipse cx="503.7" cy="107.9" rx="3.2" ry="8.1" fill="none" stroke="#6e4a36" stroke-width="1.1"/>
<ellipse cx="533.9" cy="124.8" rx="1.8" ry="3.7" fill="none" stroke="#b0bebe" stroke-width="1.1"/>
<ellipse cx="522.5" cy="109.3" rx="1.9" ry="4.7" fill="none" stroke="#6f8a8c" stroke-width="1.1"/>
<ellipse cx="516.5" cy="48.9" rx="2.8" ry="5.5" fill="none" stroke="#6f8a8c" stroke-width="1.1"/>
<path d="M514.6 217.3 A3.5 6.9 0 0 1 509.6 224.2" fill="none" stroke="#f2f2f2" stroke-width="1.1"/>
<ellipse cx="530.4" cy="95.3" rx="2.9" ry="7.1" fill="none" stroke="#f2f2f2" stroke-width="1.1"/>
<ellipse cx="528.0" cy="199.4" rx="3.1" ry="9.9" fill="none" stroke="#b0bebe" stroke-width="1.1"/>
<path d="M502.8 69.3 A2.4 4.0 0 0 1 500.0 63.9" fill="none" stroke="#4d6769" stroke-width="1.1"/>
<ellipse cx="513.9" cy="164.1" rx="3.5" ry="6.2" fill="none" stroke="#f2f2f2" stroke-width="1.1"/>
<ellipse cx="520.7" cy="65.8" rx="2.2" ry="4.3" fill="none" stroke="#6f8a8c" stroke-width="1.1"/>
<path d="M507.1 158.6 A3.0 5.4 0 0 1 505.3 151.7" fill="none" stroke="#6f8a8c" stroke-width="1.1"/>
<path d="M502.5 133.0 A2.8 8.9 0 0 1 504.9 120.9" fill="none" stroke="#6f8a8c" stroke-width="1.1"/>
<ellipse cx="508.5" cy="195.5" rx="3.1" ry="6.6" fill="none" stroke="#2a2226" stroke-width="1.1"/>
<ellipse cx="532.7" cy="48.5" rx="2.1" ry="6.6" fill="none" stroke="#2a2226" stroke-width="1.1"/>
<ellipse cx="525.6" cy="163.7" rx="1.9" ry="3.7" fill="none" stroke="#6f8a8c" stroke-width="1.1"/>
<ellipse cx="514.0" cy="132.7" rx="3.6" ry="8.3" fill="none" stroke="#b0bebe" stroke-width="1.1"/>
<ellipse cx="503.8" cy="131.9" rx="2.9" ry="7.4" fill="none" stroke="#5a2448" stroke-width="1.1"/>
<ellipse cx="526.2" cy="160.8" rx="2.6" ry="4.6" fill="none" stroke="#4d6769" stroke-width="1.1"/>
<ellipse cx="504.8" cy="57.5" rx="3.0" ry="8.5" fill="none" stroke="#f2f2f2" stroke-width="1.1"/>
<path d="M533.1 192.6 A2.8 5.7 0 0 1 535.2 199.5" fill="none" stroke="#b0bebe" stroke-width="1.1"/>
<path d="M514.4 155.9 A3.2 7.8 0 1 1 520.5 159.9" fill="none" stroke="#4d6769" stroke-width="1.1"/>
<ellipse cx="527.9" cy="74.2" rx="2.5" ry="6.7" fill="none" stroke="#f2f2f2" stroke-width="1.1"/>
<path d="M500.0 114.4 A2.7 4.7 0 0 1 502.9 107.6" fill="none" stroke="#f2f2f2" stroke-width="1.1"/>
<ellipse cx="519.5" cy="45.0" rx="1.3" ry="3.5" fill="none" stroke="#6f8a8c" stroke-width="1.1"/>
<ellipse cx="514.8" cy="100.7" rx="2.6" ry="5.7" fill="none" stroke="#f2f2f2" stroke-width="1.1"/>
<path d="M500.0 49.4 A2.8 7.3 0 0 1 503.8 39.6" fill="none" stroke="#26306a" stroke-width="1.1"/>
<path d="M518.0 200.9 A2.8 8.0 0 1 1 513.0 194.5" fill="none" stroke="#4d6769" stroke-width="1.1"/>
<path d="M510.9 82.8 A1.2 3.5 0 0 1 512.6 78.6" fill="none" stroke="#b0bebe" stroke-width="1.1"/>
<path d="M523.0 213.4 A2.6 5.3 0 1 1 520.6 204.0" fill="none" stroke="#4d6769" stroke-width="1.1"/>
<path d="M507.7 165.3 A2.5 6.6 0 0 1 502.9 163.9" fill="none" stroke="#f2f2f2" stroke-width="1.1"/>
<path d="M534.3 190.7 A2.9 5.7 0 1 1 531.4 182.7" fill="none" stroke="#6f8a8c" stroke-width="1.1"/>
<ellipse cx="524.1" cy="88.4" rx="3.6" ry="9.3" fill="none" stroke="#6f8a8c" stroke-width="1.1"/>
<path d="M504.9 91.1 A3.1 6.1 0 1 1 509.6 86.3" fill="none" stroke="#6f8a8c" stroke-width="1.1"/>
<ellipse cx="508.8" cy="119.2" rx="2.5" ry="4.5" fill="none" stroke="#2a2226" stroke-width="1.1"/>
<ellipse cx="514.2" cy="169.3" rx="1.4" ry="2.8" fill="none" stroke="#b0bebe" stroke-width="1.1"/>
<path d="M507.6 74.0 A3.2 9.3 0 0 1 503.0 83.2" fill="none" stroke="#f2f2f2" stroke-width="1.1"/>
<ellipse cx="504.6" cy="215.1" rx="2.0" ry="4.8" fill="none" stroke="#2a2226" stroke-width="1.1"/>
<ellipse cx="522.0" cy="130.6" rx="3.2" ry="9.9" fill="none" stroke="#2a2226" stroke-width="1.1"/>
<path d="M507.4 107.5 A2.9 6.1 0 1 1 513.0 108.6" fill="none" stroke="#f2f2f2" stroke-width="1.1"/>
<ellipse cx="509.7" cy="162.8" rx="2.9" ry="9.1" fill="none" stroke="#4d6769" stroke-width="1.1"/>
<ellipse cx="512.0" cy="58.1" rx="1.3" ry="2.8" fill="none" stroke="#6f8a8c" stroke-width="1.1"/>
<ellipse cx="520.6" cy="149.9" rx="2.7" ry="6.0" fill="none" stroke="#b0bebe" stroke-width="1.1"/>
<path d="M526.4 148.1 A2.5 6.8 0 0 1 522.7 138.8" fill="none" stroke="#5a2448" stroke-width="1.1"/>
<path d="M517.6 134.7 A3.3 7.2 0 0 1 511.0 136.3" fill="none" stroke="#b0bebe" stroke-width="1.1"/>
<path d="M527.9 76.8 A2.9 8.9 0 1 1 522.3 72.0" fill="none" stroke="#f2f2f2" stroke-width="1.1"/>
<ellipse cx="508.0" cy="73.5" rx="2.0" ry="6.0" fill="none" stroke="#6e4a36" stroke-width="1.1"/>
<ellipse cx="531.5" cy="218.3" rx="3.3" ry="6.8" fill="none" stroke="#f2f2f2" stroke-width="1.1"/>
<path d="M503.3 204.0 A2.8 6.7 0 0 1 506.4 196.9" fill="none" stroke="#6f8a8c" stroke-width="1.1"/>
<path d="M513.5 143.3 A2.8 8.7 0 1 1 517.8 150.2" fill="none" stroke="#4d6769" stroke-width="1.1"/>
<path d="M504.2 132.5 A2.7 5.1 0 1 1 508.1 139.2" fill="none" stroke="#5a2448" stroke-width="1.1"/>
<path d="M522.6 79.0 A1.5 3.6 0 1 1 520.7 83.2" fill="none" stroke="#2a2226" stroke-width="1.1"/>
<path d="M509.2 178.1 A2.3 5.8 0 0 1 508.5 188.9" fill="none" stroke="#26306a" stroke-width="1.1"/>
<path d="M528.8 168.4 A1.5 3.4 0 1 1 526.5 167.2" fill="none" stroke="#2a2226" stroke-width="1.1"/>
<ellipse cx="515.3" cy="137.7" rx="3.0" ry="5.1" fill="none" stroke="#9a6a48" stroke-width="1.1"/>
<ellipse cx="528.7" cy="69.1" rx="2.9" ry="5.9" fill="none" stroke="#6f8a8c" stroke-width="1.1"/>
<ellipse cx="508.6" cy="47.4" rx="1.7" ry="3.1" fill="none" stroke="#6f8a8c" stroke-width="1.1"/>
<path d="M514.6 214.3 A2.1 5.8 0 0 1 512.9 224.9" fill="none" stroke="#6f8a8c" stroke-width="1.1"/>
<path d="M531.2 189.7 A1.9 4.5 0 1 1 534.7 191.0" fill="none" stroke="#6f8a8c" stroke-width="1.1"/>
<ellipse cx="532.0" cy="84.4" rx="1.3" ry="2.5" fill="none" stroke="#6e4a36" stroke-width="1.1"/>
<ellipse cx="516.1" cy="93.0" rx="3.5" ry="6.0" fill="none" stroke="#2a2226" stroke-width="1.1"/>
<ellipse cx="523.8" cy="204.9" rx="1.6" ry="3.1" fill="none" stroke="#2a2226" stroke-width="1.1"/>
<path d="M516.5 210.8 A2.4 4.7 0 1 1 516.5 218.9" fill="none" stroke="#6f8a8c" stroke-width="1.1"/>
<ellipse cx="531.2" cy="103.4" rx="1.6" ry="4.9" fill="none" stroke="#4d6769" stroke-width="1.1"/>
<ellipse cx="525.5" cy="90.8" rx="2.2" ry="4.3" fill="none" stroke="#4d6769" stroke-width="1.1"/>
<ellipse cx="526.2" cy="53.6" rx="1.4" ry="4.4" fill="none" stroke="#6f8a8c" stroke-width="1.1"/>
<path d="M529.7 80.0 A3.1 7.1 0 1 1 530.2 66.3" fill="none" stroke="#4d6769" stroke-width="1.1"/>
<ellipse cx="517.6" cy="220.8" rx="3.2" ry="8.3" fill="none" stroke="#6f8a8c" stroke-width="1.1"/>
<path d="M516.9 79.4 A2.4 4.9 0 1 1 515.1 88.4" fill="none" stroke="#6f8a8c" stroke-width="1.1"/>
<path d="M507.4 114.7 A2.5 6.1 0 0 1 510.6 120.8" fill="none" stroke="#5a2448" stroke-width="1.1"/>
<ellipse cx="508.2" cy="47.5" rx="3.2" ry="5.9" fill="none" stroke="#6f8a8c" stroke-width="1.1"/>
<ellipse cx="515.7" cy="89.8" rx="1.3" ry="3.6" fill="none" stroke="#b0bebe" stroke-width="1.1"/>
<path d="M516.0 115.1 A2.7 5.2 0 0 1 519.6 108.7" fill="none" stroke="#b0bebe" stroke-width="1.1"/>
<ellipse cx="514.1" cy="91.3" rx="2.0" ry="4.0" fill="none" stroke="#6e4a36" stroke-width="1.1"/>
<path d="M528.2 53.8 A2.2 6.5 0 0 1 528.7 66.4" fill="none" stroke="#4d6769" stroke-width="1.1"/>
<path d="M515.0 220.5 A3.5 6.9 0 0 1 521.4 226.3" fill="none" stroke="#5a2448" stroke-width="1.1"/>
<path d="M517.1 215.9 A2.7 4.7 0 1 1 521.4 214.6" fill="none" stroke="#6f8a8c" stroke-width="1.1"/>
<path d="M519.7 200.3 A2.0 5.3 0 1 1 519.4 191.5" fill="none" stroke="#f2f2f2" stroke-width="1.1"/>
<ellipse cx="522.4" cy="66.9" rx="1.4" ry="3.5" fill="none" stroke="#b0bebe" stroke-width="1.1"/>
<path d="M524.7 111.6 A2.8 4.7 0 1 1 530.3 111.8" fill="none" stroke="#5a2448" stroke-width="1.1"/>
<ellipse cx="515.8" cy="44.3" rx="2.8" ry="8.8" fill="none" stroke="#9a6a48" stroke-width="1.1"/>
<ellipse cx="523.6" cy="87.3" rx="2.4" ry="4.9" fill="none" stroke="#9a6a48" stroke-width="1.1"/>
<path d="M511.8 211.0 A1.7 4.4 0 1 1 509.0 207.7" fill="none" stroke="#6f8a8c" stroke-width="1.1"/>
<path d="M518.9 228.8 A2.4 7.2 0 0 1 514.9 225.3" fill="none" stroke="#6f8a8c" stroke-width="1.1"/>
<path d="M512.4 86.5 A2.4 6.3 0 0 1 517.0 84.3" fill="none" stroke="#6e4a36" stroke-width="1.1"/>
<path d="M509.4 56.8 A2.5 7.3 0 0 1 513.2 61.1" fill="none" stroke="#6f8a8c" stroke-width="1.1"/>
<ellipse cx="524.5" cy="203.3" rx="1.4" ry="3.0" fill="none" stroke="#6f8a8c" stroke-width="1.1"/>
<ellipse cx="504.8" cy="117.7" rx="2.7" ry="5.7" fill="none" stroke="#f2f2f2" stroke-width="1.1"/>
<path d="M515.9 137.0 A2.9 6.9 0 0 1 512.0 128.3" fill="none" stroke="#b0bebe" stroke-width="1.1"/>
<path d="M511.7 163.5 A2.2 4.0 0 0 1 515.0 160.8" fill="none" stroke="#6f8a8c" stroke-width="1.1"/>
<path d="M518.0 72.9 A3.5 6.2 0 0 1 524.5 68.1" fill="none" stroke="#b0bebe" stroke-width="1.1"/>
<path d="M527.8 189.7 A2.5 5.3 0 0 1 531.3 197.4" fill="none" stroke="#b0bebe" stroke-width="1.1"/>
<path d="M526.0 164.4 A2.0 3.9 0 0 1 526.0 172.2" fill="none" stroke="#f2f2f2" stroke-width="1.1"/>
<ellipse cx="516.1" cy="195.9" rx="2.6" ry="5.9" fill="none" stroke="#b0bebe" stroke-width="1.1"/>
<ellipse cx="513.6" cy="106.9" rx="2.6" ry="6.6" fill="none" stroke="#f2f2f2" stroke-width="1.1"/>
<ellipse cx="508.0" cy="161.8" rx="2.6" ry="7.7" fill="none" stroke="#6f8a8c" stroke-width="1.1"/>
<ellipse cx="511.5" cy="95.0" rx="2.1" ry="6.5" fill="none" stroke="#6f8a8c" stroke-width="1.1"/>
<ellipse cx="512.7" cy="64.1" rx="2.0" ry="5.0" fill="none" stroke="#6f8a8c" stroke-width="1.1"/>
<ellipse cx="524.6" cy="174.0" rx="1.5" ry="2.6" fill="none" stroke="#6e4a36" stroke-width="1.1"/>
<path d="M508.5 168.6 A1.4 2.4 0 0 1 506.8 166.4" fill="none" stroke="#2a2226" stroke-width="1.1"/>
<path d="M513.2 163.1 A2.3 4.6 0 1 1 517.9 162.8" fill="none" stroke="#26306a" stroke-width="1.1"/>
<ellipse cx="526.8" cy="91.3" rx="1.7" ry="3.0" fill="none" stroke="#9a6a48" stroke-width="1.1"/>
<ellipse cx="508.2" cy="132.5" rx="3.6" ry="9.3" fill="none" stroke="#4d6769" stroke-width="1.1"/>
<ellipse cx="509.6" cy="192.1" rx="3.4" ry="9.7" fill="none" stroke="#26306a" stroke-width="1.1"/>
<ellipse cx="521.8" cy="104.3" rx="3.1" ry="6.2" fill="none" stroke="#4d6769" stroke-width="1.1"/>
<ellipse cx="526.1" cy="163.3" rx="1.9" ry="4.8" fill="none" stroke="#4d6769" stroke-width="1.1"/>
<ellipse cx="527.5" cy="122.0" rx="2.6" ry="6.7" fill="none" stroke="#4d6769" stroke-width="1.1"/>
<path d="M517.8 70.9 A2.5 5.0 0 0 1 518.5 63.4" fill="none" stroke="#b0bebe" stroke-width="1.1"/>
<ellipse cx="514.9" cy="70.6" rx="2.9" ry="4.6" fill="none" stroke="#4d6769" stroke-width="1.1"/>
<ellipse cx="528.0" cy="53.1" rx="1.6" ry="2.8" fill="none" stroke="#9a6a48" stroke-width="1.1"/>
<path d="M523.5 206.3 A1.7 5.3 0 0 1 525.0 214.0" fill="none" stroke="#5a2448" stroke-width="1.1"/>
<path d="M514.4 133.4 A3.2 5.2 0 1 1 512.1 123.8" fill="none" stroke="#b0bebe" stroke-width="1.1"/>
<ellipse cx="503.7" cy="89.3" rx="1.7" ry="4.6" fill="none" stroke="#26306a" stroke-width="1.1"/>
<ellipse cx="511.2" cy="167.8" rx="3.1" ry="7.2" fill="none" stroke="#4d6769" stroke-width="1.1"/>
<ellipse cx="532.7" cy="76.6" rx="1.6" ry="3.8" fill="none" stroke="#5a2448" stroke-width="1.1"/>
<path d="M520.4 193.3 A2.5 7.9 0 0 1 523.5 199.5" fill="none" stroke="#6f8a8c" stroke-width="1.1"/>
<path d="M522.1 219.8 A2.8 7.6 0 0 1 520.3 232.9" fill="none" stroke="#f2f2f2" stroke-width="1.1"/>
<path d="M518.3 98.4 A3.1 9.1 0 0 1 515.0 108.2" fill="none" stroke="#f2f2f2" stroke-width="1.1"/>
<ellipse cx="532.6" cy="160.0" rx="1.3" ry="3.8" fill="none" stroke="#6f8a8c" stroke-width="1.1"/>
<ellipse cx="533.7" cy="117.8" rx="3.3" ry="5.6" fill="none" stroke="#4d6769" stroke-width="1.1"/>
<ellipse cx="511.9" cy="199.1" rx="2.6" ry="5.5" fill="none" stroke="#f2f2f2" stroke-width="1.1"/>
<ellipse cx="522.4" cy="67.6" rx="1.3" ry="2.3" fill="none" stroke="#b0bebe" stroke-width="1.1"/>
<ellipse cx="510.6" cy="163.8" rx="2.8" ry="7.6" fill="none" stroke="#b0bebe" stroke-width="1.1"/>
<ellipse cx="502.5" cy="147.5" rx="2.1" ry="4.5" fill="none" stroke="#f2f2f2" stroke-width="1.1"/>
<path d="M526.4 127.0 A2.8 7.0 0 1 1 527.1 113.5" fill="none" stroke="#6e4a36" stroke-width="1.1"/>
<path d="M515.7 196.7 A1.2 3.1 0 0 1 514.8 192.8" fill="none" stroke="#6f8a8c" stroke-width="1.1"/>
<path d="M518.7 164.3 A2.6 5.5 0 0 1 513.6 166.9" fill="none" stroke="#b0bebe" stroke-width="1.1"/>
<ellipse cx="530.7" cy="173.0" rx="2.8" ry="7.3" fill="none" stroke="#f2f2f2" stroke-width="1.1"/>
<ellipse cx="532.5" cy="69.2" rx="2.4" ry="4.3" fill="none" stroke="#6e4a36" stroke-width="1.1"/>
<path d="M516.5 116.6 A2.1 4.3 0 0 1 514.9 109.1" fill="none" stroke="#f2f2f2" stroke-width="1.1"/>
<ellipse cx="506.4" cy="150.7" rx="3.0" ry="5.8" fill="none" stroke="#f2f2f2" stroke-width="1.1"/>
<ellipse cx="510.4" cy="100.1" rx="2.9" ry="7.8" fill="none" stroke="#5a2448" stroke-width="1.1"/>
<path d="M531.3 82.4 A1.3 2.1 0 0 1 531.6 78.8" fill="none" stroke="#f2f2f2" stroke-width="1.1"/>
<path d="M530.2 197.6 A2.1 3.4 0 1 1 526.5 195.3" fill="none" stroke="#b0bebe" stroke-width="1.1"/>
<path d="M524.6 133.8 A3.6 11.2 0 1 1 519.7 125.3" fill="none" stroke="#6f8a8c" stroke-width="1.1"/>
<ellipse cx="533.2" cy="141.8" rx="2.2" ry="5.2" fill="none" stroke="#6f8a8c" stroke-width="1.1"/>
<ellipse cx="503.4" cy="63.7" rx="2.5" ry="6.2" fill="none" stroke="#4d6769" stroke-width="1.1"/>
<ellipse cx="503.6" cy="100.4" rx="2.8" ry="5.7" fill="none" stroke="#6f8a8c" stroke-width="1.1"/>
<path d="M508.7 226.6 A3.6 6.9 0 0 1 508.5 213.4" fill="none" stroke="#b0bebe" stroke-width="1.1"/>
<ellipse cx="528.8" cy="166.8" rx="2.3" ry="3.7" fill="none" stroke="#5a2448" stroke-width="1.1"/>
<path d="M534.1 191.5 A3.3 8.1 0 0 1 528.4 196.7" fill="none" stroke="#6f8a8c" stroke-width="1.1"/>
<ellipse cx="530.7" cy="138.1" rx="3.4" ry="9.9" fill="none" stroke="#f2f2f2" stroke-width="1.1"/>
<path d="M518.6 179.5 A2.5 8.0 0 0 1 515.6 172.4" fill="none" stroke="#f2f2f2" stroke-width="1.1"/>
<path d="M521.7 212.5 A2.4 6.2 0 1 1 517.0 214.9" fill="none" stroke="#b0bebe" stroke-width="1.1"/>
<ellipse cx="532.2" cy="98.5" rx="3.4" ry="10.8" fill="none" stroke="#6f8a8c" stroke-width="1.1"/>
<path d="M502.4 41.9 A1.6 4.7 0 1 1 504.8 48.0" fill="none" stroke="#6f8a8c" stroke-width="1.1"/>
<path d="M513.0 122.9 A2.8 6.9 0 0 1 508.5 123.5" fill="none" stroke="#b0bebe" stroke-width="1.1"/>
<ellipse cx="517.8" cy="64.6" rx="2.5" ry="5.0" fill="none" stroke="#f2f2f2" stroke-width="1.1"/>
<path d="M520.2 210.8 A3.3 8.7 0 1 1 517.1 197.5" fill="none" stroke="#6f8a8c" stroke-width="1.1"/>
<path d="M508.1 202.7 A2.9 7.1 0 0 1 507.6 216.2" fill="none" stroke="#4d6769" stroke-width="1.1"/>
<ellipse cx="518.4" cy="82.5" rx="1.7" ry="2.8" fill="none" stroke="#f2f2f2" stroke-width="1.1"/>
<path d="M516.4 79.6 A2.0 3.5 0 1 1 519.8 80.9" fill="none" stroke="#f2f2f2" stroke-width="1.1"/>
<ellipse cx="523.8" cy="208.4" rx="2.2" ry="5.0" fill="none" stroke="#4d6769" stroke-width="1.1"/>
<ellipse cx="520.9" cy="100.1" rx="2.3" ry="6.7" fill="none" stroke="#6f8a8c" stroke-width="1.1"/>
<path d="M523.6 202.0 A2.3 5.0 0 0 1 528.0 199.6" fill="none" stroke="#4d6769" stroke-width="1.1"/>
<path d="M527.4 79.0 A2.2 4.7 0 0 1 523.7 78.8" fill="none" stroke="#2a2226" stroke-width="1.1"/>
<ellipse cx="533.6" cy="207.5" rx="2.0" ry="4.5" fill="none" stroke="#9a6a48" stroke-width="1.1"/>
<path d="M504.1 214.4 A2.5 4.9 0 0 1 505.1 222.5" fill="none" stroke="#6e4a36" stroke-width="1.1"/>
<ellipse cx="533.3" cy="161.9" rx="1.7" ry="3.0" fill="none" stroke="#6f8a8c" stroke-width="1.1"/>
<path d="M508.8 183.9 A1.2 3.3 0 1 1 507.7 178.6" fill="none" stroke="#4d6769" stroke-width="1.1"/>
<path d="M515.1 140.7 A2.9 5.5 0 0 1 511.9 131.7" fill="none" stroke="#f2f2f2" stroke-width="1.1"/>
<path d="M509.8 182.3 A3.2 10.0 0 0 1 514.4 171.8" fill="none" stroke="#b0bebe" stroke-width="1.1"/>
<path d="M518.7 54.9 A2.7 4.4 0 1 1 514.3 58.6" fill="none" stroke="#6f8a8c" stroke-width="1.1"/>
<path d="M527.6 186.5 A2.9 5.9 0 0 1 531.9 187.6" fill="none" stroke="#6f8a8c" stroke-width="1.1"/>
<ellipse cx="523.6" cy="167.3" rx="3.5" ry="8.3" fill="none" stroke="#4d6769" stroke-width="1.1"/>
<ellipse cx="534.0" cy="144.0" rx="1.7" ry="4.9" fill="none" stroke="#f2f2f2" stroke-width="1.1"/>
<path d="M507.4 83.9 A1.5 4.6 0 0 1 506.3 91.0" fill="none" stroke="#5a2448" stroke-width="1.1"/>
<ellipse cx="528.7" cy="179.4" rx="3.0" ry="8.0" fill="none" stroke="#6f8a8c" stroke-width="1.1"/>
<path d="M530.3 199.8 A2.0 5.9 0 0 1 531.6 189.6" fill="none" stroke="#6f8a8c" stroke-width="1.1"/>
<path d="M517.7 170.8 A2.3 4.6 0 0 1 518.5 163.0" fill="none" stroke="#b0bebe" stroke-width="1.1"/>
<ellipse cx="533.3" cy="152.3" rx="1.6" ry="4.0" fill="none" stroke="#5a2448" stroke-width="1.1"/>
<ellipse cx="525.6" cy="178.5" rx="3.5" ry="5.9" fill="none" stroke="#6f8a8c" stroke-width="1.1"/>
<ellipse cx="504.0" cy="118.5" rx="1.6" ry="4.6" fill="none" stroke="#b0bebe" stroke-width="1.1"/>
<ellipse cx="528.9" cy="133.1" rx="2.1" ry="4.1" fill="none" stroke="#f2f2f2" stroke-width="1.1"/>
<ellipse cx="526.3" cy="96.8" rx="1.4" ry="2.5" fill="none" stroke="#b0bebe" stroke-width="1.1"/>
<ellipse cx="530.0" cy="140.5" rx="3.2" ry="8.0" fill="none" stroke="#6f8a8c" stroke-width="1.1"/>
<path d="M508.5 169.5 A1.5 2.4 0 1 1 509.1 164.8" fill="none" stroke="#b0bebe" stroke-width="1.1"/>
<path d="M528.2 144.8 A1.4 2.3 0 0 1 530.7 143.5" fill="none" stroke="#4d6769" stroke-width="1.1"/>
<ellipse cx="533.8" cy="185.2" rx="1.2" ry="3.5" fill="none" stroke="#f2f2f2" stroke-width="1.1"/>
<path d="M504.4 213.4 A1.6 3.2 0 0 1 506.1 217.2" fill="none" stroke="#26306a" stroke-width="1.1"/>
<path d="M503.1 105.2 A1.4 2.9 0 1 1 505.7 107.2" fill="none" stroke="#6f8a8c" stroke-width="1.1"/>
<path d="M515.3 151.2 A3.3 7.0 0 0 1 520.2 156.4" fill="none" stroke="#9a6a48" stroke-width="1.1"/>
<path d="M505.4 90.5 A3.0 9.2 0 0 1 511.2 94.7" fill="none" stroke="#b0bebe" stroke-width="1.1"/>
<ellipse cx="528.5" cy="197.5" rx="1.3" ry="2.4" fill="none" stroke="#4d6769" stroke-width="1.1"/>
<ellipse cx="509.6" cy="223.1" rx="1.5" ry="3.6" fill="none" stroke="#f2f2f2" stroke-width="1.1"/>
<path d="M531.7 218.5 A1.6 4.7 0 1 1 532.9 210.0" fill="none" stroke="#9a6a48" stroke-width="1.1"/>
<ellipse cx="522.4" cy="163.6" rx="1.6" ry="3.0" fill="none" stroke="#b0bebe" stroke-width="1.1"/>
<ellipse cx="529.1" cy="197.6" rx="1.9" ry="4.8" fill="none" stroke="#6f8a8c" stroke-width="1.1"/>
<ellipse cx="515.7" cy="170.7" rx="1.3" ry="3.6" fill="none" stroke="#4d6769" stroke-width="1.1"/>
<ellipse cx="529.0" cy="65.3" rx="1.8" ry="3.1" fill="none" stroke="#5a2448" stroke-width="1.1"/>
<ellipse cx="503.4" cy="175.5" rx="3.5" ry="8.0" fill="none" stroke="#f2f2f2" stroke-width="1.1"/>
<path d="M509.5 113.2 A1.3 3.0 0 0 1 509.8 118.9" fill="none" stroke="#f2f2f2" stroke-width="1.1"/>
<ellipse cx="502.9" cy="122.5" rx="2.5" ry="6.8" fill="none" stroke="#6f8a8c" stroke-width="1.1"/>
<ellipse cx="530.8" cy="62.5" rx="3.3" ry="6.9" fill="none" stroke="#4d6769" stroke-width="1.1"/>
<path d="M503.6 119.5 A3.0 5.0 0 0 1 500.6 113.6" fill="none" stroke="#26306a" stroke-width="1.1"/>
<ellipse cx="524.9" cy="226.3" rx="2.6" ry="6.5" fill="none" stroke="#6f8a8c" stroke-width="1.1"/>
<path d="M506.6 80.8 A2.4 6.2 0 1 1 511.1 76.7" fill="none" stroke="#4d6769" stroke-width="1.1"/>
<ellipse cx="529.6" cy="138.7" rx="2.5" ry="5.3" fill="none" stroke="#5a2448" stroke-width="1.1"/>
<ellipse cx="531.0" cy="107.2" rx="2.7" ry="4.8" fill="none" stroke="#26306a" stroke-width="1.1"/>
<path d="M507.8 105.0 A2.5 4.5 0 1 1 508.8 113.8" fill="none" stroke="#6f8a8c" stroke-width="1.1"/>
<path d="M517.4 169.4 A2.7 8.4 0 0 1 513.5 170.5" fill="none" stroke="#5a2448" stroke-width="1.1"/>
<path d="M515.3 44.8 A2.7 6.4 0 0 1 512.1 34.8" fill="none" stroke="#6e4a36" stroke-width="1.1"/>
<path d="M521.2 125.7 A2.6 5.0 0 0 1 526.2 126.9" fill="none" stroke="#4d6769" stroke-width="1.1"/>
<ellipse cx="512.3" cy="112.6" rx="2.0" ry="5.4" fill="none" stroke="#2a2226" stroke-width="1.1"/>
<path d="M507.7 129.6 A2.7 8.5 0 0 1 512.6 122.1" fill="none" stroke="#6f8a8c" stroke-width="1.1"/>
<ellipse cx="516.4" cy="145.7" rx="1.2" ry="2.0" fill="none" stroke="#4d6769" stroke-width="1.1"/>
<path d="M511.1 130.6 A1.7 3.0 0 0 1 508.4 132.1" fill="none" stroke="#4d6769" stroke-width="1.1"/>
<path d="M517.6 108.3 A1.4 2.5 0 0 1 518.6 103.9" fill="none" stroke="#9a6a48" stroke-width="1.1"/>
<ellipse cx="504.1" cy="59.9" rx="3.0" ry="9.2" fill="none" stroke="#4d6769" stroke-width="1.1"/>
<path d="M502.1 114.3 A3.4 6.5 0 1 1 506.4 105.9" fill="none" stroke="#b0bebe" stroke-width="1.1"/>
<ellipse cx="507.0" cy="150.3" rx="2.9" ry="7.7" fill="none" stroke="#6f8a8c" stroke-width="1.1"/>
<path d="M524.7 209.9 A2.6 6.5 0 0 1 525.7 198.6" fill="none" stroke="#f2f2f2" stroke-width="1.1"/>
<path d="M507.8 57.1 A2.2 4.1 0 1 1 505.8 51.0" fill="none" stroke="#f2f2f2" stroke-width="1.1"/>
<path d="M505.5 193.5 A2.3 5.8 0 1 1 504.7 182.1" fill="none" stroke="#2a2226" stroke-width="1.1"/>
<ellipse cx="530.9" cy="130.1" rx="1.2" ry="3.8" fill="none" stroke="#26306a" stroke-width="1.1"/>
<ellipse cx="518.0" cy="165.3" rx="2.8" ry="7.7" fill="none" stroke="#4d6769" stroke-width="1.1"/>
<path d="M516.1 136.8 A2.4 6.4 0 1 1 520.7 138.4" fill="none" stroke="#6f8a8c" stroke-width="1.1"/>
<line x1="518.0" y1="39.0" x2="519.0" y2="228.0" stroke="#3e5456" stroke-width="1" opacity="0.7"/>
<rect x="504" y="38" width="28" height="191" fill="url(#lighten)"/>
<ellipse cx="511.5" cy="56.6" rx="4.2" ry="7.6" fill="#eceef0" stroke="#2a2440" stroke-width="1.1"/>
<ellipse cx="511.5" cy="56.6" rx="2.4" ry="4.7" fill="none" stroke="#a0407a" stroke-width="1.4"/>
<ellipse cx="511.5" cy="56.6" rx="1.0" ry="2.0" fill="#5a1a4a"/>
<ellipse cx="523.1" cy="70.8" rx="4.1" ry="7.5" fill="#eceef0" stroke="#2a2440" stroke-width="1.1"/>
<ellipse cx="523.1" cy="70.8" rx="2.4" ry="4.6" fill="none" stroke="#a0407a" stroke-width="1.4"/>
<ellipse cx="523.1" cy="70.8" rx="1.0" ry="1.9" fill="#5a1a4a"/>
<ellipse cx="512.8" cy="85.6" rx="3.4" ry="6.2" fill="#eceef0" stroke="#2a2440" stroke-width="1.1"/>
<ellipse cx="512.8" cy="85.6" rx="2.0" ry="3.8" fill="none" stroke="#a0407a" stroke-width="1.4"/>
<ellipse cx="512.8" cy="85.6" rx="0.8" ry="1.6" fill="#5a1a4a"/>
<ellipse cx="525.1" cy="103.4" rx="4.1" ry="6.7" fill="#1c2a9a"/>
<ellipse cx="525.1" cy="103.4" rx="2.6" ry="4.6" fill="#eceef0" stroke="#3a2a50" stroke-width="0.9"/>
<ellipse cx="525.1" cy="103.4" rx="1.5" ry="2.9" fill="none" stroke="#a0407a" stroke-width="1.3"/>
<ellipse cx="525.1" cy="103.4" rx="0.6" ry="1.2" fill="#5a1a4a"/>
<ellipse cx="512.7" cy="117.0" rx="4.5" ry="7.3" fill="#1c2a9a"/>
<ellipse cx="512.7" cy="117.0" rx="2.8" ry="5.1" fill="#eceef0" stroke="#3a2a50" stroke-width="0.9"/>
<ellipse cx="512.7" cy="117.0" rx="1.7" ry="3.1" fill="none" stroke="#a0407a" stroke-width="1.3"/>
<ellipse cx="512.7" cy="117.0" rx="0.7" ry="1.3" fill="#5a1a4a"/>
<ellipse cx="522.6" cy="133.9" rx="4.6" ry="7.5" fill="#1c2a9a"/>
<ellipse cx="522.6" cy="133.9" rx="2.9" ry="5.2" fill="#eceef0" stroke="#3a2a50" stroke-width="0.9"/>
<ellipse cx="522.6" cy="133.9" rx="1.7" ry="3.2" fill="none" stroke="#a0407a" stroke-width="1.3"/>
<ellipse cx="522.6" cy="133.9" rx="0.7" ry="1.3" fill="#5a1a4a"/>
<ellipse cx="511.7" cy="147.7" rx="4.0" ry="6.5" fill="#1c2a9a"/>
<ellipse cx="511.7" cy="147.7" rx="2.5" ry="4.5" fill="#eceef0" stroke="#3a2a50" stroke-width="0.9"/>
<ellipse cx="511.7" cy="147.7" rx="1.5" ry="2.8" fill="none" stroke="#a0407a" stroke-width="1.3"/>
<ellipse cx="511.7" cy="147.7" rx="0.6" ry="1.1" fill="#5a1a4a"/>
<polyline points="505.0,56.0 508.0,50.0 511.0,44.0 513.0,39.0 515.0,42.0 517.0,47.0 520.0,50.0 524.0,49.0 528.0,47.0 531.0,52.0 529.0,100.0 525.0,140.0 518.0,150.0 512.0,160.0 507.0,170.0 506.0,228.0" fill="none" stroke="#9a6a48" stroke-width="1.1" opacity="0.8"/>
</g>
<g clip-path="url(#cs3)">
<polygon points="527.0,57.0 531.0,50.0 534.0,44.0 537.0,35.0 540.0,37.0 541.0,45.0 539.0,60.0 537.0,75.0 533.0,100.0 529.0,140.0 525.0,141.0" fill="#b2bfc0"/>
<path d="M543.3 92.3 A2.6 5.5 0 0 1 539.6 88.4" fill="none" stroke="#6f8a8c" stroke-width="1.1"/>
<path d="M527.6 36.0 A2.5 4.5 0 1 1 523.1 39.7" fill="none" stroke="#9a6a48" stroke-width="1.1"/>
<path d="M538.1 112.7 A3.0 9.3 0 0 1 537.6 95.5" fill="none" stroke="#2a2226" stroke-width="1.1"/>
<ellipse cx="526.7" cy="116.4" rx="3.4" ry="5.8" fill="none" stroke="#6f8a8c" stroke-width="1.1"/>
<ellipse cx="524.3" cy="43.6" rx="3.3" ry="6.9" fill="none" stroke="#6f8a8c" stroke-width="1.1"/>
<ellipse cx="526.2" cy="75.9" rx="2.0" ry="5.8" fill="none" stroke="#2a2226" stroke-width="1.1"/>
<ellipse cx="532.9" cy="133.4" rx="2.9" ry="7.1" fill="none" stroke="#5a2448" stroke-width="1.1"/>
<ellipse cx="542.1" cy="62.0" rx="3.4" ry="10.0" fill="none" stroke="#9a6a48" stroke-width="1.1"/>
<ellipse cx="528.7" cy="136.9" rx="2.2" ry="3.8" fill="none" stroke="#2a2226" stroke-width="1.1"/>
<path d="M531.1 43.1 A2.2 6.9 0 1 1 534.0 37.3" fill="none" stroke="#2a2226" stroke-width="1.1"/>
<path d="M537.1 88.3 A1.5 4.0 0 0 1 538.9 91.9" fill="none" stroke="#6f8a8c" stroke-width="1.1"/>
<ellipse cx="543.9" cy="57.9" rx="1.3" ry="2.9" fill="none" stroke="#4d6769" stroke-width="1.1"/>
<path d="M530.2 66.2 A2.5 5.1 0 0 1 532.7 74.9" fill="none" stroke="#6f8a8c" stroke-width="1.1"/>
<ellipse cx="522.1" cy="140.0" rx="2.5" ry="5.9" fill="none" stroke="#4d6769" stroke-width="1.1"/>
<path d="M533.2 34.7 A3.3 8.4 0 0 1 530.1 43.8" fill="none" stroke="#26306a" stroke-width="1.1"/>
<ellipse cx="528.2" cy="50.9" rx="2.3" ry="6.5" fill="none" stroke="#b0bebe" stroke-width="1.1"/>
<ellipse cx="536.0" cy="54.8" rx="3.6" ry="6.5" fill="none" stroke="#b0bebe" stroke-width="1.1"/>
<path d="M538.2 45.1 A2.3 5.5 0 0 1 540.5 54.6" fill="none" stroke="#b0bebe" stroke-width="1.1"/>
<ellipse cx="530.7" cy="108.6" rx="2.2" ry="5.3" fill="none" stroke="#b0bebe" stroke-width="1.1"/>
<ellipse cx="527.3" cy="35.0" rx="2.0" ry="4.4" fill="none" stroke="#6f8a8c" stroke-width="1.1"/>
<path d="M532.5 52.3 A2.6 4.8 0 0 1 536.0 57.9" fill="none" stroke="#5a2448" stroke-width="1.1"/>
<ellipse cx="540.9" cy="130.6" rx="1.4" ry="4.3" fill="none" stroke="#6f8a8c" stroke-width="1.1"/>
<path d="M540.7 53.0 A2.8 5.1 0 0 1 544.4 60.1" fill="none" stroke="#2a2226" stroke-width="1.1"/>
<path d="M527.3 43.6 A1.7 5.2 0 1 1 525.7 50.3" fill="none" stroke="#4d6769" stroke-width="1.1"/>
<ellipse cx="531.9" cy="66.3" rx="3.0" ry="6.7" fill="none" stroke="#4d6769" stroke-width="1.1"/>
<ellipse cx="530.0" cy="137.9" rx="2.0" ry="5.0" fill="none" stroke="#6f8a8c" stroke-width="1.1"/>
<path d="M527.0 116.2 A3.0 8.8 0 1 1 522.4 119.5" fill="none" stroke="#f2f2f2" stroke-width="1.1"/>
<ellipse cx="524.2" cy="85.2" rx="2.6" ry="7.3" fill="none" stroke="#f2f2f2" stroke-width="1.1"/>
<ellipse cx="534.5" cy="126.1" rx="2.6" ry="6.0" fill="none" stroke="#b0bebe" stroke-width="1.1"/>
<ellipse cx="530.3" cy="71.6" rx="2.7" ry="4.3" fill="none" stroke="#6f8a8c" stroke-width="1.1"/>
<ellipse cx="522.5" cy="97.7" rx="3.1" ry="7.7" fill="none" stroke="#26306a" stroke-width="1.1"/>
<path d="M528.2 86.2 A1.4 3.6 0 0 1 526.0 87.6" fill="none" stroke="#6f8a8c" stroke-width="1.1"/>
<ellipse cx="544.0" cy="58.1" rx="2.1" ry="4.1" fill="none" stroke="#f2f2f2" stroke-width="1.1"/>
<path d="M527.8 66.3 A2.3 6.4 0 0 1 529.4 57.1" fill="none" stroke="#f2f2f2" stroke-width="1.1"/>
<path d="M541.9 137.8 A1.3 2.8 0 0 1 543.4 133.2" fill="none" stroke="#f2f2f2" stroke-width="1.1"/>
<ellipse cx="536.1" cy="120.9" rx="1.9" ry="4.1" fill="none" stroke="#6f8a8c" stroke-width="1.1"/>
<ellipse cx="530.3" cy="92.1" rx="1.5" ry="2.5" fill="none" stroke="#f2f2f2" stroke-width="1.1"/>
<ellipse cx="532.0" cy="47.1" rx="3.5" ry="9.5" fill="none" stroke="#b0bebe" stroke-width="1.1"/>
<ellipse cx="527.1" cy="120.7" rx="1.3" ry="3.8" fill="none" stroke="#2a2226" stroke-width="1.1"/>
<path d="M539.9 75.9 A2.6 5.3 0 1 1 535.5 79.3" fill="none" stroke="#4d6769" stroke-width="1.1"/>
<path d="M542.0 106.8 A2.1 4.3 0 0 1 539.5 100.1" fill="none" stroke="#6f8a8c" stroke-width="1.1"/>
<path d="M528.4 43.0 A2.8 5.1 0 0 1 526.9 33.8" fill="none" stroke="#6f8a8c" stroke-width="1.1"/>
<ellipse cx="523.9" cy="105.8" rx="3.5" ry="7.6" fill="none" stroke="#f2f2f2" stroke-width="1.1"/>
<path d="M531.5 76.1 A2.9 8.9 0 0 1 532.7 87.9" fill="none" stroke="#6f8a8c" stroke-width="1.1"/>
<ellipse cx="538.6" cy="42.5" rx="3.5" ry="9.2" fill="none" stroke="#4d6769" stroke-width="1.1"/>
<ellipse cx="532.5" cy="128.8" rx="3.4" ry="10.6" fill="none" stroke="#6f8a8c" stroke-width="1.1"/>
<ellipse cx="533.9" cy="97.1" rx="3.2" ry="6.1" fill="none" stroke="#9a6a48" stroke-width="1.1"/>
<path d="M529.6 76.8 A3.6 5.9 0 0 1 531.0 85.4" fill="none" stroke="#26306a" stroke-width="1.1"/>
<ellipse cx="524.4" cy="38.1" rx="1.3" ry="3.8" fill="none" stroke="#6f8a8c" stroke-width="1.1"/>
<ellipse cx="526.7" cy="112.0" rx="1.9" ry="6.0" fill="none" stroke="#2a2226" stroke-width="1.1"/>
<ellipse cx="537.7" cy="37.8" rx="2.4" ry="6.7" fill="none" stroke="#6f8a8c" stroke-width="1.1"/>
<path d="M537.9 102.8 A1.6 4.6 0 0 1 541.1 103.1" fill="none" stroke="#4d6769" stroke-width="1.1"/>
<ellipse cx="526.3" cy="113.3" rx="3.4" ry="7.1" fill="none" stroke="#2a2226" stroke-width="1.1"/>
<path d="M527.6 89.0 A2.9 8.7 0 1 1 523.1 77.7" fill="none" stroke="#f2f2f2" stroke-width="1.1"/>
<ellipse cx="529.9" cy="92.2" rx="2.7" ry="8.3" fill="none" stroke="#b0bebe" stroke-width="1.1"/>
<path d="M541.1 56.9 A2.9 8.9 0 0 1 541.3 70.7" fill="none" stroke="#4d6769" stroke-width="1.1"/>
<ellipse cx="524.9" cy="136.9" rx="2.3" ry="5.4" fill="none" stroke="#5a2448" stroke-width="1.1"/>
<path d="M536.0 69.4 A2.8 8.6 0 0 1 530.6 68.7" fill="none" stroke="#f2f2f2" stroke-width="1.1"/>
<ellipse cx="538.7" cy="116.7" rx="2.3" ry="3.9" fill="none" stroke="#b0bebe" stroke-width="1.1"/>
<path d="M534.2 58.4 A1.6 4.2 0 0 1 532.4 52.8" fill="none" stroke="#f2f2f2" stroke-width="1.1"/>
<ellipse cx="535.8" cy="128.1" rx="2.8" ry="5.0" fill="none" stroke="#6f8a8c" stroke-width="1.1"/>
<ellipse cx="525.2" cy="115.4" rx="1.3" ry="3.1" fill="none" stroke="#6f8a8c" stroke-width="1.1"/>
<ellipse cx="542.2" cy="109.5" rx="1.7" ry="4.9" fill="none" stroke="#b0bebe" stroke-width="1.1"/>
<path d="M533.3 114.5 A3.3 7.2 0 0 1 531.2 102.7" fill="none" stroke="#b0bebe" stroke-width="1.1"/>
<path d="M536.8 121.3 A2.3 7.2 0 0 1 536.5 134.9" fill="none" stroke="#f2f2f2" stroke-width="1.1"/>
<path d="M525.8 96.9 A1.7 4.3 0 1 1 529.0 99.5" fill="none" stroke="#2a2226" stroke-width="1.1"/>
<ellipse cx="542.7" cy="88.8" rx="3.4" ry="9.6" fill="none" stroke="#9a6a48" stroke-width="1.1"/>
<ellipse cx="540.3" cy="114.4" rx="3.1" ry="6.4" fill="none" stroke="#26306a" stroke-width="1.1"/>
<ellipse cx="540.2" cy="124.5" rx="3.3" ry="5.7" fill="none" stroke="#b0bebe" stroke-width="1.1"/>
<ellipse cx="531.3" cy="40.9" rx="2.7" ry="5.9" fill="none" stroke="#6f8a8c" stroke-width="1.1"/>
<ellipse cx="529.8" cy="60.1" rx="3.0" ry="7.3" fill="none" stroke="#6e4a36" stroke-width="1.1"/>
<path d="M538.3 50.1 A2.7 6.6 0 1 1 543.0 52.1" fill="none" stroke="#2a2226" stroke-width="1.1"/>
<ellipse cx="530.3" cy="94.9" rx="2.9" ry="8.6" fill="none" stroke="#26306a" stroke-width="1.1"/>
<ellipse cx="542.3" cy="134.0" rx="1.6" ry="3.5" fill="none" stroke="#6f8a8c" stroke-width="1.1"/>
<ellipse cx="533.3" cy="100.2" rx="2.1" ry="6.0" fill="none" stroke="#b0bebe" stroke-width="1.1"/>
<ellipse cx="534.2" cy="112.3" rx="1.2" ry="3.8" fill="none" stroke="#4d6769" stroke-width="1.1"/>
<ellipse cx="529.4" cy="83.7" rx="3.0" ry="6.2" fill="none" stroke="#b0bebe" stroke-width="1.1"/>
<ellipse cx="526.5" cy="98.8" rx="3.2" ry="8.1" fill="none" stroke="#26306a" stroke-width="1.1"/>
<ellipse cx="525.0" cy="99.4" rx="2.0" ry="3.7" fill="none" stroke="#5a2448" stroke-width="1.1"/>
<path d="M540.3 65.0 A3.4 7.9 0 0 1 534.7 63.7" fill="none" stroke="#6f8a8c" stroke-width="1.1"/>
<ellipse cx="525.2" cy="81.8" rx="1.6" ry="2.9" fill="none" stroke="#6f8a8c" stroke-width="1.1"/>
<path d="M544.5 93.3 A3.2 9.5 0 0 1 540.0 84.1" fill="none" stroke="#26306a" stroke-width="1.1"/>
<ellipse cx="538.9" cy="139.5" rx="3.5" ry="8.2" fill="none" stroke="#9a6a48" stroke-width="1.1"/>
<ellipse cx="530.3" cy="72.2" rx="1.9" ry="5.6" fill="none" stroke="#2a2226" stroke-width="1.1"/>
<path d="M535.5 105.2 A1.2 3.0 0 0 1 533.9 107.6" fill="none" stroke="#f2f2f2" stroke-width="1.1"/>
<ellipse cx="531.6" cy="124.4" rx="2.6" ry="5.7" fill="none" stroke="#6f8a8c" stroke-width="1.1"/>
<path d="M532.7 59.2 A3.5 5.8 0 1 1 539.4 61.4" fill="none" stroke="#f2f2f2" stroke-width="1.1"/>
<ellipse cx="532.0" cy="66.5" rx="2.0" ry="5.3" fill="none" stroke="#4d6769" stroke-width="1.1"/>
<ellipse cx="525.7" cy="50.2" rx="2.3" ry="4.3" fill="none" stroke="#6f8a8c" stroke-width="1.1"/>
<ellipse cx="530.3" cy="64.8" rx="2.0" ry="4.9" fill="none" stroke="#2a2226" stroke-width="1.1"/>
<ellipse cx="538.2" cy="100.1" rx="2.3" ry="4.5" fill="none" stroke="#2a2226" stroke-width="1.1"/>
<ellipse cx="532.9" cy="112.8" rx="3.1" ry="9.3" fill="none" stroke="#b0bebe" stroke-width="1.1"/>
<ellipse cx="541.5" cy="140.5" rx="1.3" ry="2.9" fill="none" stroke="#b0bebe" stroke-width="1.1"/>
<path d="M545.3 134.0 A3.0 8.4 0 1 1 545.3 120.7" fill="none" stroke="#2a2226" stroke-width="1.1"/>
<path d="M542.0 108.1 A1.4 4.0 0 0 1 539.6 106.8" fill="none" stroke="#4d6769" stroke-width="1.1"/>
<path d="M541.1 38.0 A3.1 5.0 0 1 1 540.4 47.8" fill="none" stroke="#f2f2f2" stroke-width="1.1"/>
<path d="M528.7 57.5 A2.9 4.8 0 1 1 529.5 66.8" fill="none" stroke="#f2f2f2" stroke-width="1.1"/>
<path d="M530.8 101.7 A2.5 5.1 0 0 1 533.6 106.2" fill="none" stroke="#f2f2f2" stroke-width="1.1"/>
<ellipse cx="542.7" cy="53.5" rx="3.2" ry="10.0" fill="none" stroke="#2a2226" stroke-width="1.1"/>
<path d="M539.0 44.9 A3.0 5.4 0 1 1 544.0 44.3" fill="none" stroke="#2a2226" stroke-width="1.1"/>
<ellipse cx="543.3" cy="118.8" rx="3.0" ry="5.3" fill="none" stroke="#f2f2f2" stroke-width="1.1"/>
<path d="M528.5 81.8 A1.2 2.4 0 0 1 529.2 77.8" fill="none" stroke="#b0bebe" stroke-width="1.1"/>
<path d="M540.5 117.6 A3.1 6.3 0 1 1 541.5 105.7" fill="none" stroke="#26306a" stroke-width="1.1"/>
<path d="M543.0 105.3 A1.5 3.1 0 0 1 543.5 111.4" fill="none" stroke="#f2f2f2" stroke-width="1.1"/>
<path d="M542.5 109.3 A2.8 8.2 0 0 1 537.4 110.5" fill="none" stroke="#6f8a8c" stroke-width="1.1"/>
<ellipse cx="532.5" cy="49.4" rx="1.3" ry="2.9" fill="none" stroke="#4d6769" stroke-width="1.1"/>
<path d="M539.3 111.6 A1.3 2.8 0 1 1 537.4 108.6" fill="none" stroke="#6f8a8c" stroke-width="1.1"/>
<path d="M532.0 46.3 A1.3 2.1 0 1 1 534.1 48.4" fill="none" stroke="#4d6769" stroke-width="1.1"/>
<path d="M531.6 94.5 A2.3 4.9 0 1 1 534.7 87.9" fill="none" stroke="#6f8a8c" stroke-width="1.1"/>
<ellipse cx="540.9" cy="83.8" rx="2.5" ry="6.3" fill="none" stroke="#b0bebe" stroke-width="1.1"/>
<ellipse cx="543.4" cy="115.3" rx="3.2" ry="6.4" fill="none" stroke="#9a6a48" stroke-width="1.1"/>
<ellipse cx="529.2" cy="111.9" rx="2.5" ry="7.7" fill="none" stroke="#6f8a8c" stroke-width="1.1"/>
<path d="M525.6 99.6 A1.8 5.7 0 0 1 527.8 93.1" fill="none" stroke="#5a2448" stroke-width="1.1"/>
<ellipse cx="537.1" cy="76.7" rx="2.7" ry="7.1" fill="none" stroke="#f2f2f2" stroke-width="1.1"/>
<path d="M530.8 119.4 A3.0 6.8 0 1 1 528.2 108.0" fill="none" stroke="#f2f2f2" stroke-width="1.1"/>
<ellipse cx="538.3" cy="48.2" rx="2.2" ry="5.6" fill="none" stroke="#f2f2f2" stroke-width="1.1"/>
<ellipse cx="525.5" cy="95.4" rx="1.9" ry="5.4" fill="none" stroke="#f2f2f2" stroke-width="1.1"/>
<path d="M525.7 84.6 A2.1 5.8 0 0 1 528.8 77.6" fill="none" stroke="#6e4a36" stroke-width="1.1"/>
<ellipse cx="522.7" cy="122.5" rx="2.7" ry="4.9" fill="none" stroke="#6f8a8c" stroke-width="1.1"/>
<ellipse cx="527.5" cy="36.8" rx="1.7" ry="5.4" fill="none" stroke="#6e4a36" stroke-width="1.1"/>
<path d="M544.9 76.9 A3.5 8.9 0 1 1 538.7 76.3" fill="none" stroke="#b0bebe" stroke-width="1.1"/>
<ellipse cx="540.0" cy="54.4" rx="2.0" ry="5.5" fill="none" stroke="#4d6769" stroke-width="1.1"/>
<path d="M532.4 59.7 A1.3 2.2 0 0 1 532.1 64.1" fill="none" stroke="#26306a" stroke-width="1.1"/>
<path d="M539.9 90.7 A1.3 3.8 0 1 1 537.6 89.0" fill="none" stroke="#f2f2f2" stroke-width="1.1"/>
<path d="M534.2 113.6 A3.2 5.7 0 0 1 533.7 122.5" fill="none" stroke="#6f8a8c" stroke-width="1.1"/>
<ellipse cx="543.8" cy="73.6" rx="1.9" ry="5.7" fill="none" stroke="#6e4a36" stroke-width="1.1"/>
<ellipse cx="529.6" cy="120.0" rx="3.5" ry="8.3" fill="none" stroke="#2a2226" stroke-width="1.1"/>
<path d="M522.2 67.9 A1.7 4.5 0 0 1 524.8 67.7" fill="none" stroke="#9a6a48" stroke-width="1.1"/>
<ellipse cx="528.3" cy="56.3" rx="3.4" ry="9.4" fill="none" stroke="#f2f2f2" stroke-width="1.1"/>
<ellipse cx="535.0" cy="126.8" rx="2.2" ry="4.9" fill="none" stroke="#6e4a36" stroke-width="1.1"/>
<path d="M545.3 140.7 A2.9 7.8 0 1 1 541.2 130.1" fill="none" stroke="#b0bebe" stroke-width="1.1"/>
<path d="M540.5 59.9 A3.2 7.2 0 0 1 536.2 62.4" fill="none" stroke="#4d6769" stroke-width="1.1"/>
<ellipse cx="528.5" cy="113.0" rx="1.5" ry="3.1" fill="none" stroke="#2a2226" stroke-width="1.1"/>
<path d="M543.7 121.3 A2.5 5.6 0 1 1 540.9 127.6" fill="none" stroke="#6f8a8c" stroke-width="1.1"/>
<ellipse cx="530.9" cy="42.5" rx="2.0" ry="5.3" fill="none" stroke="#6f8a8c" stroke-width="1.1"/>
<path d="M537.3 44.9 A1.5 4.6 0 0 1 536.8 35.8" fill="none" stroke="#26306a" stroke-width="1.1"/>
<ellipse cx="540.3" cy="73.1" rx="2.8" ry="7.2" fill="none" stroke="#b0bebe" stroke-width="1.1"/>
<ellipse cx="523.9" cy="134.1" rx="1.6" ry="2.8" fill="none" stroke="#6e4a36" stroke-width="1.1"/>
<path d="M533.9 82.4 A2.5 6.2 0 0 1 537.4 83.8" fill="none" stroke="#4d6769" stroke-width="1.1"/>
<path d="M541.1 57.7 A2.8 6.4 0 1 1 535.9 59.2" fill="none" stroke="#f2f2f2" stroke-width="1.1"/>
<ellipse cx="535.9" cy="55.0" rx="2.5" ry="5.0" fill="none" stroke="#f2f2f2" stroke-width="1.1"/>
<path d="M529.5 73.5 A3.0 9.0 0 0 1 530.5 61.5" fill="none" stroke="#6f8a8c" stroke-width="1.1"/>
<ellipse cx="523.4" cy="82.1" rx="3.6" ry="7.4" fill="none" stroke="#6f8a8c" stroke-width="1.1"/>
<path d="M529.0 84.3 A1.5 4.8 0 0 1 531.1 77.3" fill="none" stroke="#f2f2f2" stroke-width="1.1"/>
<ellipse cx="534.4" cy="44.4" rx="1.8" ry="4.8" fill="none" stroke="#6e4a36" stroke-width="1.1"/>
<ellipse cx="538.4" cy="71.0" rx="1.6" ry="5.2" fill="none" stroke="#b0bebe" stroke-width="1.1"/>
<ellipse cx="529.1" cy="45.8" rx="1.7" ry="2.8" fill="none" stroke="#5a2448" stroke-width="1.1"/>
<ellipse cx="531.9" cy="123.2" rx="1.9" ry="4.6" fill="none" stroke="#5a2448" stroke-width="1.1"/>
<path d="M543.3 74.8 A1.4 3.6 0 0 1 541.1 78.4" fill="none" stroke="#2a2226" stroke-width="1.1"/>
<ellipse cx="525.9" cy="108.6" rx="3.0" ry="7.5" fill="none" stroke="#6f8a8c" stroke-width="1.1"/>
<ellipse cx="531.8" cy="83.2" rx="2.8" ry="6.5" fill="none" stroke="#b0bebe" stroke-width="1.1"/>
<path d="M530.8 83.1 A1.8 4.3 0 0 1 529.3 76.1" fill="none" stroke="#2a2226" stroke-width="1.1"/>
<ellipse cx="530.9" cy="104.1" rx="1.9" ry="4.7" fill="none" stroke="#4d6769" stroke-width="1.1"/>
<ellipse cx="528.8" cy="85.7" rx="1.5" ry="4.8" fill="none" stroke="#6f8a8c" stroke-width="1.1"/>
<ellipse cx="531.8" cy="102.0" rx="1.7" ry="4.1" fill="none" stroke="#b0bebe" stroke-width="1.1"/>
<ellipse cx="536.7" cy="131.9" rx="2.2" ry="5.1" fill="none" stroke="#6f8a8c" stroke-width="1.1"/>
<ellipse cx="534.5" cy="74.4" rx="2.4" ry="5.2" fill="none" stroke="#26306a" stroke-width="1.1"/>
<ellipse cx="531.3" cy="44.6" rx="1.3" ry="3.4" fill="none" stroke="#f2f2f2" stroke-width="1.1"/>
<path d="M540.6 122.9 A2.0 6.0 0 0 1 539.9 132.7" fill="none" stroke="#b0bebe" stroke-width="1.1"/>
<ellipse cx="539.8" cy="91.8" rx="3.4" ry="6.6" fill="none" stroke="#9a6a48" stroke-width="1.1"/>
<path d="M527.3 86.7 A2.4 5.8 0 1 1 531.2 86.3" fill="none" stroke="#6f8a8c" stroke-width="1.1"/>
<ellipse cx="543.9" cy="139.1" rx="3.6" ry="10.0" fill="none" stroke="#f2f2f2" stroke-width="1.1"/>
<path d="M541.6 50.0 A3.0 5.1 0 0 1 541.2 39.7" fill="none" stroke="#9a6a48" stroke-width="1.1"/>
<ellipse cx="543.3" cy="66.5" rx="2.8" ry="5.6" fill="none" stroke="#2a2226" stroke-width="1.1"/>
<ellipse cx="538.5" cy="74.7" rx="2.0" ry="3.7" fill="none" stroke="#b0bebe" stroke-width="1.1"/>
<path d="M537.2 63.7 A2.4 5.4 0 1 1 538.8 53.8" fill="none" stroke="#6f8a8c" stroke-width="1.1"/>
<path d="M533.4 139.7 A1.5 4.7 0 0 1 530.6 138.4" fill="none" stroke="#9a6a48" stroke-width="1.1"/>
<ellipse cx="542.6" cy="35.8" rx="2.8" ry="8.6" fill="none" stroke="#6e4a36" stroke-width="1.1"/>
<path d="M542.8 145.9 A3.0 7.8 0 1 1 539.0 134.0" fill="none" stroke="#f2f2f2" stroke-width="1.1"/>
<path d="M531.9 104.1 A2.8 5.7 0 0 1 526.3 104.8" fill="none" stroke="#b0bebe" stroke-width="1.1"/>
<ellipse cx="533.4" cy="88.1" rx="2.4" ry="7.5" fill="none" stroke="#9a6a48" stroke-width="1.1"/>
<ellipse cx="525.3" cy="47.6" rx="1.3" ry="2.2" fill="none" stroke="#2a2226" stroke-width="1.1"/>
<path d="M521.3 139.7 A2.5 5.6 0 0 1 525.0 132.7" fill="none" stroke="#6f8a8c" stroke-width="1.1"/>
<path d="M525.2 119.9 A1.8 3.4 0 0 1 527.8 117.4" fill="none" stroke="#6e4a36" stroke-width="1.1"/>
<ellipse cx="537.7" cy="43.9" rx="2.1" ry="5.8" fill="none" stroke="#f2f2f2" stroke-width="1.1"/>
<ellipse cx="528.3" cy="50.7" rx="2.7" ry="7.1" fill="none" stroke="#6f8a8c" stroke-width="1.1"/>
<ellipse cx="532.7" cy="120.6" rx="3.6" ry="6.4" fill="none" stroke="#6e4a36" stroke-width="1.1"/>
<ellipse cx="525.2" cy="50.1" rx="3.4" ry="9.1" fill="none" stroke="#2a2226" stroke-width="1.1"/>
<path d="M538.4 143.9 A1.9 5.6 0 0 1 537.9 134.4" fill="none" stroke="#4d6769" stroke-width="1.1"/>
<ellipse cx="522.4" cy="138.5" rx="1.7" ry="4.7" fill="none" stroke="#f2f2f2" stroke-width="1.1"/>
<path d="M529.4 91.4 A1.5 3.8 0 0 1 527.1 92.6" fill="none" stroke="#2a2226" stroke-width="1.1"/>
<ellipse cx="542.1" cy="126.7" rx="2.2" ry="5.4" fill="none" stroke="#4d6769" stroke-width="1.1"/>
<path d="M536.0 34.9 A2.1 4.4 0 1 1 532.1 33.1" fill="none" stroke="#6e4a36" stroke-width="1.1"/>
<ellipse cx="537.8" cy="118.2" rx="1.9" ry="4.4" fill="none" stroke="#9a6a48" stroke-width="1.1"/>
<ellipse cx="529.7" cy="80.8" rx="2.9" ry="6.1" fill="none" stroke="#6f8a8c" stroke-width="1.1"/>
<path d="M543.6 40.5 A3.5 10.2 0 0 1 544.2 60.8" fill="none" stroke="#6f8a8c" stroke-width="1.1"/>
<ellipse cx="529.2" cy="38.5" rx="3.4" ry="10.8" fill="none" stroke="#b0bebe" stroke-width="1.1"/>
<path d="M537.3 65.6 A3.5 10.3 0 1 1 534.9 46.3" fill="none" stroke="#5a2448" stroke-width="1.1"/>
<line x1="533.0" y1="35.0" x2="534.0" y2="141.0" stroke="#3e5456" stroke-width="1" opacity="0.7"/>
<rect x="524" y="34" width="18" height="108" fill="url(#lighten)"/>
<ellipse cx="529.0" cy="50.2" rx="4.1" ry="7.5" fill="#eceef0" stroke="#2a2440" stroke-width="1.1"/>
<ellipse cx="529.0" cy="50.2" rx="2.4" ry="4.6" fill="none" stroke="#a0407a" stroke-width="1.4"/>
<ellipse cx="529.0" cy="50.2" rx="1.0" ry="1.9" fill="#5a1a4a"/>
<ellipse cx="534.5" cy="65.6" rx="3.9" ry="7.3" fill="#eceef0" stroke="#2a2440" stroke-width="1.1"/>
<ellipse cx="534.5" cy="65.6" rx="2.3" ry="4.5" fill="none" stroke="#a0407a" stroke-width="1.4"/>
<ellipse cx="534.5" cy="65.6" rx="0.9" ry="1.9" fill="#5a1a4a"/>
<ellipse cx="528.6" cy="79.0" rx="3.3" ry="6.1" fill="#eceef0" stroke="#2a2440" stroke-width="1.1"/>
<ellipse cx="528.6" cy="79.0" rx="1.9" ry="3.7" fill="none" stroke="#a0407a" stroke-width="1.4"/>
<ellipse cx="528.6" cy="79.0" rx="0.8" ry="1.6" fill="#5a1a4a"/>
<ellipse cx="537.6" cy="95.2" rx="4.6" ry="7.5" fill="#1c2a9a"/>
<ellipse cx="537.6" cy="95.2" rx="2.9" ry="5.2" fill="#eceef0" stroke="#3a2a50" stroke-width="0.9"/>
<ellipse cx="537.6" cy="95.2" rx="1.7" ry="3.2" fill="none" stroke="#a0407a" stroke-width="1.3"/>
<ellipse cx="537.6" cy="95.2" rx="0.7" ry="1.3" fill="#5a1a4a"/>
<ellipse cx="531.2" cy="109.3" rx="4.9" ry="8.0" fill="#1c2a9a"/>
<ellipse cx="531.2" cy="109.3" rx="3.1" ry="5.6" fill="#eceef0" stroke="#3a2a50" stroke-width="0.9"/>
<ellipse cx="531.2" cy="109.3" rx="1.8" ry="3.4" fill="none" stroke="#a0407a" stroke-width="1.3"/>
<ellipse cx="531.2" cy="109.3" rx="0.7" ry="1.4" fill="#5a1a4a"/>
<ellipse cx="535.3" cy="123.9" rx="4.7" ry="7.6" fill="#1c2a9a"/>
<ellipse cx="535.3" cy="123.9" rx="3.0" ry="5.3" fill="#eceef0" stroke="#3a2a50" stroke-width="0.9"/>
<ellipse cx="535.3" cy="123.9" rx="1.7" ry="3.3" fill="none" stroke="#a0407a" stroke-width="1.3"/>
<ellipse cx="535.3" cy="123.9" rx="0.7" ry="1.3" fill="#5a1a4a"/>
<polyline points="527.0,57.0 531.0,50.0 534.0,44.0 537.0,35.0 540.0,37.0 541.0,45.0 539.0,60.0 537.0,75.0 533.0,100.0 529.0,140.0 525.0,141.0" fill="none" stroke="#9a6a48" stroke-width="1.1" opacity="0.8"/>
</g>
<path d="M483 229 q1.5 5.0 -0.5 10" fill="none" stroke="#5a5050" stroke-width="1.2"/>
<path d="M489 233 q1.5 4.5 -0.5 9" fill="none" stroke="#5a5050" stroke-width="1.2"/>
<path d="M496 233 q1.5 3.0 -0.5 6" fill="none" stroke="#5a5050" stroke-width="1.2"/>
<path d="M500 231 q1.5 2.5 -0.5 5" fill="none" stroke="#5a5050" stroke-width="1.2"/>
<path d="M511 226 q1.5 3.0 -0.5 6" fill="none" stroke="#5a5050" stroke-width="1.2"/>
<path d="M464 226 q1.5 2.5 -0.5 5" fill="none" stroke="#5a5050" stroke-width="1.2"/>
</g>
<g transform="matrix(0.38136 0.09746 -0.22467 0.17621 478.011 82.205)"><g clip-path="url(#hclip)"><g filter="url(#jet)">
<g filter="url(#b3)"><use href="#heat"/></g>
</g></g></g>
<clipPath id="cfront"><polygon points="458,60 510,60 507,98 490,118 471,141 466,165 458,165"/></clipPath>
<use href="#stripsg" clip-path="url(#cfront)"/>
</svg>
</body></html>
